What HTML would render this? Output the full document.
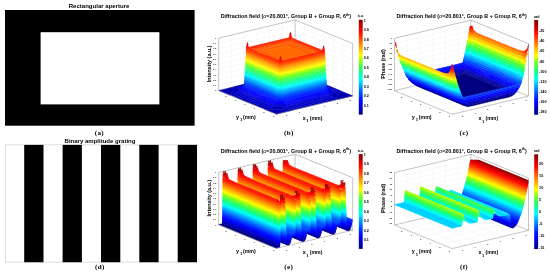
<!DOCTYPE html>
<html><head><meta charset="utf-8"><style>
html,body{margin:0;padding:0;background:#fff;}
body{width:550px;height:276px;position:relative;overflow:hidden;}
</style></head><body>
<svg width="550" height="276" viewBox="0 0 550 276" style="position:absolute;left:0;top:0">
<rect x="5" y="10" width="189.6" height="115.7" fill="#000"/>
<rect x="40.6" y="32.2" width="118.8" height="72.2" fill="#fff"/>
<text x="99.1" y="8.4" font-family="Liberation Sans, Arial, sans-serif" font-weight="bold" font-size="6.04" text-anchor="middle">Rectangular aperture</text>
<text x="99.4" y="134.6" font-family="Liberation Serif, serif" font-weight="bold" font-size="7.1" letter-spacing=".35" text-anchor="middle">(a)</text>
<rect x="5.2" y="144.9" width="191.6" height="117.2" fill="#fff" stroke="#bbb" stroke-width="0.5"/>
<rect x="24.2" y="144.9" width="19.3" height="117.3" fill="#000"/>
<rect x="62.6" y="144.9" width="19.3" height="117.3" fill="#000"/>
<rect x="101" y="144.9" width="19.3" height="117.3" fill="#000"/>
<rect x="139.3" y="144.9" width="19.3" height="117.3" fill="#000"/>
<rect x="177.7" y="144.9" width="19.3" height="117.3" fill="#000"/>
<text x="100" y="142.9" font-family="Liberation Sans, Arial, sans-serif" font-weight="bold" font-size="6.03" text-anchor="middle">Binary amplitude grating</text>
<text x="99.8" y="268.6" font-family="Liberation Serif, serif" font-weight="bold" font-size="7.1" letter-spacing=".35" text-anchor="middle">(d)</text>
<defs><linearGradient id="jetv" x1="0" y1="1" x2="0" y2="0"><stop offset="0" stop-color="#000080"/><stop offset="0.025" stop-color="#000099"/><stop offset="0.05" stop-color="#0000b2"/><stop offset="0.075" stop-color="#0000cc"/><stop offset="0.1" stop-color="#0000e6"/><stop offset="0.125" stop-color="#0000ff"/><stop offset="0.15" stop-color="#000eff"/><stop offset="0.175" stop-color="#0022ff"/><stop offset="0.2" stop-color="#0039ff"/><stop offset="0.225" stop-color="#0051ff"/><stop offset="0.25" stop-color="#006bff"/><stop offset="0.275" stop-color="#0087ff"/><stop offset="0.3" stop-color="#00a3ff"/><stop offset="0.325" stop-color="#00c1ff"/><stop offset="0.35" stop-color="#00e0ff"/><stop offset="0.375" stop-color="#00ffff"/><stop offset="0.4" stop-color="#02ffd7"/><stop offset="0.425" stop-color="#07ffb2"/><stop offset="0.45" stop-color="#12ff90"/><stop offset="0.475" stop-color="#22ff71"/><stop offset="0.5" stop-color="#37ff54"/><stop offset="0.525" stop-color="#53ff3b"/><stop offset="0.55" stop-color="#74ff25"/><stop offset="0.575" stop-color="#9cff13"/><stop offset="0.6" stop-color="#caff06"/><stop offset="0.625" stop-color="#ffff00"/><stop offset="0.65" stop-color="#ffe500"/><stop offset="0.675" stop-color="#ffcc00"/><stop offset="0.7" stop-color="#ffb200"/><stop offset="0.725" stop-color="#ff9900"/><stop offset="0.75" stop-color="#ff8000"/><stop offset="0.775" stop-color="#ff6600"/><stop offset="0.8" stop-color="#ff4c00"/><stop offset="0.825" stop-color="#ff3300"/><stop offset="0.85" stop-color="#ff1900"/><stop offset="0.875" stop-color="#ff0000"/><stop offset="0.9" stop-color="#e50000"/><stop offset="0.925" stop-color="#cc0000"/><stop offset="0.95" stop-color="#b20000"/><stop offset="0.975" stop-color="#990000"/><stop offset="1" stop-color="#800000"/></linearGradient></defs>
<line x1="266.7" y1="110.2" x2="343.1" y2="92" stroke="#ececec" stroke-width="0.3"/>
<line x1="289" y1="111.1" x2="231.4" y2="87.5" stroke="#ececec" stroke-width="0.3"/>
<line x1="231.4" y1="87.5" x2="231.4" y2="35.1" stroke="#ececec" stroke-width="0.3"/>
<line x1="343.1" y1="92" x2="343.1" y2="39.6" stroke="#ececec" stroke-width="0.3"/>
<line x1="257.1" y1="106.2" x2="333.5" y2="88" stroke="#ececec" stroke-width="0.3"/>
<line x1="301.8" y1="108" x2="244.2" y2="84.4" stroke="#ececec" stroke-width="0.3"/>
<line x1="244.2" y1="84.4" x2="244.2" y2="32" stroke="#ececec" stroke-width="0.3"/>
<line x1="333.5" y1="88" x2="333.5" y2="35.6" stroke="#ececec" stroke-width="0.3"/>
<line x1="247.5" y1="102.3" x2="323.9" y2="84.1" stroke="#ececec" stroke-width="0.3"/>
<line x1="314.5" y1="105" x2="256.9" y2="81.4" stroke="#ececec" stroke-width="0.3"/>
<line x1="256.9" y1="81.4" x2="256.9" y2="29" stroke="#ececec" stroke-width="0.3"/>
<line x1="323.9" y1="84.1" x2="323.9" y2="31.7" stroke="#ececec" stroke-width="0.3"/>
<line x1="237.9" y1="98.4" x2="314.3" y2="80.2" stroke="#ececec" stroke-width="0.3"/>
<line x1="327.2" y1="102" x2="269.6" y2="78.4" stroke="#ececec" stroke-width="0.3"/>
<line x1="269.6" y1="78.4" x2="269.6" y2="26" stroke="#ececec" stroke-width="0.3"/>
<line x1="314.3" y1="80.2" x2="314.3" y2="27.8" stroke="#ececec" stroke-width="0.3"/>
<line x1="228.3" y1="94.4" x2="304.7" y2="76.2" stroke="#ececec" stroke-width="0.3"/>
<line x1="340" y1="98.9" x2="282.4" y2="75.3" stroke="#ececec" stroke-width="0.3"/>
<line x1="282.4" y1="75.3" x2="282.4" y2="22.9" stroke="#ececec" stroke-width="0.3"/>
<line x1="304.7" y1="76.2" x2="304.7" y2="23.8" stroke="#ececec" stroke-width="0.3"/>
<line x1="218.7" y1="85.3" x2="295.1" y2="67.1" stroke="#ececec" stroke-width="0.3"/>
<line x1="295.1" y1="67.1" x2="352.7" y2="90.7" stroke="#ececec" stroke-width="0.3"/>
<line x1="218.7" y1="80" x2="295.1" y2="61.8" stroke="#ececec" stroke-width="0.3"/>
<line x1="295.1" y1="61.8" x2="352.7" y2="85.4" stroke="#ececec" stroke-width="0.3"/>
<line x1="218.7" y1="74.8" x2="295.1" y2="56.6" stroke="#ececec" stroke-width="0.3"/>
<line x1="295.1" y1="56.6" x2="352.7" y2="80.2" stroke="#ececec" stroke-width="0.3"/>
<line x1="218.7" y1="69.5" x2="295.1" y2="51.3" stroke="#ececec" stroke-width="0.3"/>
<line x1="295.1" y1="51.3" x2="352.7" y2="74.9" stroke="#ececec" stroke-width="0.3"/>
<line x1="218.7" y1="64.3" x2="295.1" y2="46.1" stroke="#ececec" stroke-width="0.3"/>
<line x1="295.1" y1="46.1" x2="352.7" y2="69.7" stroke="#ececec" stroke-width="0.3"/>
<line x1="218.7" y1="59.1" x2="295.1" y2="40.9" stroke="#ececec" stroke-width="0.3"/>
<line x1="295.1" y1="40.9" x2="352.7" y2="64.5" stroke="#ececec" stroke-width="0.3"/>
<line x1="218.7" y1="53.8" x2="295.1" y2="35.6" stroke="#ececec" stroke-width="0.3"/>
<line x1="295.1" y1="35.6" x2="352.7" y2="59.2" stroke="#ececec" stroke-width="0.3"/>
<line x1="218.7" y1="48.6" x2="295.1" y2="30.4" stroke="#ececec" stroke-width="0.3"/>
<line x1="295.1" y1="30.4" x2="352.7" y2="54" stroke="#ececec" stroke-width="0.3"/>
<line x1="218.7" y1="43.3" x2="295.1" y2="25.1" stroke="#ececec" stroke-width="0.3"/>
<line x1="295.1" y1="25.1" x2="352.7" y2="48.7" stroke="#ececec" stroke-width="0.3"/>
<line x1="295.1" y1="72.3" x2="295.1" y2="19.9" stroke="#888" stroke-width="0.5"/>
<line x1="218.7" y1="90.5" x2="295.1" y2="72.3" stroke="#888" stroke-width="0.5"/>
<line x1="295.1" y1="72.3" x2="352.7" y2="95.9" stroke="#888" stroke-width="0.5"/>
<g stroke-width=".5" fill-rule="evenodd" stroke-linejoin="round">
<path fill="#0000b0" stroke="#0000b0" d="M265.4 109.7l9.2 3.6 1.6 .9 14.6-3.5 -1.9-.9 -2 .5 -1.6-.9 -2.6 .7 -1.6-.9 -1.2 .4 -.8 0 -.8-.3 -1.2 .1 -1-.3 -2.3 .6 -1.6-.8 -2.5 .7 -1.8-.7zM336.4 98.4l2.4 .9 14-3.4 -11.1-4.5 -2.3 .7 1 .3 -.2 .3 -2 .5 1.4 .6 -.3 .3 -1.7 .3 .6 .5 -.6 .9 -.8 .1 1.5 .8 -2 .6 1.6 .8zM234.7 87.8l-2.1-.6 -.9 .4 -.8 0 -2.3 .7 -.8 0 -.9 .4 -8.1 1.9 10.1 4.1 2.5-.8 -.8-.3 .2-.3 2.1-.5 -1.5-.6 .3-.3 1.7-.3 -.6-.5 .9-1 -.8-.2 -.1-.2 1.6-.5 -1.6-.8z"/>
<path fill="#0000b8" stroke="#0000b8" d="M229.1 94.8l4.5 1.5 8.8 3.9 14.3 5.6 3.5 1.6 .5 0 2.1 .9 2.4 1.3 2.7-.8 1.4 .6 2.9-.6 1.6 .8 2.3-.7 1 .4 1.2-.1 .8 .2 .8 0 1.2-.3 1.6 .8 2.4-.6 1.8 .9 2-.5 2 1 3.2-1 2.2-.4 .9-.4 2.2-.3 30.3-7.4 .7 0 2.4-.8 .8 0 3.1-.8 1.6-.3 -2-.9 1.5-.3 -1.5-.7 0-.3 1.9-.4 -1.5-.8 .9-.2 .5-.8 -.7-.5 .3-.2 1.7-.4 -1.3-.6 .2-.3 2-.5 -1-.3 .3-.3 2.1-.5 -15.1-6.2 .2 1.5 6 2.5 .5 0 5 2.2 -2.5 .4 .4 .4 -1.9 .3 -2.5 1.2 -.5 .5 .3 .1 -.4 .4 .2 .1 -.6 .5 .1 .4 2.7 1.7 -.4 .1 1.7 .9 0 .3 -44.5 10.6 -.5 0 -1.7-1.1 -.8 .5 -1.8-1 -.7 .1 -1.3-.5 -1.9-.3 -3.4 .2 -.5-.4 -.9 .2 -1.5-.1 -2.5 .5 -.3-.2 -2.2 .8 -.8-.6 -2.5 1 -5.8-2.5 -18.2-7.2 -1.7-.9 -2.8-1 -4.2-1.9 -1.7-.6 .2-.3 2.2-.6 0-.2 2.6-1 1.9-1.3 .6-.9 -1.5-1.5 -.8-.1 -.2-.2 .4-.3 -1.9-.4 0-.2 7.2-1.8 .4-.2 .3-.9 -5.7 1.3 -.8 .3 -.8 0 -3.7 1.2 1.7 .7 -.2 .3 -1.7 .3 1.7 .8 -1.7 .5 .9 .4 -.9 1 .7 .5 -.3 .2 -1.7 .4 1.5 .6 -2.4 .8 .9 .3 -.3 .3z"/>
<path fill="#0000c0" stroke="#0000c0" d="M269.9 107.4l.5 .4 2.2-.9 .3 .3 2.5-.5 1.5 .1 .9-.2 .5 .3 3.4-.1 1.9 .3 1.3 .5 .7-.2 1.8 1 .5-.3 -1.6-1.3 -.4 .4 -.5 0 -.2-.3 -.9 0 -1.7-.7 -.9 0 -.4-.3 -.6 .2 -.3-.3 -1.1 .1 -.4-.2 -1.3 .4 -.8-.2 -.5 .3 -1.1 0 -.4 .2 -.5-.1 -1.2 .4 -.7 0 -.3-.4zM334.9 98.4l-1.7-.8 0-.3 .5 .1 -2-1.2 1.2 1 0 .2 -4.5 .9 -2.3 .8 -1.3 .1 -23.7 5.6 -12.8 3.3 1.6 1 .5 0zM232.8 94.2l1.6 .5 4.2 1.9 2.8 1 1.7 .8 2.2 .8 21.8 9 2.5-1 -34-13.9 0-.2 .8-.4 -1.3 .5 0 .2zM326.8 86.7l.1 .6 .7 .9 3.1 1.1 5 2.3 -2.3 .1 .3 .4 -1.8 .7 -.2-.1 -.1 .2 -.3-.1 0 .3 -.6 0 -1.4 .7 1.5 1.8 -.1-.4 .6-.5 -.2-.1 .3-.4 -.2-.1 .6-.7 2.5-1.1 1.8-.2 -.4-.4 2.5-.4zM243.6 85.4l-7.4 1.9 2 .5 -.4 .3 .9 .2 .6 .8 .4 .1 .6 .7 -.6 .8 1.4-1.4 -1.9-1.2 .2-.3 -1-.2 .7-.4 3.2-.6z"/>
<path fill="#0000c8" stroke="#0000c8" d="M235.6 93.2l22.3 9 3.8 1.7 7.1 2.8 1 .6 2.3-1.1 .3 .4 .7 0 1.2-.4 .5 .1 .4-.2 1.1 0 .5-.3 .8 .1 1.3-.3 .4 .2 1.1-.1 .3 .2 .6-.1 .4 .3 .9 0 .2 .2 .1-.1 1.4 .6 .9 0 .2 .3 .5 0 .4-.4 1.8 1.4 .7-.4 6.3-1.4 3.3-1 26.4-6.2 1.3-.2 2.3-.7 4.5-.9 -1.3-1.1 -.2 .1 -.5-.6 0 .4 -4.2 .8 -.9 .4 -39.9 9.4 -.2-.4 -.6 .1 -.3-.2 -.2 .1 -4.5-1.2 -1 0 -.3 .2 -.7-.1 -.8 .4 -.1-.3 -1.3 .4 -.5-.1 -.8 .3 -.2-.2 -.6 .2 -.9-.1 -.3 .3 -.7 0 -.5-.4 -19.3-7.8 -14.2-6zM327.7 88.3l1.4 1.4 1.6 .5 2.5 1.2 -.9 .7 -.2-.2 0 .3 -.3-.1 -.1 .2 -.3-.1 0 .2 -.2-.1 -.3 .3 -.5 0 0 .2 -.2-.1 -.1 .2 -.3-.1 -.1 .3 -.3-.2 -.6 .3 .4 .6 1.5-.9 .6 0 0-.2 .3 .1 .1-.2 .2 .1 1.7-.6 -.3-.3 .1-.2 2.2 0zM242.4 86.6l-3.8 1 1 .2 -.3 .3 1.9 1.2 .2-.5 -.6-.2 0-.3 -1-.6 .5-.5 1-.1z"/>
<path fill="#0000d0" stroke="#0000d0" d="M238.1 91.9l14 5.9 14.2 5.6 5.6 2.5 .7 0 .3-.2 .9 .1 .6-.2 .2 .2 .8-.4 .5 .2 1.3-.4 .1 .2 .8-.3 .7 .1 .3-.3 1 0 4.5 1.3 .2-.1 .3 .2 .6-.1 .2 .4 45-10.7 -.6-.7 -.4 0 .3 .2 -1.8 .4 -.8 .4 -5 1 -4.9 1.4 -31.3 7.3 -.5-.2 -.3 .2 -.4-.2 -.3 .1 -.2-.2 -.1 .2 -.3-.4 -.1 .3 -.8-.4 -.1 .3 -.2-.4 -.2 .2 -.6-.3 -.1 .2 -.3-.4 -.1 .3 -.2-.4 -1-.2 -2.2 0 -.8 .3 -.5-.1 -1.3 .4 -1.1-.1 -.9 .3 -.1-.2 -.4 .2 -.4-.2 -.3 .2 -15.8-6.3 -3.6-1.8 -9.4-3.6 -4.1-1.9 -.9-.2 .4-.3zM328.4 92.8l.3 .4 .7-.4 .3 .1 .1-.2 .3 .1 .1-.2 .2 .1 0-.3 .5 0 .3-.2 .2 .1 .4-.4 .3 .2 1-.7 -3.9-1.6 2.6 1.1 .3 .4 -.3 .4 -.2-.1 -.4 .3 -.3-.1 -.3 .4 -.3-.1 -.1 .2 -.3-.1 0 .2 -.2-.1 -.1 .3 -.9 0zM240.1 87.4l-.2 .3 .9 .5 0 .2 .8 .4 .2-.2 -1-.8 .1-.1 -.2 0 .2-.5z"/>
<path fill="#0000d8" stroke="#0000d8" d="M331.9 91.3l-1-.6 .3 .4 -.3 0 0 .2 -.2-.1 -.3 .5 -.6 0 0 .2 -.2-.1 -.5 .4 -.5-.1 -.4 .3 .2 .3 .3-.3 .5 .2 .1-.3 .6 0 0-.2 .7 0 .1-.3 .5 0zM238.9 91.6l.8 .1 4.1 1.9 9.4 3.6 3.6 1.7 15.8 6.4 .3-.2 .4 .2 .4-.2 .1 .2 .9-.4 1.1 .2 .4-.3 1.4 0 .8-.4 2.2 0 1 .3 .2 .4 .1-.3 .3 .4 .1-.3 .6 .4 .2-.2 .2 .3 .1-.2 .8 .4 .1-.3 .3 .4 .1-.3 .9 .4 .2-.2 .6 .2 2.8-.6 .9-.4 27.6-6.4 4.9-1.3 5-1 .3-.3 2.2-.4 -.3-.2 .4-.1 -.5-.5 -.4 0 0 .3 -2.6 .5 -.9 .4 -4 .8 -15.7 3.7 -4.4 1.3 -8.3 2 -2.3 .3 -.9 .4 -.8 0 -3.6 1 -.4-.4 -.5 .4 -.2-.4 -.3 .3 -.2-.4 -.1 .3 -.5 0 -.7-.5 -.2 .2 -1.3-.6 -1.6-.3 -1.6 .2 -.6 .3 -.7-.1 -.3 .4 -.2-.4 -.3 .4 -.2-.3 -.6 .4 -.4-.4 -.8 .4 -.4-.4 -.4 .4 -33.6-13.9 .2-.2zM241.1 87.2l-.3 .5 1.1 .7 .2-.2 -.5-.4 .1-.2z"/>
<path fill="#0000e0" stroke="#0000e0" d="M331.1 90.8l-.2 .1 -.5-.3 .2 .2 -.4 .4 -.3-.1 0 .2 -.2-.1 -.4 .4 -.2-.2 -.4 .4 -.3-.1 -.1 .2 -.4 0 .2 .3 .3 0 .2-.3 .5 .2 .1-.3 .6 0 0-.2 .6 0 .3-.5 .2 .1zM239.8 90.7l.3 .4 19.8 8 1.7 .8 11.7 4.8 .4-.4 .4 .4 .8-.4 .4 .4 .6-.4 .2 .3 .3-.4 .2 .4 .3-.4 .7 .1 .6-.4 1.6-.1 1.6 .3 1.3 .6 .2-.3 .7 .5 .5 0 .1-.2 .2 .4 .3-.3 .2 .4 .5-.4 .4 .4 3.6-1 .8 0 .9-.4 7.6-1.6 7.4-2 15.7-3.8 4-.7 .9-.4 2.6-.5 -.1-.2 .4-.2 -.7-.6 0 .4 -10.2 2.2 -7.5 2 -18.4 4.4 -2.4 .4 -5.5 1.5 -.2-.4 -.8 0 -.1 .3 -.2-.4 -.3 .2 -1.7-.7 -.5 .1 -.9-.4 -1.6 .2 -.3 .2 -.1-.2 -.4 .3 -.1-.2 -.5 0 -.8 .5 -.1-.4 -.4 .4 -.1-.4 -.4 .4 -.1-.3 -.2 .3 -.5-.3 -.4 .3 -11.5-4.9 -14.3-5.6 -1.6-.9 -1.7-.5 -4.2-1.9 -.6-.1 .3-.2 -.7 .7zM241.8 86.9l-.5 .4 .9 .8 .1-.4z"/>
<path fill="#0000e8" stroke="#0000e8" d="M330.6 90.7l-.2 .1 -.5-.4 -.2 .4 -.5-.1 .1 .2 -.4 0 0 .4 -.6-.1 -.4 .4 -.2-.2 .2 .4 .4 0 .1-.2 .3 .1 .4-.4 .2 .1 .4-.3 .2 .1 0-.3 .3 .2zM240.4 90.3l.5 0 4.2 1.9 1.7 .5 1.6 .9 14.3 5.6 11.5 4.9 .4-.3 .5 .3 .2-.3 .1 .3 .4-.4 .1 .4 .4-.4 .1 .4 .8-.5 .5 0 .1 .2 .4-.4 .1 .3 .3-.3 1.6-.1 .9 .4 .5-.1 1.7 .7 .3-.2 .2 .3 .1-.2 .8 0 .2 .4 5.5-1.5 2.4-.4 18.4-4.4 7.5-2 10.2-2.2 -.1-.7 -.4-.1 -.3 .4 -3.2 .6 -.8 .4 -.8 0 -.9 .4 -37.3 8.8 -.5-.2 -.4 .4 -.4-.4 -.2 .4 -.8-.7 -.1 .4 -.3-.4 -.1 .3 -.6-.5 -.8 .1 -.1-.2 -.5 .1 -.7-.3 -.9 .3 -.6-.1 -.8 .3 -.2-.2 -.3 .2 -.2-.2 -.8 .5 -.2-.4 -.4 .4 -.4-.4 -.2 .3 -3.9-1.8 -.9-.1 -2.6-1.3 -10.3-4 -1.6-.8 -6.2-2.4 -5.3-2.4 -1.7-.5 -1-.6 .1-.1zM242.2 86.8l-.3 .1 0 .4 .2-.1 .2 .4 -.1 .1 .2 0 .4-.5 -.1 .1z"/>
<path fill="#0000f0" stroke="#0000f0" d="M329.8 90.3l-.5-.4 .1 .2 -.6 .3 0 .4 -.2-.1 -.2 .2 -.2-.2 0 .2 -.6 .3 .3 .2 .4-.3 .6 .1 0-.4 .9 0zM241.1 89.6l1 .6 1.7 .5 5.3 2.4 6.2 2.3 1.6 .9 10.3 4 2.6 1.3 .9 .1 3.9 1.7 .2-.2 .4 .4 .4-.4 .2 .4 .8-.5 .2 .2 .3-.2 .2 .2 .8-.4 .6 .2 .9-.3 .7 .3 .5-.2 .1 .3 .8-.1 .6 .5 .1-.3 .3 .4 .1-.4 .8 .6 .2-.3 .4 .3 .4-.3 .5 .2 4.8-1.1 .9-.4 31.6-7.4 .9-.3 3.9-.8 1.4-.6 -.4-.6 0 .3 -.4-.1 -4.2 1.1 -.8 0 -4.5 1.3 -28 6.5 -2.4 .7 -.7 0 -2.9 .8 -.4 .4 -.2-.5 -.4 .2 -.2-.4 -.3 .4 -.2-.4 -.2 .4 -.6-.6 -1 .1 -1.1-.4 -1.4 .2 -.2 .2 -.2-.2 -.7 .3 -.3-.2 -.3 .2 -.2-.2 -.3 .4 -.2-.3 -.5 .3 -.7-.5 -7.1-2.8 -3.8-1.7 -6.2-2.4 -1.7-.9 -9.3-3.6 -4.2-1.9 -1-.2 .3-.3zM242.6 86.6l-.2 .3 .3 .3 .2-.4 -.1 .1z"/>
<path fill="#0000f8" stroke="#0000f8" d="M328.2 92.7l-.4-.8 0 .4 -34.1 8 -4.5 1.3 -3.5 .6 -2 .7 -.3-.5 -.2 .5 .1 .3 .4-.3 .2 .5 .4-.3 2.9-.8 .7 0 2.4-.7zM329.3 90.1l-.2-.3 -.4 .5 -.3-.1 -.3 .4 -.5 0 -.2 .3 1-.1 .2-.2 .2 .1 -.1-.3 .4 0 0-.2 .2 .1zM241.6 89.1l.8 .1 4.2 1.9 9.3 3.6 1.7 .9 6.2 2.3 3.8 1.8 7.1 2.7 .7 .5 .4-.2 .3 .2 .3-.3 .2 .2 .3-.2 .3 .2 .7-.4 .2 .3 .2-.3 1.4-.1 1.1 .4 1-.1 .6 .6 .2-.4 .3 .4 -.1-.8 -.2 .4 -.3-.5 -.1 .3 -.3-.4 -.2 .4 -.5-.4 -1.3 0 -.3-.3 -1.5 .4 -.3-.2 -.7 .3 -.3-.2 -.4 .4 -.2-.4 -.4 .4 -.7-.5 -15.2-6 -1.6-.9 -10.2-4 -5-2.3 -1.3-.2zM242.8 86.3l.1 .8 .3-.5z"/>
<path fill="#0000ff" stroke="#0000ff" d="M328.9 89.7l-.3-.1 0 .3 -.3-.2 -.1 .2 -1 .4 .1 .4 1.1-.6 .5 0zM241.9 88.6l1.2 .2 5 2.3 10.2 4 1.6 .8 15.2 6 .7 .5 .4-.3 .2 .3 .4-.3 .3 .2 .7-.4 .3 .3 1.5-.4 .3 .3 1.3 0 .5 .3 .2-.3 .3 .3 .1-.2 .3 .5 .2-.4 .3 .5 .3-.5 .3 .5 2-.7 3.5-.7 .9-.3 31.6-7.4 5.1-1.4 1.1 0 -.3-.9 0 .4 -1.4 .1 -4 1.2 -.8 0 -14.8 3.5 -7.4 2 -14.9 3.3 -.7 .4 -.4-.5 -.5 .5 -.6-.5 -.3 .4 -.1-.3 -.5 0 -.3-.2 -.3 .1 -.3-.2 -2.2 .1 -.2 .2 -.2-.2 .1-.1 -.4 .5 -.2-.4 -.4 .2 -.2-.3 -.4 .5 -1.1-.8 -.9-.1 -5.6-2.5 -6.3-2.4 -1.6-.9 -10.3-4 -2.8-1.3 -1.2-.3 -3.2-1.5 -.9-.2zM243.2 86.1l-.3 .3 .2 .2 .2-.2z"/>
<path fill="#0004ff" stroke="#0004ff" d="M276.7 101.6l.1 .2 .4-.2 .2 .3 .3-.3 .2 .2 .2-.2 2.2-.2 .3 .3 .3-.1 .3 .2 .5 0 .1 .3 .3-.4 .6 .5 .4-.4 -.3-.5 -.4 .5 -.2-.5 -.3 .4 -.3-.4 -1.2 0 -.1-.2 -1.5 0 -1 .3 -.1-.3 -.4 .5 -.2-.5zM327.7 91.8l-.3-.4 .2-.1 -1-.1 -8.2 2.1 -27.3 6.5 -1.3 .1 -2.4 .8 -3.3 .6 -.7 .3 -.1 .3 .3 .3 .7-.4 14.9-3.4 7.4-2 14.8-3.5 .8 0 4-1.1zM328.7 89.6l-.5-.4 -.4 .5 -.2-.1 -.5 .5 .2 .1 .8-.5 .2 .2 -.1-.2 .1-.1 .3 .2zM242.4 87.9l18.3 7.4 1.6 .9 6.3 2.4 5.6 2.5 .9 .1 1.1 .7 .2-.3 -.3-.5 -27.3-11 -5.7-2.5zM243.6 85.6l.1 .1 -.1-.1 -.3 .3 .1 .3z"/>
<path fill="#0009ff" stroke="#0009ff" d="M277.2 100.9l.1 .5 .4-.5 .1 .4 1-.4 1.5 0 .1 .3 1.2 0 .3 .4 .3-.4 .2 .5 .3-.4 -.3-.5 -1.2 .1 -.1-.2 -.2 .2 -.3-.2 .1-.1 -.6 .2 0-.2 -.4 .2 -.4-.2 -1.6 .3 -.3-.3zM327.4 91.2l-.2-.6 -1.6 .1 -2.4 .7 -.8 0 -.8 .4 -2.4 .4 -15.8 3.7 -6.3 1.8 -14 3.2 -.2 .5 .3 .3 .9-.5 3.3-.6 2.4-.8 1.3-.1 27.3-6.5 8.2-2.1zM328.3 89.2l-.5-.4 -.7 .6 -.2 .4 .7-.4 .2 .2 .1-.4 .3 .2 -.1-.2zM242.7 87.6l.4-.2 5.7 2.5 14.3 5.7 1.6 .8 11.4 4.5 .5 .5 .3-.3 -.3-.5 -23.4-9.5 -9-3.9 -1-.3z"/>
<path fill="#000eff" stroke="#000eff" d="M276.7 100.6l.4 .3 .3-.5 .3 .4 1.6-.4 .4 .3 .4-.3 0 .3 .5-.1 .3 .2 .2-.2 .1 .2 1.2-.1 .3 .5 .6-.5 -.2-.5 -.8 .5 -.1-.3 -1 0 -.3-.2 -.2 .2 -.1-.2 -.4 .1 -.8-.2 -.5 .2 -1.2-.1 -.1 .2 -.5-.5zM326.4 89.8l.2 .5 .5 .3 -.2-.7zM327.9 88.8l-.5-.2 -.6 1 1-.9zM243.7 86.3l-.6 .6 .3-.1z"/>
<path fill="#0014ff" stroke="#0014ff" d="M327.3 88.1l-.7 1.7 .2 0 -.1-.4 .2-.5 .7-.5zM243.4 86.3l.4 0 -.4 .6 1.4 .4 8.4 3.6 14.2 5.7 1.7 .8 3.5 1.3 4.1 1.7 .4-.6 .5 .5 .1-.2 1.2 .1 .5-.3 .8 .3 .4-.1 .1 .2 .2-.2 .3 .2 1 0 .1 .3 .8-.5 .3 .6 3.4-.9 10.3-2.2 6.3-1.8 23.2-5.4 -.3-.6 -1.7 .3 -2.5 .7 -.8 0 -.9 .4 -31.6 7.4 -.9 .3 -2.2 .4 -2.9 .9 -.2-.4 -.3 .3 -3.1-.4 -1.8 0 -.2 .2 -4.8-2.1 -22.7-9.1 -5-2.3 -.8-.1 -.3-.2 .1-.2z"/>
<path fill="#001aff" stroke="#001aff" d="M243.7 85.8l.2 .4 .8 .1 5 2.3 6.2 2.3 21.3 8.9 .2-.2 1.8 0 1 .2 1.1-.1 .3 .2 .7 0 .3-.2 .2 .4 2.9-.9 34.7-8.1 .9-.4 .8 0 3.6-1 .9 0 -.2-.3 .8-1.6 -.3 .1 -.2 .9 -.5 .4 -23.4 5.4 -4.4 1.2 -8.2 2 -2.4 .4 -4 1.1 -1.9 .3 -1.8-.5 -1.4 .1 -.1 .2 -1.3-.1 -2.2-1.1 -.5 0 -12.4-5.3 -10.3-4 -3.1-1.5 -1.7-.5 -3.2-1.3z"/>
<path fill="#0021ff" stroke="#0021ff" d="M243.9 85.3l.2 .3 3 1.2 1.7 .5 3.1 1.5 10.3 4 12.4 5.3 .5 0 2.2 1.1 1.3 .1 .1-.2 1.4-.2 1.2 .3 0 .2 2.5-.2 4-1.1 7.6-1.7 7.4-2 23.4-5.3 .4-.3 .5-1.1 -.2-.3 -.6 1.2 -3.9 1 -9.2 2 -7.4 2 -15.7 3.7 -2.4 .4 -.9 .4 -.7 0 -2.4 .7 -2.3 .3 -.8-.3 -.3 .1 -.1-.2 -1 .2 -.3-.1 .2-.1 -.5 .2 -1-.1 -7.3-3.1 -10.2-4 -1.7-.9 -9.3-3.6 -5-2.3z"/>
<path fill="#0027ff" stroke="#0027ff" d="M244.1 84.8l5 2.3 9.3 3.6 1.7 .9 10.2 4 6.3 2.7 1.8 .5 1.8-.2 .1 .2 .3-.1 .8 .2 2.3-.2 2.4-.8 .7 0 .9-.3 2.4-.4 15.7-3.8 7.4-2 9.2-2 3.9-1 .5-.7 0-.6 -.4 .8 -1.3 .5 -2.3 .4 -.9 .4 -2.2 .4 -29.8 7.2 -1.2 .1 -4 1.2 -2.6 .5 -1 0 -.3-.3 -1.4 .1 -.1-.2 -.4 .4 -.1-.3 -1.2 0 -3.9-1.7 -7.5-2.9 -1.6-.9 -14.3-5.6 -4.4-2 -1.3-.4 -.2-.2z"/>
<path fill="#002eff" stroke="#002eff" d="M244.2 84.1l0 .3 .4 .3 1.3 .4 4.4 2 14.3 5.6 1.6 .9 7.5 2.8 3.9 1.8 1.2 0 .1 .2 .4-.3 0 .3 .4-.2 2.4 .2 2.6-.5 4-1.1 1.2-.1 29.8-7.3 2.2-.3 .9-.4 2.3-.4 1.3-.5 .3-.7 -.3 .5 -2.2 .6 -.8 0 -2.3 .7 -.8 0 -1.4 .5 -27 6.3 -9.3 2.4 -2.2 0 -.6-.3 -.4 .3 0-.4 -1 .4z"/>
<path fill="#0036ff" stroke="#0036ff" d="M244.3 83.6l0 .5 .1-.2 3.2 1.5 .8 .2 4 1.8 26 10.5 .3-.2 .2 .2 0-.2 .3 .1 .2-.2 0 .3 .4-.2 .6 .2 2.2 0 9.3-2.3 34.5-8.2 .3-.5 -.1-.5 -.4 .5 .1 .2 -.5 .2 -.5-.1 -2 .6 -.7 0 -6.5 1.8 -33.9 8 -1.4 0 -.2-.3 -.2 .3 -.8 0 -.2-.3 -.1 .3 -.1-.3 -.1 .3 -.8 0 -.1-.3 -.1 .3 -.9-.7 -6.8-2.6 -5.6-2.5z"/>
<path fill="#003dff" stroke="#003dff" d="M244.3 83.3l.4 .3 -.1 .1 1.6 .4 4.4 2 27.3 11.1 .2 .2 .1-.2 .1 .2 .8 0 .1-.2 .1 .2 .1-.2 .2 .2 .8 0 .2-.2 .2 .2 1.4 0 2.7-.6 .9-.4 1.8-.2 28.5-6.8 3.3-1 .8 0 2.4-.7 .7 0 2-.6 .5 .1 .4-.1 -.1-.2 .3-.2 -.2-.1 .4-.4 -.8 .6 -.5-.1 -9.4 2.4 -30.6 7.1 -3.2 1 -.5 0 -.2-.3 -.8 0 -.2 .3 -.2-.3 -.6 .3 -.2-.3 -.3 .3 -.2-.4 -.1 .4 -5.4-2.4 -.8-.1 -7.8-3.4 -2.2-.7 -1.7-.9 -10.2-4 -4.1-1.9 -2-.6z"/>
<path fill="#0045ff" stroke="#0045ff" d="M244.3 82.8l.1 .4 .2-.1 2 .6 4.1 1.9 10.2 4 1.7 .8 2.2 .8 7.8 3.4 .8 .1 5.4 2.4 .1-.4 .3 .2 -.1 .2 .3-.3 .2 .3 .2-.3 .6 .3 .2-.3 1.5 .3 3.2-1 30.6-7.2 9.4-2.3 .5 .1 .4-.4 .4 0 0-.6 -.8 .6 -.2-.1 -.5 .4 -.7 0 -2.3 .7 -4 .8 -10 2.6 -22.4 5.1 -3.4 .9 -.1-.3 -1.3 .3 -.1-.3 -.2 .4 -.4-.4 -.6 .3 -1.7-.1 -13-5.5 -14.2-5.7 -4.4-2 -1.4-.3 -.1-.4z"/>
<path fill="#004dff" stroke="#004dff" d="M244.4 82.2l0 .4 .4 0 .1 .3 1.4 .4 4.4 2 14.2 5.6 13 5.5 1.7 .2 .6-.3 .4 .4 .2-.4 .1 .3 1.3-.3 .1 .3 3.4-.9 22.4-5.1 10-2.7 4-.7 .8-.4 2.2-.4 .5-.3 .6 .1 -.1-.1 .5-.5 0-.3 -.3 0 .1 .1 -.3 .2 .3 .1 -.5 .2 -.1-.2 -.1 .2 -2.5 .4 -2.4 .8 -.7 0 -1.4 .5 -27 6.2 -9.4 2.4 -1 0 -.5-.3 .1 .2 -.2 .1 -.1-.3 -.2 .3 -.3-.4 -.5 .5 -.3-.4 -.1 .4 -.4-.2 -.2 .1 -.2-.3 -.1 .3 -4.7-2.1 -10.9-4.3 -3.6-1.7z"/>
<path fill="#0055ff" stroke="#0055ff" d="M326.6 85.2l-.3-.3 -.2 .4 -.4-.1 -.1 .2 -33.9 7.9 -9.6 2.5 -.3-.2 -.4 .2 -.1-.2 -.5 0 -.2 .2 -.4-.5 0 .5 .2 .3 .2-.3 .1 .3 2.9-.3 8.1-2.1 27-6.3 1.4-.5 .7 0 2.4-.7 2.5-.4 .1-.2 .1 .2 .4-.1 -.4-.1zM244.4 81.6l0 .5 .4 .2 .8 .1 4.1 1.9 9.4 3.6 3.6 1.8 10.9 4.2 4.7 2.2 .1-.3 .2 .3 .2-.2 .4 .3 .1-.4 .3 .4 .2-.4 0-.4 -.2 .3 -.5-.3 -.2 .4 -.1-.4 -.2 .4 -.2-.4 -.1 .3 -4.1-1.9 -3.5-1.2 -1.6-.9 -18.3-7.3 -5.7-2.5 -.3 .2z"/>
<path fill="#005dff" stroke="#005dff" d="M279.8 94.9l-.2 .4 -.3-.2 .1 .5 .3-.2zM326.4 84.8l-.6 .1 -.1-.2 -.1 .4 -3.7 .6 -2.3 .7 -.8 0 -3 .9 -27.9 6.5 -.8 .4 -3.9 .7 -1.3 .5 -.1-.3 -.2 .3 -.4-.3 -.6 .2 -.3-.4 0 .5 .3 .3 .2-.3 .5 0 .1 .3 .4-.3 .3 .3 3.8-1.1 2.3-.4 29.7-7.3 1.3-.1 .9-.4 1.8-.2 3-.9 .8 .1 0-.3 .4 .1 0-.3zM244.6 81.1l.1 .2 -.3 .1 .4 .5 .3-.1 5.7 2.5 18.3 7.3 1.6 .8 3.5 1.3 4.1 1.9 .1-.3 .2 .4 .1-.3 -.3-.5 -.1 .4 -1.1-.7 -1.1-.3 -26.7-11.1 -4.5-1.6z"/>
<path fill="#0065ff" stroke="#0065ff" d="M280.1 94.7l-.3 .6 .4-.1zM280.4 94.6l.2 .6 .6-.3 .4 .4 .1-.6 -.4 .2 -.1-.2 -.5 .1 0-.2zM278.6 94.6l0 .5 .2 .2 .4 0 .1-.4 .3 .3 -.2-.5 -.1 .2 -.4-.3 -.2 .3zM326.4 84.2l-.6 .4 -.1-.3 -.1 .4 -.8-.1 -33.2 7.8 -6.5 1.8 -.8 0 -.9 .4 -1.1 .1 -.4 .2 0 .4 1.3-.5 3.9-.7 .8-.4 27.9-6.5 3-.9 .8 0 2.3-.7 3.7-.7 .1-.3 .1 .2 .6-.1zM244.6 80.6l.1 .8 0-.3 .2 .3 4.5 1.7 26.7 11.1 1.1 .2 1.1 .8 0-.4 -.5-.4 -26.9-10.8 -5-2.3 -1-.1z"/>
<path fill="#006dff" stroke="#006dff" d="M326.4 83.6l-.3 .1 0 .4 -.4-.3 -.1 .4 -.8-.1 -1 .3 -.7 0 -4.5 1.3 -34.3 8 -2.4 .7 -.3-.2 -.2 .4 -.1-.4 -.1 .1 -.4-.2 -.2 .2 -.2-.2 -.1 .2 -.4-.1 -.2 .6 -.3-.7 -.3 .5 .2 .2 .1-.2 .3 .3 .4-.3 .2 .2 .1-.4 .3 .3 .5-.1 .1 .2 .4-.2 .1 .3 .5-.3 2.8-.5 2.3-.8 .8 0 .9-.4 35.7-8.5 .8 .2 .1-.4 .1 .2 .6-.3zM244.6 80.3l0 .6 .1-.2 .2 .4 1 .1 5 2.2 26.9 10.9 .6 .5 .2-.4 .1 .4 .1-.1 -.1-.4 -23.8-9.6 -8.3-3.6 -1.7-.4z"/>
<path fill="#0076ff" stroke="#0076ff" d="M325.9 83.4l-.1 .5 .3 0zM244.6 80.2l.3 .4 1.7 .3 8.3 3.7 20.9 8.3 3.1 1.5 .4-.2 .1-.5 .3 .7 .2-.3 .4 .1 .1-.3 .2 .3 .2-.3 .4 .3 .1-.1 .1 .3 .2-.3 .3 .2 2.4-.7 34.3-8 4.5-1.3 .7 0 1-.4 .8 .2 -.2-.5 -.8 0 -.4 .2 -5 1 -27.1 6.6 -7 1.5 -.9 .4 -1.6 .3 -.9 .5 -.1-.4 -.4 .4 -.1-.4 -.2 .2 -.1-.2 -.4 .2 -.2-.3 -.5 .3 -.3-.2 -.8 .2 -.5-.5 -1.7-.7 -1.1-.3 -4.1-1.8 -10.3-4 -12.2-5.3 -.5 0 -2.8-1.2z"/>
<path fill="#007fff" stroke="#007fff" d="M282.1 93.2l-.4 .2 0 .5 .4-.2zM278.4 93.2l-.1 .4 .5 .2 0-.6 -.1 .4zM280.3 93.1l.1 .7 .4-.2 .1 .2 .2-.2 .1 .3 .2-.2 0-.4 -.1 .3 -.1-.3 -.5 .1 -.1-.2 -.2 .2zM279.8 93.1l-.1 .3 -.1-.2 -.2 .7 .4-.3zM325.3 82.9l0 .5 .4 .3 .2-.4 .2 .3 .2-.2 -.1-.5 .1 .3 -.1 .1 -.4-.2 -.1 .5 -.1-.5zM244.7 79.3l.1 .5 -.2 .1 .6 0 0-.5 -.3 .3z"/>
<path fill="#0087ff" stroke="#0087ff" d="M280.1 92.8l-.2 .6 .3 0zM280.4 92.7l0 .6 .2-.2 .1 .2 .5-.1 .1 .2 .1-.2 .2 .4 .1-.8 -.3 .4 -.1-.4 -.2 .3 -.3-.4 -.1 .4zM279.3 92.7l-.1 .4 -.3-.3 .2 .8 .3 0zM325.2 82.9l-3.4 .7 -2.4 .7 -.7 0 -30.3 7.4 -2.2 .4 -.9 .3 -3.1 .7 0 .5 33.5-7.9 3.5-1 5-1 .4-.3 .6 0zM325.6 82.4l.1 .8 .1-.3 .5 0 0-.5 -.1 .4 -.3-.2 -.2 .1zM245.3 79.4l0 .5 2.9 1.3 .5 0 4.4 2 18.1 7.2 4.1 1.9 .5 0 2.4 1.1 .1-.3 -.7-.5 -.8-.2 -5.6-2.5 -2.3-.7 -5.6-2.5zM244.7 79.1l0 .5 .2 0 0-.4z"/>
<path fill="#0090ff" stroke="#0090ff" d="M279.2 92.4l-.1 .3 -.3-.3 0 .7 .1-.4 .3 .2zM325.4 82.4l-.5-.2 -2 .6 -.7 0 -6.5 1.8 -32.3 7.5 -1.7 .6 -.1-.4 -1 .1 -.2-.2 -.1 .4 -.2-.4 -.3 .2 -.1-.2 0 .5 -.3 0 .2 .4 .5-.4 .2 .2 .1-.3 .3 .3 .1-.3 .3 .3 .2-.2 .1 .4 .3-.4 .1 .5 1.3-.5 2.2-.4 .9-.4 2.2-.3 30.3-7.4 .7 0 2.4-.8 3.6-.6zM326.3 81.6l-.6 .5 0 .5 .5 0zM326.1 81.9l.1 .4 -.3 .1 -.1-.2zM244.7 78.8l.4 .6 .7 0 3.3 1.5 1.1 .3 2.9 1.4 10.2 4 1.6 .8 6.3 2.4 5.6 2.5 .8 .1 1 .8 0-.6 -2.7-1.4 -1.1-.3 -7.5-3.2 -14.2-5.6 -4.9-2.3 -2.8-1 -.3 .1 -.2-.3z"/>
<path fill="#0099ff" stroke="#0099ff" d="M279.6 91.9l-.3 .7 .3 0zM282.1 92.3l-.2-.5 -.3 .4 -.2-.3 -.2 .4 -.1-.2 -.5-.2 0 .4 1-.1 .1 .4zM278.4 91.7l0 .6 .3 .4 .1-.4 .3 .3 -.2-.5 -.1 .1zM325.2 81.6l0 .6 .4 .1 .2-.4 -.1-.2 -.1 .1zM244.7 77.9l.4 .4 0 .5 .2-.1 0-.6 -.2 .2z"/>
<path fill="#00a2ff" stroke="#00a2ff" d="M279.9 91.6l0 .6 .3 0 0-.6zM280.4 91.4l0 .7 .4-.3 .4 .4 .5-.4 -.1-.4 -.3 .5 -.1-.5 -.3 .3 -.3 0zM278.7 91.4l0 .5 .5 .4 .2-.2 0-.7 -.5 .5zM325.1 81.6l-40.5 9.5 -.9 .3 -1.6 .3 0 .5 .2 .1 3.4-.7 2.5-.8 27.5-6.4 3.4-1 .7 0 2.4-.7 .7 0 2.2-.6zM325.4 81.1l.2 .6 .6 .1 0-.2 -.1 .1 -.2-.4 -.2 .3zM245.4 78.1l.2 .7 2.6 .9 4.9 2.2 2.2 .8 23 9.5 0-.6 -2-.8 -5-2.2 -2.2-.8zM245.1 77.8l-.2 .5 -.2-.2 .1 .3z"/>
<path fill="#00acff" stroke="#00acff" d="M279.6 91.8l.3-.4 .4 .3 .1-.4 .2 .3 .5-.2 -.2-.5 -.1 .3 -.4-.3 -.1 .3 -.2-.4 -.3 .4 -.1-.3zM325.4 80.9l-1 0 -.3 .3 -3.9 .7 -.9 .4 -31.6 7.4 -.9 .4 -3.9 .7 -1.3 .5 .1 .4 2-.4 .9-.4 34.7-8.1 .9-.4 .7 0 3.7-1 .8 .2zM326.2 80.6l-.3 .2 -.1-.2 -.2 .6 .1 .2 .1-.2 .4 .1zM244.7 77.8l.2 .1 .2-.2 .1 .4 .6 0 4.3 1.8 1.3 .4 9.7 4.1 16.8 6.8 .7 .5 .1-.4 .2 .5 .2-.1 -.2-.6 -.1 .3 -.5-.5 -11.2-4.5 -21.2-8.8 -.7-.2 -.1 .3 -.2-.3z"/>
<path fill="#00b5ff" stroke="#00b5ff" d="M279.1 90.6l0 .7 .5 .1 -.3-.6 -.1 .3zM326.1 80.2l-.2 .5 0-.3 .3 0zM325.7 80.1l-.1 .3 -.2-.2 -.1 .6 -3.1 .5 -.9 .4 -33.2 7.7 -6.2 1.7 -.2-.2 0-.5 -.4 .5 -.1-.5 -.1 .3 -.2-.3 -.1 .3 -.4 0 -.1-.3 0 .7 .1-.3 .2 .3 .3-.3 .3 .5 0-.2 .2 0 0 .3 .3-.3 .1 .1 1.1-.5 3.9-.8 .9-.3 31.6-7.4 .9-.4 3.9-.7 .3-.3 1 0 .2 .3zM245.3 77.3l33 13.5 .5 .5 0-.7 -.2 .5 -.8-.7 -1.7-.5 -4.8-2.1 -6.2-2.4 -1.7-.8 -10.2-4 -3.1-1.5 -1.2-.3zM245.2 76.7l-.1 .2 -.2-.2 -.1 .7 .1-.1 .2 .3z"/>
<path fill="#00beff" stroke="#00beff" d="M280.4 90.1l0 .5 .4 0 .1-.3 .2 .3 -.2-.5 -.1 .2zM280.1 90.1l-.2 .7 .3 0zM279.3 90.1l-.1 .8 .1-.2 .3 .2 .1-.3zM325.3 80.1l-.7-.2 -2.5 .8 -.8 0 -.9 .4 -38.3 9 -.4 .2 .1 .6 33.8-8 3.5-1 2.2-.3 .9-.4 3.1-.5zM245.3 76.6l-.1 .7 .7 0 3 1.4 1.2 .2 3.1 1.5 10.2 4 1.7 .9 6.2 2.4 4.8 2.1 1.7 .5 .8 .6 .1-.2 -.1-.6 -4.3-1.9 -3.2-1.1 -1.7-.9 -14.2-5.6 -8.4-3.7zM245.1 76.3l-.2-.1 -.1 .2z"/>
<path fill="#00c8ff" stroke="#00c8ff" d="M281.7 89.6l-.3 .2 .2 .6zM279.9 89.6l-.1 .2 -.1-.2 .1 .8zM280.2 89.4l.1 .9 .1-.4 .2 .3 .3-.3 .3 .4 0-.7 -.4 0 -.2 .3zM325.7 79.3l0 .6 .2 .3 .2-.5zM245.2 75.9l0 .5 -.4 .2 .3 .2z"/>
<path fill="#00d1ff" stroke="#00d1ff" d="M279.2 89.2l0 .6 .4 .3zM280.3 88.9l.3 .9 .5-.5 -.2-.1 -.3 .2zM325.2 79.2l-.8-.1 -4 1.1 -.7 0 -1.4 .5 -27 6.2 -3.4 1 -5 1 -1.1 .4 0 .8 38.6-9.2 .9-.3 3.9-.8zM325.8 78.8l.3 .6 0-.6zM245.3 75.7l0 .7 1.5 .4 8.4 3.6 14.2 5.7 1.7 .8 3.2 1.2 4.1 1.8 .3-.1 0-.5 -1.4-.7 -18.1-7.3 -1.6-.9 -6.3-2.3 -4.1-1.9zM245.1 75.6l-.3 .6 .3 0z"/>
<path fill="#00dbff" stroke="#00dbff" d="M280.4 88.7l0 .5 .4 .1 .1-.2 .3 .3 0-.7 -.1 .2 -.3-.2 -.2 .4zM280.1 88.6l-.3 .6 -.2-.1 .1-.2 -.4 0 .1 .8 .4-.5 .1 .2 .3-.1zM278.8 88.6l0 1 .3-.3zM325.7 78.7l0 .5 .2 .1zM245.1 74.8l-.3 .6 .3-.3 .1 .7z"/>
<path fill="#00e5ff" stroke="#00e5ff" d="M280.3 88.2l0 .6 .1-.2 .2 .3 .2-.3 .1 .2 .3-.2 .1 .5 0-.8 -.5 0 -.2 .3zM279.9 88.2l-.2 .2 0 .7zM325.2 78.2l-.5-.1 -8.1 2.1 -34.4 8 -.6 .4 .1 .7 2.7-.9 3.5-.6 3.4-1 27-6.2 1.4-.5 .7 0 4-1.2 .8 .2zM325.8 77.8l-.2 .3 0 .7 .1-.6 .1 .5 .3 0 -.3-.1zM245.3 74.8l0 .8 1.9 .5 4.1 1.8 6.3 2.4 1.6 .9 14.2 5.6 5.3 2.4 0-.9 -.8-.5 -24.6-9.9 -4.6-2.1 -3-1.1z"/>
<path fill="#00efff" stroke="#00efff" d="M280.4 87.8l.2 .6 .5-.2 -.2-.3 -.3 .4zM280.1 87.8l-.2 .9 .2-.3 .1 .2zM279.2 87.8l0 .9 .4 .1 0-.4 -.2 .2 -.2-.3zM245.3 73.9l-.4 .3 .3 .1 0 .6z"/>
<path fill="#00f9ff" stroke="#00f9ff" d="M280.2 87.7l.1 .4 .1-.4 .2 .4 .5-.3 .1 .5 0-1 -.1 .5 -.2-.5 -.3 .4zM279.4 87.2l0 1.2 .5-.3 0-.8 -.1 .6zM325.2 77.3l-.4-.2 -9.4 2.3 -27.5 6.4 -4 1.1 -.7 0 -1.4 .4 -.2 .3 0 .6 .2 .1 3.4-1 4-.7 27.4-6.5 8.1-2.2 .6 .3zM325.7 76.9l-.1 1 .2-.2 .1 .2 .2-.8 -.3 .1zM245.4 73.8l-.1 .9 .4-.1 3 1.1 4.6 2.1 10.3 4 9.6 4.1 4.7 1.8 .9 .7 -.1-1.1 -1-.6 -1.8-.5 -4.3-2 -14.3-5.6 -8-3.5 -.5 0 -3.1-1.4z"/>
<path fill="#00fffa" stroke="#00fffa" d="M279.1 87.1l-.2 .6 .3 0zM281.1 86.8l-.2 .4 -.1-.3 -.5 .4 -.2-.1 0 .5 .2-.3 .3 .2 .2-.4 .3 .1 0 .4zM245.2 73.7l-.3 .4 .3 0z"/>
<path fill="#00ffee" stroke="#00ffee" d="M279.9 86.6l0 .6 .9-.4 .1 .3 .2-.4 .1 .5 0-.8 -.8 .4 -.2-.4zM281.8 86.3l-.4 .4 .2 .7 .2-.2zM278.7 86.3l.1 1.1 .1-.7zM325.9 76.2l-.3 .1 0 .9 .1-.4 .2 .3 -.2-.3zM324.9 76.1l0 1 .4 .2 0-.9zM245.2 72.6l.1 1.2 .3-.2 0-.9 -.3 .4z"/>
<path fill="#01ffe1" stroke="#01ffe1" d="M280.3 85.9l0 .7 .3 .2 0-.2 .6-.3 .1 .5 0-.9 -.4 .3 -.3-.1 -.2 .2zM279.3 85.9l.1 1.2 .4-.4 0-.5zM324.8 76.1l-33.6 7.8 -6.5 1.8 -.8 0 -1.8 .5 -.2 1 42.8-10.1zM245.7 72.7l.1 1 4.1 1.5 7.4 3.2 2.3 .8 19 7.9 0-.9 -1.2-.6 -26-10.5 -5-2.3z"/>
<path fill="#02ffd5" stroke="#02ffd5" d="M280.2 85.7l-.4 0 .1 .7 .3-.1zM281.1 85.6l-.3 .2 -.2-.2 -.2 .6 .2-.3 .3 .2zM281.6 85.4l-.3 .4 .1 .8zM325.9 75.2l-.2 .7 -.1-.5 0 .8 .3-.1zM245.2 71.7l.1 1.2 .1-1.1 -.1 .3z"/>
<path fill="#03ffc9" stroke="#03ffc9" d="M280.3 85.1l0 .7 .3-.4 .2 .3 .1-.4 -.2-.2 -.3 .2zM325.1 75.1l-1.2 0 -1.2 .5 -5.1 1 -7.4 2 -28.1 6.5 -.4 .2 0 1 2.2-.7 .8 0 6.5-1.8 29.1-6.7 .9-.4 .7 0 2.5-.8 .7 .2zM325.9 74.6l-.2 .5 .1-.3 .1 .3zM245.6 71.7l0 .9 .8 .1 16.9 7.1 10.9 4.3 4.5 2.1 .1-1 -.7-.5 -24.7-9.9 -4.6-2.1 -.5 0 -2.5-1.1z"/>
<path fill="#05ffbe" stroke="#05ffbe" d="M280.6 84.6l-.2 .6 .3-.3 .4 .5 0-.7 -.3 .2zM279.7 84.6l-.3 .8 -.1-.7 0 1.1 .3-.4 .6 .2 0-.7 -.3 .4zM325.6 74.7l.1 .7 .1-.5zM325.6 74.9l.1-.1 .1 .3 -.1 .1z"/>
<path fill="#07ffb2" stroke="#07ffb2" d="M280.7 84.2l.1 .6 .3-.5 -.3 .1zM281.8 84.1l-.4 .3 .2 .9 .2-.2zM280.4 84.1l-.5 .2 0 .6 .4 0zM278.7 83.9l0 1 .2 .4 0-1zM325.6 73.8l-.2 .4 .3 .1 0 .4 .1-.8zM324.8 73.8l0 1 .4 .4 0-1zM245.7 70.4l-.3 .4 0 .9 .3-.3z"/>
<path fill="#0affa7" stroke="#0affa7" d="M280.8 83.8l-.2 .6 .1-.3 .4 .1 .1 .6 0-1 -.1 .4zM324.7 73.8l-17.8 4.1 -17.8 4.5 -7 1.5 -.2 1.2 28.3-6.7 7.4-2 5.1-1 2-.6zM245.8 70.4l.1 1.2 2.4 1 .5 0 4.6 2.1 10.3 4 9.6 4.1 3.3 1.1 2 1 0-1.1 -5.3-2 -1.6-.9 -2.3-.7zM245.3 70.3l0 .3 -.2 0 0 .5 .2-.2z"/>
<path fill="#0eff9c" stroke="#0eff9c" d="M279.9 83.4l0 .8 .8-.3 .1-.2 .3 .4 0-.7 -.5 .2 -.2 .2z"/>
<path fill="#11ff92" stroke="#11ff92" d="M281.2 82.8l-.3 .6 -.1-.3 -.4 0 -.1 .3 .8-.1 .1 .4zM279.9 82.8l-.1 .6 -.2 .3 -.2-.1 .2 .5 .2-.2zM325.7 72.7l-.3 1.1 .3-.1zM325.1 72.8l-.9-.1 -2.4 .7 -.7 0 -.9 .4 -1.8 .3 -27.3 6.5 -4.5 1.2 -3.9 .8 -1.1 .5 0 1 35.8-8.8 4-.7 3-.9 .7 .2zM245.6 69.4l0 1 .3-.1 1.5 .8 1.2 .2 8.8 3.9 14.3 5.6 3.5 1.6 .5 0 2.1 .9 1 .6 .1-.2 -.1-.9 -1.2-.6 -26-10.5 -5-2.3z"/>
<path fill="#16ff87" stroke="#16ff87" d="M280.9 82.4l-.1 .5 -.2-.3 -.2 .2 -.3-.1 -.2 .6 .5-.4 .4 0 .1 .4zM279.8 82.4l-.4 .3 .2 .9z"/>
<path fill="#1bff7d" stroke="#1bff7d" d="M279.9 82.1l-.1 .8 .3-.3 .3 .1 .2-.3 .2 .4 .1-.5 .2 .5 .2-.5 .1 .8 .2-.2 0-1 -.4 .5 -.1-.5 -.5 0 -.2 .3 -.2-.3zM325.6 71.9l-.2 1 .3-.3zM245.2 68.1l0 1.3 .1-.6 .3 0 0 .5 .1-1.1 -.3 .5z"/>
<path fill="#20ff74" stroke="#20ff74" d="M279.8 81.6l-.2 .6 -.3-.1 0-.4 .1 .9 .4-.3zM280.6 81.4l-.2 .7 .4-.3zM324.8 71.6l-3.4 .6 -2.3 .7 -.8 0 -30.2 7.4 -2.3 .4 -.9 .4 -2.2 .3 -1 .4 0 1 36.7-8.9 1.8-.2 .9-.4 .7 0 2.4-.7 .7 0zM245.8 68.2l-.1 1 .9 .1 5 2.3 6.2 2.3 21 8.8 0-1 -.6-.4 -26.6-10.7 -4.4-2z"/>
<path fill="#26ff6a" stroke="#26ff6a" d="M280.1 81.2l-.2 .7 .4 0 .1-.6zM280.9 81.1l-.2 .3 .2 .2 0 .3z"/>
<path fill="#2dff61" stroke="#2dff61" d="M281.6 80.6l-.3 .3 .1 .9 .3-.2zM281.1 80.6l0 .2 -.5 .4 -.2-.5 .2 .6 .3-.4 .2 .5zM324.8 70.3l0 1.1 .3 .2 0-1z"/>
<path fill="#34ff58" stroke="#34ff58" d="M279.8 80.4l.1 .8 .4-.1 0-.5zM280.6 80.4l0 .4 .3 0 .2-.4 .1 .7 0-.9zM324.7 70.3l-.9 0 -11.1 2.9 -31 7.2 .1 1.2 19.8-4.9 23.1-5.4zM325.4 70.1l.2 1.1 .1-.4 -.3-.1 0-.4 .3 0zM245.8 66.9l0 1 3.8 1.4 .1 .3 .7 .1 3.2 1.5 2.2 .7 23 9.5 0-1.1 -.9-.5 -1.1-.2 -5-2.3 -14.2-5.6 -7.4-3.3 -.9-.1 -3-1.4z"/>
<path fill="#3bff50" stroke="#3bff50" d="M279.9 79.8l-.1 .8 -.4-.2 0-.6 .2 1.1 .2-.1zM280.3 79.7l.1 .9 .3-.7 -.3 .2z"/>
<path fill="#44ff48" stroke="#44ff48" d="M280.8 79.3l-.4 .6 .3-.1 .1 .4 .1-.5 .2 .5 0-.9zM281.8 79.2l-.5 .4 .1 1 .5-.4zM279.6 79.2l0 1.2 .2-.1 0-.7zM278.8 79.1l-.1 1.1 .4 .4 0-1.3zM325.6 69.2l-.3 .1 0 .8 .3-.2zM323.6 69.2l-40.5 9.6 -.2 1.3 29.8-7 6.4-1.8 3.3-.6 1.2-.4zM324.4 68.9l.2 1.2 .3 .2 0-1.1zM246.8 65.9l0 1.2 2.5 1.1 .9 .1 7.4 3.3 14.2 5.6 4.4 2 1.7 .5 0-1.1 -1.1-.3 -5-2.2zM245.9 65.6l-.2 .2 0 1 .2-.1 .2-.5z"/>
<path fill="#4dff40" stroke="#4dff40" d="M282.8 78.9l-.9 .2 .2 1.1 .7-.1zM279.8 78.9l.1 .8 .2-.3 .3 .3 .4-.5 0-.3 -.4 .3 -.1-.3 -.4 .3zM278.1 78.7l0 1.1 .5 .3 .1-1.2zM324.4 69.1l-.7 .1 0 1.1 .7-.2zM246.2 65.7l-.1 1.1 .6 .3 0-1.3z"/>
<path fill="#56ff38" stroke="#56ff38" d="M280.9 78.4l-.1 .4 -.1-.2 -.3 .1 0 .4 .4-.3 .1 .5zM279.9 78.3l-.1 1.1 .3-.6zM325.3 68.3l.1 .9 .2-.4 -.3 0zM245.3 65.3l.3 .8 0-.5z"/>
<path fill="#60ff31" stroke="#60ff31" d="M279.4 78.1l.3 1.2 .1-1.2 -.2 .6zM281.1 77.9l-.3 .3 -.2-.1 -.2 .3 -.3-.2 0 .5 .2 .1 .3-.4 .2 .3 .1-.4 .2 .5zM324.9 67.9l-.3-.2 -.9 .1 -2.4 .8 -.7 0 -.9 .3 -2.4 .4 -15.7 3.8 -6.4 1.7 -13.4 3 -.4 .3 0 1.2 .5-.4 .7 0 2.3-.7 .8 0 .9-.4 2.3-.4 21-5 7.4-2 2.4-.3 4.7-1.3 .5 .3zM245.8 64.4l-.1 1.3 .2-.3 3.2 1.4 1.7 .5 2.9 1.4 6.2 2.4 1.7 .8 10.2 4 5 2.3 1.1 .2 1.2 .8 0-1.1 -.8-.7 -2-.6 -12.4-5.2 -10.2-4 -3.1-1.5 -.8-.2 -.1-.2 -.9-.1 -2.7-1.3z"/>
<path fill="#6bff2b" stroke="#6bff2b" d="M280.8 77.6l-.5 .3 .1 .4 .2-.4 .2 .2z"/>
<path fill="#76ff24" stroke="#76ff24" d="M280.9 77.3l-.1 .1 -.2-.3 -.2 .5 -.3-.2 0 .7 .6-.7 .2 .2 0 .3z"/>
<path fill="#82ff1e" stroke="#82ff1e" d="M279.4 77.9l.2-.2 .3 0 .2-.4 .3 .1 .2-.5 .2 .4 .1-.5 -.2 .3 -.1-.3 -.5 0 -.4 .6 -.3-.2 0-.5zM325.4 66.6l-.2 .1 0 .7 .2-.2zM324.8 66.6l-.6-.2 -3.3 .8 -.8 .4 -29.2 6.7 -3.3 1 -.8 0 -2.4 .8 -.7 0 -2.1 .6 -.3 .2 .1 1 3.5-1 10.3-2.2 6.4-1.8 15.7-3.7 2.4-.4 .9-.4 .7 0 2.4-.7 .9-.1 .3 .2zM245.8 63.3l0 1 .3-.1 2.7 1.2 .9 .2 .1 .2 .8 .1 3.1 1.5 10.2 4 12.4 5.3 1.1 .2 1.7 1 0-1.2 -1-.6 -3.9-1.4 -2.3-1.1 -14.2-5.7 -9.5-4.1 -.5 0 -1.5-.7z"/>
<path fill="#8fff19" stroke="#8fff19" d="M280.4 76.3l0 .5 .2-.1 .1 .2 .2-.2 .2 .6 0-1 -.2 .4 -.1-.4 -.2 .4zM279.7 76.2l0 1.1 .2-.5zM325.3 65.9l-.2 .3 0 .7 0-.6z"/>
<path fill="#9cff14" stroke="#9cff14" d="M280.1 75.9l-.2 .8 .4 0 .1-.5 .2 .4 .1-.4 .2 .4 -.1-.7 -.1 .3zM325.4 65.7l-.2 .9 .2-.2zM245.8 62.2l0 .7 -.4 0 .3 .5z"/>
<path fill="#aaff0f" stroke="#aaff0f" d="M280.1 75.3l-.3 1.3 .3-1 .3 .5 .4-.3 .3 .4 0-.8 -.5 .4 -.3-.5zM324.7 65.3l-3.4 .6 -.9 .4 -2.2 .4 -30.3 7.4 -.7 0 -2.4 .7 -2.9 .5 -.5 .3 0 1.1 2.3-.8 .7 0 2.4-.7 .8 0 3.3-1 29.2-6.8 .8-.3 3.3-.8 .6 .1zM245.9 61.9l0 1 3.5 1.3 8.3 3.6 14.2 5.6 1.7 .9 3.6 1.3 1.9 1 0-1.2 -27.3-11.1 -5-2.2z"/>
<path fill="#b8ff0b" stroke="#b8ff0b" d="M280.4 75.1l.2 .6 .5-.4 .1 .5 0-.9 -.1 .3 -.2-.3 -.1 .3 -.1-.3 -.1 .3zM279.6 74.9l0 1 .2 .2zM325.4 64.9l-.1 .8 -.1-.8 0 .9 .2-.2z"/>
<path fill="#c7ff07" stroke="#c7ff07" d="M280.9 74.6l-.5 .3 -.1-.3 -.2 0 -.2 .6 -.1-.4 0 .8 .6-.7 .2 .2 .1-.3 .1 .3zM281.6 74.4l-.4 .4 .1 .9 .3-.3zM324.6 64.2l0 1 .2 .1 0-.9zM246.1 60.8l-.3 .9 -.1-.8 .1 1.2 .3-.3z"/>
<path fill="#d7ff04" stroke="#d7ff04" d="M281.1 74.1l-.2 .3 -.5-.1 0 .5 .5-.4 .2 .7zM324.4 64.2l-28.2 6.6 -7.4 2 -7.1 1.5 0 1 33.5-7.9 3-.8 2.2-.4 .9-.4 3.1-.6zM246.2 60.8l0 1 32.7 13.4 0-.9 -.5-.4 -2-.6 -4.5-2 -2.2-.7 -1.6-.9 -2.3-.8z"/>
<path fill="#e7ff02" stroke="#e7ff02" d="M280.9 73.8l-.1 .1 -.1-.2 -.1 .2 -.2-.3 0 .2 -.3 .1 -.2-.3 -.1 .7 -.2-.6 0 1.1 .8-.6 .5 .1zM325.1 63.4l.1 .8 .1-.6 -.1 .1z"/>
<path fill="#f8ff00" stroke="#f8ff00" d="M280.1 73.2l0 .6 .2 0 .1-.4 .2 .4 .1-.2 .1 .2 .1-.5 -.3 .3zM324.7 63.3l-.8-.1 -5.1 1.4 -.7 0 -3 .8 -27.9 6.5 -.9 .4 -4.5 .9 -.5 .4 .1 .7 35.8-8.6 4-.8 2.9-.8 .6 .1zM246.1 59.8l-.2 1 .3-.1 2.7 1.2 .9 .2 4 1.8 14.3 5.7 1.6 .8 2.2 .8 4.5 2 1.2 .2 1.1 .5 .5 .5 0-1 -.4-.3 -19-7.7 -12.6-5.3z"/>
<path fill="#fffa00" stroke="#fffa00" d="M279.4 72.9l.2 .7 .1-.4zM280.4 72.8l.3 .6 .1-.6 -.1 .3zM324.8 62.4l.1 1.2 .2-.3 .1 .1 -.1-.6 0 .4 -.3 0z"/>
<path fill="#fff200" stroke="#fff200" d="M279.6 72.3l0 .8 .2 .2 .1-.2 .4 0 .1-.4 .2 .2 .2-.2 .1 .5 0-.9 -.1 .4 -.1-.3 -.1 .3 -.3-.1 -.4 .5 -.2-.2zM324.9 62.1l0 .3 .2-.2 .1 .9 0-.8zM324.7 62.3l-.6-.2 -.3 .2 -2.2 .4 -2.4 .7 -.8 0 -3.3 1 -27.5 6.4 -2.5 .8 -3.5 .6 -.4 .4 .1 .8 .5-.3 4.5-.9 .9-.4 27.9-6.5 3-.9 .7 0 5.1-1.3 .8 .1zM245.9 59.1l0 .7 .5-.1 13.4 5.6 19 7.6 .5 .7 0-1 -.4-.5 -27-10.9 -5.7-2.5z"/>
<path fill="#ffea00" stroke="#ffea00" d="M281.1 71.9l-.2 .3 -.2-.4 -.1 .3 -.4-.2 -.3 .4 -.2-.2 .1 .8 .5-.5 .3 .2 .1-.3 .1 .3 .1-.4 .2 .6z"/>
<path fill="#ffe200" stroke="#ffe200" d="M280.4 71.6l-.1 .3 .4-.2 .2 .4 -.1-.5 -.2 .2zM281.3 71.4l-.2 .4 .1 .6zM246.1 57.8l0 .6 -.3 0 0-.3 -.1 .7 .1-.2 .1 .3z"/>
<path fill="#ffda00" stroke="#ffda00" d="M324.4 61.1l-35.7 8.6 -1.3 .1 -2.3 .8 -.8 0 -.9 .3 -1.8 .3 -.4 .2 -.1-.3 -.5 0 -.2 .2 -.3 0 -.2-.2 -.2 .6 -.1-.4 0 .8 .2 0 .1-.4 .2 .2 .2-.1 .1-.4 .2 .3 .2-.3 .1 .5 .4-.6 .1 .9 33.7-7.9 6.5-1.7 .7 0 .9-.4 .6 0 .3-.3 .5 .2zM246.2 57.7l0 .9 33 13.6 .1-.9 -.2-.2 -7.3-2.8 -5.6-2.5 -2.3-.7z"/>
<path fill="#ffd200" stroke="#ffd200" d="M280.8 70.7l-.2-.1 -.2 .2 -.3 0 0 .4 .3 0 .2-.3 .2 .2zM279.9 70.6l-.2 .3 0 .7zM325.1 60.3l-.3 .9 -.1-.8 -.1 .7 .2 .3 .4-.3z"/>
<path fill="#ffca00" stroke="#ffca00" d="M280.6 70.2l-.4 .5 .4-.3 .3 .3 0 .4 0-.8 -.1 .3zM324.6 60.2l-.5-.1 -.7 .3 -4.2 .9 -.9 .4 -1.2 .1 -29.8 7.3 -2.2 .3 -.9 .4 -2.9 .5 0 .9 43.3-10.3zM246.2 56.8l-.1 .9 .3-.1 3.3 1.5 1.1 .2 3.1 1.5 14.3 5.6 1.6 .9 2.3 .8 4.5 2 1.1 .2 1.6 .9 0-.9 -.2-.2 -1.2-.3 -1.7-.9 -.5 0 -3.5-1.6 -14.3-5.6 -8.2-3.6 -1.8-.5 -1.5-.9z"/>
<path fill="#ffc200" stroke="#ffc200" d="M281.1 69.7l-.2 .4 -.1-.3 -.4 .4 -.1-.3 -.5 .4 -.2-.2 -.2 .3 .3 .4 .9-.7 .2 .3 .1-.2 .2 .5zM324.7 59.6l.1 1.1 .3-.5 -.2-.4 0 .5 -.2 0z"/>
<path fill="#ffba00" stroke="#ffba00" d="M279.7 69.6l0 .6 .6-.4 .1 .3 .3-.4 .2 .2 0-.5 -.3 0 -.2 .3 -.3 0 -.2-.3zM324.6 59.3l-.4-.2 -2.4 .8 -31.1 7.3 -4.5 1.2 -.8 0 -3.2 .9 -.5-.1 -.5 .2 0 .8 3-.5 6.6-1.8 26.3-6.2 1.2-.1 .9-.4 4.2-.9 .7-.4 .5 .2zM325.1 58.9l0 .3 -.3 0 0 .6 .1-.4 .2 .5zM245.9 56.2l.2 .6 .3-.2 1.5 .8 1.8 .5 8.2 3.7 14.3 5.6 3.5 1.6 .5 0 3.1 1.4 .1-.1 -.2-.9 -.8-.1 -14.5-5.9 -1.6-.9 -10.2-4 -5.5-2.5 -.4 0 -.1 .6z"/>
<path fill="#ffb200" stroke="#ffb200" d="M280.1 68.9l0 .7 .3 0 .2-.3 .3 0 .2 .3 0-.7 -.7 .3z"/>
<path fill="#ffaa00" stroke="#ffaa00" d="M280.8 68.6l-.1-.2 -.5 .5 -.1-.3 .3 .5zM279.8 68.4l-.1 1 .2-.1zM324.6 58.3l-.7-.1 -.7 .5 -1.4 .4 -.7 0 -.9 .3 -34.8 8.2 -.8 .3 -.8 0 -.9 .4 -1.5 0 -.3 .5 .1 .5 .5-.2 .5 .1 1.2-.3 .9-.3 1.9-.3 .9-.4 27.8-6.5 3-.8 3.9-.8 2.4-.9 .4 .3zM246.2 55.1l0 .6 .4 0 1.6 .9 29.6 12.1 1.4 .4 .2 .3 0-.8 -.2-.4 -.8 0 -3-1.4 -3.5-1.2 -5.6-2.5 -14.2-5.7 -5.7-2.6z"/>
<path fill="#ffa200" stroke="#ffa200" d="M279.9 67.9l0 1 .2-.5 .1 .4 .5-.5 .2 .6 0-.8 -.1 .3 -.2-.3 -.3 .3zM324.9 57.8l-.2 .1 0 .7 .1-.5 .1 .6z"/>
<path fill="#ff9a00" stroke="#ff9a00" d="M281.4 67.4l-.3 .3 0 .7 .3-.2zM279.3 67.4l.1 1 .7-.5 .2 .4 .1-.4 .4 .4 0-.6 -.4-.1 -.2 .2 -.1-.2 0 .3 -.4 .2zM324.3 57.3l0 .8 .3 .1 0-.6zM324.1 57.3l-.8 .5 -11.6 2.6 -25.1 6 -.8 .4 -2.4 .4 -.8 .4 -.9-.2 0 .8 1.2 0 .9-.4 .8 0 .8-.4 34.8-8.1 .9-.4 .7 0 2.3-.8zM246.1 54.2l.1 .7 .2-.6 .2 .5 5.5 2.5 14.2 5.6 12.1 5.2 .7 0 0-.8 -.3 .1 -.9-.2 -5.6-2.5 -14.2-5.6 -1.7-.9 -8.3-3.3 -1.5-1z"/>
<path fill="#ff9200" stroke="#ff9200" d="M279.8 67.1l-.1 .8 .4-.5 .1 .3 .2-.3 .4 .2 .1 .3 0-.7 -.8 .2z"/>
<path fill="#ff8a00" stroke="#ff8a00" d="M324.3 56.4l0 .8 .3 .2 .1-.2 .1 .1 0-.7 -.2 .2zM324.1 56.4l-.9 .7 -34.1 8 -6.3 1.6 -1.2-.1 -.2 .5 -.1-.5 -.4 .5 -.2-.4 -.3 .2 -.5 0 0 .3 .5 .1 .5-.2 .2 .5 .2-.3 1.3 .1 .8-.3 2.4-.4 .8-.4 25.1-6 9.2-2 2.7-.7 .5-.4zM246.3 53.2l-.1 .9 .4-.3 1.5 1 24.2 9.8 5.6 2.5 .9 .2 .4-.1 .4 .5 .1-.6 -.3-.5 -.1 .5 -.1-.5 -2.1-.5 -16.7-7 -6.2-2.4 -2.9-1.4 -4-1.5 -.7-.7z"/>
<path fill="#ff8200" stroke="#ff8200" d="M279.7 66.9l.4 0 .1-.2 .2 .1 .3-.5 -.5 0 -.4 .4 -.1-.4zM323.1 56.3l-14 3.3 -10 2.6 -16.5 3.7 -.2 .7 40.7-9.7zM324.7 55.9l-.1 .8 0-.4 .2-.1zM247.3 53.1l0 .6 4 1.5 2.9 1.4 6.2 2.3 16.7 7 .5 0 .6 .4 .4-.2 0-.3 -6.5-2.5 -5.7-2.5z"/>
<path fill="#ff7900" stroke="#ff7900" d="M281.1 65.9l0 .8 .2-.3 1 .2 0-.5 -.6-.3zM279.8 66.2l0 .4 .4-.4 .5 0 .1 .4 0-.8 -.2 .3 -.4-.3 -.1 .4zM278.7 65.8l-.1 .6 .8 0 .2 .4 0-.9 -.3-.2zM324.8 55.6l-.4 .2 -.3-.2 -.9 .6 0 .7 .7-.6 .5 .1 0-.5 .3-.2 .1 .4zM246.2 52.3l.1 .8 .3-.2 .6 .7 0-.7 -.5-.6z"/>
<path fill="#ff7100" stroke="#ff7100" d="M280.9 65.3l-.1 .4 -.2-.4 -.5 .1 -.3 .5 -.1-.5 0 .8 .2 0 .3-.5 .4 .2 .2-.2 .1 .5zM323.7 55.2l-.9 .6 -2.2 .4 -.9 .4 -29.1 6.7 -7.8 2 -1-.1 0 .6 .6 .1 1.3-.2 .9-.4 17.1-3.9 7.4-2 13.7-3.1 .9-.5zM246.9 51.8l0 .6 .4 .5 4.9 2.2 14.2 5.6 11.9 5 .8 0 0-.5 -1.7-.4 -5-2.2 -14.2-5.7 -7.4-3.2 -1.1-.3 -2.3-1z"/>
<path fill="#ff6900" stroke="#ff6900" d="M280.1 65.1l-.3 .1 0 .6zM281.1 65.1l0 .6 .6 0 0-.5 -.4-.3zM280.3 64.9l.5 .7 0-.5zM279.3 64.9l-.1 .7 .4 .2 0-.7zM323.4 54.9l-.6 .4 -1.1 .1 -.9 .4 -17.1 3.9 -7.4 2 -13.9 3.2 -.3-.1 0 .4 2-.3 6.5-1.7 32.2-7.5 .6-.4zM323.9 54.8l-.2 .3 .1 .5 .5-.2 .1 .3 .4-.4 -.2-.1 .1-.4 -.3 .8 -.1-.7zM247.1 51.8l.3 .5 2.9 1.3 .5 0 7.4 3.2 14.2 5.6 5 2.3 1.3 .4 .2-.3 -31-12.6 -.7-.6zM246.6 51.4l-.4 .8 .5 0 .1 .2 0-.7zM306.3 53.9l-19.5-8 -23.6 5.7 16.5 6.7 .4-1.7 .5-.4 .3 .6 .4 2.3 1.4 .6z"/>
<path fill="#ff6100" stroke="#ff6100" d="M281.1 64.6l-.3 .3 -.1-.3 -.3 .2 -.1-.4 -.4 .5 -.2-.2 0 .6 .2-.4 .4 .4 0-.5 .5 .1 .1 .3zM323.8 54.4l-1 .8 -1.1 .1 -.9 .4 -19.7 4.5 -4.4 1.2 -8.3 2 -2.3 .4 -.9 .4 -.8 0 -.8 .4 -1.7 .2 -.3-.2 0 .3 .3 .3 .2-.5 .3 .1 13.9-3.2 7.4-2 17.1-3.9 .9-.4 1.1-.1 .6-.4 .2 .4zM324.7 54.3l-.3 .3 0 .5 .2-.3 .1 .1zM324.4 54.6l.2-.2 .1 .3 -.1 .1zM247.4 51.8l24.8 10.3 2.9 1 3 1.3 .8 .2 0 .5 .3-.2 0-.3 -1.1-.2zM246.8 51.2l.1 .5 .3-.3 .1 .2zM246.4 50.9l-.2 .4 .1 .4zM315.1 53.2l-16.4-6.6 -8.9-3.9 -34.7 8.2 24.1 10 .5-1.8 -.1-.8 -16.5-6.7 .2-.3 23.5-5.5 19.6 8.1 -.2 .3 -18.4 4.2 -4.9 1.4 -1.6-.6 .3 1.1 .5 .8z"/>
<path fill="#ff5900" stroke="#ff5900" d="M324.7 54.2l-.3-.4 -.1 .4 -.6 0 -.1-.4 -.9 .8 -32.3 7.5 -8.2 2.1 -.5-.3 0 .5 -.8 0 -.1-.3 -.5 .1 .1 .5 .3-.3 .1 .4 .3-.4 .1 .5 .2 0 .2-.5 .3 .3 1.7-.3 .8-.3 .8 0 .9-.4 7.6-1.6 7.4-2 21.7-5 1-.8 .1 .4 .4 .1 .1-.4 .2 .3 -.2-.3zM324.3 54.3l.1-.2 .3 .1 -.3 .2zM246.3 50.7l.1 .7 .3 0 .1-.3 1.1 .8 30.2 12.4 1.1 .1 .4 .5 .1-.3 .1 .2 .4-.2 -.1-.4 -.3 0 -.1 .4 -.3-.3 -.2 .1 0-.5 -.8 0 -9.8-4.2 -14.3-5.6 -1.6-.9 -1.8-.5 -3.5-1.5 -.3-.6 -.2 .3zM316.9 52.7l-26.8-11 -36.8 8.6 1.6 .6 4.5-1.2 30.4-7.1 2.9 1.3 16.2 6.5 6.3 2.8z"/>
<path fill="#ff5100" stroke="#ff5100" d="M324.7 53.8l-.3 .4 -.1-.8 0 .5 -.2 .2 -.2-.7 -1.3 .8 -1.4 .4 -.8 0 -.8 .3 -29.2 6.8 -7.7 2 -.8-.1 -.1 .3 -.4-.3 -.1 .6 -.2-.1 0-.5 -.7 .3 -.1-.3 -.2 .5 .2 .2 0-.4 .5 0 .1 .4 .8 0 0-.5 .5 .3 8.2-2.2 30.8-7.1 .9-.4 .6 0 .9-.7 .1 .4 .6 0 .1 .2zM246.3 50.1l0 .5 .6 .2 .2-.4 .6 .8 20.9 8.4 10.2 4.3 .4-.1 0 .5 .2-.1 .3 .2 0-.7 -.1 .6 -.3-.2 0-.5 -.2 .2 -.4-.4 -1.1-.2 -26.7-11.1 -1.1-.3 -2-.9 -.6-.6 -.3 .1 -.1-.2 -.1 .6zM318.1 52.4l-21.7-8.7 -3.1-1.5 -1.7-.5 -1.4-.6 -.3-.4 -26.6 6.2 -7.4 2 -4 .8 1.3 .6 1.2-.2 .9-.4 34.8-8.1 8.1 3.2 1.6 .9 14.3 5.6 3.1 1.4z"/>
<path fill="#ff4900" stroke="#ff4900" d="M324.6 53.2l-1.3 0 -1.4 .7 -.7 0 -2.4 .8 -.7 0 -3.4 1 -27.5 6.4 -4.9 1.2 -.4-.1 -.2 .5 .1 .1 .1-.4 .8 .2 7.7-2 29.2-6.8 .8-.4 .8 0 1.4-.3 1.3-.8 .3 .6 .1-.6 .3 .5zM246.3 49.9l.3 0 .1 .8 0-.5 .5 0 .6 .6 2 .9 1.1 .2 11.4 4.9 10.3 4 5 2.3 1.1 .2 .4 .4 .2-.3 .3 .8 .1-.6 .2 .5 .3-.8 .2 .1 0 .4 .7-.4 .2 .7 .1-.7 -.5 .2 -.5-.4 -.6 .1 -.1 .3 -.6-.2 0-.5 -.9 0 -9.9-4 -5.6-2.5 -15.1-6.1 -.3-.4 -.1 .3 -.1-.3zM319.6 52.1l-24.5-9.9 -4.8-2.1 -26.2 6.1 -12.9 3.2 .6 .3 11.5-2.9 26.6-6.2 .3 .3 1.4 .7 1.7 .5 3.1 1.5 10.3 4 11.5 4.8z"/>
<path fill="#ff4100" stroke="#ff4100" d="M324.6 52.4l-.2 .5 -.2-.2 -.5 .2 -.4-.2 -.6 .6 -1.1 .1 -.9 .4 -5.5 1.1 -5.9 1.7 -21 5 -2.4 .3 -.8 .4 -.8 0 -.9 .4 -1.2 .1 -.4-.2 -.2 .6 -.4-.4 -.3 .3 -.2-.3 -.5 0 -.3 .4 .5-.1 .5 .3 .5-.1 .2 .3 .3-.5 .4 .1 4.9-1.3 27.5-6.3 3.4-1 .7 0 2.4-.8 .7 0 1.4-.7 1.1 .1zM246.4 49.3l0 .8 .2-.3 .5 0 .1 .3 .1-.3 .3 .4 4.8 2.1 10.3 4 15.5 6.5 .9 0 0 .5 .6 .1 -.1-.6 -.3 .3 -.2-.4 -.5 0 -6.3-2.5 -1.6-.9 -23.1-9.4 -.3-.5 -.1 .3 -.1-.3 -.2 .4 -.1-.4zM320.8 51.8l-19.4-7.7 -10.7-4.7 -.5 .5 -.4-.5 -8.1 2.2 -27.5 6.3 -2.5 .8 -1.8 .2 1 .4 13.2-3.2 26.2-6.2 4.8 2.2 2.2 .7 22.4 9.3z"/>
<path fill="#ff3900" stroke="#ff3900" d="M279.8 63.2l.4-.5 .5 0 .2 .2 0-.6 -.1 .3 -.1-.3 -.1 .3 -.2-.3 -.3 .3 -.2-.3zM323.8 52.2l-.5 .4 -.1-.3 -.6 .4 -8.5 1.9 -7.4 2 -20.1 4.7 -.8 0 -2.4 .8 -1.2 .1 -.1 .4 -.3-.3 -.2 .4 -.2-.3 .2 .7 .2-.7 .4 .3 1.2-.1 .9-.4 .8 0 .8-.4 2.4-.4 21-5 5.9-1.6 7.5-1.6 .6-.6 .4 .2zM246.8 49.2l.1 .5 .2-.4 .1 .3 .1-.3 .3 .5 23.1 9.4 1.6 .9 6.3 2.5 .5 0 .2 .3 .1-.1 -.1-.6 -.2 .1 -.2-.2 -26.3-10.7 -4.8-2.1 -.2 .1 -.4-.5zM279.1 62.3l.2-.1 .1 .2 -.1 .2zM290.1 39.3l.1 .5 .4-.5 4.8 2.1 2.3 .8 3.7 1.7 6.3 2.4 9.6 4.1 1.5 .4 2.1 1 .5-.1 -2.3-1.1 -7.5-2.9 -1.7-.9 -14.2-5.6 -4.9-2.3 -.2 .4 -.3-.2zM289.8 39.2l-.1-.3 -1.8 .7 -.7 0 -2.4 .7 -1.2 .1 -34.3 8.3 1.1 .1 3.8-1 27.5-6.4 3.4-1 2.2-.3 2.4-.7z"/>
<path fill="#ff3100" stroke="#ff3100" d="M279.6 62.2l.1 .6 .1-.5zM280.2 61.9l-.1 .5 .1-.2 .4 .2 .1-.2 .1 .2 0-.5zM324.4 51.8l-.6 .3 -.4-.4 -.5 .6 -.2-.2 -2.9 .8 -.7 0 -.9 .4 -31.6 7.4 -.9 .4 -3.5 .6 -.1 .5 -.3-.3 -.1 .3 -.3-.1 .2-.2 -.3 .4 -.2-.1 0 .5 .2 .1 .1-.5 .2 .3 .2-.4 .3 .2 .1-.3 1.2-.2 2.4-.7 .8 0 20.1-4.8 7.4-2 8.5-1.8 .6-.4 .1 .2 .3-.3 .2 0 .1 .5 .3 0zM246.7 48.7l-.1 .6 .6-.5 .4 .5 .2-.1 20.6 8.6 10.5 4.1 0 .4 .2-.1 .2 .2 -.2-.2 .3-.4 -.3 .3 -.2-.5 -2-.7 -4.1-1.8 -10.2-4 -12.3-5.3 -.5 0 -2-1 -.2 .1 -.4-.5 -.1 .4zM322.1 51.4l-.4-.3 -2.4-1 -1.5-.4 -1.7-.9 -2.3-.7 -3.6-1.8 -14.3-5.6 -4.3-2 -.3 .1 -.2-.2 -.3 .2 -.2-.5 -.3 .6 -.2-.6 -.4 .5 -.1-.2 -1 .1 -2.4 .7 -.8 0 -1.3 .5 -35.2 8.3 .2 .4 1.6-.3 6.5-1.7 26.4-6.3 1.2-.1 2.4-.8 .7 0 1.8-.6 .2 .5 .4-.4 .3 .3 .2-.4 4.9 2.3 14.2 5.6 5.7 2.5 5.6 2.2z"/>
<path fill="#ff2900" stroke="#ff2900" d="M324.4 51.3l-.2 .3 -.3-.3 -.2 .4 -.1-.4 -.3 .3 -.1-.3 -.4 .6 -.6-.2 -2.5 .7 -.8 0 -.8 .4 -35.7 8.4 -.1 .2 -.2-.1 -.2 .3 -.2-.3 0 .5 -.1-.2 -.3 .2 -.4-.2 -.1 .2 -.2-.4 -.5 0 -.3 .3 -.2-.1 -.2 .6 .5 0 .3-.4 .6 0 .1 .4 .4 0 .1-.3 .3 .2 .1-.3 .3 .3 .1-.5 3.5-.7 .9-.3 31.6-7.4 .9-.4 .7 0 2.9-.9 .2 .3 .5-.6 .2 .2 .6 .1zM246.6 47.9l0 .8 .5 0 .1-.4 .4 .5 .2-.1 1.4 .7 1.1 .3 12.3 5.2 10.2 4 4.1 1.9 2 .6 .2 .5 .1-.2 .1 .1 0-.4 -.5-.3 -16-6.5 -1.4-.7 0-.2 -.2 .1 -.1-.2 -.3 .1 0-.3 -.2 .2 -3.2-1.3 0-.2 -.2 .1 -.1-.3 -.3 .2 0-.3 -.2 .1 -8.2-3.3 -.7 0 -.5-.7 -.3 .4zM322.3 51.1l0-.4 -18.1-7.3 -12.4-5.2 -.2 .1 -.3-.2 -.2 .3 -.4-.7 0 .4 -.3 0 -.1-.7 -.7 1 -.3-.5 -1.9 .7 -3.3 .6 -30.3 7.4 -2.2 .3 -.9 .4 -.8 0 -1 .5 -.1-.1 -.2 .4 .3 .3 0-.3 4.8-1 3.4-1 27-6.3 1.3-.5 .8 0 2.4-.7 1-.2 .1 .3 .4-.5 .2 .6 .3-.6 .2 .5 .3-.3 .2 .3 .3-.1 4.3 2 14.3 5.6 3.6 1.7 2.3 .8 1.7 .9 1.5 .3 2.4 1 .4 .4z"/>
<path fill="#ff2100" stroke="#ff2100" d="M280.2 61.2l0 .2 .4-.1 .2 .4 .1-.6 -.1 .1 -.1-.3 -.1 .4zM265.2 55.3l13.6 5.6 .6 .5 0 .3 .2-.3 -.3-.5 -.1 .2zM320.4 52.1l-38.2 9.1 -.5-.4 -.1 .4 -.4-.1 .1 .6 .1-.3 .3 .3 .1-.4 .1 .1 .2-.2 .2 .1 .1-.2 3.2-.7 .8-.3zM323.1 51.1l-.4 .5 -.4-.4 .1 .1 -.5 .4 -1.2 .2 1.5-.3 .6 .2zM324.2 50.9l.1 .8 -.1-.4 .2-.2zM323.9 50.8l-.2 .3 -.3-.3 -.2 .8 .2-.4 .3 .4zM289.2 37.7l-.6 .4 -35.3 8.2 -4 1.1 -.9 .2 .3 .2 -.8 .5 -.3-.7 -.2 .3 -.1-.3 -.1 .2 -.6-.2 0 .2 .1-.1 .2 .5 .3-.4 .5 .6 .7 0 8.5 3.5 -8.1-3.3 -.5-.4 .5-.6 .1 .1 1-.5 .8 0 .9-.4 2.2-.4 30.3-7.3 3.3-.7 1.8-.5zM290.8 37.3l.3 1 .2-.4 .3 .3 .2-.1 30.6 12.6 -.1 .1 .1-.2 -25.8-10.5 -4.9-2.3 -.5 .1 -.3-.8zM289.8 37.1l-.4 .8 .2 .4z"/>
<path fill="#ff1900" stroke="#ff1900" d="M281.1 61.4l-.3-.8 -.2 .2 -.7 0 .2 .5 .1-.2 .4 .1 .1-.4 .4 .3zM279.4 60.6l-.1 .2 .4 .6zM281.4 60.4l-.1 .7 .3 0 -.3-.3zM322.3 51.3l.1-.1 .3 .2 .2-.5 .3 .3 .2-.5 .3 .2 .2-.2 .2 .5 0-.3 .2 0 -.1-.5 -.1 .3 -.3-.4 -.4 .3 -.1-.4 -.2 .7 -.3-.7 -.2 .1 .1 .1zM246.9 47.1l-.2 .8 .6-.5 .1 .4 .2-.4 .3 .8 .5 0 -.1-.3 .3-.1 -.3-.2 .3-.3 -.3 .3 -.1-.2 .1-.5 -.1 .3 -.4-.3 -.2 .5 -.3-.5 -.1 .5zM291.1 36.7l-.2 .2 .3 .9 .5-.1 -.4-1zM290.6 36.6l-.3 .5 -.1-.4 -.1 1.1 .2-.6 .3 .1 0 .4 .1-.1zM289.6 36.6l-.5 1 .2 .2 .4-.7z"/>
<path fill="#ff1100" stroke="#ff1100" d="M281.6 60.8l0-.2 -.2 .2 -.1-.1 .1-.6 -.2 .5 -.4-.4 -.4 .2 -1 0 .4 .5 .3-.3 .5 .1 .2-.3 .1 .4zM323.3 49.8l-.1 .5 .1-.4 .1 .5 .4-.2 .1 .4 .3-.3 .1 .4 -.1-.6 -.4 .1zM247.4 46.6l-.3 .2 0 .5 .2-.5 .3 .5zM290.6 36.1l-.3 .8 .3-.5 .2 .8z"/>
<path fill="#ff0900" stroke="#ff0900" d="M281.4 59.9l-.6 0 -.4-.2 -.1 .4 -.1-.3 -.6 .1 0 .4 .8 0 .4-.2 .4 .3zM323.2 49.2l-.1 1.2 0-.3 .5-.3 .2 .3 .5 0 -.4-.5 -.6 .1zM323.2 49.8l.1-.1 .1 .2 -.1 .2zM247.6 45.9l-.4 .7 -.1-.4 -.2 .2 -.2-.2 0 .7 .7-.5 .3 .7zM290.1 35.7l-.3 1 .1 .4 0-.7 .5 0 0-.3 -.2 0z"/>
<path fill="#ff0100" stroke="#ff0100" d="M279.7 59.4l0 .4 .5-.1 .1 .2 .1-.3 .8 .3 -.1-.1 .2-.1 0-.4 -1.1 0 -.1 .3 -.2-.3zM323.3 49.2l0 .4 .6-.2 .3 .3 0-.5zM323.1 48.7l-.4 1.5 .2-.1zM246.7 46.4l.4-.3 .1 .3 .4-.6 .1 .8 .5 .5 0-1 -.3 0 -.1-.7 -.6 .7 -.3-.3zM290.2 35.6l0 .3 .4 0 0-.3zM291.1 35.2l-.3 .1 .1 1.4 .4-.1 0-.9zM289.9 35.2l-.3 .9 .1 .5z"/>
<path fill="#f80000" stroke="#f80000" d="M279.7 59.3l.2-.1 .2 .2 .1-.2 1 0 -.3-.4 -.2 .3 -.6 0 -.2-.3zM323.2 48.7l0 .4 .4-.2 .1 .3 .2-.3 .3 .4 0-.5 -.3-.2 -.5 .3zM246.9 45.3l-.1 .5 .1-.1 .3 .2 .4-.5 -.5 .2zM290.1 35.6l.6-.2 .1-.3 -.2 .2 -.4-.2z"/>
<path fill="#f00000" stroke="#f00000" d="M280.3 58.3l-.2 .6 .6 0 .1-.5 -.1 .2zM322.9 48.3l0 .4 .3-.1 .2 .2 .5-.5 .2 .4 -.2-.5 -.3 .2 -.2-.2 -.1 .2zM247.1 44.9l0 .5 .7-.1 .1 .3 .2-.4zM289.8 34.9l.4 .3 .6-.3 .4 .2 -.4-.4 -.5 .1 -.1-.2z"/>
<path fill="#e80000" stroke="#e80000" d="M279.8 58.4l.1 .3 .4-.5 .3 0 .3 .5 .2-.5 -.8-.1 -.1 .2 -.1-.2zM323.1 47.8l.1 .5 .2-.2 .2 .2 .2-.2 .3 .1 -.2-.4 -.1 .3 -.1-.3zM246.9 44.7l0 .5 .2-.4 .8 .3 -.1-.5 -.1 .2 -.1-.2zM289.9 34.2l-.1 .6 .4-.4 .1 .3 .5-.1 .3 .2 0-.4z"/>
<path fill="#e00000" stroke="#e00000" d="M279.9 57.8l.3 .4 .1-.3 .8 .2 -.3-.5 -.7 0zM323.1 47.4l.2 .4 .8 0 -.3-.5zM246.9 44.6l1 0 -.5-.5 -.3 0zM289.9 33.9l.3 .3 .9 .1 -.3-.5 -.5 0 -.1 .3 -.1-.3z"/>
<path fill="#d80000" stroke="#d80000" d="M280.1 57.3l.1 .3 .6-.2 .1 .3 0-.4zM323.2 46.9l0 .4 .6-.1 .1 .2 0-.5zM247.1 43.7l.1 .4 .2-.2 .4 .4 0-.6 -.1 .2 -.1-.2zM289.9 33.8l1 0 0-.4 -.7-.1z"/>
<path fill="#d00000" stroke="#d00000" d="M280.2 56.7l-.1 .5 .7 0 -.1-.5zM323.2 46.8l.6 .1 0-.3 -.2-.2zM247.2 43.2l-.1 .4 .5 0 .1 .2 0-.4zM290.8 33.1l-.6 0 -.1 .3 .1-.2 .5 0 .1 .2z"/>
<path fill="#c80000" stroke="#c80000" d="M280.7 56.4l-.3-.1 -.2 .3zM323.4 46.1l-.1 .5 .3-.3 .2 .1 -.1-.3zM247.3 42.8l-.1 .3 .5 .2 -.1-.5zM290.2 32.8l.6 .1 -.1-.3 -.4 0z"/>
</g>
<line x1="218.7" y1="90.5" x2="218.7" y2="38.1" stroke="#888" stroke-width="0.5"/>
<line x1="218.7" y1="38.1" x2="295.1" y2="19.9" stroke="#888" stroke-width="0.5"/>
<line x1="295.1" y1="19.9" x2="352.7" y2="43.5" stroke="#888" stroke-width="0.5"/>
<line x1="352.7" y1="95.9" x2="352.7" y2="43.5" stroke="#888" stroke-width="0.5"/>
<line x1="218.7" y1="90.5" x2="276.3" y2="114.1" stroke="#888" stroke-width="0.5"/>
<line x1="276.3" y1="114.1" x2="352.7" y2="95.9" stroke="#888" stroke-width="0.5"/>
<text x="220.7" y="18.2" font-family="Liberation Sans, Arial, sans-serif" font-weight="bold" font-size="5.37">Diffraction field (<tspan font-style="italic" font-weight="normal">α</tspan>=20.801°, Group B + Group R, 6<tspan dy="-2.3" font-size="3.4">th</tspan><tspan dy="2.3">)</tspan></text>
<rect x="358.8" y="19.8" width="3.9" height="94.8" fill="url(#jetv)"/>
<text x="360.9" y="17.3" font-family="Liberation Sans, Arial, sans-serif" font-weight="bold" font-size="3.6" text-anchor="middle">a.u.</text>
<text x="363.7" y="106.8" font-family="Liberation Sans, Arial, sans-serif" font-weight="bold" font-size="3.7">0.1</text>
<text x="363.7" y="97.3" font-family="Liberation Sans, Arial, sans-serif" font-weight="bold" font-size="3.7">0.2</text>
<text x="363.7" y="87.9" font-family="Liberation Sans, Arial, sans-serif" font-weight="bold" font-size="3.7">0.3</text>
<text x="363.7" y="78.4" font-family="Liberation Sans, Arial, sans-serif" font-weight="bold" font-size="3.7">0.4</text>
<text x="363.7" y="68.9" font-family="Liberation Sans, Arial, sans-serif" font-weight="bold" font-size="3.7">0.5</text>
<text x="363.7" y="59.4" font-family="Liberation Sans, Arial, sans-serif" font-weight="bold" font-size="3.7">0.6</text>
<text x="363.7" y="49.9" font-family="Liberation Sans, Arial, sans-serif" font-weight="bold" font-size="3.7">0.7</text>
<text x="363.7" y="40.5" font-family="Liberation Sans, Arial, sans-serif" font-weight="bold" font-size="3.7">0.8</text>
<text x="363.7" y="31" font-family="Liberation Sans, Arial, sans-serif" font-weight="bold" font-size="3.7">0.9</text>
<text x="363.7" y="21.5" font-family="Liberation Sans, Arial, sans-serif" font-weight="bold" font-size="3.7">1</text>
<text transform="translate(210.9 63.8) rotate(-90)" font-family="Liberation Sans, Arial, sans-serif" font-weight="bold" font-size="5.42" text-anchor="middle">Intensity (a.u.)</text>
<text x="216.4" y="91.3" font-family="Liberation Sans, Arial, sans-serif" font-size="2.4" font-weight="bold" fill="#333" text-anchor="end">0</text>
<text x="216.4" y="86.1" font-family="Liberation Sans, Arial, sans-serif" font-size="2.4" font-weight="bold" fill="#333" text-anchor="end">0.1</text>
<text x="216.4" y="80.8" font-family="Liberation Sans, Arial, sans-serif" font-size="2.4" font-weight="bold" fill="#333" text-anchor="end">0.2</text>
<text x="216.4" y="75.6" font-family="Liberation Sans, Arial, sans-serif" font-size="2.4" font-weight="bold" fill="#333" text-anchor="end">0.3</text>
<text x="216.4" y="70.3" font-family="Liberation Sans, Arial, sans-serif" font-size="2.4" font-weight="bold" fill="#333" text-anchor="end">0.4</text>
<text x="216.4" y="65.1" font-family="Liberation Sans, Arial, sans-serif" font-size="2.4" font-weight="bold" fill="#333" text-anchor="end">0.5</text>
<text x="216.4" y="59.9" font-family="Liberation Sans, Arial, sans-serif" font-size="2.4" font-weight="bold" fill="#333" text-anchor="end">0.6</text>
<text x="216.4" y="54.6" font-family="Liberation Sans, Arial, sans-serif" font-size="2.4" font-weight="bold" fill="#333" text-anchor="end">0.7</text>
<text x="216.4" y="49.4" font-family="Liberation Sans, Arial, sans-serif" font-size="2.4" font-weight="bold" fill="#333" text-anchor="end">0.8</text>
<text x="216.4" y="44.1" font-family="Liberation Sans, Arial, sans-serif" font-size="2.4" font-weight="bold" fill="#333" text-anchor="end">0.9</text>
<text x="216.4" y="38.9" font-family="Liberation Sans, Arial, sans-serif" font-size="2.4" font-weight="bold" fill="#333" text-anchor="end">1</text>
<text x="225.6" y="97.3" font-family="Liberation Sans, Arial, sans-serif" font-size="2.4" font-weight="bold" fill="#333" text-anchor="middle">-2</text>
<text x="235.2" y="101.3" font-family="Liberation Sans, Arial, sans-serif" font-size="2.4" font-weight="bold" fill="#333" text-anchor="middle">-1</text>
<text x="244.8" y="105.2" font-family="Liberation Sans, Arial, sans-serif" font-size="2.4" font-weight="bold" fill="#333" text-anchor="middle">0</text>
<text x="254.4" y="109.1" font-family="Liberation Sans, Arial, sans-serif" font-size="2.4" font-weight="bold" fill="#333" text-anchor="middle">1</text>
<text x="264" y="113.1" font-family="Liberation Sans, Arial, sans-serif" font-size="2.4" font-weight="bold" fill="#333" text-anchor="middle">2</text>
<text x="273.6" y="117" font-family="Liberation Sans, Arial, sans-serif" font-size="2.4" font-weight="bold" fill="#333" text-anchor="middle">3</text>
<text x="286.4" y="116.3" font-family="Liberation Sans, Arial, sans-serif" font-size="2.4" font-weight="bold" fill="#333" text-anchor="middle">-2</text>
<text x="299.1" y="113.3" font-family="Liberation Sans, Arial, sans-serif" font-size="2.4" font-weight="bold" fill="#333" text-anchor="middle">-1</text>
<text x="311.9" y="110.2" font-family="Liberation Sans, Arial, sans-serif" font-size="2.4" font-weight="bold" fill="#333" text-anchor="middle">0</text>
<text x="324.6" y="107.2" font-family="Liberation Sans, Arial, sans-serif" font-size="2.4" font-weight="bold" fill="#333" text-anchor="middle">1</text>
<text x="337.3" y="104.2" font-family="Liberation Sans, Arial, sans-serif" font-size="2.4" font-weight="bold" fill="#333" text-anchor="middle">2</text>
<text x="350.1" y="101.1" font-family="Liberation Sans, Arial, sans-serif" font-size="2.4" font-weight="bold" fill="#333" text-anchor="middle">3</text>
<text x="236" y="118.7" font-family="Liberation Sans, Arial, sans-serif" font-weight="bold" font-size="5.4">y</text>
<text x="239.9" y="121" font-family="Liberation Sans, Arial, sans-serif" font-weight="bold" font-size="4.2">1</text>
<text x="242.9" y="118.7" font-family="Liberation Sans, Arial, sans-serif" font-weight="bold" font-size="5.3">(mm)</text>
<text x="302.8" y="119.6" font-family="Liberation Sans, Arial, sans-serif" font-weight="bold" font-size="5.4">x</text>
<text x="306.2" y="122.4" font-family="Liberation Sans, Arial, sans-serif" font-weight="bold" font-size="4.2">1</text>
<text x="309.7" y="119.8" font-family="Liberation Sans, Arial, sans-serif" font-weight="bold" font-size="5.2">(mm)</text>
<text x="288.8" y="134.6" font-family="Liberation Serif, serif" font-weight="bold" font-size="7.1" letter-spacing=".35" text-anchor="middle">(b)</text>
<line x1="442.5" y1="110.4" x2="518.9" y2="92.2" stroke="#ececec" stroke-width="0.3"/>
<line x1="464.8" y1="111.3" x2="407.2" y2="87.7" stroke="#ececec" stroke-width="0.3"/>
<line x1="407.2" y1="87.7" x2="407.2" y2="35.3" stroke="#ececec" stroke-width="0.3"/>
<line x1="518.9" y1="92.2" x2="518.9" y2="39.8" stroke="#ececec" stroke-width="0.3"/>
<line x1="432.9" y1="106.4" x2="509.3" y2="88.2" stroke="#ececec" stroke-width="0.3"/>
<line x1="477.6" y1="108.2" x2="420" y2="84.6" stroke="#ececec" stroke-width="0.3"/>
<line x1="420" y1="84.6" x2="420" y2="32.2" stroke="#ececec" stroke-width="0.3"/>
<line x1="509.3" y1="88.2" x2="509.3" y2="35.8" stroke="#ececec" stroke-width="0.3"/>
<line x1="423.3" y1="102.5" x2="499.7" y2="84.3" stroke="#ececec" stroke-width="0.3"/>
<line x1="490.3" y1="105.2" x2="432.7" y2="81.6" stroke="#ececec" stroke-width="0.3"/>
<line x1="432.7" y1="81.6" x2="432.7" y2="29.2" stroke="#ececec" stroke-width="0.3"/>
<line x1="499.7" y1="84.3" x2="499.7" y2="31.9" stroke="#ececec" stroke-width="0.3"/>
<line x1="413.7" y1="98.6" x2="490.1" y2="80.4" stroke="#ececec" stroke-width="0.3"/>
<line x1="503" y1="102.2" x2="445.4" y2="78.6" stroke="#ececec" stroke-width="0.3"/>
<line x1="445.4" y1="78.6" x2="445.4" y2="26.2" stroke="#ececec" stroke-width="0.3"/>
<line x1="490.1" y1="80.4" x2="490.1" y2="28" stroke="#ececec" stroke-width="0.3"/>
<line x1="404.1" y1="94.6" x2="480.5" y2="76.4" stroke="#ececec" stroke-width="0.3"/>
<line x1="515.8" y1="99.1" x2="458.2" y2="75.5" stroke="#ececec" stroke-width="0.3"/>
<line x1="458.2" y1="75.5" x2="458.2" y2="23.1" stroke="#ececec" stroke-width="0.3"/>
<line x1="480.5" y1="76.4" x2="480.5" y2="24" stroke="#ececec" stroke-width="0.3"/>
<line x1="394.5" y1="85.5" x2="470.9" y2="67.3" stroke="#ececec" stroke-width="0.3"/>
<line x1="470.9" y1="67.3" x2="528.5" y2="90.9" stroke="#ececec" stroke-width="0.3"/>
<line x1="394.5" y1="80.2" x2="470.9" y2="62" stroke="#ececec" stroke-width="0.3"/>
<line x1="470.9" y1="62" x2="528.5" y2="85.6" stroke="#ececec" stroke-width="0.3"/>
<line x1="394.5" y1="75" x2="470.9" y2="56.8" stroke="#ececec" stroke-width="0.3"/>
<line x1="470.9" y1="56.8" x2="528.5" y2="80.4" stroke="#ececec" stroke-width="0.3"/>
<line x1="394.5" y1="69.7" x2="470.9" y2="51.5" stroke="#ececec" stroke-width="0.3"/>
<line x1="470.9" y1="51.5" x2="528.5" y2="75.1" stroke="#ececec" stroke-width="0.3"/>
<line x1="394.5" y1="64.5" x2="470.9" y2="46.3" stroke="#ececec" stroke-width="0.3"/>
<line x1="470.9" y1="46.3" x2="528.5" y2="69.9" stroke="#ececec" stroke-width="0.3"/>
<line x1="394.5" y1="59.3" x2="470.9" y2="41.1" stroke="#ececec" stroke-width="0.3"/>
<line x1="470.9" y1="41.1" x2="528.5" y2="64.7" stroke="#ececec" stroke-width="0.3"/>
<line x1="394.5" y1="54" x2="470.9" y2="35.8" stroke="#ececec" stroke-width="0.3"/>
<line x1="470.9" y1="35.8" x2="528.5" y2="59.4" stroke="#ececec" stroke-width="0.3"/>
<line x1="394.5" y1="48.8" x2="470.9" y2="30.6" stroke="#ececec" stroke-width="0.3"/>
<line x1="470.9" y1="30.6" x2="528.5" y2="54.2" stroke="#ececec" stroke-width="0.3"/>
<line x1="394.5" y1="43.5" x2="470.9" y2="25.3" stroke="#ececec" stroke-width="0.3"/>
<line x1="470.9" y1="25.3" x2="528.5" y2="48.9" stroke="#ececec" stroke-width="0.3"/>
<line x1="470.9" y1="72.5" x2="470.9" y2="20.1" stroke="#888" stroke-width="0.5"/>
<line x1="394.5" y1="90.7" x2="470.9" y2="72.5" stroke="#888" stroke-width="0.5"/>
<line x1="470.9" y1="72.5" x2="528.5" y2="96.1" stroke="#888" stroke-width="0.5"/>
<g stroke-width=".5" fill-rule="evenodd" stroke-linejoin="round">
<path fill="#000080" stroke="#000080" d="M416.2 85.6l8.4 3.7 12 4.8 6.2 2.7 2 .6 16.4 6.9 6.4 2.4 5.2-1 26.5-6.5 9.3-2 3.7-1.4 1.5-1.4 -40.5 9.8 -7.6 1.6 -3.4-1.1 -.6-.5 -5.9-2.3 -2-1 -9.6-3.7zM455.3 76.2l3.3 10.9 2.6 7 1.7 3.5 38.4-9.2 -35.9-14.7z"/>
<path fill="#000088" stroke="#000088" d="M514.6 93.9l-48.3 11.5 -1.2 0 -3.3-1.2 .5 .4 3.4 1.1 1.1-.1 35.1-8.5 7.7-1.7 2.2-.7 1.8-.3zM455.2 75.6l.1 .5 .6-.3 9.5-2.2 10.5 4.2 .5 .4 2.3 .7 4.4 2 1.5 .4 6.7 3 2.6 .9 5.7 2.5 1.7 .6 1-.1 -8-3.5 -1.5-.4 -4.4-2 -3.8-1.4 -4.4-2 -2.3-.7 -12.5-5.3 -2 .8z"/>
<path fill="#000090" stroke="#000090" d="M450.1 99.3l8 3.4 7 2.6 -.3-.4 -.6 0 -3.5-1.2zM515.1 93.3l-28.9 7 -3.6 .6 -9.4 2.3 -2.3 .7 -4.8 1 -.5 .4 3.1-.5 32.4-7.9 7-1.5 3.3-1 3.3-.6zM455.1 74.9l.1 .5 8.2-1.8 2-.8 12.5 5.3 2.3 .7 4.4 2 3.8 1.4 4.4 2 1.5 .4 8.1 3.5 .7-.2 -7.4-3.1 -1.5-.4 -6.8-3 -1.5-.3 -4.3-2 -2.7-.9 -1.6-.9 -.7-.1 -10.9-4.6 -.6-.2 -.8 .4z"/>
<path fill="#000098" stroke="#000098" d="M464.9 105.1l.3 .2 .4-.2zM414.4 84.4l10.4 4.5 1.1 .3 7.2 3.1 2.6 .9 4.4 2 3.8 1.4 4.4 2 2.6 .8 2 1 .8 .2 3.5 1.6 .7 .1 5.2 2.1 -.9-.6 -.5 0 -3.1-1.4 -.8-.1 -13.2-5.6 -1.5-.4 -6.8-3 -1.5-.4 -6.7-3 -2.7-.8zM464.9 72.3l-.2-.4 -2.4 .5 -2.2 .8 -5 1 -.2 .5 .4 .1 2.4-.5 2.2-.7 4.4-.9z"/>
<path fill="#0000a0" stroke="#0000a0" d="M462.8 104.1l.6 .5 1.7 .3 -.7-.5zM464.3 71.3l-1.4 .5 -8.2 1.9 .1 .5 6.8-1.5 .7-.4 2.3-.4zM464.8 71.8l.5 .6 .8 .2 10.5 4.5 .7 .1 1.6 .9 2.7 .8 4.3 2 1.5 .4 6.8 3 1.5 .4 7.6 3.2 1.9-.5 -4.1-1.5 -.5-.3 -1.2-.3 -6.7-3 -1.5-.4 -6.8-3 -2.6-.8 -16.5-6.9z"/>
<path fill="#0000a8" stroke="#0000a8" d="M516.1 92.1l-32.7 7.8 -3.6 .7 -6.2 1.5 -2.3 .7 -6 1.3 -.6 .5 .5 .3 .7 0 16.7-4.1 3.6-.6 19.4-4.6 1.7-.7 8.3-1.8zM413.2 83.6l.4 .3 3.3 1.5 11.2 4.4 6.7 3 1.5 .4 6.8 3 1.5 .4 13.2 5.6 .8 .1 3.1 1.4 2 .5 -.6-.5 -1.2-.1 -4-1.5 -12.7-5.4 -3.9-1.4 -4.4-2 -2.6-.9 -6.7-3 -1.2-.2zM465.2 71.1l-.9-.5 -1.7 .6 -8 1.7 0 .4 .2 .3 8.1-1.9 1.4-.5 .4 .6z"/>
<path fill="#0000b0" stroke="#0000b0" d="M463.4 103.8l.7 .5 .5 .1 .2-.2zM414.2 83.7l1 .7 5 1.9 2 1 .7 .1 3.5 1.7 1.2 .2 6.7 3 2.6 .9 4.4 2 3.9 1.4 2 1 10.9 4.3 -.5-.5 -1.7-.5 -.7-.5 -1.1-.2 -14.2-6 -1.5-.4 -6.7-3 -1.5-.4zM470.3 72.9l.3 .4 2.2 .8 2 1 1.1 .2 5.9 2.6 2.6 .9 6.8 3 1.5 .4 10.7 4.5 .5-1 -14.2-6 -2.6-.9 -4.4-2 -1.5-.4 -10.1-4.3 -.4 .1zM464.3 70.3l-3.4 .8 -1.7 .6 -4.8 1 0 .2 9.8-2.3z"/>
<path fill="#0000b8" stroke="#0000b8" d="M457.8 101.6l1.1 .7 4.3 1.4 -.8-.6 -.6 0 -2.4-.8zM503.6 86.6l.1 .2 1.6 .6 2-.5 -3.1-1.2zM411.9 82.7l2.3 1.2 -.4-.5zM470.7 72.1l-6-2.7 -1.3 .8 -2.2 .4 -3.4 1 -.7 0 -.4 .2 -2.1 .4 -.3 .2 .4 .2 4.5-1 5-1.4 1.1 .9 4.9 2z"/>
<path fill="#0000c0" stroke="#0000c0" d="M462.8 103.2l.8 .6 .7 0 -.4-.5zM517.1 90.6l-41.5 10 -7 1.5 -1.3 .5 -2.1 .3 -.4 .3 -.2 .7 .6 .2 6.1-1.4 8.5-2.3 3.6-.6 19.3-4.7 4.4-.9 2.2-.8 6-1.2 1.4-.5zM412.1 82.3l.3 .5 3 1.4 44 18 -.3-.5 -11.8-4.6 -15-6.4 -1.5-.4 -5.9-2.6 -.7-.1 -.5-.4 -10.6-4.3zM448.7 72.8l-2.5 .6 1.1 0zM464.6 69.3l-.5-.1 -8.3 1.9 -1.7 .6 .3 .5 2.7-.8 1.8-.2 1.8-.6 2.7-.5z"/>
<path fill="#0000c8" stroke="#0000c8" d="M464.8 103.1l-.7 .2 .3 .6zM459.2 101.7l.4 .5 3 .9 -.7-.7 -1.1-.1zM410.7 81.6l1.6 1.2 -.4-.5zM449.7 71.8l-5.5 1.3 1.9 .3 2.5-.6zM453.9 70.8l.2 .8 1.7-.7 8.5-1.8 3 1.5 3.8 1.3 3.5 1.7 .7 .1 5.9 2.6 1.5 .4 4.4 2 2.6 .9 6.7 3 1.5 .3 7.2 3.2 1.1 .2 1.2 .6 .9-.2 -38.1-15.5 -1.6-.9 -1.4-.4 -3-1.6 -3.1 .9 -1.3 .1 -1.6 .6z"/>
<path fill="#0000d0" stroke="#0000d0" d="M462.3 102.6l.6 .6 .9 0 -.7-.6zM410.9 81.6l2.2 1.2 4.8 1.9 2 1 5 1.9 5.9 2.6 1.5 .4 6.8 3 1.5 .3 6.7 3 1.4 .4 5.7 2.5 5.7 2.1 -.5-.5 -6.2-2.2 -5.1-2.3 -.7-.1 -.8-.5 -1.1-.2 -6.8-3 -1.5-.4 -6.7-3 -1.5-.4zM449.9 71.4l-6.2 1.5 2-.2 4.1-1zM464.9 68.7l2.3 1.1 1.4 .4 1.6 .9 5 1.8 8.6 3.8 2.6 .9 4.4 2 1.5 .3 6.8 3 1.5 .4 7.8 3.4 1.3-.3 -8-3.1 -4.4-2 -1.5-.4 -6.7-3 -2.7-.8 -16-6.8 -.7-.1 -4.4-2.1zM464.1 68.2l-10.3 2.2 0 .3 4.4-.9 1.6-.6 2.9-.5z"/>
<path fill="#0000d8" stroke="#0000d8" d="M463.6 102.6l-.2 .1 .7 .5 .1-.1zM459.9 101.6l.3 .3 1.9 .5 -.4-.5zM517.8 89.8l-41.6 10 -.9 0 -1.2 .5 -9.5 2.1 -.2 .7 37.7-9.2 10.8-2.3 2.3-.8 2.1-.4zM450.2 70.9l-7.4 1.7 1.1 .2 5.8-1.4zM465.1 68.1l-1-.7 -2.7 .9 -7.7 1.8 .1 .2 10.1-2.4 1 .7z"/>
<path fill="#0000e0" stroke="#0000e0" d="M463.8 102.6l.5 .5 .1-.7zM461.8 101.9l.4 .5 1 .2 -.3-.5zM411.7 81.3l.5 .6 4.5 2 2.2 .8 2 1 1.2 .2 15.2 6.5 1.5 .4 4.4 2 2.6 .9 1.4 .7 10.1 4 -.7-.7 -7.7-2.9 -7.1-3.1 -1.5-.4 -6.7-3 -1.5-.4 -6.8-3 -2.6-.8 -9.6-4zM450.6 69.9l-5.7 1.5 -3.6 .7 1.4 .5 2.1-.7 2-.2 3.1-.8 .4-.2zM468.7 69.6l1 .5 .7 .1 6.3 2.7 5.4 2 13.7 5.9 1.5 .4 4.4 2 3.9 1.4 .7 .5 .8 .1 2.1 .9 .5-1 -.6-.5 -3-1.3 -.8-.1 -6.2-2.8 -3.9-1.3 -4.4-2 -2.6-.9 -6.8-3 -1.1-.3 -11.1-4.6zM463.9 67.2l-.2-.4 -2.5 .8 -7.6 1.6 .1 .7 10-2.3z"/>
<path fill="#0000e8" stroke="#0000e8" d="M463.1 102.1l.2 .5 .5-.2 -.4-.5zM457.1 99.9l.8 .8 3 .9 -.5-.7 -1.5-.2zM518.2 88.9l-47.1 11.2 -2.3 .7 -4.6 1 -.1 .6 44.1-10.3 1.7-.7 8-1.7zM509.2 86.2l1.2 .1 1.8-.5 -2.4-.9zM408.7 79.8l1.2 1 2 1 -.3-.5zM464.6 65.9l-.5 1.4 2.5 1.4 2 .9 .5-1.2 -.2-.2z"/>
<path fill="#0000f0" stroke="#0000f0" d="M464.1 101.8l-.5 .1 .3 .5zM460.6 100.9l.6 .8 1.1 .1 -.5-.7zM450.9 68.9l-10.8 2.7 .8 .3 .9 0 6.3-1.3 2.6-.8zM464.4 65.8l-.2-.1 -.5 1 -.5-.6 -9.9 2.5 .3 .5 .6 0 9.4-2.4 .5 .5z"/>
<path fill="#0000f8" stroke="#0000f8" d="M461.9 101.1l.5 .7 .7-.1 -.5-.8zM409.3 79.7l.9 .9 8.2 3.6 6.9 2.6 6.8 3 1.5 .4 6.7 3 1.5 .4 13.4 5.6 3.7 1.4 .9 .1 -.7-.8 -.7 0 -3.8-1.3 -12.2-5.2 -3.8-1.3 -4.4-2 -1.5-.4 -6.8-3 -1.3-.4 -7.2-3.1 -1.1-.3 -3.9-1.6zM451.1 68.6l-11.7 2.7 .9 .1 10.5-2.5zM463.2 65.8l-2.5 .4 -1.3 .5 -5.3 1.1 -.9 .4 .5 .1 4.4-1 1.2-.5 3.8-.7zM463.8 65.3l-.4 .5 .3 .8 .4-.8z"/>
<path fill="#0000ff" stroke="#0000ff" d="M462.7 100.9l.4 .7 .3 .1 -.3-.9zM459.4 100.1l.8 .7 1.1 .1 -.4-.6zM411.9 80.7l.5 .5 3.9 1.6 1.1 .3 1.7 .8 6.8 2.7 6.8 3 1.5 .3 4.4 2 3.8 1.4 12.2 5.1 -.3-.3 -2.5-1.2 -.7-.1 -.8-.5 -.7-.1 -7.5-3.3 -1.5-.3 -6.8-3 -2.6-.9 -4.4-2 -3.2-1.1zM408.1 78.7l.5 .7 .8 .7 -.2-.5zM451.2 68.1l-12.4 3 .9 .1 11.4-2.8zM466.2 65.4l-.4 1.2 2.1 1.1 12.4 5.1 1.1 .3 13.8 5.8 3.9 1.4 6.2 2.8 .8 .1 6.2 2.6 2.5-.6 -12-4.8 -3.2-1.5 -2.7-.8 -4.3-2 -3.9-1.4 -14.1-6 -2.9-1 -3.5-1.5 -1.8-1zM463.7 65.1l-.3-.2 -1.3 .7 -6 1.2 -3 .9 .1 .2 9.1-2.2 .8-.1 .2 .3z"/>
<path fill="#0004ff" stroke="#0004ff" d="M461.1 100.3l.3 .6 .7 0 -.4-.7zM454.4 98.1l.5 .5 4.3 1.3 -.4-.5 -.7 0zM518.9 87.2l-42.6 10.2 -10.4 2.3 -.7 .4 -1.1 .1 -.5 1.5 .2 .1 5-1.1 2.3-.8 47.5-11.2zM408.4 78.8l1.3 1 2.2 1.1 -.1-.3 -2.5-1.2zM451.4 67.1l-2.8 .6 -.7 .4 -3.1 .5 -7.6 1.8 1.4 .5 12.5-2.8zM463.3 64.7l-.5-.4 -2.7 .6 -.8 .4 -6.2 1.4 -.2 .5 .2 .4 3-.9 6-1.3 1.2-.5zM464.7 64.1l-.5 1.5 1.6 .8 .4-1.3z"/>
<path fill="#0009ff" stroke="#0009ff" d="M463.9 100.3l-.7 .4 .4 .9zM461.8 100.2l.4 .7 .5-.1 -.4-.7zM459.1 99.6l.5 .5 1.2 .1 -.2-.5zM519.3 87.1l-.4 .3 -.1 .8zM408.9 78.9l.4 .4 5.1 2.4 2.7 .9 1.3 .7 8.4 3.3 5.6 2.5 1.4 .3 6.8 3 1.5 .4 4.7 2.1 3.5 1.3 .8 .5 .7 .1 4.8 2 1.8 .5 -.1-.2 -5.5-1.8 -14.5-6.1 -2.6-.9 -4.4-2 -1.5-.4 -6.7-3 -1.4-.3 -7.1-3.2 -1.4-.3zM467.4 65.7l14.3 6 2.6 .9 4.4 2 3.9 1.3 4.3 2 10.9 4.3 .5 .4 5.3 2 .2-.2 0-.2 -6.6-2.5 -6.3-2.8 -1.5-.3 -6.7-3 -1.4-.4 -5.6-2.5 -3.9-1.4 -14.1-6zM464.2 63.4l-.5 1.5 .4 .5 .5-1.2z"/>
<path fill="#000eff" stroke="#000eff" d="M462.4 99.9l.3 .8 .2 .1zM461.3 99.6l-.6 .1 .2 .5 .7-.1zM458.4 99.2l.9 .4 .8 0 -.4-.3zM513.8 84.6l1.1 .5 .9-.2 -1.7-.6zM410.4 79.2l.9 .9 1.9 .8 1.4 .4 1.6 .9 6.9 2.6 6.7 3 1.5 .4 4.4 2 2.6 .9 6.8 3 1.1 .2 9 3.8 -.6-.9 -4.3-1.5 -.7-.5 -.8-.1 -7.5-3.3 -1.5-.4 -6.7-3 -2.7-.8 -4.3-2 -3.3-1.2zM451.6 66.1l-1.3 .5 -14.4 3.3 1.5 .4 7.4-1.9 3.1-.5 .7-.3 2.7-.5zM465.3 64.4l2.1 1.2 .2-.4 -2-1.1zM464.1 63.3l-.5-.6 -.5 1.5 -.5-.8 -1.9 .7 -8 1.7 .1 .8 5-1 5-1.4 .9 .6z"/>
<path fill="#0014ff" stroke="#0014ff" d="M462.8 99.7l-.2 .4 .5 .6 .2-.4zM461.6 99.4l-.2 .3 .4 .4 .1-.2zM460.8 99.6l-.1-.3 -.6 .1zM454.9 97.3l.4 .8 3.4 1.1 -.4-.8 -2.1-.5zM408.2 77.9l.6 .9 2 1 -.6-.7zM451.7 65.7l-16.5 3.9 .9 .2 14.2-3.4 1.4-.5zM467.2 64.9l6.5 2.9 2.2 .8 1.7 .8 8.1 3.2 5.6 2.5 1.4 .3 6.7 3 1.5 .4 6.3 2.8 .7 .1 6.3 2.6 .4-1 -1.5-.7 -4.7-1.7 -7.1-3.1 -1.5-.4 -13.7-5.8 -1.5-.4 -12.9-5.5 -.8-.1 -3.2-1.7zM464.6 63.2l-.3 .4 1 .7 .1-.4zM462.6 63.2l-.3-.1 -3.4 .7 -2.2 .8 -4.1 .8 .1 .3 9.5-2.1z"/>
<path fill="#001aff" stroke="#001aff" d="M461.8 99.4l.1 .4 .4 .1 -.2-.6zM461.6 99.3l-.8 .1 .3 .2zM458.4 98.4l.4 .8 1 .1 -.5-.9zM514.3 84.3l2.1 .5 .9-.2 .1-.5 -2.7-.8zM406.9 76.9l0 .4 .3 0 1.1 1.1 -.2-.6zM465.9 62.9l-.3 1 1.5 1 .5-1zM464.2 62.7l-.3 .4 .4 .3 .1-.3zM463.2 62.1l-.5 1.2 .4 .8 .3-1.3z"/>
<path fill="#0021ff" stroke="#0021ff" d="M462.4 99.1l-.2 .1 .2 .6 .3-.1zM461.7 99.1l-.1 .1 .2 .1zM459.4 98.4l.5 .9 .7 0 -.4-.9zM519.8 85.2l-43.1 10.4 -8.1 1.7 -2.3 .8 -1.9 .2 -1.1 .4 -.4 1 .5 .6 2.5-.7 10.4-2.3 26.5-6.5 7.6-1.6 1.2-.5 7.8-1.8zM517.4 84.6l1.3-.4 -1.1-.1zM408.4 77.6l.5 .7 3.7 1.8 3.7 1.3 7.1 3.2 2.7 .8 4.3 2 2.7 .9 6.7 3 1.5 .4 4.8 2.1 3.5 1.3 .7 .5 6.1 2.2 -.2-.6 -.6-.4 -.9-.1 -3.6-1.4 -11.5-4.9 -2.7-.8 -4.3-2 -1.5-.4 -6.8-3 -1.5-.4 -7-3.1 -1.1-.3zM406.6 76.6l.2 .2 -.1 .1 .1-.1zM463.8 62.2l-.2 .4 .3 .3 .2-.3zM464.9 61.9l-.3 1.2 1 .7 .2-1zM463.1 61.7l-.7 1.2 .3 .3z"/>
<path fill="#0027ff" stroke="#0027ff" d="M462.3 98.8l-.5 .4 .1 .1 .4-.2zM463.2 98.7l-.6 .2 .2 .7zM460.3 98.4l.4 .8 .7-.1 -.5-.9zM456.2 97.1l.5 .8 1.9 .4 -.5-.7zM520.3 85.1l-.5 .3 -.1 1zM407.2 76.8l1.4 1.3 -.4-.8zM471.2 63.9l-.5 1.4 1 .3 12.9 5.5 1.5 .3 13.7 5.9 1.5 .4 7.1 3.1 1.3 .3 .4-1.5 -6.2-2.4 -5.6-2.5 -2.6-.9 -4.4-2 -3.9-1.4 -16-6.7zM464.6 61.4l-.4 1.2 .2 .3 .4-.8zM463.3 61.4l-.1 .5 .4 .5 .1-.5z"/>
<path fill="#002eff" stroke="#002eff" d="M459.7 98.3l-.5-.9 -1 .2 .5 .7zM510.2 79.7l-.4 1.6 6.4 2.4 .5-.1 .4-1.5 -3.4-1zM408.1 77.1l2 1.2 9.6 3.9 3.1 1.5 1.5 .4 6.8 3 1.5 .3 4.3 2 2.7 .9 11.5 4.9 5 1.7 -.3-.3 -2-.5 -6.6-2.7 -11.4-4.8 -1.5-.4 -4.4-2 -2.6-.9 -7.1-3.1 -6.5-2.5zM406.4 75.9l.2 .4 -.3 0 .3 0 .8 .9zM467.1 61.6l-.7 1.6 4.3 2 .5-1.5zM464.2 60.8l-.4 1.3 .3 .3 .3-.8z"/>
<path fill="#0036ff" stroke="#0036ff" d="M461.2 98.1l.5 .8 .4-.2 .3 .2 .4-.2 -.1-.4 -.4 .4 -.6-1.1zM459.3 97.4l.4 .8 .4 .1 -.4-.7zM456.1 96.7l.3 .4 1.5 .3 -.2-.3zM517.2 82.1l-.5 1.6 1.4 .2 .6-1.6zM408.9 77.2l.3 .4 4.5 2 40.5 16.5 -.4-.5 -4.1-1.5 -4.8-2.2 -1.5-.3 -6.7-3 -1.5-.4 -6.8-3 -2.6-.9zM406.8 76.2l.4 .5 .9 .5zM465.8 60.6l-.5 1.6 .9 .9 .2 0 .5-1.7zM463.7 60.1l-.4 1.2 .5 .6 .3-1.3z"/>
<path fill="#003dff" stroke="#003dff" d="M460.4 97.2l-.7 .2 .5 .9 .6-.2zM457.8 97.1l.3 .3 .6 0 -.3-.3zM454.1 95.7l.2 .4 2.6 .7 -.5-.5 -.6 0zM520.8 83.7l-.5 .4 -6.5 1.3 -1.7 .7 -7.7 1.6 -28.6 7 -7.1 1.5 -2.8 .9 -2.8 .5 -.3 .8 .6 .2 1-.4 1.9-.3 2.3-.7 8.1-1.8 26.5-6.5 17.4-4zM519.4 82.3l-.6 0 -.6 1.6 .9 0zM406.9 75.9l.8 .9 1.2 .6zM406.1 75.4l-.2 .2 .2-.2 .7 .9zM465.4 60.1l-.5 1.7 .3 .3 .5-1.4z"/>
<path fill="#0045ff" stroke="#0045ff" d="M462.1 97.3l-.3 .4 .5 .9 .3-.5zM460.6 96.9l-.2 .2 .7 1zM459.6 97.3l-.3-.4 -.7 .2 .2 .3zM456.8 96.4l.5 .5 .8 0 -.3-.3zM520.2 82.2l-.6 .1 -.5 1.8 .7-.3zM410.1 76.9l.3 .8 1.8 .9 .7 .1 .5 .4 8 3.1 4.4 2 2.6 .9 6.8 3 1.5 .3 6.7 3 1.5 .4 2 1 4.9 1.9 -.4-.9 -5.5-2 -8.6-3.7 -1.5-.4 -6.7-3 -2.7-.9 -4.3-2 -1.2-.2zM463.6 59.7l-.4 1.2 .1 .3zM465.1 59.6l-.5 1.7 .2 .4 .5-1.5z"/>
<path fill="#004dff" stroke="#004dff" d="M462.3 96.9l-.1 .3 .5 1 .2-.5zM459.4 96.9l.3 .4 .2-.1 -.2-.4zM457.9 96.6l.3 .3 .9 0 -.3-.5zM451.6 93.9l.7 1 4 1.3 -.4-.9 -2.6-.6zM520.6 82.1l-.4 .3 -.4 1.5 .4-.3zM406.7 75.2l.5 .9 3.1 1.6 -.5-.9zM467.8 60.2l-.4 1.5 2.3 1.2 41.4 17 5.2 1.9 .6-1.6 -.1-.3 -1.6-.3 -5.6-2.2 -13-5.5 -3.9-1.3 -4.4-2 -2.6-.9 -7.1-3.1 -6.5-2.5 -3.3-1.5 -.7-.7zM464.7 58.9l-.5 1.8 .4 .5 .3-1.5z"/>
<path fill="#0055ff" stroke="#0055ff" d="M461.1 96.6l-.3 .2 .5 1 .3-.5zM458.9 96.4l.3 .4 .5-.1 .4 .5 .3-.3 -.1-.3 -.5 .2 -.4-.6zM456.1 95.3l.5 1 1 .1 -.5-1zM520.9 81.8l-.3 .4 -.4 1.6 .4-.4zM517.1 80.1l-.7 1.7 1.8 .3 .4-1.8zM405.7 74.3l.1 .3 -.2 0 .2 .5 1.1 .7 -.6-1zM405.8 74.9l.1-.1 .2 .3 -.2 .1zM405.7 74.7l.1-.1 .1 .2 -.1 .1zM466.9 59.2l-.5 1.7 1 .7 .4-1.8zM464.3 58.1l-.6 1.8 .5 .7 .4-1.5z"/>
<path fill="#005dff" stroke="#005dff" d="M460.3 96.4l.4 .4 -.1-.4zM461.4 96.1l-.2 .3 .5 1 .4-.3zM459.8 95.9l-.2 .2 .2 .6 .3-.1zM457.2 95.4l.5 1 .9-.1 -.5-.9zM521.4 81.7l-.5 .4 -.3 1.6 .3-.4zM519.6 80.4l-.9 0 -.5 1.8 1-.1zM408.6 75.6l.5 .8 3.1 1.4 2.5 .9 2 1 .7 .1 3.5 1.6 1.2 .3 4.3 2 2.7 .9 6.7 3 1.5 .3 8.6 3.8 6.3 2.4 -.6-1 -1.2-.3 -.7-.5 -.8-.1 -5.5-2.4 -1.1-.2 -6.7-3 -2.7-.9 -4.3-2 -1.5-.4 -6.8-3 -2.6-.9zM405.3 73.9l-.1 .2 .4 .2 -.2 .1 .3 0 -.1 .3 .1-.1 .2 .3zM469.6 60.6l.1 .2 2.4 1.1 6.5 2.5 7.1 3.2 2.6 .8 4.4 2 3.9 1.4 14.8 6.3 3.2 1.1 .1-.1 -4.4-1.7 -.7-.5 -1.2-.2 -7.1-3.1 -1.5-.4 -13.7-5.9 -1.5-.4zM466.4 58.6l-.6 1.8 .4 .4 .2 0 .4-1.5z"/>
<path fill="#0065ff" stroke="#0065ff" d="M460.9 96.1l-.3 .2 .2 .4 .3-.3zM461.8 95.7l-.2 .2 .6 1.2 .1-.4zM458.3 95.3l-.1 .1 .4 .8 .3 .1zM451.8 93.2l.5 1 3.5 1 -.5-.9 -1.4-.2zM521.7 81.3l-.8 2.1 .4-.3zM520.4 80.2l-.7 .2 -.5 1.8 .5 0 .2-.3zM514.7 79.2l3 .9 -.1-.3 -.7 0 -1.5-.6zM406.3 74.3l.9 1.1 1.6 .8 -.5-.9zM467.6 59.6l1.8 1.1 -.1-.4 -1.6-.9zM465.8 57.8l-.5 1.8 .4 .7 .6-1.6zM464.1 57.6l-.5 1.8 .1 .4 .5-1.6z"/>
<path fill="#006dff" stroke="#006dff" d="M460.1 95.8l.3 .5 -.1-.5zM458.6 95.3l.6 .9 .1-.3 -.4-.7zM455.4 94.3l.5 .9 1.2 .1 -.5-.9zM520.8 80.1l-.4 .3 -.5 1.7 .4-.2zM517.8 79.9l.3 .3 .8 0zM408.4 75.2l.4 .4 3 1.1 1.6 .9 6.9 2.6 6.8 3 1.5 .4 4.3 2 2.7 .8 6.7 3 1.1 .3 8.3 3.4 -12.8-5.4 -2.6-.9 -4.4-2 -3.8-1.4 -4.4-2 -3.3-1.1 -8.3-3.6 -.8-.1zM405.4 73.6l.4 .7 .9 .8 -.5-.9zM474.6 61.2l-.4 1.2 10.4 4.4 1.5 .4 4.3 2 2.7 .9 6.7 3 1.5 .3 6 2.7 .4-1.7 -3.9-1.5 -2-1 -1.5-.3 -6.7-3 -1.5-.4 -6.8-3 -6.9-2.6 -1.6-.9 -1.1-.3 -.9-.5zM466.8 58.7l0 .2 .8 .5zM465.6 57.6l-.5 1.7 .1 .3 .5-1.7z"/>
<path fill="#0076ff" stroke="#0076ff" d="M460.6 95.4l-.3 .3 .3 .5 .3-.3 .3 .4 .2-.4 -.1-.3 -.4 .3zM458.9 95.1l.5 1 .3-.4 -.4-.8zM456.7 94.4l.5 .9 .5 0 -.5-1zM451.8 92.9l.6 .5 2.8 .8 -.1-.3zM521.2 80.1l-.4 .2 -.5 1.8 .4-.4zM518.9 80.3l.9 0 0-.2 -.7 0zM507.8 74.6l-.4 1.5 6.4 2.6 3.1 1 .5-1.6 -2.3-.7zM406.1 73.8l.6 .6 1.7 .9zM468.4 57.9l-.3 1.7 2.5 1.3 3.1 1.4 .5 0 .4-1.2 -.2-.3 -2.6-1zM465.2 56.8l-.5 1.9 .2 .5 .5-1.5z"/>
<path fill="#007fff" stroke="#007fff" d="M461.1 94.8l-.4 .5 .2 .5 .3-.4 .4 .4 .2-.4 -.2-.3 -.3 .3zM459.7 94.6l-.4 .2 .6 1 .3-.2zM457.3 94.3l.5 1 .6-.1 -.5-1zM455.2 93.9l.1 .3 1 .1 -.1-.2zM520.4 79.9l-.5 .3 .4 0zM521.6 79.8l-.4 .4 -.5 1.6 .4-.2zM517.6 78.1l-.5 1.6 1.6 .2 .5-1.6zM406.7 73.8l.4 .6 4.2 2 .8 .2 16 6.7 3.8 1.4 14.2 6 1.1 .2 .7 .5 5.9 2.2 -.5-.8 -2.2-.6 -10.2-4.3 -3.8-1.3 -13.8-5.9 -1.5-.4 -5.9-2.6 -5-1.9zM467.6 57.2l-.5 1.6 .8 .6 .4-1.6zM464.8 55.9l-.5 1.9 .4 .8 .4-1.5z"/>
<path fill="#0087ff" stroke="#0087ff" d="M459.9 94.2l-.2 .2 .6 1.2 .3-.4zM457.9 94.1l.5 1 .4 0 -.4-1zM457.1 94.2l-.2-.3 -.6 .2 .1 .2zM453.6 92.9l.3 .7 1.4 .2 -.4-.6zM521.9 79.4l-.3 .5 -.5 1.8 .3-.1zM520.2 78.3l-.9 .1 -.5 1.5 1-.1zM405.3 72.8l.4 .6 1.1 .8 -.5-.8zM465.7 57.2l-.1 .2 .2 .2zM466.9 56.6l-.5 1.6 .7 .5 .3-1.6z"/>
<path fill="#0090ff" stroke="#0090ff" d="M461.2 94.4l-.1 .3 .2 .6 .3-.4zM457.6 93.8l-.5 .1 .1 .3 .5-.1zM458.7 93.7l-.3 .2 .5 1 .3-.3zM455.1 93.2l.3 .7 1.2 0 -.4-.6zM520.6 78.3l-.4 .3 -.4 1.3 .4-.1zM404.7 72.2l.1 .2 -.2 0 .2 0 .6 .8zM465.3 56.4l-.1 .3 .4 .6zM466.6 56.1l-.5 1.6 .2 .4 .5-1.4zM464.7 55.3l-.6 2.1 .1 .3 .6-2z"/>
<path fill="#0099ff" stroke="#0099ff" d="M460.4 93.6l-.3 .5 .6 1.1 .2-.6zM458.2 93.6l-.5 .3 .5 0zM456.9 93.1l-.6 .2 .4 .6 .6-.1zM521.3 78.1l-.6 .2 -.5 1.6 .7-.3zM405.6 72.2l.5 1 .6 .5 4.2 2 5 1.9 5.9 2.6 1.5 .4 13.8 5.8 3.8 1.4 4.8 2.1 1.1 .3 .8 .5 .7 .1 2.8 1.3 2.7 .7 -.5-1 -5.1-1.6 -.8-.5 -1.1-.3 -7.1-3.1 -1.5-.4 -13.8-5.8 -1.5-.4 -5.8-2.6 -.8-.2 -.5-.3 -7.2-2.9zM470.1 56.9l-.4 1.7 2.1 1.1 3.9 1.6 1.1 .3 7.1 3.1 1.4 .4 6.8 3 1.5 .3 6.7 3 1.5 .4 9 3.9 2.8 .9 2.3 1 .5-2 -3.1-1 -12.1-5.2 -1.5-.3 -6.8-3 -1.5-.4 -6.7-3 -9.6-3.8 -4.8-2.2zM464.9 55.6l-.1 .2 .4 .8zM466.2 55.4l-.5 1.7 .4 .5 .3-1.4z"/>
<path fill="#00a2ff" stroke="#00a2ff" d="M459.1 93.3l-.2 .1 .7 1.2zM458.6 93.2l-.3 .2 .1 .4 .3-.2zM457.2 92.9l-.1 .2 .3 .7 .3-.2zM453.4 91.9l.5 1 1.5 .3 -.6-1.1zM521.7 77.8l-.4 .4 -.4 1.5 .4-.4zM516.6 75.7l-.5 1.9 2.2 .5 .5-1.9zM404.7 71.6l.5 1 .7 .5 -.5-1zM468.7 55.7l-.6 1.9 1.5 .8 .5-1.8zM465.8 54.6l-.5 1.7 .4 .6 .4-1.3z"/>
<path fill="#00acff" stroke="#00acff" d="M460.7 93.1l-.3 .3 .7 1.2 .1-.4zM459.4 92.8l-.2 .4 .5 1.1 .2-.5zM457.4 92.9l.5 .7 .2-.3 -.3-.5zM454.9 92.1l.7 1.1 .6 0 -.6-1.1zM522.1 77.6l-.4 .3 -.4 1.5 .4-.3zM518.9 76.2l-.6 2 1 .1 .6-2zM467.9 54.9l-.6 2 .5 .5 .3 0 .5-1.6z"/>
<path fill="#00b5ff" stroke="#00b5ff" d="M458.1 92.4l-.3 .3 .4 .7 .2-.5zM456.4 91.8l-.7 .3 .6 1.1 .6-.3zM520.7 76.2l-.6 .1 -.7 2 .8-.1zM405.7 71.6l.4 .7 .7 .6 4.8 2.2 5 1.8 5.8 2.7 1.5 .3 13.8 5.9 1.5 .4 7.1 3.1 6.3 2.3 -.5-1 -3.7-1.3 -9.7-4.1 -3.9-1.4 -4.4-2 -3.8-1.4 -4.4-2 -2.6-.8 -5.9-2.7 -2.3-.7zM467.4 54.4l-.5 1.9 .3 .5 .6-1.7zM465.4 53.6l-.5 1.7 .4 .9 .4-1.5z"/>
<path fill="#00beff" stroke="#00beff" d="M458.2 92.3l.5 .8 -.3-.8zM459.9 92.2l-.3 .5 -.3-.3 -.2 .5 .1 .2 .4-.4 .5 1.2 .2-.7zM456.6 91.8l.5 1.1 .2-.1 -.4-1zM452.2 90.6l.5 1 1.7 .3 -.5-1.1zM522.4 77.2l-.3 .5 -.4 1.5 .4-.1zM521.1 76.1l-.3 .1 -.5 2 .4-.3zM404.4 70.6l.5 1.1 1 .6 -.3-.9zM467.1 53.8l-.5 2 .2 .5 .5-1.6z"/>
<path fill="#00c8ff" stroke="#00c8ff" d="M458.6 92.1l-.2 .1 .4 .7zM460.2 91.7l-.3 .4 .5 1.2 .3-.5zM457.2 91.4l-.3 .3 .5 1.1 .3-.4zM454.1 90.9l.5 1 .8 0 -.6-1.1zM522.8 76.8l-.4 .6 -.2 1.4zM521.8 75.8l-.6 .3 -.5 2.1 .6-.3zM403.8 70.1l1 1.5 -.5-1.2zM470.2 56.6l11.9 5.1 2.6 .9 6.7 3 1.5 .3 6.8 3 1.5 .4 7.1 3.1 7.8 3 .2-.2 .4-1.5 -.3-.4 -6.1-2.2 -6.2-2.8 -1.5-.4 -6.8-3 -2.6-.8 -5.6-2.5 -1.4-.4 -12.1-5 -3.3-1.6zM466.7 53.2l-.5 2 .2 .5 .5-1.6zM465.2 52.9l-.5 1.9 .1 .4 .5-1.5z"/>
<path fill="#00d1ff" stroke="#00d1ff" d="M458.9 91.4l-.3 .5 .3 .8 .4-.4 .3 .3 .2-.8 -.4 .5zM457.6 91.1l-.3 .2 .5 1.3 .3-.5zM454.9 90.8l.5 1 .4 .1 .1-.2 -.3-.9zM516.8 73.4l-.5 2 2.3 .7 .5-2.2zM411.1 72.9l.3 .9 32.3 13.3 -.4-.8 -.5-.4 -3.5-1.5 -1.5-.3 -6.7-3 -1.5-.4 -4.4-2 -3.9-1.4zM469.2 53.4l-.5 2.2 1.5 .8 .5-2z"/>
<path fill="#00dbff" stroke="#00dbff" d="M455.6 90.7l.5 1.1 .3-.1 -.5-1zM443.3 86.2l.8 1.1 7.2 2.8 1.4 .2 -.5-.9 -3.1-.8zM522.3 75.6l-.2 .2 -.5 1.9 .2-.3zM520.2 74.1l-1 0 -.5 2 1 .1zM404.8 70.1l.4 .7 1 .8 5.1 2.2 -.5-1 -4.1-1.6zM468.7 52.9l-.6 2 .5 .5 .5-2.1zM466.3 52.2l-.5 2.1 .4 .8 .4-1.7z"/>
<path fill="#00e5ff" stroke="#00e5ff" d="M459.4 90.7l-.3 .6 .3 .9 .3-.5 .2 .2 .3-.3 -.1-.3 -.3 .3zM457.9 90.7l-.1 .1 .6 1.3zM455.9 90.6l.5 1 .4 .1 -.5-1.3zM452.3 89.4l.5 1 1 .2 -.5-1zM522.7 75.2l-.4 .5 -.5 1.9 .4-.4zM520.8 74.1l-.5 0 -.5 2.1 .4 0 .2-.4zM403.7 69.2l.4 .9 1 .7 -.4-.9zM402.8 68.7l.5 1.1 0-.5zM468.1 52.2l-.7 2.1 .5 .5 .7-1.7z"/>
<path fill="#00efff" stroke="#00efff" d="M456.3 90.3l.6 1.3 .3-.4 -.5-1zM453.4 89.7l.5 .9 .9 0 -.5-1zM523.1 74.7l-.4 .6 -.5 2 .2-.2zM521.7 73.8l-.8 .3 -.5 2 .8-.3zM467.7 51.6l-.6 2.1 .3 .5 .5-1.9zM465.9 51.2l-.5 2.1 .4 .9 .4-1.8z"/>
<path fill="#00f9ff" stroke="#00f9ff" d="M459.6 90.3l-.2 .3 .4 .8 .1-.5zM458.4 90.1l-.3 .5 .5 1.2 .3-.7zM457.1 89.7l-.4 .4 .6 1.1 .3-.5zM454.4 89.6l.5 1 .3 0 .1-.3 -.2-.7zM523.3 74.3l-.7 2.6 .3-.5zM522.1 73.7l-.4 .4 -.5 1.8 .4-.2zM404.7 69.1l.5 1.1 1.5 .9 8.7 3.5 5.9 2.6 3.9 1.4 4.4 2 1.5 .3 6.7 3 1.5 .4 3.1 1.5 9 3.4 -.5-1 -.5-.4 -3.8-1.2 -.8-.5 -1.1-.3 -4.8-2.1 -3.8-1.4 -12.7-5.4 -1.5-.3 -4.3-2 -10-4zM472.8 53.1l-.5 2.1 4.5 2 1.1 .2 7 3.2 1.5 .3 6.8 3 1.5 .4 4.4 2 2.6 .9 7.1 3.1 1.1 .3 3.9 1.7 .6 0 .5-1.9 -.2-.2 -12.8-5 -4.3-2 -2.7-.9 -6.7-3 -1.5-.4zM467.4 51.2l-.5 2.1 .2 .3 .5-1.9zM465.7 50.4l-.5 2.3 .2 .5 .4-1.8z"/>
<path fill="#00fffa" stroke="#00fffa" d="M457.3 89.4l-.1 .2 .5 1.2zM455.1 89.4l.5 1 .2-.3 -.4-.8zM450.9 88.1l.7 1.1 1.5 .2 -.5-1.1zM522.4 73.4l-.3 .4 -.5 2 .3-.4zM515.1 70.3l-.7 2.1 2.4 .9 1.4 .3 .5-2.2zM403.4 68.2l.5 1 1.2 .9 -.5-1.2zM470.3 51.7l-.5 2.1 2.4 1.3 .5-2z"/>
<path fill="#00ffee" stroke="#00ffee" d="M458.8 89.2l-.4 .7 .7 1.3 .2-.9zM457.4 89.2l-.1 .1 .5 1.4 .1-.4zM455.4 89.2l.5 1 .3 0 -.4-1.1zM452.7 88.3l.5 1.1 .9 0 -.5-1.1zM522.8 73.2l-.4 .4 -.5 2 .4-.2zM518.8 71.6l-.5 2.1 1.4 .2 .5-2.2zM402.7 67.4l.5 1.2 .6 .6 -.5-1.1zM469.3 50.8l-.5 2.1 .9 .8 .5-2.3zM466.8 49.8l-.5 2.1 .4 1 .5-2z"/>
<path fill="#01ffe1" stroke="#01ffe1" d="M456.1 88.7l-.3 .2 .5 1.2 .3-.5zM453.8 88.2l-.1 .1 .5 1.1 .4 0 -.5-1.1zM523.2 72.7l-.4 .7 -.4 1.9 .4-.6zM521.1 71.7l-.8 0 -.5 2.2 .8-.1zM407.2 69.3l.5 1.1 3.4 1.5 5 1.9 5.8 2.6 1.5 .4 4.4 2 3.9 1.4 4.4 2 8.1 3.1 .5 .4 1.1 .2 .8 .5 -.5-1.2 -10.5-4.1 -5.7-2.5 -2.6-.9 -6.7-3 -1.5-.4 -3.2-1.5 -.7-.1zM468.9 50.3l-.5 2.1 .3 .4 .5-1.7 0-.5z"/>
<path fill="#02ffd5" stroke="#02ffd5" d="M459.1 88.7l-.3 .4 .6 1.3 .2-.5zM457.9 88.6l-.3 .5 .5 1.3 .2-.7zM454.3 88.1l-.2 .1 .7 1.2 .1-.2zM446.2 85.3l.5 1.1 4.1 1.5 .6 0 -.6-1.1zM521.8 71.4l-.6 .3 -.6 2.2 .6-.1zM403.7 67.4l.7 1.4 3.2 1.6 -.7-1.2zM468.6 49.8l-.5 2.1 .2 .5 .5-1.8z"/>
<path fill="#03ffc9" stroke="#03ffc9" d="M456.4 88.3l-.2 .3 .5 1.1 .2-.5zM454.4 88.1l.7 1.2 .3-.5 -.3-1zM450.9 86.8l.7 1.3 1.2 .1 -.5-1.3zM523.6 72.2l-.4 .7 -.4 2 .4-.7zM522.2 71.4l-.4 .3 -.5 2.1 .4-.1zM402.9 66.9l.4 1 .9 .7 -.6-1.3zM468.2 49.1l-.5 2.2 .2 .5 .5-1.7zM466.4 48.6l-.5 2.3 .4 .9 .4-2 .2 0 .3 .6z"/>
<path fill="#05ffbe" stroke="#05ffbe" d="M456.7 88.1l-.1 .1 .5 1.1zM458.3 87.7l-.2 .6 -.3 0 -.4 .5 .2 .1 .3-.5 .5 1.4 .3-1zM452.4 86.9l.5 1.3 .7 0 -.4-1.1zM523.9 71.8l-.3 .6 -.4 1.9zM522.6 71.2l-.4 .5 -.4 1.9 .4-.4zM402.3 66.3l.4 1 .5 .5 -.5-1.2zM472.1 50.1l-.5 2.2 1.1 .6 11.1 4.5 2.9 1.4 1.5 .4 6.7 3 2.7 .9 4.3 2 3.9 1.3 4.8 2.2 1.1 .2 .7 .5 1.2 .3 2.6 1.1 1 .2 .5-1.8 -.1-.4 -3.4-1.1 -5.5-2.4 -2.6-.9 -6.8-3 -1.5-.4 -4.4-2 -3.8-1.3 -5.9-2.7 -.8-.1 -6.2-2.7 -1-.3zM468.1 48.7l-.7 2.2 .2 .3z"/>
<path fill="#07ffb2" stroke="#07ffb2" d="M456.9 87.7l-.1 .2 .4 1.2 .1-.5zM455.6 87.3l-.4 .3 .6 1.2 .3-.5zM453.2 86.9l.5 1.3 .2-.1 -.3-1.2zM522.9 70.9l-.3 .5 -.4 2 .4-.5zM517.8 68.8l-.5 2.1 1.8 .5 .6-2.2zM405.1 67.2l.7 1.4 2.8 1.2 2.2 .8 6.5 2.8 3.3 1.2 4.3 2 2.7 .8 5.6 2.5 2.6 .9 12.1 5 -.6-1.4 -4.9-1.7 -13-5.5 -1.5-.4 -6.7-3 -1.5-.4 -5.9-2.6 -5-1.9zM470.7 49.1l-.5 2.2 1.2 .9 .5-2.3zM467.8 48.2l-.5 2.2 .1 .4 .5-2zM466.3 47.9l-.6 2.3 .2 .6z"/>
<path fill="#0affa7" stroke="#0affa7" d="M458.4 87.2l-.1 .4 .5 1.3 .3-.5zM457.3 86.9l-.4 .7 .5 1.1 .3-.8zM455.9 86.8l-.2 .4 .5 1.2 .2-.5zM453.8 86.7l-.2 .1 .6 1.3 .1-.3zM447.6 84.6l.5 1.2 3 .9 -.5-1.3 -1.7-.2zM523.2 70.8l-.3 .4 -.2 1.6zM520.8 69.3l-1-.1 -.6 2.2 1.1 0zM402.8 65.8l.6 1.4 2.2 1.2 -.8-1.3zM469.9 48.3l-.6 2.4 .8 .5 .5-2.3zM467.4 47.2l-.3 2.2 -.3 0 .5 .9 .4-1.9z"/>
<path fill="#0eff9c" stroke="#0eff9c" d="M458.2 87.4l-.4 .8 .1 .1zM454.3 86.4l-.4 .3 .5 1.2 .5-.2 0-.3zM450.7 85.4l.5 1.3 1 .1 -.5-1.2zM521.6 69.3l-.7 0 -.6 2.3 .8 0zM401.9 65.1l.7 1.2 .6 .6 -.5-1.2zM469.6 47.8l-.7 2.3 .3 .3 .6-2z"/>
<path fill="#11ff92" stroke="#11ff92" d="M456.2 86.6l-.1 .1 .5 1.4 .1-.4zM454.6 86.2l-.2 .1 .7 1.3zM451.8 85.6l.5 1.2 .8 0 -.5-1.2zM523.7 70.1l-.4 .7 -.4 2 .4-.6zM522.3 68.9l-.6 .3 -.5 2.4 .5-.2 .2-.3zM469.2 47.3l-.6 2.3 .2 .5 .6-2.2z"/>
<path fill="#16ff87" stroke="#16ff87" d="M456.4 86.2l-.2 .2 .6 1.4zM457.7 86.1l-.4 .7 .5 1.3 .3-.7 .2 0 .1-.6 -.2 .5zM454.9 85.8l-.2 .3 .5 1.3 .4-.5zM452.6 85.4l.6 1.4 .2-.1 -.5-1.3zM524.2 69.4l-.5 .9 -.4 2.1zM522.7 68.9l-.3 0 -.5 2.4 .3 0zM404.2 65.7l.5 1.2 4.1 1.9 .8 .1 10.1 4.4 1.5 .4 6.7 3 1.5 .4 4.4 2 2.6 .8 11.5 4.8 -.3-1.1 -.4-.4 -1.5-.4 -9.8-4.1 -1.5-.4 -6.7-3 -1.5-.4 -6.8-3 -1.5-.3 -3.1-1.5 -2.2-.8 -1.7-.9 -1.1-.2zM473.7 48.7l-.4 1.9 1.5 .7 40.8 16.6 .2-.2 .4-1.6 -10.9-4.3 -12.6-5.4 -1.5-.3zM468.8 46.6l-.6 2.2 .2 .6 .7-2zM467.1 45.9l-.7 2.4 .5 1.1 .4-2z"/>
<path fill="#1bff7d" stroke="#1bff7d" d="M456.8 85.4l-.4 .7 .5 1.3 .3-.8zM453.2 85.2l-.3 .1 .8 1.4 .1-.3zM447.6 83.4l.5 1.3 .8 .4 1.7 .2 -.7-1.2zM523.1 68.7l-.4 .5 -.4 2 .4-.5zM516.3 66.1l-.5 1.8 3.1 1 .5-1.8zM402.2 64.4l.6 1.3 1.8 1.1 -.5-1.2zM471.6 47.3l-.5 2 2.1 1.1 .4-1.8 -1.5-.8zM468.6 46.2l-.5 2.2 .1 .3 .5-2z"/>
<path fill="#20ff74" stroke="#20ff74" d="M457.9 85.4l-.2 .5 .5 1.3 .2-.6zM455.3 85.3l-.2 .4 .6 1.4 .2-.7zM453.8 84.9l-.5 .3 .6 1.4 .4-.5zM450.1 84.1l.6 1.2 1 .1 -.5-1.2zM524.4 68.9l-.7 3 .4-.6zM523.6 68.3l-.4 .3 -.5 2.3 .2-.1zM519.6 67.1l-.5 1.8 1.3 .3 .4-2zM401.7 63.9l.5 1.3 .5 .4zM470.8 46.7l-.5 1.9 .6 .6 .5-2zM468.3 45.7l-.5 2.2 .1 .4 .5-1.9zM466.8 45.1l-.5 2.5 .1 .6 .5-2z"/>
<path fill="#26ff6a" stroke="#26ff6a" d="M455.7 84.9l-.3 .3 .7 1.4zM454.1 84.7l-.2 .1 .5 1.4 .2-.4zM451.3 84.2l.5 1.2 .5 0 .1-.2 -.3-1.1zM523.6 68.6l-.5 2.1 .2-.4zM521.7 67.2l-.8 0 -.3 2 .6 0zM401.2 63.4l.4 1.2 .5 .5 -.5-1.3zM473.7 48.4l2.7 1.4 6.2 2.4 2 1 .7 .1 5.9 2.6 1.5 .4 4.4 2 3.8 1.4 12.2 5.1 2.7 1 .3-.1 -.8-.5 -4.5-1.6 -6.2-2.8 -1.5-.4 -6.8-3 -1.5-.3 -6.7-3 -6.9-2.7 -1.6-.8 -1.2-.3 -4.6-2.1zM470.2 46.1l-.5 1.8 .5 .5 .5-1.6z"/>
<path fill="#2dff61" stroke="#2dff61" d="M455.8 84.6l-.1 .2 .5 1.5 .1-.5zM457.2 84.4l-.4 .9 .5 1.4 .3-1zM454.4 84.2l-.2 .4 .5 1.3 .2-.5zM452.1 83.9l.5 1.4 .2 0 -.4-1.4zM522.4 66.9l-.6 .3 -.5 2 .6-.3zM516.1 65.8l1.7 .8 1.5 .3 .3-.1 0-.2 -1.4-.3 -1.9-.7zM402.9 64.1l.7 1.1 3.2 1.6 4.1 1.5 7 3.1 1.5 .4 6.8 3 1.5 .4 14.5 6.1 6.4 2.3 -.4-.9 -.4-.3 -3.7-1.2 -12.2-5.1 -1.5-.4 -6.7-3 -1.5-.4 -6.8-3 -7.1-2.7zM471.7 46.9l-.1 .3 .5 .5 1.3 .7 .3-.1 0-.2zM469.9 45.7l-.3 1.9 .1 .2 .4-1.5zM467.9 44.6l-.5 2.3 .4 .9 .4-1.9z"/>
<path fill="#34ff58" stroke="#34ff58" d="M452.7 83.7l-.3 .1 .7 1.4 .1-.3zM448.2 82.6l.5 1.1 1.6 .2 -.5-1.1zM522.8 66.8l-.2 .1 -.5 2 .3-.3zM519.6 66.9l1.2 .2 .1-.3 -1.2-.1zM401.8 63.2l.4 1.1 1.1 .6 -.5-1zM400.3 62.3l.3 .1 -.2 .3 .3 0 -.1 .4 .1-.2 .1 .3 -.2-.8zM470.8 46.2l0 .4 .8 .5 0-.3zM469.6 45.1l-.4 1.8 .2 .7 .4-1.7z"/>
<path fill="#3bff50" stroke="#3bff50" d="M457.4 83.8l-.2 .5 .5 1.5 .2-.6zM456.3 83.7l-.5 .7 .6 1.5 .3-.8zM454.8 83.7l-.2 .4 .5 1.5 .2-.7zM453.1 83.4l-.3 .3 .6 1.4 .3-.4zM450.1 82.9l.3 1 .8 .2 -.4-1zM523.2 66.7l-.3 .1 -.5 2 .3 0zM521.7 66.7l-.6 .1 -.2 .3 .8 0zM402.8 63.7l2 1.2 1 .3 5.5 2.5 4.1 1.5 6.8 3 1.5 .4 6.7 3 1.5 .3 4.4 2 3.9 1.4 .7 .5 7 2.6 -.1-.2 -3.9-1.3 -13.2-5.6 -1.5-.4 -5.6-2.5 -1.4-.3 -5.6-2.5 -5-1.9 -3.5-1.6 -.8-.2 -3.4-1.5zM400.9 62.4l.5 1.2 .7 .6 -.4-1.1zM470.3 45.6l-.1 .3 .5 .5zM469.2 44.3l-.4 1.9 .3 .7 .3-1.6z"/>
<path fill="#44ff48" stroke="#44ff48" d="M455.1 83.3l-.2 .3 .5 1.5 .2-.5zM453.6 83.1l-.4 .2 .6 1.5 .3-.5zM451.4 82.7l-.6 .2 .5 1.2 .6-.3zM448.1 82.3l1.8 .5 -.2-.2zM524.7 66.7l-.9 3.1 .5-.9zM521.8 66.7l0 .4 .3 0 0-.4zM523.6 66.4l-.3 .2 -.5 2.1 .3-.1zM470.1 45.3l-.2 .3 .3 .1zM473.3 45.2l-.5 2.4 2.1 1.1 3.5 1.5 1.2 .2 5.8 2.7 2.7 .8 6.7 3 1.5 .4 6.8 3 1.5 .4 6.2 2.7 .8 .2 4.3 1.8 1.9 .7 .6-2.3 -.1-.2 -10-3.8 -22-9.2 -6.9-2.7zM469.1 43.9l-.5 2 .1 .3zM467.6 43.1l-.5 2.6 .3 1.1 .4-2z"/>
<path fill="#4dff40" stroke="#4dff40" d="M451.6 82.7l.5 1.1 .2 0 -.4-1.1zM522.9 66.4l-.7 .3 0 .2 .5-.1zM523.9 66.1l-.3 .6 -.4 1.7 .4-.2zM518.6 63.7l-.7 2.4 1.9 .5 .5-2.5zM404.1 63.2l.7 1.5 2.5 1.1 .8 .1 12.8 5.5 2.7 .9 5.6 2.5 1.5 .4 6.7 3 8.3 3.2 -.5-1.2 -1-.6 -3-1 -9.9-4.3 -1.5-.4 -4.4-2 -3.8-1.3zM469.7 44.7l-.1 .2 .3 .5zM472.1 44.2l-.7 2.5 1.3 .7 .5-2.3zM468.8 43.4l-.5 2 .1 .4 .5-1.6z"/>
<path fill="#56ff38" stroke="#56ff38" d="M455.3 82.9l-.2 .3 .6 1.5zM456.7 82.7l-.4 .9 .5 1.6 .3-1.1zM453.8 82.7l-.2 .2 .6 1.5 .2-.6zM451.9 82.6l.7 1.1 0-.6 -.3-.7zM451.4 82.6l-.7 .1 .2 .1zM445.2 80.1l.6 1.3 3.3 1 -.8-1.5zM520.4 64.1l-.5 2.5 1 .1 .7-2.5zM401.7 61.9l.2 .9 .5 .6 1.5 .9 .7 .1 -.7-1.3zM400.3 61.7l-.1 .2 .4 .4zM469.3 43.8l-.1 .4 .4 .6zM471.4 43.6l-.6 2.3 .5 .7 .6-2.5zM467.4 42.2l-.6 2.6 .3 .8 .5-2.9z"/>
<path fill="#60ff31" stroke="#60ff31" d="M452.3 82.3l.5 1.3 .3-.5 -.3-.9zM454.3 82.1l-.4 .5 .7 1.3 .2-.6zM448.6 81.1l.6 1.3 1 .2 -.6-1.5zM522.3 64.1l-.6 .1 -.6 2.5 .5 0 .2-.4zM400.7 61.1l.6 1.3 .6 .5 -.5-1.3zM470.8 42.9l-.5 2.4 .4 .6 .6-2.5zM468.4 42.2l-.5 2.1 .4 1 .4-1.6z"/>
<path fill="#6bff2b" stroke="#6bff2b" d="M456.9 82.1l-.2 .5 .5 1.6 .2-.8zM455.7 81.9l-.4 .9 .5 1.5 .4-1zM449.9 81.1l-.1 .1 .5 1.4 .5 0 .1-.3 -.3-1.1zM523.1 63.8l-.7 .3 -.6 2.5 .6 0 .3-.4zM400.3 60.6l.6 1.6 .3 .1zM470.7 42.6l-.6 2.5 .1 .2z"/>
<path fill="#76ff24" stroke="#76ff24" d="M453.1 81.8l-.2 .1 .5 1.2zM454.6 81.7l-.2 .2 .5 1.5zM450.6 81.1l.5 1.3 .5-.1 -.5-1.4zM524.7 64.9l-.4 .9 -.2 1.8 .3-.9zM523.4 63.7l-.3 .5 -.4 2.2 .4-.5zM470.2 41.9l-.5 2.5 .2 .5 .7-2.1z"/>
<path fill="#82ff1e" stroke="#82ff1e" d="M453.4 81.3l-.2 .4 .4 1.1 .2-.5zM454.8 81.2l-.2 .4 .5 1.5 .1-.5zM451.1 80.8l.7 1.5 -.4-1.2zM523.8 63.4l-.4 .5 -.3 2.3 .3-.5zM401.3 60.4l1 1.8 2.1 1.1 12.8 5.1 4.4 2 3.8 1.4 4.4 2 1.5 .4 9.9 4.2 3 1 .7 .5 2.8 .8 -.4-1.3 -.4-.2 -1.3-.3 -16-6.6 -1.5-.4 -6.8-3 -1.5-.3 -5.9-2.7 -8.8-3.5zM399.7 59.7l0 .7 .2 0 -.1 .3 .6 .7zM475.8 43.4l-.5 2.5 9.6 4.2 1.4 .3 6.8 3 2.6 .9 4.4 2 3.8 1.4 4.4 2 1.4 .4 .5 .3 .7 .2 4.4 1.8 .3-.2 .3-2.3 -.8-.5 -1.2-.2 -5.1-2.3 -1.1-.2 -6.8-3 -1.5-.4 -4.3-2 -2.7-.9zM469.8 41.1l-.5 2.5 .4 .7 .4-2.1zM468.1 40.7l-.5 2.1 .3 1.4 .4-2 .3 0 .2 .9 -.2-1.4 -.2 .2z"/>
<path fill="#8fff19" stroke="#8fff19" d="M453.1 81.4l-.3 .2 .1 .2zM456.1 80.8l-.4 1 .6 1.6 .3-1.1zM451.3 80.7l.6 1.5 .3-.4 -.5-1.2zM447.3 79.3l.5 1.5 1.5 .1 -.6-1.3zM525.2 64.2l-.4 .6 -.4 2.3zM524.2 63.1l-.4 .6 -.4 2.2 .4-.5zM516.1 59.9l-.5 2.5 2 .9 2 .5 .5-2.6zM400.6 59.8l.5 1.5 .7 .5 -.6-1.5zM473.1 41.9l-.5 2.7 2.6 1.3 .5-2.5z"/>
<path fill="#9cff14" stroke="#9cff14" d="M453.9 80.6l-.3 .6 -.3-.3 -.2 .4 .1 .3 .2-.4 .3 .1 .2 1.1 .4-.5zM451.7 80.4l.6 1.5 .3-.3 -.5-1.3zM455.2 80.2l-.4 .9 .5 1.6 .3-1.1zM448.8 79.6l.6 1.3 .7 0 -.5-1.2zM520.2 61.2l-.5 2.6 1.4 .3 .6-2.7zM399.9 59.2l.3 1 .7 1 -.3-1.3zM472.3 41.3l-.5 2.5 .6 .6 .5-2.6zM469.7 40.6l-.6 2.6 .1 .2z"/>
<path fill="#aaff0f" stroke="#aaff0f" d="M456.3 80.2l-.2 .5 .6 1.7 .1-.7zM454.1 80.2l-.2 .2 .5 1.4zM452.2 80.1l-.1 .1 .6 1.5zM449.6 79.6l.6 1.3 .5 0 .1-.2 -.4-1.3zM524.6 62.7l-.4 .6 -.4 2.4 .4-.6zM522.4 61.4l-.6 0 -.6 2.7 .7 0zM402.6 60.3l.5 1 2 1 40.1 16.4 -.3-.9 -.5-.4 -4.6-1.6 -4.7-2.1 -1.5-.4 -6.8-3 -1.4-.4 -5.6-2.5 -3.9-1.3 -5.8-2.7 -1.2-.2zM471.6 40.4l-.5 2.7 .6 .6 .5-2.5zM469.4 40.1l-.5 2.6 .2 .4 .5-2.3zM467.8 39.7l-.4 2.1 .2 .8 .3-1.7z"/>
<path fill="#b8ff0b" stroke="#b8ff0b" d="M453.8 80.3l-.4 .5 .2 .3zM452.4 79.8l.4 1.6 .1-.3zM450.6 79.2l.3 1.6 .3-.4 -.4-1.2zM444.9 77.7l.4 1 2.6 .6 -.5-1zM522.9 61.3l-.3 .1 -.5 2.7 .5-.4zM400.8 59.3l.6 1.1 1.4 .8 -.4-1zM471.4 40.2l-.6 2.5 .1 .2zM468.2 40.1l-.1 .5 .3 1.2z"/>
<path fill="#c7ff07" stroke="#c7ff07" d="M454.3 79.8l-.2 .3 .5 1.3 .1-.6zM452.8 79.3l-.2 .4 .5 1.5 .2-.6zM450.9 78.9l.4 1.7 .3-.4 -.4-1.3zM447.7 78.4l.5 1 .9 0 -.4-1zM523.6 61.1l-.5 .2 -.5 2.6 .6-.5zM403.9 60.6l.2 .3 4.8 2.2 1.2 .2 5.8 2.6 3.9 1.4 13.8 5.9 1.5 .4 2 1 5.5 2.1 -.4-.5 -3.4-1.3 -6.2-2.7 -1.5-.4 -6.8-3 -1.5-.4 -6.7-3 -1.5-.3 -3.2-1.5zM399.8 58.4l.4 .9 .9 .8 -.4-.9zM471.2 39.8l-.5 2.5 .1 .3 .5-2.2zM469.1 38.7l-.5 2.6 .3 1.3 .4-2.3z"/>
<path fill="#d7ff04" stroke="#d7ff04" d="M455.6 78.9l-.4 1.2 .5 1.6 .2-1.3zM451.4 78.6l-.2 .2 .5 1.5 .2-.4zM448.8 78.4l.4 1 .2 0 -.2-1zM442.4 76.3l.4 .5 4.4 1.4 -.3-.5 -.7 0zM525.4 61.4l-.5 1 -.3 2.4zM523.9 60.9l-.3 .5 -.4 2.3 .4-.5zM400.8 58.8l.3 .6 2.8 1.5 -.1-.5 -1.7-.7zM474.3 40.7l-.4 1.6 2.5 1.4 .8 .1 3.1 1.5 5 1.9 7.1 3.1 2.7 .9 4.3 2 1.5 .4 6.8 3 1.1 .2 .5 .4 4.1 1.5 .5 .4 4.5 1.6 .3-.3 .2-1.5 -5.1-1.7 -.7-.5 -1.2-.3 -4.7-2.1 -3.9-1.4 -13.7-5.8 -1.5-.4 -5.9-2.6 -4.6-1.8zM470.8 39.1l-.6 2.6 .4 .6 .5-2.2z"/>
<path fill="#e7ff02" stroke="#e7ff02" d="M454.7 78.7l-.4 1 -.1-.3 -.1 .5 .2-.2 .5 1.2 .3-1.1zM453.3 78.6l-.4 .6 .5 1.5 .3-.8zM451.6 78.4l.5 1.7 .1-.4zM449.9 78.2l-.6 .2 .3 1 .7-.2zM447.2 77.8l.4 .5 .7 0 -.1-.4zM524.4 60.6l-.5 .6 -.3 2.2 .3-.5zM519.1 59.1l-.4 1.6 2 .5 .4-1.8zM400.1 58.2l.1 .5 .6 .5 -.1-.5zM473.1 39.8l-.4 1.8 1.1 .6 .4-1.6zM467.9 39.2l-.1 .4 .3 .7zM470.4 38.2l-.6 2.6 .4 .8 .5-2.3z"/>
<path fill="#f8ff00" stroke="#f8ff00" d="M455.8 78.2l-.2 .6 .5 1.8 .2-.8zM451.9 78.1l-.2 .2 .6 1.5 .1-.4zM450.2 78.1l.2 1.1 .3-.4 -.3-.7zM448.3 77.9l.1 .4 .8 0 -.1-.4zM521.2 59.4l-.4 1.8 1 .1 .4-1.7zM404.2 59.2l.5 1.5 .6 .4 2.3 .7 7 3.1 1.5 .4 6.7 3 1.5 .4 6.8 3 1.5 .4 2 1 7 2.7 -.5-1.5 -1.3-.4 -.7-.5 -1.2-.2 -4.7-2.1 -3.9-1.4 -4.4-2 -2.6-.9 -6.9-3 -1.3-.4zM399.3 57.6l.8 1 -.2-.5zM398.8 56.9l0 .8 .1-.3 .3 .5 0-.6 -.1 .1zM398.4 56.6l.2 .3 .1-.2 -.1 .1zM472.3 39.1l-.4 1.7 .8 .5 .2-1.6zM468.7 37.1l-.5 2.6 .4 1.5 .3-2.3z"/>
<path fill="#fffa00" stroke="#fffa00" d="M454.6 78.4l-.4 .9 .1 .3zM453.4 78.2l-.1 .2 .5 1.7 .1-.5zM450.6 77.8l.2 1.1 .3-.3 -.3-.8zM449.1 77.8l.3 .5 0-.4zM441.2 74.4l.5 1.5 4.9 1.7 -.5-1.5 -2.8-.8zM524.8 60.2l-.4 .6 -.5 2.4 .4-.6zM522.8 59.4l-.5 .2 -.4 1.7 .5 0zM400.2 57.2l.7 1.6 3.7 1.9 -.7-1.6 -.3 0zM398.6 56.6l.2 .7 .1-.2 .2 .1 -.4-.1 .1-.3zM475.9 41.4l4 1.8 2.3 .7 5.9 2.7 1.5 .3 6.7 3 2.6 .9 4.4 2 8.1 3.1 .5 .4 1.2 .3 2.7 1.2 .9 .1 .1-.6 -.9-.5 -1.1-.2 -12.1-5.2 -3.9-1.3 -4.4-2 -2.6-.9 -11.7-5 -.8-.1 -3.2-1.5zM471.9 38.6l-.3 1.6 .2 .5 .4-1.4zM470.2 37.7l-.5 2.6 .1 .4 .5-2.3z"/>
<path fill="#fff200" stroke="#fff200" d="M453.7 77.6l-.3 .5 .7 1.6zM449.9 77.6l-.5 .2 .3 .4 .4-.1zM455.1 77.4l-.4 1.2 .5 1.3 .2-1.3zM452.3 77.4l-.4 .5 .7 1.7 .2-.7zM451.1 77.4l-.3 .3 .4 1 .2-.5zM446.2 76.1l.5 1.5 1.5 .2 -.6-1.5zM525.2 59.7l-.4 .7 -.5 2.4 .4-.6zM523.6 59.3l-.7 .1 -.3 1.9 .6-.1zM516.9 57.3l-.2 .8 3.7 1.2 .3-.7 -.1-.3 -1.2-.1zM399.4 56.6l.7 1.5 .6 .5 -.6-1.5zM473.7 39.2l-.3 .7 2.3 1.4 .2-.9zM471.6 37.9l-.4 1.7 .2 .5 .4-1.3 0-.6zM470.1 37.1l-.7 2.7 .2 .4z"/>
<path fill="#ffea00" stroke="#ffea00" d="M447.7 76.3l.6 1.5 .6 0 -.3-1.5zM526.1 59.9l-.8 3.5 .4-.7zM523.9 59.2l-.2 .1 -.4 1.8 .4-.4zM520.8 58.4l-.2 .9 1.1 .1 .1-.8zM399.1 56.2l.2 1.1 .6 .6zM472.9 38.4l-.2 .9 .7 .5 .2-.7zM471.2 37.2l-.4 1.6 .3 .6 .3-1.2zM468.4 36.1l-.5 2.7 .3 .8 .4-2.3z"/>
<path fill="#ffe200" stroke="#ffe200" d="M450.6 77.2l-.4 .2 .2 .4 .3-.1zM451.4 76.9l.3 1.3 .1-.5zM452.7 76.7l-.4 .6 .6 1.8 .3-.9zM454.1 76.6l-.4 .8 .5 1.8 .2-1.1zM448.8 76.1l-.2 .1 .5 1.5 .2 0zM524.3 58.9l-.4 .5 -.2 1.5 .4-.5zM521.9 58.6l-.1 .8 .6 0 .2-.8zM398.4 55.3l.3 .8 -.3 .3 .3 0 .5 .8 -.3-1.1zM472.6 38.1l-.3 .7 .3 .4 .2-.6zM469.7 35.7l-.6 2.7 .3 1.3 .5-2.4z"/>
<path fill="#ffda00" stroke="#ffda00" d="M450.9 76.8l-.2 .3 .1 .5 .3-.3zM455.3 76.7l-.2 .6 -.2-.2 -.3 1.2 .1 .1 .4-1.1 .5 1.4 .1-.9zM448.9 76.1l.5 1.6 .5-.4 -.5-1.4zM523.4 58.4l-.7 .2 -.1 .8 .6-.1zM401.2 56.4l.6 1.7 1.8 .8 4.6 1.8 5.9 2.6 2.6 .9 5.6 2.5 2.6 .9 4.4 2 3.9 1.3 4.7 2.2 1.2 .2 .7 .5 4.8 1.8 -.8-1.8 -2.6-.7 -3.9-1.8 -2.6-.9 -5.6-2.5 -2.7-.8 -4.3-2 -2.7-.9 -5.6-2.5 -5.6-2.1 -2.9-1.4 -.7-.1zM471.9 37.3l-.1 .8 .4 .7 .2-.9zM470.8 36.2l-.4 1.7 .4 .8 .3-1.3z"/>
<path fill="#ffd200" stroke="#ffd200" d="M452.9 76.3l-.2 .3 .6 1.7zM451.9 76.3l-.3 .5 .3 1 .3-.4zM449.4 75.8l.7 1.6 -.4-1.6zM444.1 73.9l.6 1.7 2.1 .5 -.6-1.7zM525.9 58.3l-.8 3.6 .5-1.1zM523.8 58.3l-.2 .1 -.3 .9 .3-.1zM399.6 55.4l.5 1.5 1.6 1 -.5-1.3zM475.8 37.3l-.6 2.5 .2 .4 36.3 15 .7 .1 5.9 2.4 .6-2.5 -.1-.4 -1.9-.5 -5.5-2.4 -1.5-.3 -6.7-3 -2.6-.9 -4.4-2 -2.6-.9 -5.7-2.5 -6.8-2.6z"/>
<path fill="#ffca00" stroke="#ffca00" d="M453.1 75.8l-.2 .4 .5 1.7 .2-.7zM449.9 75.4l-.2 .3 .5 1.6 .4-.5zM446.4 74.6l.5 1.5 .7 .1 -.4-1.5zM525.2 58.2l-.4 .2 -.2 1.9 .3-.6zM524.2 58.2l-.3 .1 -.2 .9 .2-.1zM519.1 54.9l-.7 2.8 2.7 .7 .5-2.8 -1.2-.2zM398.9 54.8l.4 1.4 .6 .6 -.3-1.2zM474.2 36.3l-.5 2.8 1.4 .8 .6-2.7zM471.3 36.2l-.1 .9 .2 .5 .2-.9zM470.6 35.7l-.4 1.7 .1 .4 .4-1.4z"/>
<path fill="#ffc200" stroke="#ffc200" d="M452.3 75.4l-.4 .8 -.1-.4 -.4 .4 .2 .5 .3-.5 .4 1 .3-.5zM454.4 75.2l-.3 1.2 .5 1.8 .3-1.3 .2 .3 .2-.9 -.2 .5 -.3 0zM450.3 75.1l-.2 .2 .6 1.6 .2-.5zM447.2 74.6l.5 1.6 .7-.1 -.5-1.5zM524.6 57.9l-.3 .2 -.2 .8 .2-.1zM525.6 57.7l-.4 .7 -.3 1.5 .4-.7zM522.8 55.7l-1.1-.1 -.5 2.8 1 0zM398.3 54.2l.3 1.1 .7 1 -.4-1.4zM473.4 35.6l-.5 2.7 .7 .6 .5-2.7zM470.4 35.1l-.3 1.7 .1 .5zM469.2 33.8l-.5 2.9 .4 1.6 .5-2.4 0-.8z"/>
<path fill="#ffba00" stroke="#ffba00" d="M450.6 74.8l-.2 .1 .7 1.7zM448.2 74.3l-.3 .1 .8 1.7 .1-.3zM523.6 55.6l-.7 .1 -.6 2.7 .6 0zM399.8 54.8l.4 1 4.4 2.1 .7 .2 2.9 1.3 5.6 2.2 4.4 2 3.9 1.3 4.3 2 2.7 .9 12.1 5.1 4 1.3 -.5-1 -1-.1 -2.8-1 -9.7-4.2 -3.9-1.3 -4.4-2 -2.6-.9 -5.6-2.5 -11-4.4zM470.9 35.2l-.1 .9 .3 .6 .1-.9zM473.1 35.1l-.5 2.6 .2 .5 .5-2.4z"/>
<path fill="#ffb200" stroke="#ffb200" d="M452.6 75.1l-.3 .2 .4 1.1 .1-.5zM453.6 74.6l-.5 1 .6 1.7 .2-1.2zM450.8 74.4l-.1 .3 .5 1.6 .1-.4zM448.3 74.3l.8 1.6 .2-.3 -.4-1.4zM444.9 73.3l.4 .9 1.4 .2 -.3-.8zM525.3 57.2l-.5 1.1 .4-.2zM523.9 55.4l-.3 .5 -.5 2.5 .2 0 .3-.5zM399.1 54.2l.2 .9 .6 .5 -.2-.9zM397.4 50.9l-.1 .9 .1-.2 .2 .1 -.2 .5 .5 .7zM472.4 34.3l-.5 2.6 .5 .9 .5-2.9zM469.9 33.6l-.2 2 .4 1.1 .2-2.1z"/>
<path fill="#ffaa00" stroke="#ffaa00" d="M452.2 74.9l-.4 .7 .1 .5zM452.8 74.6l-.2 .3 .3 1.2 .2-.4zM454.7 74.2l-.3 .9 .5 1.7 .3-1zM448.9 74.1l.7 1.6 -.4-1.6zM446.6 73.6l.2 .8 .6 0 -.2-.8zM524.3 55.3l-.4 .5 -.3 2.5 .3-.5zM398.3 53.4l.3 .9 .6 .6 -.3-.8zM470.8 34.7l-.2 .7 .1 .4zM472.3 33.9l-.6 2.8 .1 .2zM469.1 32.7l-.7 3.1 .3 .8 .5-3.2z"/>
<path fill="#ffa200" stroke="#ffa200" d="M451.2 73.8l-.4 .5 .6 1.8 .3-.8zM449.4 73.7l-.2 .2 .5 1.7 .2-.5zM447.9 73.3l-.6 .3 .3 .8 .6-.2zM524.7 55.2l-.4 .5 -.4 2.5 .3-.1zM397.8 52.9l.6 1.3 -.2-.9zM471.9 33.1l-.6 2.8 .3 .7 .6-2.4z"/>
<path fill="#ff9a00" stroke="#ff9a00" d="M449.8 73.2l-.2 .4 .5 1.6 .2-.5zM448.2 73.2l0 .7 .4 .3 .1-.3zM525.1 54.8l-.4 .6 -.4 2.5 .3-.1zM477.1 34.7l-.5 2.9 8.7 3.7 .8 .1 .5 .4 1.3 .4 4.4 2 3.9 1.4 4.4 2 2.6 .8 6.7 3 1.5 .4 5.5 2.4 .5-.1 .5-2.4 -.1-.4 -.7-.1 -9.8-4.1 -3.9-1.4 -4.3-2 -2.7-.9z"/>
<path fill="#ff9200" stroke="#ff9200" d="M453.2 73.2l-.4 1.1 -.2-.5 -.3 .5 .3 .5 .2-.4 .3 1 .3-.8 .3 0 .4 1.6 .2-1.5 -.4-1.5 -.3 1.2zM451.7 72.9l-.5 .8 .6 1.7 .3-1zM450.1 72.9l.3 1.9 .2-.4zM525.4 54.4l-.3 .8 -.4 2.5 .4-.8zM518.1 51.4l-.7 2.9 3.4 1 .5-2.9zM396.9 50.3l.2 1.4 .5 1.1 -.3-.4zM475.2 33.6l-.6 2.8 1.8 1 .5-2.8zM471.6 32.1l-.7 2.8 .4 .9 .5-2.5zM469.6 31.7l-.4 2 .5 1.4 .1-1.5 .3 0 .3 .8 0-1.1 -.2-.9 -.1 .8 -.3 0z"/>
<path fill="#ff8a00" stroke="#ff8a00" d="M450.3 72.6l-.2 .2 .6 1.8zM521.4 52.4l-.5 2.9 1.5 .3 .5-2.9zM396.9 49.1l.5 3 -.1-1.2 .3 0 .1 .8 -.5-2.6 -.1 .5zM397.2 50.6l.1-.2 .1 .3 -.1 .1zM474.2 32.7l-.5 3 .7 .6 .7-2.9z"/>
<path fill="#ff8200" stroke="#ff8200" d="M451.8 72.6l-.1 .2 .5 1.8zM449.2 72.6l-.4 .2 .4 1 .2-.2zM525.8 53.9l-.4 .9 -.3 2.5 .3-.7zM523.4 52.6l-.3 .1 -.5 2.9 .3 0zM473.6 32.1l-.5 2.6 .5 .9 .5-3zM471.3 31.4l-.5 2.9 .1 .5 .5-2.5z"/>
<path fill="#ff7900" stroke="#ff7900" d="M452.9 72.6l-.3 1.1 .2 .5 .3-.8zM454.2 72.2l-.3 .9 .5 1.7 .3-1zM449.6 72.2l-.3 .2 .3 1 .2-.3zM450.6 71.9l-.3 .5 .5 1.8 .3-.8zM527.1 54.6l-.3 .3 -.4 2.2 .4-.8zM526.3 53.3l-.5 1 -.4 2.6 .4-.8zM524.1 52.4l-.5 .2 -.5 3 .5-.2zM396.7 50.6l.2 1.1 0-1zM473.2 31.4l-.5 2.8 .2 .6 .5-2.5zM471.1 30.8l-.5 2.8 .2 .6 .4-2.4z"/>
<path fill="#ff7100" stroke="#ff7100" d="M452.1 71.9l-.3 .5 .5 1.8 .1-.8zM453.6 71.7l-.4 1.4 .4 1.2 .2-.9zM524.7 52.3l-.5 .1 -.5 3 .4-.1zM473.1 31.2l-.7 2.9 .2 .2zM469.4 30.4l-.3 2.2 .1 .6 .4-1.6 .3 1.6 0-2.4 -.1-.4 -.2 .8z"/>
<path fill="#ff6900" stroke="#ff6900" d="M449.9 71.6l-.1 .3 .3 .8 .1-.5zM525.3 51.9l-.5 .3 -.6 3 .5-.1zM476.2 32.6l-.3 1.1 .2 .4 4 1.8 10.7 4.3 5.6 2.5 2.7 .9 4.3 2 3.9 1.3 6.3 2.8 6.2 2.2 .3-.2 .1-1.1 -2.8-.9 -.5-.4 -6.1-2.2 -5.6-2.5 -2.6-.9 -4.4-2 -2.6-.9 -5.7-2.5 -5.6-2.1 -2.9-1.4 -.7-.1zM472.8 30.7l-.5 2.9 .1 .3 .5-2.5z"/>
<path fill="#ff6100" stroke="#ff6100" d="M451.1 70.9l-.4 .9 .5 1.8 .4-1zM520.3 50.6l-.2 1.5 1.7 .3 .3-1.3zM475.1 31.7l-.3 1.4 1 .7 .3-1.4zM472.4 29.9l-.5 2.8 .3 .7 .5-2.3zM470.7 29.1l-.5 3 .4 1.3 .3-2.2z"/>
<path fill="#ff5900" stroke="#ff5900" d="M450.3 70.8l-.2 .5 .2 1 .3-.5zM452.4 70.6l-.3 1.2 .5 1.8 .3-1.2 .3 .5 .2-1.6 -.1-.2 -.4 1.3zM525.7 51.7l-.4 .5 -.5 2.7 .4-.6zM522.2 51.1l-.3 1.3 1 .2 .3-1.5zM474.3 30.9l-.4 1.4 .8 .6 .2-1.3z"/>
<path fill="#ff5100" stroke="#ff5100" d="M453.8 70.8l-.2 .8 .3 1.2 .2-1zM451.2 70.6l-.1 .2 .6 1.9zM527.2 53.3l-.4 1.5 .3-.4zM526.1 51.2l-.3 .2 -.6 3.2 .4-.7zM523.9 51.1l-.6 0 -.2 1.5 .6-.2zM473.9 30.4l-.3 1.4 .2 .4 .4-1.1zM472.1 28.8l-.5 2.9 .2 .9 .5-2.3z"/>
<path fill="#ff4900" stroke="#ff4900" d="M451.4 69.9l-.1 .5 .5 1.8 .1-.8zM524.3 50.9l-.2 0 -.3 1.5 .3-.1zM473.4 29.8l-.2 1.5 .4 .4 .2-1.4z"/>
<path fill="#ff4100" stroke="#ff4100" d="M450.7 69.9l-.3 .7 .3 1 .2-.5zM526.4 50.7l-.3 .7 -.5 2.8 .3-.8zM524.9 50.7l-.5 .2 -.2 1.4 .5-.1zM473.1 29.2l-.3 1.1 .3 .8 .2-1.5zM471.8 28.2l-.5 2.9 .1 .5 .5-2.4zM470.3 27.1l-.5 3 .4 1.8 .4-2.5z"/>
<path fill="#ff3900" stroke="#ff3900" d="M452.8 68.9l-.4 1.5 .5 1.9 .4-1.4 .3 .5 .1-1.2 -.1-.3 -.2 .8 -.2 0zM525.6 50.3l-.5 .4 -.3 1.4 .5-.3zM471.7 27.4l-.6 3.2 .1 .3 .5-2.3z"/>
<path fill="#ff3100" stroke="#ff3100" d="M450.8 69.4l.3 1.3 .1-.6zM451.8 68.3l-.4 1.4 .7 1.9 .2-1.5zM526.8 50.1l-.4 .8 -.5 2.8 .5-1zM472.7 28.2l-.3 1.4 .3 .7 .4-1.2z"/>
<path fill="#ff2900" stroke="#ff2900" d="M525.9 50.1l-.2 .1 -.3 1.5 .3-.1zM395.8 44.6l.1 1.6 .5 1.9 -.1-1.7z"/>
<path fill="#ff2100" stroke="#ff2100" d="M451.1 68.7l-.2 .6 .4 .9 .1-.4zM526.3 49.6l-.2 .2 -.3 1.5 .3-.2zM472.3 27.2l-.2 1.5 .3 .7 .3-1.3zM471.3 26.1l-.6 2.7 .4 1.6 .5-2.7zM470.2 26.1l-.6 3 .2 .8 .5-3.2z"/>
<path fill="#ff1900" stroke="#ff1900" d="M453.1 67.8l-.3 1 .5 1.9 .3-1.1z"/>
<path fill="#ff1100" stroke="#ff1100" d="M526.7 48.9l-.5 2 .2-.3zM527.6 48.3l-.8 3.9 .4-1.1zM472.2 26.4l-.4 1.5 .1 .4 .4-1.2z"/>
<path fill="#ff0900" stroke="#ff0900" d="M452.2 66.7l-.4 1.5 -.4-1 -.2 1.5 .2 .9 .3-1.3 .2 0 .5 1.9 .3-1.8z"/>
<path fill="#ff0100" stroke="#ff0100" d="M472.1 26.1l-.4 1.1 .1 .6 .4-1.5z"/>
<path fill="#f80000" stroke="#f80000" d="M395.6 42.3l0 .5 -.3 0 0-.4 .5 3.4 -.1-1.2 .2 0 .2 .6zM395.6 44.1l.1-.2 .1 .3 -.1 .1zM471.2 26.1l-.6 0 -.3 .7 .4 1.9z"/>
<path fill="#e80000" stroke="#e80000" d="M451.8 65.6l-.2 1.1 .2 1.4 .4-1.5 .6 2 .1-1.3 -.3-1.7 -.4 .8zM471.4 26.1l.3 1 .1-1z"/>
<path fill="#e00000" stroke="#e00000" d="M528.3 46.2l-.4 1.1 -.2 2.4z"/>
<path fill="#c80000" stroke="#c80000" d="M452.2 64.1l-.3 .8 .3 1.4 .2-.9z"/>
<path fill="#a80000" stroke="#a80000" d="M528.6 44.3l-.5 2.3 .3-.9z"/>
</g>
<line x1="394.5" y1="90.7" x2="394.5" y2="38.3" stroke="#888" stroke-width="0.5"/>
<line x1="394.5" y1="38.3" x2="470.9" y2="20.1" stroke="#888" stroke-width="0.5"/>
<line x1="470.9" y1="20.1" x2="528.5" y2="43.7" stroke="#888" stroke-width="0.5"/>
<line x1="528.5" y1="96.1" x2="528.5" y2="43.7" stroke="#888" stroke-width="0.5"/>
<line x1="394.5" y1="90.7" x2="452.1" y2="114.3" stroke="#888" stroke-width="0.5"/>
<line x1="452.1" y1="114.3" x2="528.5" y2="96.1" stroke="#888" stroke-width="0.5"/>
<text x="396.5" y="18.4" font-family="Liberation Sans, Arial, sans-serif" font-weight="bold" font-size="5.37">Diffraction field (<tspan font-style="italic" font-weight="normal">α</tspan>=20.801°, Group B + Group R, 6<tspan dy="-2.3" font-size="3.4">th</tspan><tspan dy="2.3">)</tspan></text>
<rect x="534.2" y="20" width="3.9" height="94.8" fill="url(#jetv)"/>
<text x="536.7" y="17.5" font-family="Liberation Sans, Arial, sans-serif" font-weight="bold" font-size="3.6" text-anchor="middle">rad</text>
<text x="539.1" y="32.1" font-family="Liberation Sans, Arial, sans-serif" font-weight="bold" font-size="3.7">-20</text>
<text x="539.1" y="42.2" font-family="Liberation Sans, Arial, sans-serif" font-weight="bold" font-size="3.7">-40</text>
<text x="539.1" y="52.4" font-family="Liberation Sans, Arial, sans-serif" font-weight="bold" font-size="3.7">-60</text>
<text x="539.1" y="62.6" font-family="Liberation Sans, Arial, sans-serif" font-weight="bold" font-size="3.7">-80</text>
<text x="539.1" y="72.8" font-family="Liberation Sans, Arial, sans-serif" font-weight="bold" font-size="3.7">-100</text>
<text x="539.1" y="82.9" font-family="Liberation Sans, Arial, sans-serif" font-weight="bold" font-size="3.7">-120</text>
<text x="539.1" y="93.1" font-family="Liberation Sans, Arial, sans-serif" font-weight="bold" font-size="3.7">-140</text>
<text x="539.1" y="103.3" font-family="Liberation Sans, Arial, sans-serif" font-weight="bold" font-size="3.7">-160</text>
<text x="539.1" y="113.4" font-family="Liberation Sans, Arial, sans-serif" font-weight="bold" font-size="3.7">-180</text>
<text transform="translate(385 64) rotate(-90)" font-family="Liberation Sans, Arial, sans-serif" font-weight="bold" font-size="5.42" text-anchor="middle">Phase (rad)</text>
<text x="392.2" y="89.9" font-family="Liberation Sans, Arial, sans-serif" font-size="2.4" font-weight="bold" fill="#333" text-anchor="end">-200</text>
<text x="392.2" y="84.8" font-family="Liberation Sans, Arial, sans-serif" font-size="2.4" font-weight="bold" fill="#333" text-anchor="end">-180</text>
<text x="392.2" y="79.8" font-family="Liberation Sans, Arial, sans-serif" font-size="2.4" font-weight="bold" fill="#333" text-anchor="end">-160</text>
<text x="392.2" y="74.7" font-family="Liberation Sans, Arial, sans-serif" font-size="2.4" font-weight="bold" fill="#333" text-anchor="end">-140</text>
<text x="392.2" y="69.6" font-family="Liberation Sans, Arial, sans-serif" font-size="2.4" font-weight="bold" fill="#333" text-anchor="end">-120</text>
<text x="392.2" y="64.5" font-family="Liberation Sans, Arial, sans-serif" font-size="2.4" font-weight="bold" fill="#333" text-anchor="end">-100</text>
<text x="392.2" y="59.4" font-family="Liberation Sans, Arial, sans-serif" font-size="2.4" font-weight="bold" fill="#333" text-anchor="end">-80</text>
<text x="392.2" y="54.3" font-family="Liberation Sans, Arial, sans-serif" font-size="2.4" font-weight="bold" fill="#333" text-anchor="end">-60</text>
<text x="392.2" y="49.3" font-family="Liberation Sans, Arial, sans-serif" font-size="2.4" font-weight="bold" fill="#333" text-anchor="end">-40</text>
<text x="392.2" y="44.2" font-family="Liberation Sans, Arial, sans-serif" font-size="2.4" font-weight="bold" fill="#333" text-anchor="end">-20</text>
<text x="392.2" y="39.1" font-family="Liberation Sans, Arial, sans-serif" font-size="2.4" font-weight="bold" fill="#333" text-anchor="end">0</text>
<text x="401.4" y="97.5" font-family="Liberation Sans, Arial, sans-serif" font-size="2.4" font-weight="bold" fill="#333" text-anchor="middle">-2</text>
<text x="411" y="101.5" font-family="Liberation Sans, Arial, sans-serif" font-size="2.4" font-weight="bold" fill="#333" text-anchor="middle">-1</text>
<text x="420.6" y="105.4" font-family="Liberation Sans, Arial, sans-serif" font-size="2.4" font-weight="bold" fill="#333" text-anchor="middle">0</text>
<text x="430.2" y="109.3" font-family="Liberation Sans, Arial, sans-serif" font-size="2.4" font-weight="bold" fill="#333" text-anchor="middle">1</text>
<text x="439.8" y="113.3" font-family="Liberation Sans, Arial, sans-serif" font-size="2.4" font-weight="bold" fill="#333" text-anchor="middle">2</text>
<text x="449.4" y="117.2" font-family="Liberation Sans, Arial, sans-serif" font-size="2.4" font-weight="bold" fill="#333" text-anchor="middle">3</text>
<text x="462.2" y="116.5" font-family="Liberation Sans, Arial, sans-serif" font-size="2.4" font-weight="bold" fill="#333" text-anchor="middle">-2</text>
<text x="474.9" y="113.5" font-family="Liberation Sans, Arial, sans-serif" font-size="2.4" font-weight="bold" fill="#333" text-anchor="middle">-1</text>
<text x="487.7" y="110.4" font-family="Liberation Sans, Arial, sans-serif" font-size="2.4" font-weight="bold" fill="#333" text-anchor="middle">0</text>
<text x="500.4" y="107.4" font-family="Liberation Sans, Arial, sans-serif" font-size="2.4" font-weight="bold" fill="#333" text-anchor="middle">1</text>
<text x="513.1" y="104.4" font-family="Liberation Sans, Arial, sans-serif" font-size="2.4" font-weight="bold" fill="#333" text-anchor="middle">2</text>
<text x="525.9" y="101.3" font-family="Liberation Sans, Arial, sans-serif" font-size="2.4" font-weight="bold" fill="#333" text-anchor="middle">3</text>
<text x="411.8" y="118.9" font-family="Liberation Sans, Arial, sans-serif" font-weight="bold" font-size="5.4">y</text>
<text x="415.7" y="121.2" font-family="Liberation Sans, Arial, sans-serif" font-weight="bold" font-size="4.2">1</text>
<text x="418.7" y="118.9" font-family="Liberation Sans, Arial, sans-serif" font-weight="bold" font-size="5.3">(mm)</text>
<text x="478.6" y="119.8" font-family="Liberation Sans, Arial, sans-serif" font-weight="bold" font-size="5.4">x</text>
<text x="482" y="122.6" font-family="Liberation Sans, Arial, sans-serif" font-weight="bold" font-size="4.2">1</text>
<text x="485.5" y="120" font-family="Liberation Sans, Arial, sans-serif" font-weight="bold" font-size="5.2">(mm)</text>
<text x="464" y="134.6" font-family="Liberation Serif, serif" font-weight="bold" font-size="7.1" letter-spacing=".35" text-anchor="middle">(c)</text>
<line x1="266.7" y1="244.5" x2="343.1" y2="226.3" stroke="#ececec" stroke-width="0.3"/>
<line x1="289" y1="245.4" x2="231.4" y2="221.8" stroke="#ececec" stroke-width="0.3"/>
<line x1="231.4" y1="221.8" x2="231.4" y2="169.4" stroke="#ececec" stroke-width="0.3"/>
<line x1="343.1" y1="226.3" x2="343.1" y2="173.9" stroke="#ececec" stroke-width="0.3"/>
<line x1="257.1" y1="240.5" x2="333.5" y2="222.3" stroke="#ececec" stroke-width="0.3"/>
<line x1="301.8" y1="242.3" x2="244.2" y2="218.7" stroke="#ececec" stroke-width="0.3"/>
<line x1="244.2" y1="218.7" x2="244.2" y2="166.3" stroke="#ececec" stroke-width="0.3"/>
<line x1="333.5" y1="222.3" x2="333.5" y2="169.9" stroke="#ececec" stroke-width="0.3"/>
<line x1="247.5" y1="236.6" x2="323.9" y2="218.4" stroke="#ececec" stroke-width="0.3"/>
<line x1="314.5" y1="239.3" x2="256.9" y2="215.7" stroke="#ececec" stroke-width="0.3"/>
<line x1="256.9" y1="215.7" x2="256.9" y2="163.3" stroke="#ececec" stroke-width="0.3"/>
<line x1="323.9" y1="218.4" x2="323.9" y2="166" stroke="#ececec" stroke-width="0.3"/>
<line x1="237.9" y1="232.7" x2="314.3" y2="214.5" stroke="#ececec" stroke-width="0.3"/>
<line x1="327.2" y1="236.3" x2="269.6" y2="212.7" stroke="#ececec" stroke-width="0.3"/>
<line x1="269.6" y1="212.7" x2="269.6" y2="160.3" stroke="#ececec" stroke-width="0.3"/>
<line x1="314.3" y1="214.5" x2="314.3" y2="162.1" stroke="#ececec" stroke-width="0.3"/>
<line x1="228.3" y1="228.7" x2="304.7" y2="210.5" stroke="#ececec" stroke-width="0.3"/>
<line x1="340" y1="233.2" x2="282.4" y2="209.6" stroke="#ececec" stroke-width="0.3"/>
<line x1="282.4" y1="209.6" x2="282.4" y2="157.2" stroke="#ececec" stroke-width="0.3"/>
<line x1="304.7" y1="210.5" x2="304.7" y2="158.1" stroke="#ececec" stroke-width="0.3"/>
<line x1="218.7" y1="219.6" x2="295.1" y2="201.4" stroke="#ececec" stroke-width="0.3"/>
<line x1="295.1" y1="201.4" x2="352.7" y2="225" stroke="#ececec" stroke-width="0.3"/>
<line x1="218.7" y1="214.3" x2="295.1" y2="196.1" stroke="#ececec" stroke-width="0.3"/>
<line x1="295.1" y1="196.1" x2="352.7" y2="219.7" stroke="#ececec" stroke-width="0.3"/>
<line x1="218.7" y1="209.1" x2="295.1" y2="190.9" stroke="#ececec" stroke-width="0.3"/>
<line x1="295.1" y1="190.9" x2="352.7" y2="214.5" stroke="#ececec" stroke-width="0.3"/>
<line x1="218.7" y1="203.8" x2="295.1" y2="185.6" stroke="#ececec" stroke-width="0.3"/>
<line x1="295.1" y1="185.6" x2="352.7" y2="209.2" stroke="#ececec" stroke-width="0.3"/>
<line x1="218.7" y1="198.6" x2="295.1" y2="180.4" stroke="#ececec" stroke-width="0.3"/>
<line x1="295.1" y1="180.4" x2="352.7" y2="204" stroke="#ececec" stroke-width="0.3"/>
<line x1="218.7" y1="193.4" x2="295.1" y2="175.2" stroke="#ececec" stroke-width="0.3"/>
<line x1="295.1" y1="175.2" x2="352.7" y2="198.8" stroke="#ececec" stroke-width="0.3"/>
<line x1="218.7" y1="188.1" x2="295.1" y2="169.9" stroke="#ececec" stroke-width="0.3"/>
<line x1="295.1" y1="169.9" x2="352.7" y2="193.5" stroke="#ececec" stroke-width="0.3"/>
<line x1="218.7" y1="182.9" x2="295.1" y2="164.7" stroke="#ececec" stroke-width="0.3"/>
<line x1="295.1" y1="164.7" x2="352.7" y2="188.3" stroke="#ececec" stroke-width="0.3"/>
<line x1="218.7" y1="177.6" x2="295.1" y2="159.4" stroke="#ececec" stroke-width="0.3"/>
<line x1="295.1" y1="159.4" x2="352.7" y2="183" stroke="#ececec" stroke-width="0.3"/>
<line x1="295.1" y1="206.6" x2="295.1" y2="154.2" stroke="#888" stroke-width="0.5"/>
<line x1="218.7" y1="224.8" x2="295.1" y2="206.6" stroke="#888" stroke-width="0.5"/>
<line x1="295.1" y1="206.6" x2="352.7" y2="230.2" stroke="#888" stroke-width="0.5"/>
<g stroke-width=".5" fill-rule="evenodd" stroke-linejoin="round">
<path fill="#000088" stroke="#000088" d="M287.3 244.1l.6 1.2 .5 0 .8-.6zM302.3 240.3l.6 1.4 .5 0 .8-.5zM317.2 237.8l1.2 .3 .9-.5 -1.9-.8 .4 1zM332.4 233.3l.5 1 -.1 .1 .3 .2 .6-.2 .6-.5zM347.6 229.7l.5 1.2 .5 0 .8-.5zM218.8 224.6l57.5 23.6 3.4-.9 .1-.5 -5.2-2 -52.4-21.5 -.4 .6z"/>
<path fill="#000090" stroke="#000090" d="M287.2 243.4l.1 .5 1.9 .7 .2-.2zM280.2 241.9l2.1 1.2 1.8 .5 3.6 1.6 -.1-.3zM302.2 239.8l.5 .6 1.5 .7 .4-.3zM291.9 237.1l10.8 4.5 -.1-.3 -2.5-1.1 -1.5-.4 -3.5-1.6zM317.3 236.3l.1 .4 2 .7 .2-.2zM306.9 233.4l10.9 4.5 -.4-.3 -1.1-.3 -9.2-4zM332.4 232.7l0 .5 1.9 .6 .4-.1zM322.1 229.8l.3 .4 10.4 4.1zM347.4 229.1l.2 .5 2 .7 0-.4zM337.1 226.3l10.7 4.5 -.2-.4zM222.2 223.1l57.4 23.6 .3-.1 -.1-.3 -5.2-1.9 -2-1 -5-1.8 -35.8-14.9 -4.5-1.6 -4.9-2.3z"/>
<path fill="#000098" stroke="#000098" d="M287.1 242.9l.1 .4 2.2 1 .4-.4zM280.2 241.6l0 .2 7.2 3 -.2-.4zM302.2 239.3l0 .4 2.4 1 .2-.4zM292.1 236.7l0 .2 10.3 4.3 -1-.8 -3-1zM317.2 235.7l.1 .5 .4 .2 1.1 .3 .5 .4 .6-.3zM307.1 233.1l.1 .2 2.7 1.3 7.7 3 -.3-.4 -1.7-.5zM332.3 232.2l0 .4 2.4 1 .2-.4zM322.1 229.6l.1 .2 10.4 4.3 -.2-.4zM347.3 228.6l.3 .5 2.1 .8 .2-.3zM337.2 225.9l0 .3 10.5 4.2 -1.1-.7zM222.3 222.4l0 .3 5 2.2 4.5 1.7 35.8 14.8 5 1.9 2 1 5.3 2 -.1-.4 -1.5-.6 -1.1-.2z"/>
<path fill="#0000a0" stroke="#0000a0" d="M287.1 242.3l0 .5 2.7 1 .3-.4zM280.2 241.2l0 .2 7.1 3 -.1-.3zM302.1 238.7l.1 .5 2.4 1 .3 0 .2-.3zM292.1 236.3l0 .3 10.2 4.2 -1-.7zM317.2 235.1l0 .5 2.7 1.1 .3-.4zM307.2 232.8l.1 .3 10.1 4.1 -.2-.4 -2.6-.9zM332.2 231.6l.1 .5 2.6 1 .3-.4zM322.1 229.4l10.3 4.2 -.8-.7 -.8-.1 -3.5-1.6 -5.1-2zM347.2 227.8l.1 .6 2.8 1 0-.3zM337.2 225.6l0 .2 10.2 4.3 -.1-.4zM222.3 222.1l0 .2 5.1 2.3 52.5 21.3 -.3-.5 -2.4-.7 -2.3-1.1 -7.2-2.8z"/>
<path fill="#0000a8" stroke="#0000a8" d="M286.9 241.6l.2 .6 3 1.1 .1-.1 -.1-.3zM280.2 240.9l.4 .4 6.6 2.6 -.9-.6zM302.1 238.1l0 .5 3 1.2 .2-.4zM292.1 236.2l10.1 4.2 -.1-.3 -3.5-1.5 -1.8-.5 -4.1-1.9zM317.1 234.6l0 .3 3.1 1.3 .1-.3 -.4-.3zM307.2 232.4l0 .3 10.1 4.1 -.2-.4 -2.3-1 -1.5-.3zM332.1 230.8l.1 .6 3 1.2 .2-.4zM322.2 228.9l.1 .3 10 4 -.1-.4 -1.1-.2 -3.3-1.5zM347.2 227.3l.1 .5 2.9 1.3 .2-.4zM337.2 225.4l10.2 4.3 -.2-.4 -9.4-3.9zM222.3 221.7l0 .2 5.1 2.3 52.5 21.4 0-.4 -2.6-.9 -2.4-1.1 -7.2-2.8z"/>
<path fill="#0000b0" stroke="#0000b0" d="M286.9 241.2l.2 .4 3.1 1.3 .2-.3zM280.2 240.6l0 .2 6.9 2.8 -.2-.4zM301.9 237.6l.3 .5 3.1 1.2 .1-.2 -.3-.4zM292.2 235.7l.2 .4 9.8 4 -.1-.4 -.8-.4 -.7-.1zM316.9 233.8l.2 .6 3.2 1.3 .3-.3zM307.2 232.2l10 4.2 -.1-.3 -3.5-1.5 -1.8-.5 -4.1-1.9zM332.1 230.4l0 .3 3 1.4 .5-.2 -.2-.2zM322.3 228.6l0 .2 10 4 -.2-.4 -2.7-.8 -3.1-1.5zM347.2 226.8l.1 .5 3.1 1.3 .2-.3 -.4-.4zM337.3 224.9l.3 .4 9.7 4 0-.4zM222.3 221.6l45.4 18.7 12.2 4.8 0-.3 -2.6-.9 -2.4-1.1 -7.2-2.7 -33-13.8 -7.3-2.7 -4.8-2.3z"/>
<path fill="#0000b8" stroke="#0000b8" d="M286.8 240.6l.1 .5 3.5 1.3 .2-.2 -.4-.4 -1.5-.4zM280.2 240.2l.2 .4 6.7 2.6 -1-.8zM301.9 236.9l0 .5 3.5 1.4 .3-.2zM292.3 235.3l0 .4 9.8 3.9 -.2-.4 -1.7-.5zM316.9 233.4l.2 .4 3.5 1.5 .1-.2 -.1-.3zM307.3 231.8l.1 .3 9.8 4 -.1-.4zM332.1 229.8l0 .5 3.5 1.4 .1-.3 -.4-.3 -1.1-.3zM322.4 228.2l0 .2 9.8 4 -.1-.3zM347.1 226.2l0 .4 .8 .5 .8 .1 1.9 .9 .2-.3zM337.4 224.6l0 .3 9.9 3.9 -.2-.4 -2.7-.8zM222.4 220.9l0 .3 5 2.2 4.5 1.7 44.2 18.2 3.6 1.4 .4-.1 -12.4-4.9 -35.8-14.9 -4.5-1.6z"/>
<path fill="#0000c0" stroke="#0000c0" d="M286.8 240.1l0 .3 3.8 1.5 .1-.1 -.9-.6zM280.2 239.8l0 .3 6.7 2.7 -.1-.4zM301.8 236.4l.1 .4 3.8 1.6 .1-.2 -.1-.3zM292.4 235.2l2 1 7.7 3 -.3-.4 -2.2-1 -1.5-.4 -2-1 -1.7-.3zM316.9 232.9l0 .4 3.8 1.5 .1-.2zM307.3 231.7l9.8 3.9 -.2-.4 -1.1-.3 -5.1-2.2zM331.9 229.3l.5 .6 1.8 .8 1.6 .4 -.9-.7zM322.4 228.1l9.8 4 -1-.8 -5.6-2.2zM347.1 225.8l0 .3 3.7 1.6 .1-.3 -.1-.2 -2.4-1zM337.6 224.4l2 1 7.6 3 -.1-.3 -2.4-1 -1.4-.4 -3.2-1.5 -.2 .2zM222.4 220.6l0 .2 5 2.3 7.3 2.7 33 13.8 11.2 4.5 1.2 .2 0-.2 -1.3-.3 -2.4-1.1 -1.7-.5 -2-1 -38.9-15.8 -3.7-1.7 -2.7-.9z"/>
<path fill="#0000c8" stroke="#0000c8" d="M286.8 239.6l0 .3 3.9 1.7 .1-.3 -.4-.4zM280.3 239.4l0 .3 6.6 2.7 0-.3zM301.8 235.9l.1 .5 3.9 1.5 .1-.2zM294.9 235.9l7 2.9 -.1-.4 -6.7-2.7zM316.9 232.3l0 .5 3.7 1.5 .3-.1 -.1-.3zM309.9 232.3l7.2 2.9 -.3-.4 -1.7-.7 -.8-.2 -3.6-1.6zM331.9 228.8l0 .4 3.9 1.6 .1-.2 -.3-.4zM325.1 228.7l7 3 0-.4 -6.4-2.6zM346.9 225.2l.2 .5 3.8 1.5 .2-.3zM340.2 224.9l0 .3 7 2.9 -1-.8zM222.4 220.1l0 .3 5 2.3 2.7 .9 3.7 1.7 38.9 15.8 2 1 1.7 .5 2.4 1.1 1.3 .2 0-.2 -2.7-.9 -.2-.5 -.8-.4 -1.7-.5 -4.1-1.8 -36.8-14.9 -8.6-3.8 -.3 .4z"/>
<path fill="#0000d0" stroke="#0000d0" d="M280.3 239.1l0 .2 6.6 2.6 -.5-.5 -1.1-.2zM286.7 238.9l.2 .7 3.9 1.5 .1-.3zM301.8 235.4l0 .4 3.8 1.6 .5-.1 -.2-.2zM295.2 235.4l0 .3 6.7 2.7 -.1-.3zM316.8 231.8l0 .4 4.1 1.7 .2-.2 -.2-.3zM310.1 232.1l6.8 2.7 -.1-.4 -3.7-1.3 -2.7-1.3zM331.9 228.3l0 .4 1.4 .6 .8 .1 1.8 .9 .2-.2zM325.2 228.2l.2 .4 6.7 2.6 -.5-.5zM346.9 224.7l0 .4 3.9 1.6 .4-.1 -.1-.3zM340.3 224.6l0 .3 6.8 2.8 0-.4zM222.4 219.7l.4 .5 2.1 1 .3-.4 8.6 3.8 36.8 14.8 4.1 1.9 1.7 .5 .8 .4 .5 .6 2.4 .8 0-.3 -1.8-.5 -.2-.6 -3.4-1.1 -22.6-9.5 -18.3-7.3 -9.5-4.1 -.2 .4z"/>
<path fill="#0000d8" stroke="#0000d8" d="M280.3 238.7l.3 .4 6.2 2.5 -.1-.4zM286.7 238.6l.1 .3 3.9 1.7 .4-.2 -.4-.3zM295.2 235.1l.2 .3 6.5 2.7 -.1-.4zM301.7 234.8l.1 .5 4.3 1.8 .1-.3zM310.2 231.4l0 .3 6.7 2.7 -.1-.3zM316.8 231.3l0 .4 3.5 1.5 .9 .1 -.1-.2zM331.8 227.8l.4 .5 3.6 1.5 .4-.1 -.1-.3 -2.3-1zM325.3 227.8l.1 .4 6.5 2.6 -.3-.5zM346.9 224.2l0 .4 4.3 1.7 .1-.2 -.1-.3 -1.1-.2zM340.3 224.2l.1 .4 6.7 2.6 0-.3zM222.4 219.3l0 .3 1.7 .8 .2-.3 9.5 4.1 18.3 7.2 22.6 9.5 3.4 1.2 .2 .6 1.8 .5 0-.3 -.7-.1 -.2-.5 -49.4-20 -6.6-3 -.3 .3z"/>
<path fill="#0000e0" stroke="#0000e0" d="M280.3 238.3l0 .3 6.5 2.6 -.1-.4zM286.7 237.9l0 .5 4.4 1.8 .1-.3zM295.2 234.7l0 .2 6.6 2.7 -.1-.4zM301.7 234.4l0 .3 4.5 1.9 -.1-.4zM310.2 230.9l0 .4 6.7 2.8 -.1-.4zM316.8 230.8l.1 .5 4.3 1.8 .1-.3 -.1-.2 -2.6-.9zM325.3 227.4l0 .3 6.6 2.7 -.1-.3zM331.8 227.2l0 .5 2 .6 2.4 1.1 .1-.2 -.7-.5 -1.2-.3zM340.3 223.9l.1 .3 6.7 2.6 -.5-.5zM346.8 223.7l.1 .4 3.2 1.3 1.3 .3 -.1-.3zM222.4 218.9l.4 .5 .4-.2 6.6 3 49.4 20 .2 .5 .7 .1 -.5-.7 -3.4-1.2 -5.6-2.5 -40.8-16.5 -7.1-3.2z"/>
<path fill="#0000e8" stroke="#0000e8" d="M280.3 237.9l0 .3 6.5 2.6 -1-.7zM286.7 237.6l.1 .3 4.1 1.8 .4-.1 -.1-.3zM295.2 234.2l0 .4 6.6 2.6 -.1-.4zM301.7 233.9l0 .4 4.5 1.9 .1-.3 -.4-.3 -1.5-.4zM310.3 230.7l0 .2 6.5 2.7 -.4-.5 -1.5-.4zM316.7 230.3l0 .3 .7 .5 2.8 1.1 1.2 .2 -.1-.2zM325.3 227.1l.1 .3 6.5 2.7 -.1-.4zM331.8 226.8l.1 .4 1.7 .7 2 .7 .5 .3 .3-.1 -.1-.2zM340.3 223.4l0 .4 6.6 2.6 -.1-.3zM346.8 223.2l0 .4 4.6 1.8 0-.3 -.3-.3 -.8-.1zM222.4 218.6l0 .2 .3-.2 7.1 3.2 40.8 16.5 5.6 2.5 3.4 1.1 .2 .5 .3 0 0-.2 -.4-.1 0-.4 -3.5-1.1 -5.6-2.5 -40.8-16.5 -7.1-3.3z"/>
<path fill="#0000f0" stroke="#0000f0" d="M280.3 237.4l0 .4 6.4 2.6 0-.3zM286.6 236.9l0 .4 .8 .5 3.9 1.5 .1-.2zM295.2 233.8l.1 .4 6.5 2.6 -1-.7zM301.7 233.4l0 .4 2.7 1.3 1.9 .6 .1-.1 -.1-.3zM310.3 230.3l.3 .4 6.2 2.5 -.1-.4zM316.7 229.8l.1 .5 4.6 1.9 -.1-.5zM325.3 226.7l.1 .4 6.5 2.6 -.5-.6 -1.1-.3zM331.7 226.2l.1 .5 4.6 1.9 .2-.3zM340.3 223.1l.1 .3 6.5 2.7 -.1-.4zM346.8 222.7l0 .4 3.5 1.5 1.3 .2 -.9-.6zM222.4 217.8l0 .6 .3-.2 7.1 3.2 40.8 16.5 5.6 2.5 3.5 1.2 .1 .5 .3 0 0-.7 -2.8-.7 -2.2-1.1 -7.3-2.8 -33-13.7 -7.2-2.8z"/>
<path fill="#0000f8" stroke="#0000f8" d="M280.3 237.1l.1 .3 6.3 2.5 -.1-.3 -2.7-.9zM286.6 236.6l.1 .3 4.7 1.9 -.1-.4zM295.2 233.4l.1 .4 2.9 1 3.5 1.6 0-.3 -.8-.4 -1.1-.3zM301.6 232.9l.1 .4 4.4 1.9 .3 .1 .2-.2 -.2-.3 -1.7-.5zM310.3 229.9l0 .3 6.5 2.6 -.1-.4zM316.7 229.4l.1 .4 4.6 1.9 .2-.1 -.9-.7zM325.3 226.2l0 .4 6.5 2.6 -.1-.4 -2.6-.9zM331.7 225.8l.1 .4 4.5 1.9 .4-.2 -1-.6zM340.4 222.7l0 .4 6.5 2.6 -.1-.4zM346.8 222.2l0 .4 4.8 2 .1-.3 -.1-.2zM222.4 217.6l1.3 .8 3.9 1.8 7.2 2.7 33 13.8 7.3 2.7 2.2 1.2 2.8 .7 0-.2 -2.5-.8 -.3-.5 -1.1-.2 -5.6-2.5 -40.8-16.5 -4.6-2.2 -.3 .4z"/>
<path fill="#0000ff" stroke="#0000ff" d="M280.3 236.7l.4 .5 6 2.4 -.1-.4zM286.6 235.9l0 .5 1 .5 1.5 .4 2.3 1.1 .2-.2zM295.2 233.1l.2 .3 6.3 2.5 -.1-.3 -1.8-.5zM301.6 232.4l0 .4 3.1 1.4 1.9 .6 .1-.1 -.1-.3zM310.3 229.6l0 .2 2.9 1 3.6 1.6 -.1-.3zM316.7 228.8l0 .5 4.9 2 .1-.2 -.1-.3 -2.7-.9zM325.3 225.9l.1 .3 3.7 1.6 2.7 1 -.1-.4zM331.7 225.2l0 .5 5 2 0-.4zM340.4 222.3l0 .3 6.4 2.6 -.4-.5 -2.3-.8zM346.8 221.8l0 .3 2.1 1 2.8 1 .1-.2 -.1-.2zM222.4 217.4l2.5 1.3 .3-.4 4.6 2.1 40.8 16.5 5.6 2.5 1.1 .3 .5 .6 2.3 .6 0-.2 -1.7-.4 -.1-.4 -.6-.3 -1.5-.4 -7.5-3.3 -18.1-7.2 -26.3-11 -.4 .2 -1.3-.7z"/>
<path fill="#0004ff" stroke="#0004ff" d="M280.3 236.3l0 .3 6.4 2.6 -1-.8zM286.6 235.6l.1 .3 2.1 1 2 .7 .5 .3 .4-.1 -.1-.2zM295.2 232.9l6.5 2.7 -.1-.4 -2.7-.9 -3.6-1.6zM301.6 231.9l.1 .5 1.4 .4 3.6 1.6 0-.3 -.4-.3 -.7-.1zM310.3 229.1l0 .3 6.4 2.5 0-.2 -.8-.4 -1.1-.2zM316.7 228.4l.1 .4 2.1 1 2.8 1 .1-.1 -.1-.3zM325.3 225.6l0 .2 6.5 2.6 -.1-.3zM331.7 224.8l.1 .4 4.8 2 .2-.1 -.9-.7zM340.4 221.9l.2 .4 6.2 2.5 -.1-.4 -2.6-.8zM346.7 221.2l.1 .5 1.4 .4 3.6 1.6 .1-.3 -.1-.2 -1.1-.3zM222.6 216.8l.1 .4 1.2 .6 .4-.2 26.3 11 18.1 7.2 7.5 3.3 2 .6 .2 .5 1.7 .4 0-.3 -1-.2 -.4-.5 -2.4-.8 -47.9-19.6 -4.8-2.3 -.3 .3z"/>
<path fill="#0009ff" stroke="#0009ff" d="M280.3 235.9l.1 .4 6.2 2.5 0-.4zM286.6 235.1l0 .3 4.7 2 .4 .2 .1-.3zM295.3 232.3l.4 .5 6 2.4 -1-.8zM301.6 231.6l0 .2 4 1.8 1.2 .2 -.9-.6zM310.3 228.7l.1 .4 6.3 2.5 -.1-.4 -2.7-.9zM316.6 227.9l.2 .5 1.4 .4 3.6 1.6 .1-.2 -.1-.3zM325.3 225.1l0 .3 6.5 2.7 -.1-.4zM331.7 224.3l0 .4 1.2 .6 3 1 .9 .5 .1-.2zM340.4 221.6l0 .2 6.4 2.6 -.1-.3zM346.7 220.8l0 .3 5.2 2.1 -.1-.4zM222.6 216.3l0 .4 .8 .4 .2-.3 6.3 2.9 42.7 17.5 6.1 2.2 .4 .5 1 .3 0-.3 -1-.2 -.5-.6 -2.3-.7 -3.5-1.6 -42.9-17.4 -6.2-2.8 -.4 .2z"/>
<path fill="#000eff" stroke="#000eff" d="M280.3 235.6l0 .2 6.3 2.5 0-.2zM286.4 234.6l0 .3 5.2 2.2 .3-.2 -.1-.2zM295.3 231.9l0 .3 3.9 1.5 2.4 1.1 -.2-.4zM301.6 231.1l0 .3 5.2 2.2 .1-.3 -.1-.2 -1.7-.5zM310.3 228.3l.4 .5 6 2.4 -.1-.4zM316.6 227.4l0 .4 5.3 2.1 -.1-.3zM325.4 224.8l0 .3 6.3 2.5 0-.3zM331.6 223.8l.1 .4 5 2.1 .4-.1 -.2-.3zM340.4 221.2l0 .2 1 .5 1.8 .5 3.6 1.7 -1-.8zM346.7 220.2l0 .5 2.9 1 2.3 1.1 .2-.2 -.4-.4 -2.4-.8zM222.6 215.9l0 .3 .7 .5 .4-.3 4.7 2.3 22.2 9.1 22.2 8.9 3.5 1.6 2.3 .6 .5 .4 0 .3 .7 .2 .4-.1 -.6-.3 -.3-.3 -4.5-1.5 -2-1 -38.9-15.8 -3.7-1.7 -2.6-.9z"/>
<path fill="#0014ff" stroke="#0014ff" d="M280.3 235.2l.3 .4 6 2.3 -.2-.3zM292.4 234.8l0 .3 2.4 1 .3-.5 -.4-.2 0 .4zM286.4 234.1l.2 .5 5.3 2.1 0-.4 -.7-.4 -.8-.1zM295.3 231.6l.1 .3 6.2 2.5 0-.3zM307.4 231.6l2.4 .8 .3-.5 -.4 .3 -2.1-1zM301.4 230.6l.2 .3 3.5 1.5 1.8 .7 .2-.2 -.2-.2 -3.5-1.5zM310.3 227.9l0 .3 6.4 2.6 -1-.7zM322.6 227.7l0 .2 2.1 .9 .4-.2 -.2-.3 -.1 .3zM316.6 226.9l.1 .5 2.9 1 2.3 1.2 .2-.3 -.2-.2 -2.6-.9zM325.4 224.4l0 .3 6.3 2.5 -.1-.4zM337.6 224.1l0 .2 2.3 1 .3-.5 -.4-.1 0 .4zM331.6 223.3l.1 .5 5.4 2.1 0-.3zM340.4 220.8l0 .3 1 .5 1.8 .5 3.5 1.6 0-.4 -.8-.4 -.7-.1zM346.7 219.8l.1 .4 5.3 2.1 .1-.1 -.1-.3zM222.6 215.3l0 .5 .3 .3 .3-.2 4.4 2.2 2.6 .8 3.7 1.8 38.9 15.7 2 1 4.5 1.5 .3 .4 .6 .1 0-.5 -1.9-.3 -1.7-1.2 -1.8-.5 -4.1-1.8 -36.8-14.9 -3.7-1.8 -2.6-.8 -2.3-1.2 -.2 .3z"/>
<path fill="#001aff" stroke="#001aff" d="M280.3 234.7l0 .4 6.3 2.5 -.5-.5zM292.6 234.6l0 .2 2.1 .9 0-.4 .4 .1 -.2-.3 -.3-.2 .1 .3 -.5 .1zM286.4 233.6l0 .3 4.8 1.9 .5 .4 .4-.1 -.2-.3zM295.3 231.2l0 .2 6.3 2.5 0-.2zM307.6 230.9l.1 .3 2 .9 .4-.3 -.4-.5 -.1 .5zM301.4 229.9l0 .5 2 .7 3.7 1.6 0-.4 -.4-.2 -1.4-.4zM310.3 227.6l0 .2 1 .5 1.8 .5 3.5 1.6 -.2-.3zM322.7 227.3l0 .4 2.1 .7 .4-.3 -.5-.3 0 .4zM316.6 226.6l0 .2 2.7 1.3 2.8 1 .1-.3 -3.6-1.6zM325.4 223.9l0 .4 6.3 2.5 -.1-.4zM337.7 223.8l0 .3 2.1 .8 0-.3 .4 .1 -.1-.4 -.4-.1 .1 .2 -.4 .2zM331.6 222.8l0 .4 5.3 2.2 .3-.1 -.9-.6 -3-1zM340.4 220.4l0 .3 6.3 2.5 -.1-.4 -1.8-.5zM346.6 219.2l.2 .6 1.8 .5 3.6 1.6 .1-.2 -.1-.3 -2.6-.8zM222.6 214.9l0 .3 2.5 1.4 .2-.3 2.3 1.1 2.6 .9 3.7 1.8 36.8 14.8 4.1 1.9 1.8 .5 1.7 1.1 1.9 .4 0-.2 -1.8-.4 -.2-.5 -1.9-.5 -7.5-3.3 -18.2-7.2 -22.2-9.1 -4-1.9 -.2 .2z"/>
<path fill="#0021ff" stroke="#0021ff" d="M280.3 234.4l.9 .7 2.9 1 2.3 1.1 -.1-.4zM292.6 234.4l1.6 .8 .4 0 .1-.3 .4 .2 0-.4 -.7-.1 .2 .2 -.4 .1 -.5-.3 -.9-.3zM286.4 233.1l.2 .5 5.5 2.2 .1-.2zM309.6 230.9l.5 .5 0-.2zM295.3 230.8l.3 .4 6 2.4 -.2-.4zM307.6 230.8l2 .9 -.2-.4 -1.5-.6zM301.4 229.6l.4 .5 4.1 1.7 1.3 .3 -.9-.7zM310.3 227.2l.1 .4 6.2 2.5 0-.4zM322.7 227.2l2 .9 .1-.3 .4 0 0-.2 -.5-.3 -.1 .5 -1.7-.7zM316.4 225.9l.2 .5 2 .7 3.2 1.5 .5-.2 -.1-.2zM337.7 223.7l1.7 .7 .4-.2 .4 .1 0-.4 -.6-.2 0 .5 -1.5-.6zM325.4 223.6l.2 .3 6.1 2.5 -1-.7zM331.6 222.3l.1 .5 1.6 .8 1.5 .3 2.4 1.2 .1-.3 -.7-.5 -1.2-.2zM340.4 220.1l0 .2 6.3 2.5 -.1-.4zM346.6 218.8l.1 .4 5.6 2.2 .1-.1 -.1-.2 -3.5-1.5zM222.6 214.7l1.2 1 .4 .1 .2-.2 4 1.8 22.2 9.2 18.2 7.2 7.5 3.3 1.9 .5 .2 .5 .5 .2 1.3 .1 -.1-.2 -1-.1 -.4-.5 -2.4-.8 -44.2-18.2 -4.5-1.7 -3.9-2 -.4 .3z"/>
<path fill="#0027ff" stroke="#0027ff" d="M292.7 233.9l0 .3 1 .2 .5 .4 .2 0 0-.4 .7 .2 0-.3 -.7-.2 0 .3 -.3 .2zM280.3 233.9l0 .4 6.1 2.5 0-.4zM286.3 232.6l.5 .6 5.1 2.1 .4-.1 -.1-.3zM309.4 230.6l.7 .5 .1-.4zM307.7 230.3l0 .3 1.9 .7 -.3-.4zM295.3 230.3l0 .4 6.3 2.5 -1-.8 -2.9-1zM301.4 229.1l0 .3 3.4 1.3 2.4 1.1 .1-.2 -.4-.4 -2.3-.8zM324.4 226.9l.8 .5 -.1-.3zM322.8 226.8l1.8 .9 -.3-.4zM310.3 226.8l0 .3 6.3 2.5 -.2-.4zM316.4 225.4l0 .4 5.9 2.4 .1-.3zM339.6 223.3l.1 .4 .5 .1 0-.2zM337.8 223.2l0 .2 1.8 .7 -.3-.4zM325.4 223.2l.2 .4 .7 .3 1.8 .5 3.5 1.7 0-.4zM331.6 221.8l.1 .5 3.7 1.6 1.2 .3 .5 .4 .3-.2 -.1-.2zM340.4 219.6l0 .3 6.3 2.5 -.1-.3zM346.6 218.3l0 .4 2.2 .7 3.6 1.7 0-.4zM222.6 214.3l0 .3 .7 .5 .4-.3 3.9 2 4.5 1.6 39.2 16.3 7.4 2.7 .4 .5 1.1 .3 0-.3 -.6-.1 -.3-.5 -1.5-.2 -3-1.2 -4.1-1.8 -36.8-14.9 -3.7-1.8 -2.6-.8 -4.4-2.3 -.1 .3z"/>
<path fill="#002eff" stroke="#002eff" d="M292.8 233.7l0 .2 1.5 .5 -.2-.3zM294.2 233.6l.1 .3 .8 .3 -.2-.4zM280.3 233.6l0 .2 6.1 2.5 0-.2zM286.3 232.1l0 .3 .6 .4 1.8 .5 3.6 1.6 .1-.2 -.1-.3 -1.1-.2zM307.8 230.1l.1 .2 1.5 .6 0-.5 .8 .2 0-.3 -.9-.2 0 .5zM295.3 230.1l.9 .6 2.9 1 2.3 1.1 -.1-.4zM301.4 228.6l0 .3 3.2 1.4 2.7 1 .1-.1 -.8-.6zM324.3 226.4l.1 .4 .8 .3 -.1-.4zM322.9 226.4l0 .3 1.5 .6 -.2-.4zM310.3 226.4l.3 .4 6 2.4 -.2-.4zM316.4 224.9l0 .4 5.7 2.4 .5-.1 -.2-.3zM339.3 222.8l.4 .5 .5 .1 -.1-.3zM337.9 222.8l0 .3 1.5 .6 -.1-.4zM325.4 222.8l0 .3 6.2 2.5 0-.3zM331.4 221.3l.2 .4 .6 .4 1.6 .5 3.6 1.6 .2-.3 -.2-.2 -1.7-.5zM340.4 219.2l.2 .4 .7 .3 1.8 .5 3.6 1.7 -.1-.4zM346.6 217.8l0 .4 5.8 2.4 .2-.2 -.9-.6zM222.6 213.9l.3 .5 .3-.2 4.4 2.2 2.6 .9 3.7 1.8 36.8 14.8 4.1 1.9 3 1.1 1.5 .3 .3 .5 .6 .1 -.5-.7 -1.9-.4 -.5-.6 -26.7-10.8 -20.7-8.5 -4.6-2.1 -.2 .4 -2.2-1.3z"/>
<path fill="#0036ff" stroke="#0036ff" d="M292.8 233.4l1.4 .7 -.5-.5zM294.1 233.2l0 .2 1 .4 -.2-.4zM280.3 233.2l.1 .4 6 2.3 -.1-.3 -1.1-.3zM286.3 231.6l.1 .5 4.8 2 1.4 .2 -.2-.2zM307.9 229.8l.2 .3 1.2 .3 -.1-.2zM309.1 229.6l.3 .5 .8 .1 -.1-.4zM295.3 229.6l0 .3 6.1 2.5 0-.3zM301.3 227.9l.1 .5 6 2.5 .2-.2 -.4-.4 -2.4-.7zM322.9 226.3l1.4 .6 -.2-.3 -.9-.4zM324.1 226.1l.1 .2 1 .4 0-.4zM310.4 226.1l0 .2 6.2 2.5 -.2-.4zM316.4 224.4l0 .4 5.8 2.4 .4 .1 .1-.2zM338.1 222.6l0 .2 1.3 .5 -.2-.4zM339.2 222.4l.4 .4 .7 .1 -.1-.2zM325.4 222.4l0 .3 6.2 2.5 -.2-.4 -2.6-.9zM331.4 220.8l.2 .5 4.1 1.8 1.9 .6 .1-.1 -.1-.3zM340.4 218.8l.2 .4 .7 .4 1.8 .5 3.6 1.6 -.1-.4zM346.6 217.3l0 .4 3.6 1.4 2.4 1.1 .1-.3 -.1-.2 -2.3-1 -1.5-.4zM222.6 213.6l0 .2 .3-.1 2.2 1.2 .2-.3 4.6 2.1 20.7 8.5 26.7 10.7 .3 .5 2.1 .5 .2 .5 .3 0 -.4-.6 -2-.5 -.5-.6 -9.4-3.6 -38-15.7 -4.6-2.1 -.2 .4 -2.2-1.3 -.2 .3z"/>
<path fill="#003dff" stroke="#003dff" d="M292.9 233.2l1.2 .5 -.5-.5zM280.3 232.8l.1 .4 6 2.4 -.1-.4zM286.3 231.1l0 .3 .9 .5 1.7 .5 3.7 1.7 .1-.3 -.1-.2 -2.7-.9zM308.1 229.6l1.1 .5 -.1-.3 -.9-.4zM286.2 229.3l0 .3 7 2.7 .7 .8 1.2 .3 0-.3 -1-.3 -.5-.6 -3.8-1.3zM295.3 229.2l0 .2 6.1 2.5 -.1-.3 -1.7-.5zM301.3 227.4l.1 .5 3.4 1.5 2.8 1 .1-.2zM323.1 226.1l1.1 .5 -.3-.4 -.6-.3zM301.3 225.8l1.9 1 5 1.9 .9 .7 1.1 .4 -.1-.4 -.9-.2 -.4-.5 -.5 0zM310.4 225.7l0 .2 6.2 2.5 -1-.7zM316.4 223.9l0 .4 6 2.5 .4-.1 -.1-.3zM338.2 222.3l0 .3 1.1 .3 -.1-.2zM316.3 222.2l0 .2 5.4 2.3 1.1 .2 .8 .4 .5 .6 1.1 .3 0-.3 -1-.2 -.5-.6 -2.4-.8zM325.4 222.1l.2 .3 6 2.4 -.2-.4zM331.4 220.3l0 .4 .9 .5 1.8 .5 3.6 1.6 .1-.2 -.1-.3 -2.6-.9zM331.3 218.6l.5 .5 6.5 2.5 .8 .7 1.2 .4 0-.4 -1.1-.2 -.5-.7 -1.1-.2zM340.4 218.4l0 .3 6.2 2.5 -.4-.5 -1.5-.4zM222.6 212.8l.1 .8 .2-.3 2.2 1.3 .2-.4 4.6 2.1 38 15.6 9.4 3.7 .3 .5 2.2 .6 .1 .4 .3 0 0-.7 -1.5-.2 -.5-.6 -1.9-.5 -1.1-.7 -7.3-2.7 -38-15.6 -2-1 -1.3-.4 -2.2-1.1 -.3 .2z"/>
<path fill="#0045ff" stroke="#0045ff" d="M293.1 232.9l.8 .4 -.2-.4zM280.3 232.4l0 .3 6.1 2.5 -1-.8 -3-1zM286.3 230.6l0 .3 3.6 1.7 2.8 1 .1-.3 -.7-.5zM308.2 229.3l.9 .4 -.2-.3zM286.2 228.9l.1 .4 3.5 1.5 3.8 1.3 .5 .3 0 .3 .7 .2 .4-.1 -.6-.2 -.3-.5 -4.5-1.5zM295.3 228.8l.1 .4 6 2.4 -.1-.4 -2.6-.9zM301.3 226.9l.1 .5 6 2.5 .4 0 .1-.2zM323.2 225.8l.9 .4 -.7-.5zM301.2 225.3l.1 .4 7 2.9 .5 0 .4 .5 1 .3 -.1-.3 -.7-.2 -.1-.5 -1-.1zM310.4 225.2l0 .4 3.7 1.3 2.3 1.2 0-.4zM316.3 223.3l.1 .5 1 .5 1.8 .5 3.6 1.6 .1-.2 -.3-.4 -2.4-.7zM338.3 222.1l.8 .5 -.3-.4zM316.3 221.8l.1 .4 3.8 1.4 1.1 .6 1.5 .4 1.1 .5 .3 .5 1 .2 0-.2 -.5-.2 -.3-.5zM325.4 221.7l0 .2 6.2 2.5 -.2-.3zM331.4 219.8l0 .4 3.7 1.6 2.7 1 .3-.4zM331.3 218.2l.1 .4 6.2 2.5 1.1 .2 .5 .4 0 .2 1.1 .3 0-.3 -.6-.1 -.3-.5 -1.8-.5zM340.4 218.1l0 .2 6.2 2.5 -.2-.4 -2.6-.8zM222.6 212.4l.3 .7 1.2 .6 .3-.3 2.2 1.2 1.3 .3 2 1 38 15.7 7.3 2.7 1.1 .6 1.9 .5 .5 .7 1.5 .2 0-.2 -1.8-.4 -.2-.5 -1.9-.5 -1.1-.6 -7.3-2.8 -22.7-9.5 -17.5-7 -3.3-1.6 -.3 .2z"/>
<path fill="#004dff" stroke="#004dff" d="M280.3 232.1l0 .2 3.6 1.4 2.4 1.1 -.1-.4zM286.2 229.7l0 .5 .4 .4 5.5 2.1 .5 .4 .3 0 .3-.4 .6 .2 -1.2-.7zM286.2 228.6l.1 .3 6.1 2.5 1.9 .5 .3 .5 .6 .2 -.5-.8 -4.9-1.6zM295.3 228.4l.1 .4 6 2.4 -.1-.4 -2.6-.9zM301.3 226.1l0 .7 1.3 .6 1.7 .5 3.6 1.7 .3-.4 .6 .1 -.4-.4zM301.2 225.1l.1 .2 7 2.9 1 .1 .3 .6 .6 .2 -.4-.8 -3.5-1.1zM310.4 224.8l.4 .5 5.6 2.3 0-.3zM316.3 222.6l0 .6 3.9 1.7 2.7 1 .4-.3 .5 .2 -.2-.4zM316.3 221.4l0 .3 8.1 3.1 .3 .5 .5 .1 -.4-.7 -2.2-.6zM325.4 221.3l0 .3 6.2 2.5 -1-.8zM331.4 218.9l0 .8 6.4 2.6 .5-.4 .6 .3 -1.2-.8zM331.3 217.8l.1 .4 6.2 2.5 1.8 .5 .3 .5 .6 .1 -.5-.7 -4.9-1.7zM340.6 217.7l0 .4 6 2.3 -.2-.3zM222.6 212.1l.2 .5 1.3 .7 .3-.2 3.3 1.6 17.5 7 22.7 9.5 7.3 2.7 1.1 .7 1.9 .5 .5 .6 1.5 .2 0-.2 -1-.1 -.3-.5 -2.6-.8 -1.1-.6 -7.3-2.8 -38-15.6 -2-1 -1.3-.4z"/>
<path fill="#0055ff" stroke="#0055ff" d="M280.3 231.7l0 .2 6 2.5 -.1-.3zM286.2 228.3l.1 .3 3.5 1.5 4.9 1.6 .2 .5 .3 0 0-.6 -1.9-.4zM295.3 228.1l0 .2 6.1 2.5 -1-.7 -3-1zM301.2 224.7l0 .2 7.1 2.9 1.5 .4 .4 .5 -.1-.8 -1.8-.3zM310.4 224.6l.4 .3 5.6 2.3 -.1-.4 -1.7-.5zM316.3 221.1l.1 .3 6.2 2.5 2.2 .7 .4 .5 .1-.7 -2.7-.7zM325.4 220.9l0 .3 3.7 1.4 2.3 1.1 0-.4zM331.3 217.4l.1 .4 6.2 2.5 2.2 .6 .3 .5 .2 0 0-.6 -1.9-.4zM340.6 217.3l0 .3 6 2.5 -.2-.4zM222.6 211.7l0 .2 1 .7 .1-.3 2.9 1.5 1.3 .4 2 1 41.4 17 3.9 1.4 1.1 .6 2.6 .7 .3 .5 1 .2 -.1-.4 -.9 0 -.1-.5 -2.8-.8 -1.1-.6 -3.9-1.4 -46.2-19.1 -1.4-.9 -.1 .4z"/>
<path fill="#005dff" stroke="#005dff" d="M280.3 231.3l0 .3 6 2.5 0-.4zM286.2 227.9l.2 .4 6.9 2.8 1.9 .3 0-.2 -1.9-.4zM295.3 227.7l0 .2 3.6 1.4 2.4 1.1 -.1-.3zM301.2 224.3l.1 .4 7 2.7 1.9 .5 -.1-.3 -1.4-.3zM310.4 224.1l0 .3 6 2.4 -.1-.4zM316.2 220.7l.2 .4 3.5 1.5 5.4 1.7 0-.2 -2.7-.8zM325.4 220.4l0 .4 6 2.4 0-.3zM331.3 217.2l.1 .2 7 2.9 1.9 .4 0-.3 -1.9-.3zM340.6 216.9l0 .3 6 2.5 -1-.8zM222.6 211.2l0 .4 1 .6 .1-.4 1.4 .9 46.2 19.1 3.9 1.4 1.1 .6 2.5 .6 .4 .3 0 .4 1 .1 0-.4 -1-.1 -.4-.5 -2.5-.6 -1.1-.7 -2.6-.8 -3.8-1.8 -42.6-17.4 -2.5-1.3 -.3 .2z"/>
<path fill="#0065ff" stroke="#0065ff" d="M280.4 230.9l0 .3 5.9 2.4 -.1-.4zM295.3 227.4l.8 .5 2.8 1 2.4 1.2 0-.4 -1.9-.6 -3.8-1.8zM286.1 227.2l.1 .6 7.1 2.9 1.9 .4 0-.3 -3.5-1 -.5-.6zM310.4 223.7l0 .2 6 2.5 -1-.7zM301.2 223.6l.1 .7 7.4 2.9 1.5 .4 0-.4 -3.5-1 -.5-.6zM325.4 220.1l.4 .5 5.6 2.2 -.1-.4zM316.2 219.9l0 .7 6.4 2.6 2.7 .7 -.1-.3 -2.6-.7 -1.8-1.1zM340.6 216.6l0 .2 .6 .4 1.7 .5 3.5 1.6 0-.4 -.7-.3 -.8-.2zM331.3 216.4l0 .7 7.1 2.8 1.9 .4 0-.2 -2.7-.8 -2.3-1.4zM222.6 210.8l0 .3 .8 .6 .3-.3 2.5 1.4 42.6 17.4 3.8 1.7 2.6 .9 1.1 .6 2.5 .7 .4 .5 1 .1 0-.3 -.5 0 -.3-.3 -1.6-.3 -1.2-.9 -46.7-18.8 -4.6-2.2 -.4 .2 -1.6-1 -.4 .1z"/>
<path fill="#006dff" stroke="#006dff" d="M280.4 230.6l0 .2 5.9 2.4 -.1-.4zM295.4 226.9l.3 .4 5.6 2.3 0-.3zM286.1 226.8l.2 .4 4.9 1.9 .5 .6 3.5 1 0-.3 -1.8-.3 -.2-.5 -.8-.2zM310.4 223.3l0 .3 .7 .3 1.7 .5 3.5 1.7 -.1-.4zM301.2 223.2l.2 .4 4.8 1.8 .5 .7 3.5 1 0-.3 -1.6-.4 -.3-.5 -3.4-1.1zM325.4 219.7l0 .2 6 2.5 -.1-.3zM316.2 219.7l4.6 2 1.8 1.1 2.7 .8 -.1-.4 -1.4-.3 -1-.7zM340.6 216.2l.2 .4 5.6 2.2 0-.2 -.7-.4 -1.1-.3zM331.3 216.1l.1 .3 3.9 1.4 2.3 1.4 2.7 .7 0-.2 -1.7-.4 -.3-.5zM222.6 210.6l.3 .5 .4-.2 1.6 1 .4-.1 4.6 2.1 46.7 18.9 1.2 .9 1.6 .2 .3 .4 .5 0 -.4-.5 -.6 0 -.3-.4 -3.6-1.1 -.5-.6 -6.9-2.6 -40-16.5 -.2 .2 -4.9-2.4z"/>
<path fill="#0076ff" stroke="#0076ff" d="M280.4 230.2l0 .2 5.9 2.4 -.5-.5zM295.4 226.6l0 .2 5.9 2.4 -.1-.4 -1.1-.2zM286.1 226.4l.2 .4 6.1 2.5 .8 .1 .2 .5 1.8 .4 0-.2 -1-.2 -.3-.5 -1.5-.3zM310.4 222.9l0 .3 .7 .4 2.8 1 2.4 1.1 -.1-.4zM301.2 222.8l0 .3 3.7 1.6 3.4 1.1 .3 .5 .5 .3 1.1 .1 -.1-.3 -.9-.1 -.5-.6 -2.3-.6zM325.4 219.3l0 .3 6 2.5 -.1-.4zM316.2 219.3l.2 .4 6.4 2.4 1 .7 1.5 .4 0-.3 -1-.2 -.4-.5 -.5 0zM340.6 215.8l.2 .4 5.6 2.2 -.1-.3 -1.7-.5zM331.2 215.7l.2 .4 6.9 2.6 .3 .5 1.7 .4 0-.3 -1-.1 -.5-.6 -1.1-.3zM222.6 209.9l0 .5 .2-.1 .8 .5 .1-.1 2.5 1.4 1.5 .6 .2-.3 40 16.5 6.9 2.7 .5 .6 3.6 1.1 .3 .4 .6 0 .1 .4 .3 0 0-.5 -.5 0 -.3-.4 -1.5-.3 -.5-.5 -1.1-.2 -1.1-.6 -7.3-2.8 -33-13.7 -5-1.9 -4.6-2.1 -.2 .2 -1.5-1 -.7 0z"/>
<path fill="#007fff" stroke="#007fff" d="M280.4 229.8l0 .3 3.4 1.2 2.4 1.1 -.1-.3zM295.4 226.2l0 .2 5.9 2.4 -.1-.4zM286.1 226.1l.2 .3 3.6 1.5 4 1.4 .3 .5 1 .1 0-.2 -1-.1 -.3-.5 -1.5-.4zM310.4 222.6l0 .2 5.9 2.5 0-.4zM301.1 222.4l0 .3 5.3 2.2 2.3 .7 .5 .3 0 .3 1.1 .1 -.1-.2 -1-.2 -.5-.6 -2.3-.6zM325.4 218.9l0 .3 6 2.5 -1-.8zM316.2 218.9l.2 .4 7 2.8 .5 0 .4 .5 1 .2 0-.2 -1-.3 -.4-.5 -2.8-.9zM340.6 215.4l.2 .4 5.6 2.3 -.1-.4zM331.2 215.2l0 .4 6.5 2.6 1.1 .2 .5 .4 0 .3 1 .1 0-.3 -1-.1 -.5-.6 -3.7-1.3zM222.6 209.7l.3 .5 .4-.1 1.8 1.1 .2-.3 4.6 2.2 5 1.8 33 13.8 7.3 2.7 1.1 .7 1.1 .2 .5 .5 1.5 .3 .3 .3 .5 0 -.4-.3 -1.2-.3 -.3-.4 -5.4-1.8 -.5-.7 -21.7-8.7 -20.5-8.5 -.3 .2 -5.6-2.6 -.2 .1 -1.3-.8 -.1 .2z"/>
<path fill="#0087ff" stroke="#0087ff" d="M280.4 229.4l0 .3 5.8 2.4 -.1-.4zM295.4 225.8l0 .3 5.9 2.3 -.5-.5zM286.1 225.7l.2 .4 3.6 1.5 4 1.3 .3 .5 1 .2 0-.3 -.6-.1 0-.4 -2-.5zM310.4 222.2l.3 .4 5.6 2.2 0-.2zM301.1 222.1l.3 .5 5 2 2.3 .6 .5 .4 0 .2 1.1 .3 0-.4 -.6 0 -.3-.5 -3-.9zM325.4 218.8l5.9 2.5 -.1-.4 -5.5-2.2zM316.2 218.6l.2 .3 7 2.8 .5 0 .4 .5 1 .2 0-.2 -.6-.1 -.3-.5 -1-.2zM340.6 215.1l0 .2 5.8 2.4 -.1-.4zM331.2 214.8l.4 .5 6.1 2.5 1.1 .3 .5 .3 0 .3 1 .1 0-.2 -.5-.2 -.1-.3 -.5 0 -4.1-1.5zM222.6 209.6l.1 .1 .1-.3 1.3 .9 .2-.1 5.6 2.6 .3-.2 20.5 8.5 21.7 8.7 .5 .6 5.4 1.9 .3 .4 1.6 .5 0-.3 -.4 0 .1-.2 -.7 0 -.1-.4 -1.2-.2 -.5-.5 -2.5-.8 -2-1 -38.8-15.7 -3.8-1.8 -2.6-.9 -2.4-1.2 -.4 .2 -1.2-.8 -.1 .2 -.8-.5z"/>
<path fill="#0090ff" stroke="#0090ff" d="M280.4 228.9l0 .4 5.8 2.4 0-.4zM295.4 225.4l0 .3 3.4 1.2 2.4 1.2 -.1-.4zM286.1 225.3l.2 .4 6.3 2.5 2 .5 .1 .5 .5 0 0-.3 -.5-.1 -.3-.5 -1.8-.4zM310.4 221.8l0 .3 5.9 2.3 -.1-.3zM301.1 221.7l.3 .5 5 2 3 .9 .3 .5 .6 0 0-.3 -.6 0 -.1-.5 -3.2-.9zM325.6 218.2l0 .4 3.3 1.2 2.4 1.1 0-.3 -.7-.4 -1.2-.3zM316.2 218.2l.2 .4 7 2.7 1 .1 .3 .5 .6 .2 -.1-.4 -.6-.1 0-.4 -1.2-.1zM340.6 214.7l0 .2 5.8 2.4 -.1-.4zM331.2 214.4l.4 .5 6.1 2.5 2 .5 .1 .4 .5 .1 0-.2 -.5-.1 -.2-.5 -1.9-.4zM222.7 208.8l0 .5 .1-.1 .8 .5 .1-.3 1.2 .9 .4-.2 2.4 1.2 2.6 .9 3.8 1.7 38.8 15.8 2 1 2.5 .7 .3 .4 1.1 .3 .4 .5 .7 0 0 .3 .3-.1 0-.4 -.5 0 -.1-.3 -1-.2 -.3-.3 -2-.5 -1.1-.7 -7.3-2.7 -39.3-16.3 -4.3-2 -.1 .3 -1-.8 -.3 .3z"/>
<path fill="#0099ff" stroke="#0099ff" d="M280.4 228.6l.4 .5 5.4 2.1 -.1-.4 -1.2-.2zM295.4 225.1l0 .2 3.4 1.3 2.4 1.1 -.1-.4zM286.1 224.7l0 .5 6.5 2.6 1.8 .4 .3 .5 .5 .1 0-.2 -.5-.2 -.3-.3 -1-.2 -1.2-.8zM310.4 221.4l0 .3 5.9 2.4 -.1-.4zM301.1 221.1l0 .5 5.3 2.2 3.2 .9 .1 .5 .6 0 0-.3 -.6-.1 -.3-.4 -1.5-.2 -.5-.6zM325.6 217.8l.1 .4 5.6 2.2 -.1-.3 -2.6-.9zM316.1 217.4l0 .5 7.3 3 1.2 .2 .2 .2 -.1 .3 .6 .1 0-.4 -.5 0 -.1-.4 -2-.5 -.1-.5 -2.5-.7zM340.6 214.2l0 .4 2.2 .7 3.6 1.6 -.1-.3zM331.2 213.8l0 .5 6.5 2.8 1.9 .3 .5 .7 .3-.2 -.1-.2 -.5 0 -.2-.4 -1.8-.5 -1-.7 -1.7-.5zM222.7 208.4l.2 .7 .3-.3 1 .8 .1-.3 4.3 2 39.3 16.3 7.3 2.7 1.1 .6 2 .5 .3 .4 1 .1 .1 .4 .5 0 -.3-.5 -.7 0 -.4-.5 -1.1-.1 -.3-.5 -2.5-.8 -2-1 -5-1.8 -15.7-6.7 -22.1-8.8 -4.8-2.3 -.4 .3 -1.2-.9 -.1 .2z"/>
<path fill="#00a2ff" stroke="#00a2ff" d="M280.4 228.2l.4 .5 5.4 2.1 -.1-.4zM295.4 224.6l0 .3 5.8 2.4 -.1-.5 -1.8-.5zM285.9 224.3l.9 .6 5.4 2 .5 .5 .7 .4 1 .1 .3 .4 .5 .1 -.3-.6 -1.3-.2 -.8-.7 -2.9-.8zM310.4 221.1l0 .2 5.9 2.4 -1-.8zM301.1 220.7l.3 .5 6 2.2 .5 .7 1.5 .2 .3 .4 .6 .1 0-.2 -.5-.4 -1-.1 -.5-.5 -3.4-1.2zM325.6 217.4l.1 .4 5.6 2.3 -.1-.4zM316.1 217.2l.3 .4 3.7 1.5 2.5 .7 .2 .3 -.1 .2 2 .5 .1 .4 .5 0 -.4-.5 -1.3-.3 -.3-.5 -1.9-.5zM340.6 213.8l.1 .4 5.6 2.2 -.4-.5 -1.5-.3zM331.2 213.6l.4 .3 3.5 1.5 1.7 .5 1.3 .9 1.5 .4 .2 .4 .6 .1 -.3-.6 -1.4-.3 -.3-.5 -1.8-.5zM222.7 207.9l0 .4 .9 .5 .1-.2 1.2 .8 .4-.2 4.8 2.2 22.1 8.9 15.7 6.6 5 1.9 2 1 2.5 .8 .3 .5 1.1 .1 .4 .5 .7 0 .3 .2 0-.5 -.5 .2 -.1-.4 -1-.1 -.3-.4 -1.9-.5 -47.8-19.6 -4.2-2 -.2 .2 -.8-.6z"/>
<path fill="#00acff" stroke="#00acff" d="M280.4 227.8l.4 .5 5.4 2.1 -1-.7zM295.4 224.2l.2 .4 5.6 2.2 -.1-.4zM285.9 224.1l4 1.8 2.9 .9 .8 .6 1.3 .3 .3 .4 0-.5 -1-.2 -.4-.5 -1.2-.2zM310.4 220.6l0 .3 3.4 1.3 2.4 1.1 0-.4 -.8-.3 -.7-.2zM301.1 220.4l.3 .4 3.5 1.5 3.4 1.1 .3 .4 1.2 .3 .5 .3 0-.5 -.7 0 -.5-.5 -2.7-.7zM325.6 217.1l.3 .5 5.4 2.1 -.1-.4zM316.1 216.8l0 .3 4.2 1.6 1.1 .6 1.9 .5 .3 .5 1.3 .3 .2 .3 .2 0 0-.6 -1 0 -.4-.5 -3.8-1.2zM340.6 213.4l.1 .4 5.6 2.3 -.1-.4zM331.1 213.2l.5 .5 5 2 1.8 .5 .3 .5 1.4 .2 .1 .4 .2 0 0-.5 -1.1-.1 -.4-.5 -1.2-.3zM222.7 207.6l0 .2 .7 .3 .8 .6 .2-.3 4.2 2 47.8 19.7 1.9 .5 .3 .3 1 .2 .1 .3 .6-.2 -.6 0 -.9-.8 -2-.5 -.5-.5 -1.4-.3 -2-1 -38.8-15.8 -3.8-1.7 -2.6-.9 -1.1-.6 -.3 .2 -2.6-1.5 -.1 .3z"/>
<path fill="#00b5ff" stroke="#00b5ff" d="M280.4 227.1l.2 .7 5.5 2.3 -.2-.8zM295.4 223.4l.2 .8 5.6 2.2 -.1-.7zM285.9 223.3l0 .6 5.8 2.2 .9 .5 1.2 .2 .4 .5 1.1 0 -.6-.1 -.1-.4 -1.9-.5 -.3-.5 -2.5-.7zM310.4 219.8l.2 .8 5.6 2.2 -.1-.7 -1.8-.5zM301.1 219.8l0 .5 5.3 2.3 2.7 .7 .5 .5 .7 0 0-.2 -.6 0 -.1-.4 -1.2-.1 -1-.8zM325.6 216.3l.1 .8 2 .6 3.6 1.6 0-.5 -.2-.2zM316.1 216.2l0 .5 5 2.1 2.8 .9 .4 .5 1 0 -.7-.6 -1.8-.4 -.2-.5 -1.2-.3zM340.6 212.7l0 .6 5.7 2.4 -.1-.8zM331.1 212.6l0 .5 6.6 2.7 1.2 .3 .4 .5 1.1 .1 0-.3 -.6 0 -.1-.3 -1.9-.5 -.2-.5 -2.5-.8zM222.7 207.3l.4 .5 .1-.1 .4 .2 .1-.2 2.6 1.5 .3-.3 1.1 .7 2.6 .8 3.8 1.8 38.8 15.7 2 1 1.4 .4 .5 .5 2 .5 .9 .8 .6 0 -.4-.5 -.7 0 -.4-.4 -.9-.1 -.5-.5 -9.5-3.7 -39.3-16.2 -3.2-1.5 -.3 .1 -1.3-.7 -.5 0 -.4-.4z"/>
<path fill="#00beff" stroke="#00beff" d="M280.4 226.7l.4 .5 5.3 2.1 -.2-.4zM295.4 223.1l.4 .5 5.4 2.1 -1-.8 -3-1zM285.9 223.1l4 1.8 2.5 .8 .3 .5 1.9 .5 .1 .4 .6 0 0-.3 -.6 0 -.1-.4 -1-.1 -.3-.5 -1.9-.5zM310.4 219.4l.2 .4 5.6 2.3 -.1-.4 -1.8-.5zM300.9 219.4l.2 .3 6.3 2.5 1 .7 1.2 .2 .1 .3 .6 0 -.6-.2 -.3-.4 -.8-.1 -.3-.5 -1.9-.5 -1.1-.6zM325.6 215.9l.3 .5 2.9 1 2.4 1.2 -.1-.4zM316.1 215.8l0 .3 4.2 1.6 1.1 .6 1.2 .3 .2 .5 1.8 .3 .2 .4 .5 .1 0-.2 -.5 0 -.2-.5 -.9-.1 -.3-.5 -3.3-1zM340.6 212.3l.3 .5 5.4 2.1 -.1-.3zM331.1 212.2l0 .2 4 1.8 2.5 .7 .5 .7 1.6 .3 .1 .4 .6 0 0-.2 -.6 0 -.1-.4 -1-.1 -.3-.5 -5-1.8zM222.7 206.7l0 .5 .2-.1 .4 .3 .5 0 1.3 .8 .3-.1 3.2 1.5 39.3 16.2 9.5 3.6 .5 .5 .9 .2 .4 .3 .7 0 .2 .4 .2-.1 0-.5 -.6 .1 -.1-.4 -1-.1 -.3-.4 -3.4-1 -5.6-2.3 -.7-.7 -34.3-14 -.2 .3 -6.4-2.6 -3.1-1.7 -.4 .2 -.8-.7z"/>
<path fill="#00c8ff" stroke="#00c8ff" d="M280.4 226.4l.4 .4 5.3 2.1 0-.3zM295.4 222.7l.4 .5 2.9 1 2.4 1.1 -.2-.4 -3.7-1.3zM285.9 222.7l0 .2 5.5 2.3 1.9 .5 .3 .5 1 .1 .1 .4 .6 0 -.4-.5 -1.3-.3 -.3-.5 -1.9-.5zM310.4 219.1l.4 .5 5.4 2.1 -.1-.4 -2.7-.9zM300.9 219.1l0 .2 4.4 1.6 1.1 .7 1.9 .5 .3 .5 .8 .1 .3 .4 .6 .1 -.4-.6 -1.3-.3 -.3-.5 -2.2-.6zM325.6 215.6l.3 .5 2.9 1 2.4 1.1 0-.4zM316.1 215.6l4 1.8 3.3 1 .3 .5 .9 .2 .2 .5 .5 0 -.2-.7 -.9 0 -.8-.6zM340.6 211.9l.3 .5 5.4 2.2 -.1-.4zM331.1 211.9l.1 .3 1.6 .7 5.6 2 .3 .5 1 .2 .1 .3 .6 0 0-.2 -.5-.4 -1.2-.1 -.3-.5 -1.8-.5zM222.7 206.3l0 .3 .7 .2 .8 .6 .4-.1 5.5 2.6 4 1.7 .2-.3 34 13.9 1 .7 5.6 2.4 3.4 1 .3 .4 1 .1 .1 .4 .6-.1 -1.1-.4 -.1-.4 -2.3-.5 -.5-.6 -3-1 -4.4-2 -18.2-7.3 -24.1-10.1 -.3 .3 -2.6-1.5 -.1 .2z"/>
<path fill="#00d1ff" stroke="#00d1ff" d="M280.4 225.9l0 .4 5.7 2.1 0-.2zM295.4 222.3l.4 .5 2.9 1 2.4 1.1 -.2-.3zM285.9 222.3l0 .3 5.5 2.2 1.9 .5 .3 .5 1.3 .3 .2 .3 .2-.1 -.4-.5 -.7-.1 -.4-.5 -3.9-1.1zM310.4 218.8l.4 .4 5.4 2.1 -.1-.4zM300.9 218.7l0 .2 5.2 2.2 2.2 .6 .3 .5 1.3 .2 .2 .4 .2 0 -.4-.6 -.6 0 -.4-.5 -1.3-.3zM325.6 215.2l0 .2 5.6 2.3 0-.3zM316.1 215.2l0 .2 7.3 2.8 .8 .6 .9 0 .2 .4 -.2-.6 -.8 0 -.4-.5 -2.3-.7zM340.6 211.6l.3 .5 1.8 .5 3.6 1.6 -1-.8zM331.1 211.6l0 .2 5.5 2.3 1.8 .5 .3 .5 1.2 .1 .5 .4 -1.3-1.2 -1-.1 -3-1zM222.7 205.9l.4 .7 .1-.2 .4 .3 .1-.3 2.6 1.5 .3-.2 24.1 10.1 18.2 7.3 3.8 1.7 3.6 1.3 .5 .6 2.3 .5 .1 .4 1.1 .2 -.4-.5 -.7 0 -.4-.4 -.9-.1 -.5-.5 -2.5-.7 -4.1-1.9 -36.7-14.9 -3.8-1.7 -2.6-.9 -2.4-1.3 -.2 .3z"/>
<path fill="#00dbff" stroke="#00dbff" d="M280.4 225.6l.3 .3 5.4 2.2 0-.3zM295.4 221.9l.4 .5 5.3 2.2 -.2-.4zM285.9 221.6l0 .6 4 1.7 3.9 1.2 .4 .5 .7 .1 .2 .4 .2 0 0-.7 -1.1-.1 0-.4 -3.9-1.1 -.5-.6zM310.6 218.4l.2 .4 5.4 2.1 -.5-.5zM300.9 218.1l0 .5 6.7 2.7 1.3 .3 .4 .5 .6 0 .2 .3 .2 0 0-.6 -1 0 -.4-.5 -2.5-.6 -1.2-.6 -.3-.5zM325.6 214.8l0 .3 5.6 2.2 -.1-.4 -1.8-.5zM315.9 214.4l.2 .7 5.5 2.2 2.3 .6 .4 .5 .8 0 .1 .4 .2-.1 0-.5 -1.1 0 -.4-.5 -2.3-.6 -2.4-1.4zM340.6 211.2l.3 .5 2.9 1 2.4 1.1 -.1-.4zM331.1 210.8l0 .6 4 1.8 3 1 1 .1 .3 .5 .7 .1 .1 .4 .2 0 0-.6 -.7 0 -.6-.6 -1-.2 -2.5-.8 -.5-.7zM222.7 205.3l.1 .6 .1-.1 2.2 1.3 .2-.3 2.4 1.3 2.6 .8 3.8 1.8 36.7 14.9 4.1 1.8 2.5 .8 .5 .5 .9 .1 .4 .4 .7 0 .2 .4 .2-.2 0-.5 -.6 .2 -.1-.4 -1 0 -.3-.5 -3-.9 -.5-.5 -46.9-19.2 -.2 .2 -3.3-1.6 -.2 .1z"/>
<path fill="#00e5ff" stroke="#00e5ff" d="M280.4 225.2l.3 .4 5.4 2.1 -.5-.5 -.8-.1zM295.4 221.7l.4 .4 5.3 2.1 0-.4zM285.8 221.2l0 .2 4 1.7 .5 .6 3.6 1 .4 .2 -.1 .3 1.1 .1 0-.2 -.7 0 -.5-.5 -1.5-.3 -1-.5 -.3-.5zM310.6 218.1l.2 .3 2.9 1 2.4 1.2 -.2-.4zM300.9 217.7l0 .2 4 1.5 .3 .5 1.2 .7 2.5 .6 .4 .5 1 0 0-.3 -1 0 -.4-.5 -2.3-.6 -.3-.5zM325.6 214.4l.2 .4 5.4 2.1 -.1-.3zM315.9 213.9l0 .4 3.3 1.3 1.5 1 3.2 1 .4 .5 1.1 0 0-.3 -1.1 0 -.4-.5 -2-.5 -.5-.6 -1.3-.4zM340.6 210.8l.3 .5 2.9 1 2.4 1.1 0-.3zM331.1 210.4l0 .3 4 1.6 .5 .6 2.5 .9 1 .1 .6 .7 .7 0 0-.3 -1-.1 -.3-.5 -2.2-.5 -.5-.6 -3.6-1.3zM222.7 205.1l.5 .6 .1-.3 .9 .8 .2-.1 3.3 1.6 .2-.3 46.2 18.9 1.2 .9 3 .9 .3 .5 1 0 .1 .3 .6-.1 0-.2 -.6 .1 -.1-.3 -.4 0 0-.3 -1.5-.3 -.3-.5 -6-2.1 -41.3-17 -4.7-2.1 -.3 .1 -1.4-.9 -.1 .3 -.3-.3 -.2 .1z"/>
<path fill="#00efff" stroke="#00efff" d="M280.4 224.8l.3 .4 5.2 2.1 -.3-.5zM295.4 221.2l0 .4 5.7 2.1 0-.3zM285.8 220.8l0 .3 1.9 .8 3.6 1.3 .3 .5 1 .5 1.5 .2 .5 .5 .7 0 0-.2 -.6 0 -.3-.5 -1.7-.3 -.3-.5 -.7-.3 -1.8-.5zM310.6 217.7l.2 .4 2.9 1 2.4 1.1 -.2-.4zM300.9 217.3l0 .3 5.4 2.1 .5 .6 2.1 .5 .4 .5 1 0 0-.2 -.5 0 -.1-.4 -1.6-.3 -.5-.6 -1.2-.2 -1.1-.7zM325.6 214.1l.2 .3 5.4 2.2 -.1-.4zM315.9 213.6l0 .2 .7 .4 4.8 1.9 .5 .6 2 .5 .4 .5 1.1 0 0-.3 -.6 0 -.1-.3 -1.6-.3 -.5-.6 -2.5-.8zM340.6 210.4l0 .3 5.6 2.2 0-.2zM331.1 210.1l.1 .3 1.6 .8 3.6 1.2 .5 .7 2.2 .5 .6 .6 .7 0 0-.4 -.6 .1 -.2-.5 -1.8-.2 -.2-.5 -4.8-1.8zM222.7 204.7l.4 .6 .2-.1 .3 .2 .1-.2 1.4 .9 .3-.2 4.7 2.2 44.8 18.3 2.5 .8 .3 .5 1.5 .2 0 .4 .4 0 .1 .3 .6-.2 -.4-.3 -.6 0 -.4-.4 -1-.1 -.5-.5 -2.5-.8 -4.1-1.9 -40.7-16.5 -4.8-2.2 -.2 .2 -1.2-.7 -.3 0 -.7-.6 -.1 .2z"/>
<path fill="#00f9ff" stroke="#00f9ff" d="M280.4 224.4l.3 .4 5.2 2.1 -.1-.3zM295.4 220.8l.3 .4 5.4 2.1 -.2-.4 -1.1-.2zM285.8 220.4l0 .3 .6 .4 6 2.2 .3 .5 1.7 .3 .3 .5 .6 0 0-.4 -.6 .1 -.3-.5 -1.7-.2 -.3-.5zM310.6 217.3l.2 .4 5.3 2.1 -.2-.4zM300.9 216.9l0 .3 4.4 1.6 1.1 .6 1.2 .3 .5 .6 1.6 .3 .1 .3 .5 0 0-.2 -.5 0 -.1-.4 -1.6-.2 -.5-.7 -1.2-.2 -1.1-.6zM325.6 213.7l.2 .4 5.4 2.1 -1-.8zM315.9 213.2l0 .2 4.2 1.9 2.5 .8 .5 .6 1.6 .2 .1 .4 .6 0 0-.2 -.6 0 -.1-.4 -1.6-.3 -.5-.6 -2.5-.7zM340.6 210.1l0 .2 5.6 2.3 -.1-.4 -1.8-.5zM330.9 209.7l0 .2 1.9 .9 4.8 1.8 .2 .5 1.8 .2 .2 .5 .6-.1 0-.3 -.6 .2 -.1-.5 -1.9-.3 -.2-.5zM222.7 204.3l.1 .4 .1-.3 .7 .7 .1-.2 1.4 .9 .2-.2 4.8 2.2 20.6 8.5 20.1 8 4.1 1.9 2.5 .7 .5 .5 1 .2 .4 .3 .6 0 .4 .3 -.4-.5 -.6 .1 -.1-.4 -.6 0 -.3-.5 -1.9-.3 -3.5-1.9 -24.8-10 -20-8.4 -.3 .3 -3.4-1.7 -.2 .2 -.5-.4 -.1 .2 -.4-.5z"/>
<path fill="#00fffa" stroke="#00fffa" d="M280.4 224.1l.3 .3 5.2 2.2 -.1-.4zM295.4 220.4l.3 .4 5.4 2.1 -.5-.5zM285.8 220.1l0 .2 .6 .4 6 2.2 .3 .5 1.7 .3 .3 .5 .6-.1 0-.3 -.6 .1 -.3-.5 -.8-.1 -.2-.4 -.8-.1zM310.6 216.8l0 .4 5.5 2.2 0-.3zM300.8 216.4l0 .3 .6 .4 3.9 1.3 1.1 .7 1.2 .2 .5 .6 1.6 .3 .1 .4 .5 0 0-.3 -.5 0 -.1-.4 -1-.1 -.3-.5 -2-.5zM325.6 213.3l.2 .4 2.9 1 2.4 1.1 -.2-.4zM315.9 212.8l0 .3 4.2 1.8 2.5 .8 .5 .6 1.6 .3 .1 .3 .6 0 0-.2 -.6 0 -.1-.4 -1-.1 -.3-.5 -3.3-1zM340.6 209.9l5.6 2.3 -.1-.4 -2.7-.9 -2.7-1.2zM330.9 209.3l0 .3 .7 .3 6 2.3 .2 .5 1.9 .2 .2 .3 -.1 .2 .6-.1 0-.2 -.5 .1 -.1-.5 -1.1-.1 -.4-.5 -.5 0zM222.7 203.7l0 .5 .5 .1 .4 .5 .1-.2 .5 .3 .2-.1 3.4 1.6 .3-.2 20 8.4 24.8 10 3.5 1.8 1.9 .4 .3 .5 .6 0 .1 .4 .6-.1 .2 .3 .2-.1 0-.5 -.6 .1 -.1-.3 -1 0 -.2-.4 -1.8-.5 -.3-.5 -8.2-3.1 -38-15.7 -3.5-1.6 -.4 .3 -1.8-1 -.1 .2 -1-.9 -.1 .3z"/>
<path fill="#00ffee" stroke="#00ffee" d="M280.4 223.7l.3 .4 5.2 2.1 -.1-.4zM295.4 220.1l.3 .3 5.2 2.2 -.1-.4zM285.8 219.7l0 .2 .6 .4 6.2 2.4 .8 .1 .2 .4 .8 .1 .3 .5 .6-.1 0-.3 -.6 .2 -.1-.5 -1-.2 -.2-.3 -.8-.2zM310.6 216.4l.1 .4 5.4 2.1 -.2-.3 -1.1-.3zM300.8 216.1l.1 .3 4.4 1.7 1.1 .6 2 .5 .3 .5 1 .1 .1 .4 .5 0 0-.4 -.5 .1 -.1-.3 -1-.2 -.3-.5 -1.8-.5zM325.6 212.9l.2 .4 2.9 1 2.4 1.1 0-.3zM315.9 212.4l0 .3 4.2 1.9 3.3 1 .3 .5 1 .1 .1 .4 .6 0 0-.3 -.6 0 -.1-.4 -1-.1 -.3-.5 -3.3-1zM340.7 209.3l.1 .4 5.4 2.1 -.1-.4zM330.9 208.9l0 .3 .7 .4 6.2 2.3 .5 0 .4 .5 1.1 .2 .1 .5 .5-.2 0-.2 -.5 0 -.1-.4 -1.1-.1 -.3-.5 -3.6-1.1zM222.7 203.3l.5 .8 .1-.3 1 .9 .1-.3 1.8 1 .2-.2 3.7 1.6 38 15.6 8.2 3.2 .3 .5 1.8 .5 .2 .3 1 0 .1 .4 .6-.1 0-.3 -.6 .2 -.5-.4 0-.3 -1.3-.1 -.5-.5 -2.3-.7 -45-18.4 -4.8-2.3 -.2 .3 -1.2-.9 -.7 0z"/>
<path fill="#01ffe1" stroke="#01ffe1" d="M280.4 223.2l.2 .5 1.7 .5 3.6 1.6 0-.4zM295.4 219.7l.3 .4 2.9 1 2.3 1.1 -.1-.4zM285.8 219.3l0 .3 .6 .3 6.2 2.4 .8 .1 .2 .4 1 .1 .1 .5 .6-.1 0-.2 -.6 0 -.1-.4 -1-.1 -.3-.5 -3.6-1.2zM310.6 216.1l.1 .3 5.4 2.2 -.2-.4 -2.6-.9zM300.8 215.7l.1 .4 5.7 2.2 1.8 .5 .3 .5 1 .1 .1 .4 .5-.1 0-.3 -.5 .2 -.1-.5 -1 0 -.1-.5 -2-.5zM325.6 212.4l0 .4 5.5 2.1 0-.2zM315.9 212.1l0 .2 4.2 1.9 3.3 1 .3 .5 1 .1 .1 .4 .6 0 0-.4 -.6 .1 -.1-.3 -1-.2 -.3-.5 -3.3-1zM340.7 208.9l.1 .4 5.4 2.1 -1-.7zM330.9 208.6l0 .2 1.9 .9 5.6 1.9 .3 .5 1.1 .1 .1 .4 .5 0 0-.3 -.5 0 -.1-.4 -1.1-.1 -.1-.5 -2.4-.6zM222.7 203.1l.5 .6 .1-.1 .3 .2 .1-.2 1.4 1 .2-.3 4.8 2.3 45 18.3 2.3 .8 .5 .5 1.3 .1 .5 .6 .6-.1 -.4-.5 -.6 .1 -1-.7 -2.9-.9 -.5-.5 -26.8-10.9 -20-8.3 -.3 .2 -3.4-1.7 -.1 .2 -.6-.4 -.1 .2 -.7-.7 -.1 .3z"/>
<path fill="#02ffd5" stroke="#02ffd5" d="M280.4 222.8l.2 .4 5.3 2.1 -.1-.4 -1.1-.2zM295.4 219.3l.3 .4 5.2 2.1 0-.4zM285.8 218.8l0 .4 1.9 .9 5.6 1.8 .3 .5 1 .2 .1 .3 .6 0 0-.3 -.6 .1 0-.4 -1.1-.1 -1.2-.9 -4.7-1.6zM310.6 215.7l.1 .4 5.4 2.1 -1-.8zM300.8 215.2l.1 .5 5.7 2.2 2 .5 .1 .5 1 0 .1 .5 .5-.1 0-.2 -.5 0 -.1-.4 -1-.1 -.1-.3 -.8-.1 -.2-.4zM325.6 212.1l.2 .3 5.3 2.2 -.2-.4 -2.6-.9zM315.8 211.6l0 .3 4.3 1.9 3.3 1 .3 .5 1 .1 .1 .4 .6-.1 0-.3 -.6 .2 -.1-.4 -1-.1 -1.1-.9 -2.4-.8zM340.7 208.4l.1 .5 2.9 1 2.4 1.2 0-.4zM330.9 207.9l0 .5 5.3 2.2 2.4 .6 .2 .2 -.1 .3 1.1 .1 .1 .4 .5 0 0-.4 -.5 .1 -.1-.3 -1-.2 -1.1-.8 -2.5-.8zM222.7 202.7l.1 .4 .1-.3 .7 .6 .1-.1 .5 .4 .2-.3 3.4 1.8 .3-.3 20 8.4 26.3 10.6 1 .8 2.9 .9 1 .7 .6-.1 .2 .4 .2-.2 -.7-.6 -1 0 -.2-.4 -1.6-.3 -.5-.7 -8.2-3.1 -38-15.6 -3.5-1.6 -.4 .2 -1.8-1 -.3 0 -.8-.6z"/>
<path fill="#03ffc9" stroke="#03ffc9" d="M280.4 222.4l.2 .4 5.3 2.1 -.1-.3 -2.6-.9zM295.4 218.8l0 .4 5.5 2.1 0-.2zM285.7 218.2l0 .5 6.7 2.5 1.2 .9 1.1 .1 0 .4 .6-.2 0-.2 -.2 .1 -.2-.2 -.6 0 -1-.8 -2.9-.9 -1-.7zM310.6 215.3l.1 .4 2.9 1 2.3 1.1 -.1-.4zM300.8 214.7l.1 .5 6.7 2.5 .2 .4 .8 .1 .1 .2 1 .2 .1 .3 .5 0 .1-.2 -.3-.3 -.8 0 -.9-.7 -3-.9 -.7-.6zM325.6 211.7l.1 .4 5.4 2.1 -.2-.4zM315.8 211.1l0 .3 6.8 2.7 1.1 .8 1 .2 .1 .3 .6-.1 -.3-.5 -1.4-.2 -.1-.4 -2-.5 -1.3-.6 -.2-.4zM340.7 208.1l.1 .3 5.3 2.2 -.4-.5 -1.5-.4zM330.9 207.4l0 .4 5.3 2.3 1.5 .3 1.1 .9 1 .1 .1 .4 .5-.1 0-.3 -.3 0 .1-.2 -.8 .1 -.8-.7 -3-.9 -1.3-.9zM222.7 202.3l.1 .4 .1-.3 .3 .3 .1-.1 .8 .6 .3 0 1.8 1 .2-.3 3.7 1.7 38 15.6 8.2 3.1 .3 .5 1.8 .5 .2 .4 1 0 .7 .5 0-.3 -.2 .2 -.2-.4 -.2 .1 -.5-.6 -1.3-.1 -.5-.5 -2.3-.8 -45-18.4 -4.8-2.2 -.2 .1 -1.3-.9 -.1 .2 -.4-.3 -.1 .3z"/>
<path fill="#05ffbe" stroke="#05ffbe" d="M280.4 222.1l.2 .3 5.3 2.2 -1-.8 -3-1zM295.4 218.6l.2 .2 5.3 2.1 -.1-.3zM285.7 217.9l.7 .5 3 1.2 1 .7 2.9 .9 1 .7 .6 0 .2 .3 .2-.1 -1.1-.9 -1.1-.1 -.5-.5 -2.5-.8zM310.6 214.8l.1 .5 2.9 1 2.3 1.1 0-.3 -.7-.4 -1.1-.3zM300.8 214.4l.1 .3 3.8 1.4 .7 .6 3 .9 .9 .7 .8 0 .1 .3 .2-.2 -1.5-.8 -1.1-.3 -.2-.4 -2.5-.7zM325.6 211.3l.1 .4 5.4 2.1 -.2-.4zM315.8 210.8l.8 .5 3.5 1.3 .2 .3 1.3 .7 2 .5 .1 .3 .6 0 .1 .3 .7 0 .3 .2 -1.3-1 -1.3-.1 -.4-.5 -.8-.1zM340.7 207.7l.1 .4 5.3 2.1 -.2-.4 -2.6-.9zM330.9 207.2l.2 .2 4 1.7 .5 .5 3 .8 .8 .8 .8-.1 0 .3 .2-.1 -1.1-.9 -1.1-.1 -.5-.5 -2.5-.7zM222.7 201.7l.1 .6 1 0 1.3 .9 .2-.1 4.8 2.2 45 18.4 2.3 .7 .5 .5 1.3 .2 .5 .3 0 .3 .2-.1 .2 .3 .2-.1 0-.6 -.6 .2 -.1-.3 -.3 .1 -.1-.4 -.6 0 -.2-.4 -.8-.1 -4.5-1.6 -.8-.8 -21.5-8.6 -20.5-8.5 -.2 .3 -5.7-2.8 -.1 .3 -.5-.5 -.1 .2 -.4-.4 -.1 .3z"/>
<path fill="#07ffb2" stroke="#07ffb2" d="M280.4 221.7l.2 .4 2.8 1 2.4 1.1 0-.4zM295.6 218.2l0 .2 5.3 2.2 -.1-.4zM285.7 217.4l0 .4 5.4 2.3 1.5 .3 .5 .5 1.1 .2 .1 .2 .4 0 .1 .4 .5 .1 0-.5 -.2 .1 -.2-.2 -.6 0 -1.1-.8 -1.4-.2 -1.5-1zM310.6 214.4l.1 .4 5.2 2.1 -.1-.3 -1.7-.5zM300.7 213.8l.1 .5 4.3 1.8 2.5 .7 .5 .5 .8 .1 .9 .7 .3-.2 .1 .4 .2-.1 0-.4 -.3-.2 -.8 .1 -.1-.4 -.5 0 -.3-.4 -1.5-.3 -.5-.5 -1.3-.4zM325.6 210.9l.1 .4 1.7 .5 3.7 1.6 -.2-.3zM315.8 210.3l0 .4 4.6 1.7 1.2 .7 .8 .1 .4 .5 1.3 .1 1.3 .9 0-.5 -.2 .1 -.1-.4 -.7 .2 -1-.8 -1.7-.5 -.3-.4zM340.7 207.4l.1 .3 5.3 2.1 -.2-.4zM330.8 206.7l0 .4 4.4 1.8 2.5 .8 .5 .5 1.1 .1 1.1 .8 0-.5 -.1 .1 -.1-.3 -.8 0 -.7-.6 -1.6-.4 -1-.7zM222.7 201.3l.5 .8 .1-.3 .4 .4 .1-.3 .5 .5 .1-.2 5.7 2.7 .2-.2 20.5 8.5 21.8 8.7 .5 .7 4.5 1.6 .8 .1 .2 .4 .6 0 .1 .4 .4 0 0 .2 .6-.2 -.4-.3 -.6 0 -.9-.6 -1.6-.4 -.5-.6 -8.2-3.1 -33-13.8 -5-1.9 -3.5-1.6 -.4 .3 -1.8-1.2 -.1 .3z"/>
<path fill="#0affa7" stroke="#0affa7" d="M280.4 221.2l.2 .5 5.2 2 0-.3 -.7-.3 -1.2-.3zM295.6 217.8l0 .3 5.3 2.1 -.1-.4 -3.5-1.5zM285.7 217.2l.7 .5 3.9 1.4 1.5 1 1.4 .2 1.1 .8 .6 0 .2 .2 .2-.1 -1.4-.9 -1.1-.1 -.4-.5 -1-.1zM310.6 214.2l.1 .2 5.2 2.2 -.1-.4zM300.7 213.6l4.4 2 1.3 .3 .5 .5 1.5 .4 .3 .4 .5 0 .1 .4 .8-.2 .3 .3 0-.3 -.2 .2 -1.3-.9 -1.1-.1 -.2-.4 -2.5-.8zM325.6 210.4l.1 .5 1.7 .5 3.5 1.5 -.3-.5 -.8-.1zM315.8 210.1l.8 .5 4.8 1.7 .5 .5 1.5 .4 1 .7 .7-.1 .1 .4 .2-.1 -.3-.4 -.3 .1 0-.4 -.4 0 -.1-.2 -1.2-.1 -.5-.5zM340.7 207.1l0 .2 5.4 2.1 -.2-.3 -3.5-1.5zM330.8 206.4l5.3 2.2 1 .7 1.6 .4 .7 .6 1 .1 -.2-.3 -.3 .1 -.8-.6 -1.2-.2 -.2-.5zM222.7 200.9l0 .3 1.6 .9 .1-.3 1.8 1.1 .2-.2 3.7 1.6 5 1.9 33 13.7 8.2 3.2 .5 .6 1.6 .4 .2 .2 .3 0 .4 .4 .6 0 .2 .2 .2-.1 0-.2 -.2 .1 -.4-.6 -1.1 .1 -.2-.4 -.7-.1 0-.4 -2.6-.7 -22.8-9.5 -22.2-8.9 -4.7-2.3 -.3 .2 -.7-.4 -.1 .1 -1-.9 -.1 .3z"/>
<path fill="#0eff9c" stroke="#0eff9c" d="M280.4 220.8l.2 .4 5.2 2.1 -.1-.4 -1.8-.5zM295.6 217.4l0 .3 1.7 .5 3.6 1.6 -.1-.4zM285.7 216.6l0 .5 4.6 1.7 1.1 .6 1 .2 .4 .5 1.1 .1 .4 .4 .4 0 .4 .5 .2-.2 0-.5 -.5 .3 -.1-.4 -.4 .1 -.1-.3 -.5 0 -.3-.4 -1.6-.4 -.5-.5zM310.6 213.8l0 .3 5.3 2.1 -.1-.4zM300.7 213.1l0 .3 4.4 1.9 2.5 .8 .2 .3 1.1 .2 1.3 .8 .2-.1 0-.4 -.6 .2 -1.2-.9 -1.7-.4 -1-.7zM325.6 210.1l.1 .3 5.2 2.2 -.3-.5 -2.4-.8zM315.8 209.4l0 .5 6.8 2.5 .5 .5 1.2 .2 .1 .2 .5 .1 -.1 .3 .3-.1 .3 .2 0-.5 -.5 .1 -.6-.5 -.6 0 -.1-.3 -1.7-.4 -.5-.5zM340.7 206.7l0 .2 1.7 .5 3.7 1.7 0-.4zM330.8 205.8l0 .5 6.9 2.5 .2 .5 1.2 .1 .8 .7 .3-.2 .1 .4 .3-.6 -.7 .2 -.1-.3 -.4 .1 -.1-.4 -.5 0 -.2-.4 -1.5-.3 -.5-.5 -3-1zM222.7 200.6l.1 .3 .1-.1 .3 .3 .1-.3 1 .9 .1-.1 .7 .3 .3-.1 4.7 2.3 22.2 8.8 22.8 9.5 2.3 .7 .4 .2 -.1 .3 .7 .1 .2 .4 1.1-.2 .4 .7 .2-.2 0-.2 -.2 .1 -.9-.7 -1.1-.2 -.5-.5 -6.2-2.1 -36.3-15.1 -5-1.9 -4.8-2.2 -.2 .2 -1.3-1z"/>
<path fill="#11ff92" stroke="#11ff92" d="M280.4 220.6l.2 .2 5.2 2.1 -.1-.3zM295.6 216.9l0 .4 5.2 2 -.4-.5 -1.1-.2zM285.7 216.3l.1 .3 5.5 2.1 .5 .5 1.6 .4 .3 .3 .5 0 .1 .4 .4-.1 .1 .4 .5-.3 -.4-.1 .2-.3 -.3 .2 -.6-.5 -1.1-.2 -.5-.5 -2.5-.7zM310.6 213.4l0 .3 5.3 2.1 0-.4zM300.7 212.8l5.2 2.1 1 .8 1.7 .4 1.2 .8 .6-.1 0-.2 -.2 .1 -.9-.8 -1.2-.1 -.5-.5zM325.6 209.7l.1 .4 5.2 2.1 -.1-.4zM315.8 209.2l.8 .5 4.8 1.9 .5 .5 1.7 .3 .1 .4 .6 0 .6 .5 .5-.1 -.5-.3 -.1-.3 -.4 .1 -.3-.4 -1.3-.1 -.1-.4 -1.1-.2zM340.7 206.2l0 .4 5.4 2 -.5-.5 -.8-.2zM330.8 205.6l.1 .2 2 .9 3.7 1.2 .5 .5 1.5 .4 .2 .4 .5 0 .1 .4 .4-.2 .1 .4 .7-.2 -1.5-.9 -1.2-.1 -.2-.4 -2.5-.8zM222.7 199.9l.1 .7 1 .1 1.3 1 .2-.3 4.8 2.3 5 1.9 36.3 15.1 6.2 2.1 .5 .5 1.1 .1 .9 .8 .2-.1 0-.5 -.5 .2 -.1-.4 -.4 .2 -.1-.4 -.6 0 -.4-.5 -1.6-.3 -.3-.5 -8.2-3.1 -33-13.7 -5-1.9 -3.5-1.6 -.4 .1 -1.8-1 -.1 .2 -.5-.5 -.1 .3 -.4-.4 -.1 .3z"/>
<path fill="#16ff87" stroke="#16ff87" d="M280.4 220.3l5.4 2.3 -.1-.4 -5-2zM295.6 216.6l0 .2 5.2 2.1 -.1-.3zM285.7 215.8l0 .4 4.4 1.9 2.5 .7 .5 .5 1.1 .1 .6 .5 .3-.1 0 .4 .2-.1 0-.5 -.5 .2 -1.2-.9 -1.7-.3 -1-.8zM310.6 212.9l0 .4 5.3 2 0-.2zM300.7 212.2l0 .5 6.9 2.5 .5 .5 1.2 .1 .9 .8 .2-.2 0-.3 -.6 .1 -.5-.5 -.6 0 -.1-.4 -1.7-.4 -.5-.5 -1.3-.3zM325.6 209.6l5.3 2.2 -.1-.4 -5-2zM315.7 208.7l0 .4 4.7 1.7 1.2 .6 1.1 .3 .2 .2 -.1 .2 1.3 .1 .3 .4 .4-.2 .1 .4 .5 .1 0-.5 -1 0 -.1-.3 -.6 0 -.3-.4 -1.7-.4 -.3-.5zM340.7 205.8l0 .3 5.2 2.1 -.3-.5zM330.8 205.1l0 .3 4.4 1.9 2.5 .8 .2 .3 1.2 .2 .8 .6 .3-.1 .1 .3 .3-.1 0-.5 -.7 .3 -.1-.4 -.4 .1 -.7-.6 -1.6-.4 -1-.7zM222.7 199.6l.5 .8 .1-.2 .4 .4 .1-.3 .5 .5 .1-.2 1.8 1 .4-.2 3.5 1.7 5 1.8 33 13.8 8.2 3.1 .3 .5 1.6 .3 .4 .5 .6 0 .1 .3 .4-.1 .1 .4 .5-.3 0-.2 -.5 .2 -.1-.3 -.4 .1 -.1-.4 -.6 0 0-.2 -.8-.2 -.4-.5 -1-.1 -1.1-.6 -3.9-1.4 -43-17.6 -3-1.6 -.3 .2 -.7-.5 -.1 .3 -.5-.5 -.1 .2 -.4-.4 -.1 .3z"/>
<path fill="#1bff7d" stroke="#1bff7d" d="M280.6 219.8l0 .3 5.2 2.1 0-.4zM295.6 216.2l0 .2 5.2 2.2 -.1-.4zM285.7 215.6l5.2 2.1 1 .7 1.7 .4 1.2 .9 .5-.3 -.2-.3 -.3 .1 -.6-.5 -1.1-.1 -.7-.5 -.8-.2zM310.6 212.6l0 .2 5.3 2.1 -.5-.5 -.7-.1zM300.7 211.9l4.4 2 1.3 .4 .5 .5 1.7 .4 .1 .4 .6 0 .5 .5 .6-.2 0-.2 -.2 .1 -.1-.2 -.3 .1 -.1-.4 -.3 .1 -.1-.3 -1.5-.2 -.2-.3 -2.5-.8zM325.7 209.1l0 .2 5.2 2.1 0-.3zM315.7 208.3l0 .3 5.7 2.1 .3 .5 1.7 .4 .3 .3 .6 0 .1 .4 1 0 -1.3-.9 -1.2-.1 -.2-.4 -2.9-.8zM340.7 205.4l0 .3 5.2 2.1 -.1-.4zM330.8 204.8l5.3 2.1 1 .8 1.6 .4 .7 .6 .4-.1 .1 .3 .7-.2 -.3 0 -.1-.4 -.3 .1 -.1-.2 -.4 0 -.1-.3 -1.1-.1 -.5-.5zM222.7 199.2l.5 .9 .1-.3 .4 .4 .1-.3 .5 .5 .1-.2 .7 .5 .3-.3 3 1.7 23.9 9.6 19.1 8 3.9 1.4 1.1 .6 1 .1 .4 .5 .8 .1 0 .3 .6 0 .1 .4 .4-.2 .1 .4 .5-.2 0-.3 -.5 0 -.1-.4 -1 .2 -.1-.4 -.8-.1 -.2-.4 -2.9-.9 -46-18.9 -3.3-1.6 -.3 .1 -.7-.3 -.1 .1 -1-.9 -.1 .3z"/>
<path fill="#20ff74" stroke="#20ff74" d="M280.6 219.3l0 .4 5.2 2 -.5-.5 -.7-.1zM295.6 215.8l0 .3 5.2 2.1 0-.4zM285.6 215.1l0 .3 6 2.4 .8 .1 .7 .5 1.1 .2 .6 .5 .3-.2 .1 .4 .1-.1 -.2-.4 -.3 .1 -.6-.5 -.5 0 -.1-.3 -1.7-.4 -.5-.5zM310.6 212.2l0 .2 5.2 2.2 -.4-.5zM300.7 211.4l0 .4 4.4 1.9 2.5 .7 .2 .4 1.5 .1 .1 .4 .4 0 0 .3 .6 0 -1.1-.8 -.6 0 -.3-.4 -1.7-.3 -.3-.5zM325.7 208.6l0 .3 5.2 2 -.1-.3 -1.1-.3zM315.7 207.8l.1 .5 2 .9 4.9 1.6 .2 .4 1.2 .1 1.3 .8 0-.3 -.5 0 -.1-.4 -.4 .2 -.1-.4 -2.4-.6 -.5-.5zM340.7 205.1l0 .2 1.4 .6 3 1 .8 .5 0-.3zM330.7 204.2l.1 .5 6.9 2.5 .5 .5 1.1 .1 .6 .5 .3-.1 .1 .4 .3-.2 -.4-.3 -.3 .1 -.6-.5 -.5 0 -.1-.4 -1.6-.4 -.5-.5zM222.7 199.1l.5 .3 .1-.2 1 .9 .1-.2 .7 .4 .3-.1 3.3 1.6 46 18.9 2.9 .9 .2 .3 .8 .2 .1 .3 1-.1 .1 .4 .5 0 0-.3 -.5 0 -.1-.3 -.4 .1 -.1-.4 -.5 .1 -.1-.3 -2.2-.4 -1.2-.6 -.5-.5 -6.6-2.5 -40-16.7 -.4 .3 -3.3-1.8 -.1 .2 -.5-.5 -.1 .2 -.4-.4 -.1 .3 -.3-.4z"/>
<path fill="#26ff6a" stroke="#26ff6a" d="M280.6 218.9l0 .3 5.1 2.1 -.4-.5 -1.1-.2zM295.6 215.4l0 .3 5.2 2 0-.3zM285.6 214.3l0 .6 5.8 2.2 .5 .5 1.7 .3 .1 .4 .5 0 .1 .3 1 .3 .1-.5 -.2 .2 -.1-.4 -1.4-.1 -.1-.3 -.8-.1 -.2-.4 -4.7-1.6 -.2-.5zM310.6 211.8l0 .3 5.2 2.1 -.1-.4zM300.6 210.8l.1 .5 5.7 2.1 .3 .5 1.7 .4 .3 .4 .6 0 .5 .5 .3-.1 .1 .3 .2-.1 0-.5 -.6 0 -.1-.4 -1 .2 -.1-.4 -.8-.1 -.2-.4 -4.4-1.5 -.5-.5zM325.7 208.2l0 .2 5.2 2.2 -.1-.4zM315.7 207.3l0 .4 5.7 2.2 .5 .5 2.4 .7 .1 .3 .4-.1 .4 .5 .2-.1 0-.4 -.3-.1 .1-.1 -1.4-.2 -.1-.2 -.8-.1 -.3-.5 -1-.2 -3-1.2 -1-.8zM340.7 204.7l0 .2 5.2 2 -.1-.3zM330.7 203.6l0 .5 5.9 2.2 .5 .5 1.6 .4 .1 .4 .5 0 .1 .2 1.2 .4 0-.5 -.3 .1 -.1-.4 -1.4-.1 -.1-.2 -.8-.2 -.2-.3 -2.5-.8 -2.1-1 -.3-.4zM222.8 198.6l.4 .5 .1-.3 .4 .4 .1-.3 .5 .5 .1-.1 3.3 1.8 .4-.3 40 16.6 6.6 2.5 .5 .5 1.2 .7 2.2 .3 .1 .4 .5-.1 .1 .4 .4-.2 .1 .4 .5 0 -.4-.1 .2-.3 -.3 .2 -.6-.5 -.5 0 -.1-.4 -1.7-.3 -.5-.6 -8.3-3.1 -15.8-6.6 -18.1-7.3 -7.6-3.4 -.3 .3 -1.9-1.1 -.1 .2 -1-.7 -.1 .2z"/>
<path fill="#2dff61" stroke="#2dff61" d="M280.6 218.6l0 .2 5.1 2.1 -.4-.5 -2.4-.7zM295.6 214.9l0 .4 5.2 2 -.1-.4 -1.1-.2zM285.6 214.1l.1 .2 2 .8 .2 .5 4.7 1.6 .2 .4 .8 .1 .1 .2 1 0 .1 .3 .3-.1 .1 .3 .2-.1 -.3-.4 -.3 .2 -.6-.5 -.5 0 -.3-.4 -1.7-.4 -.8-.6zM310.6 211.4l0 .3 5.2 2.1 0-.4zM300.6 210.4l.1 .4 1.7 .6 .8 .7 4.4 1.5 .2 .3 .8 .2 .1 .3 1-.1 .1 .4 .6 0 -.2 0 -.1-.4 -.7 0 -.1-.4 -.6 0 -.1-.2 -1.7-.4 -.5-.5zM325.7 207.8l0 .3 5.2 2.1 -1-.8 -1.7-.5zM315.7 207.1l2.1 .8 .8 .7 3 1.2 1 .1 .3 .5 .8 .2 .1 .2 1 0 .1 .3 .5 .1 0-.3 -.5 0 -.1-.3 -.4 .1 -.1-.3 -.5 0 -.1-.3 -1.6-.4 -.5-.5zM340.7 204.2l0 .4 5.2 2 -.1-.4 -1.1-.3zM330.7 203.3l.1 .3 1.8 .6 .5 .5 2.1 1 2.5 .7 .2 .4 .8 .1 .1 .3 1 0 .1 .2 .3-.1 .1 .4 .3-.1 0-.3 -.7 0 -.5-.5 -.6 0 -.2-.4 -1.8-.3 -.7-.7zM222.8 197.8l0 .6 .4 .3 .1-.3 1 .8 .1-.3 1.9 1.2 .3-.3 7.6 3.4 18.1 7.2 15.8 6.7 8.3 3.1 .5 .6 1.7 .3 .1 .3 .5 0 .6 .5 .3-.1 0 .4 .2-.1 0-.7 -.5 .4 -.1-.4 -.4 .2 -.1-.4 -1.4-.4 -.4-.5 -2.3-.6 -7-2.8 -39.4-16.2 -3.3-1.6 -.2 .1 -.6-.5 -.2 .2 -.6-.5 -.1 .3 -.4-.4 -.1 .1z"/>
<path fill="#34ff58" stroke="#34ff58" d="M280.6 218.2l0 .2 5.1 2.2 0-.4zM295.6 214.6l0 .2 5.2 2.1 -.5-.5 -.7-.1zM285.6 213.6l.1 .5 5.2 2 .8 .6 1.7 .4 .3 .3 .5 0 .1 .3 1.1 .4 0-.5 -.6 .2 -.1-.4 -.4 .2 -.1-.3 -.5 0 -.1-.4 -.8-.1 -.2-.4 -4.2-1.3 -.7-.7zM310.6 211.1l0 .2 5.2 2 -.1-.4zM300.6 209.9l.1 .5 5.7 2.3 .5 .5 1.7 .4 .1 .2 .6 0 .1 .4 .7 0 .1 .4 .2-.2 0-.5 -.6 .3 -.5-.5 -.6 0 -.1-.3 -.8-.1 -.4-.5 -.8-.1 -2.9-1.1 -1-.8zM325.7 207.4l0 .3 1.2 .6 2.4 .8 1.5 .7 0-.4zM315.6 206.3l.1 .6 5.9 2.2 .5 .5 1.6 .3 .1 .4 .5 0 .1 .3 .4-.2 .1 .4 .5 0 0-.5 -.3 .3 -.3-.3 -.4 .1 -.1-.3 -.5 0 -.1-.3 -.8-.1 -.2-.4 -4.6-1.6 -.3-.5zM340.7 203.8l0 .3 5.2 2.1 -.1-.4zM330.7 202.8l.1 .5 5.3 2 .7 .6 1.8 .4 .2 .4 .6 0 .5 .5 .7 0 0-.4 -.7 .3 -.1-.4 -.2 .1 -.2-.2 -.6 0 -.1-.4 -.8-.1 -.2-.4 -4.1-1.4 -.8-.6zM222.8 197.4l.1 .7 .8 .5 .1-.3 .5 .5 .3-.2 .6 .5 .2-.2 3.3 1.7 39.4 16.2 7 2.8 2.3 .6 .4 .5 1.4 .4 .1 .3 .4-.1 .1 .4 .5-.4 -.2-.4 -.5 .3 -.9-.3 -.1-.3 -3.2-1.2 -.7-.6 -6.6-2.5 -40-16.6 -.4 .2 -2.3-1.2 -.2 .2 -.6-.5 -.3 .2 -.5-.4 -.1 .1 -.6-.9 -.2 .3z"/>
<path fill="#3bff50" stroke="#3bff50" d="M280.6 217.8l0 .3 1.2 .6 3.9 1.4 0-.3zM295.6 214.2l0 .2 5.1 2.2 -.4-.5zM285.6 213.3l.1 .3 2 .7 .7 .6 4.2 1.4 .2 .4 .8 .1 .1 .4 .5 0 .1 .2 .4-.1 .1 .4 .6-.3 0-.2 -.2 .1 -.1-.2 -.3 .1 -.1-.3 -1-.2 -.1-.3 -1.7-.3 -.5-.5zM310.6 210.7l.2 .4 5 1.8 -.1-.3 -1.1-.3zM300.6 209.7l.1 .2 2 .8 1 .7 2.5 1 1.2 .3 .4 .5 .8 .1 .1 .3 .6 0 .5 .5 .6-.3 -.2 0 -.1-.4 -.7 0 -.1-.3 -2.6-.7 -.3-.5zM325.7 207.1l0 .2 1.2 .6 3.9 1.4 0-.2zM315.6 206.1l.1 .2 2.1 .8 .3 .5 4.6 1.6 .2 .4 .8 .1 .1 .2 .5 0 .1 .4 .4-.1 .3 .2 .3-.2 -.2-.3 -.3 .2 -.1-.4 -.4 .1 -.1-.2 -.5 0 -.2-.4 -1.8-.4 -.2-.4 -1.4-.3zM340.7 203.4l0 .3 5.2 2.1 -.1-.4zM330.7 202.6l.1 .2 2 .8 .8 .6 4.1 1.4 .2 .3 .8 .2 .1 .3 .6 0 .2 .3 .2-.1 .1 .3 .7-.2 0-.3 -.7 0 -.5-.5 -.6 0 -.1-.2 -1.6-.4 -.5-.5zM222.8 197.2l.1 .4 .2-.3 .6 .9 .1-.1 .5 .3 .3-.1 .6 .5 .2-.2 2.3 1.2 .4-.2 40 16.6 6.6 2.5 .7 .6 3.2 1.1 .1 .4 .5 0 .1 .3 .8-.3 .1 .3 .1-.2 -.2-.3 -.8 0 -.1-.4 -.5 .1 -.1-.4 -1.9-.3 -.3-.4 -1.3-.4 -2-1 -22.3-8.9 -22.1-9.1 -2.1-1.1 -.3 .2 -1.5-1 -.4 0 -.6-.5 -.1 .3z"/>
<path fill="#44ff48" stroke="#44ff48" d="M280.6 217.4l.3 .5 4.8 1.8 -.1-.4 -1.2-.2zM295.6 213.8l0 .3 5.1 2.1 0-.4zM285.4 212.7l.3 .6 5.7 2.1 .5 .5 2.3 .7 .6 .5 .6 0 -.3-.3 -.3 .1 -.1-.3 -.4 .1 -.1-.3 -1.4-.3 -.4-.5 -2-.5 -1.2-.9zM310.6 210.2l0 .4 5.2 2 -.1-.4 -1.1-.3zM300.6 209.2l.1 .5 5.7 2.1 .3 .5 1.5 .3 .5 .3 .6 0 .1 .4 .7 0 .1 .4 .2-.1 0-.3 -.6 0 0-.2 -.4 0 -.1-.3 -.6 0 -.1-.2 -.8-.2 -.2-.3 -2.3-.8 -.2-.4zM325.7 206.7l0 .2 1.2 .7 3.9 1.3 -.1-.3zM315.6 205.6l.1 .5 5.9 2.2 .2 .4 1.8 .4 .2 .3 .5 0 .1 .3 .4-.1 .1 .3 .5 0 -.2-.3 -.8 0 -.1-.4 -.5 .1 -.1-.4 -.8-.1 -.2-.4 -2.1-.6 -.8-.6zM340.7 203.1l0 .2 5.2 2.1 -.1-.3zM330.7 201.9l0 .5 5.9 2.3 .5 .5 1.6 .4 .1 .2 .6 0 .5 .5 .7 0 -.4-.2 -.3 .1 -.1-.4 -.2 .1 -.2-.2 -.6 0 -.1-.3 -.8-.1 -.3-.5 -1.9-.5 -1-.7zM222.8 196.8l.1 .4 .2-.1 .6 .5 .1-.3 2.5 1.5 .3-.2 2.1 1.1 22.1 9.1 22.3 8.9 2 1 1.3 .4 .3 .3 1.9 .4 .1 .4 .5-.1 .1 .3 .4-.1 .1 .3 .5 0 -.2-.3 -.3 .1 -.1-.3 -.4 .1 -.1-.3 -1.4-.3 -.4-.5 -2.3-.7 -7-2.7 -39.4-16.3 -3.3-1.6 -.2 .1 -.6-.5 -.2 .3z"/>
<path fill="#4dff40" stroke="#4dff40" d="M280.6 216.7l.1 .7 5 1.9 -.1-.4 -2.7-.8 -1-.5 -.2-.5zM295.6 213.1l0 .6 5.1 2 0-.3 -3.8-1.3 -.2-.5zM285.4 212.4l3.8 1.7 1.2 .8 2 .5 .4 .5 1.4 .4 .1 .3 .4-.2 .1 .4 .6 0 0-.5 -.6 0 -.1-.2 -.4 0 0-.3 -2.6-.6 -.3-.5zM310.6 209.4l0 .7 5.2 2.1 -.1-.4 -3.8-1.4 -.2-.5zM300.6 208.8l.2 .4 4.3 1.6 .2 .4 2.3 .7 .2 .4 .8 .1 .1 .3 .6 0 .1 .2 .4 0 0 .3 .6 0 0-.5 -.2 .1 -.4-.4 -.4 .2 -.1-.4 -.6 .1 -.4-.5 -1.6-.2 -.3-.4zM325.7 205.9l.1 .8 5 1.9 -.1-.4 -2.6-.9 -1-.5 -.3-.5zM315.6 205.3l4.2 1.8 .8 .6 2.1 .6 .2 .4 .8 .1 .1 .4 .5-.1 .1 .3 .4-.1 .5 .4 .3-.3 0-.2 -.7 0 -.1-.4 -.4 .1 -.7-.5 -1.6-.3 -.5-.5zM340.7 202.3l0 .6 5.1 2 -.1-.3 -3.4-1.2 -.5-.6zM330.7 201.7l.1 .2 3.9 1.5 1 .8 1.9 .5 .3 .5 .8 .1 .1 .3 .6 0 .2 .2 .2-.1 .1 .4 .7 0 0-.5 -.7 0 -.5-.5 -2.6-.7 -.2-.5zM222.8 196.4l.1 .4 .2-.1 1.3 .9 .2-.3 .6 .5 .2-.1 3.3 1.6 39.4 16.3 7 2.7 2.3 .6 .4 .5 1.4 .4 .1 .3 .4-.2 .1 .4 .3-.1 .1 .2 .2-.2 -.3-.3 -.3 .2 -.1-.3 -.4 .1 -.1-.3 -.5 .1 -.1-.4 -.8-.1 -.4-.4 -2-.5 -.7-.7 -40.5-16.4 -6.1-2.8 -.4 .3 -2.3-1.3 -.2 .3 -.4-.4 -.4 0 -.6-.5 -.1 .3 -.4-.5 -.1 .1z"/>
<path fill="#56ff38" stroke="#56ff38" d="M280.6 216.3l.1 .4 1 .2 .2 .5 3.8 1.5 -.3-.3 -1.5-.5 -.2-.5zM295.6 212.7l.1 .4 1 .3 .2 .5 3.8 1.4 -.1-.4 -1.7-.5 -.2-.5zM285.4 211.9l0 .4 6 2.3 .3 .5 1.5 .2 .5 .4 .6 0 0 .2 .4 0 .1 .3 .6 0 -.3-.3 -.3 .2 -.1-.4 -.3 .1 -.1-.2 -.6 0 -.1-.3 -.8-.1 -.2-.4 -2.2-.6 -.7-.6zM310.6 209.2l1.1 .6 .2 .5 3.8 1.4 0-.3 -1.8-.6 -.2-.5 -.8-.1 -2.2-1.1zM300.6 208.3l.1 .5 5.7 2.3 .3 .3 1.6 .3 .4 .5 .6-.1 .1 .3 .4-.1 .4 .4 .2-.1 -1-.4 -.1-.3 -.6 0 -1.1-.7 -2-.5 -.5-.6zM325.7 205.6l.1 .3 1 .3 .3 .5 3.7 1.5 -.1-.4 -1.6-.5 -.3-.5zM315.6 204.7l0 .5 6 2.2 .5 .5 1.6 .4 .7 .5 .4-.1 .1 .4 .7 0 0-.3 -.3 .1 -.1-.2 -.3 .1 -.1-.2 -.4 .1 -.1-.3 -.5 0 -.1-.2 -.8-.1 -.3-.5 -2-.5 -1.3-.9zM340.7 201.9l0 .3 1.1 .5 .3 .5 3.7 1.4 -.1-.4 -1.6-.5 -.3-.5zM330.6 201.2l.2 .5 5.8 2.1 .2 .5 1.5 .3 .5 .3 .6 0 .5 .5 .7 0 -.4-.2 -.3 .1 -.1-.4 -.2 .2 -.2-.3 -.6 0 -.1-.2 -.8-.2 -.2-.3 -2-.7 -.5-.5zM222.8 195.8l0 .5 .4 .3 .1-.2 .4 .5 .1-.2 1.4 .9 .2-.3 2.3 1.3 .4-.3 6.1 2.8 40.5 16.3 .5 .4 0 .3 2.2 .6 .4 .4 .8 .1 .1 .4 .5-.2 .1 .4 .4-.1 .1 .2 .6 0 0-.6 -.6 .4 -.1-.6 -1 0 -.1-.4 -1.9-.4 -.3-.4 -3-1 -4.3-2 -18.3-7.2 -22.1-9.1 -2.1-1.2 -.3 .3 -3-1.8 -.1 .4z"/>
<path fill="#60ff31" stroke="#60ff31" d="M280.6 215.9l.1 .4 3 1.1 .2 .5 1.7 .7 0-.4 -1-.3 -.2-.5zM295.6 212.3l.1 .4 3 1.1 .2 .5 1.8 .6 -.1-.3 -1-.3 -.3-.5zM285.4 211.7l4.3 1.7 .7 .7 2.2 .6 .2 .4 .8 .1 .1 .2 .6 0 .1 .3 .3-.1 .1 .3 .6 0 0-.5 -.6 .3 -.1-.5 -.3 .1 -.1-.4 -.6 .2 -.1-.4 -1.7-.3 -.5-.5zM310.7 208.7l.1 .4 2.1 1 .8 .1 .2 .5 1.8 .6 -.1-.4 -.9-.2 -.3-.5 -2.6-.9zM300.6 208.1l1 .6 3.5 1.2 .5 .7 2 .5 1.1 .7 .6 0 .9 .6 .2-.1 0-.5 -.5 .4 -.1-.6 -.4 .1 -.1-.3 -.6 0 0-.2 -1.8-.4 -.5-.5zM325.7 205.1l.1 .5 3 1.1 .3 .5 1.7 .6 0-.4 -1.1-.2 -.3-.6 -1.3-.4zM315.6 204.4l3.7 1.7 1.3 .8 2 .5 .3 .5 1.4 .4 .1 .3 .4-.2 .1 .3 .7 0 0-.5 -.7 .4 -.1-.7 -.4 .2 -.7-.5 -1.9-.4 -.2-.4 -1.4-.4zM340.7 201.6l.1 .3 3 1.2 .3 .5 1.7 .6 -.1-.4 -.9-.2 -.2-.5zM330.6 200.9l1.1 .7 3.5 1.2 .5 .5 2 .6 .2 .4 .8 .1 .1 .3 .6 0 .2 .2 .2-.1 .1 .4 .7 0 0-.5 -.7 .2 -.1-.5 -.2 .2 -.2-.4 -.6 .1 -.1-.4 -1.6-.2 -.5-.5zM222.8 195.4l.4 .8 .1-.4 3 1.8 .3-.3 2.1 1.1 22.1 9.2 18.3 7.2 3.7 1.8 3.6 1.2 .3 .4 1.9 .4 .1 .3 1 0 .1 .7 .6-.4 -.3-.3 -.3 .2 -.1-.3 -.4 .1 -.1-.3 -.5 .1 -.1-.3 -.8-.1 -.2-.4 -4.2-1.3 -1-.8 -42-17.2 -.2 .2 -2-.7 -2.8-1.5 -.2 .1 -.6-.5 -.2 .2 -.6-.6 -.1 .3 -.4-.5 -.1 .1z"/>
<path fill="#6bff2b" stroke="#6bff2b" d="M284.6 217.6l0 .2 1 .3 0-.3zM280.6 215.6l.1 .3 3.7 1.4 -.1-.4 -1.5-.3zM295.6 211.9l.1 .4 3.4 1.3 .5 .3 0 .3 1.1 .4 -.1-.4 -1-.3 -.3-.5zM285.4 211.1l0 .5 6 2.2 .5 .5 1.7 .3 .1 .3 .6-.1 .1 .4 .4 0 0 .4 .6-.3 0-.2 -.2 .2 -.1-.2 -.3 .1 -.1-.4 -.3 .1 -.1-.2 -.6 0 -.1-.3 -.8-.1 -.4-.4 -1.8-.5 -1-.7zM310.7 208.4l1.1 .8 2.6 .9 .3 .5 1 .3 -.1-.3 -.9-.3 -.3-.5zM300.4 207.6l.3 .5 5.7 2.1 .5 .5 1.8 .4 0 .2 .6 0 .1 .3 .4-.2 .1 .7 .5-.4 -.3-.3 -.2 .2 -.1-.3 -.4 .1 -.1-.3 -.5 .1 -.1-.4 -.8 0 -.3-.5 -1.4-.2 -.9-.4 -.5-.5zM325.7 204.7l.1 .4 1 .5 2.6 .8 .3 .7 1.1 .2 -.1-.2 -1-.4 -.3-.5 -1.3-.4zM315.6 203.9l0 .4 4.6 2 1.4 .4 .2 .4 1.5 .2 .5 .4 .5 0 .1 .2 .4-.1 .1 .6 .7-.3 -.4-.3 -.3 .1 -.1-.2 -.4 .1 -.1-.2 -.5 0 -.1-.3 -.8-.1 -.2-.4 -2.1-.6 -.8-.6zM340.7 201.2l.1 .4 3.8 1.3 .2 .5 1 .4 0-.4 -1-.2 -.4-.5zM330.6 200.3l0 .5 6 2.3 .5 .5 1.6 .2 .1 .4 .6-.1 .2 .3 .3 0 0 .4 .7-.2 0-.3 -.3 .1 -.1-.2 -.3 .1 0-.2 -.3 .1 -.2-.3 -.6 0 -.1-.2 -.8-.1 -.3-.4 -1.9-.5 -1-.8zM222.8 195.1l0 .2 .4 .3 .1-.2 .4 .5 .1-.2 .6 .6 .2-.2 .6 .5 .2-.2 2.8 1.5 2 .8 .2-.3 42 17.3 1 .7 4.2 1.4 .2 .4 .8 .1 .1 .3 .5-.2 .1 .4 .4-.1 .1 .2 .6 0 0-.2 -.2 .1 -.5-.4 -1 0 -.1-.3 -.8 0 -.1-.4 -1-.3 -.3-.5 -1.3-.2 -4.2-1.9 -20.1-8 -22.1-9.1 -2.1-1.1 -.3 .2 -.9-.6 -.2 .2z"/>
<path fill="#76ff24" stroke="#76ff24" d="M280.6 215.3l.1 .3 2.1 .8 1.5 .4 .3 .6 1 .3 0-.3 -.7-.1 -.1-.5zM295.6 211.6l.1 .3 3.4 1.3 .5 .4 0 .2 1.1 .4 -.1-.4 -.5-.1 -.3-.5 -.7-.1zM285.4 210.8l4.2 1.8 1 .7 1.8 .5 .4 .4 .8 .1 .1 .3 .6 0 .1 .2 .3-.1 .1 .4 .3-.2 .1 .3 .2-.3 -.3-.2 -.3 .1 -.1-.2 -.3 .1 -.1-.6 -.6 .1 -.5-.4 -1.5-.2 -.3-.5zM310.7 208.1l0 .2 3.7 1.4 .3 .5 1 .4 0-.3 -.6-.2 -.3-.5zM300.4 207.2l.3 .4 4.1 1.5 .8 .6 2 .5 .3 .5 .8 0 .1 .4 .5-.2 .1 .4 .4-.1 .4 .4 .2-.2 0-.2 -.2 .1 -.4-.4 -.4 .2 -.1-.5 -2.6-.7 -.1-.3 -3-1zM325.7 204.3l.1 .4 3.6 1.4 .3 .5 1 .3 -.1-.3 -.5-.2 -.2-.5 -2-.5zM315.6 203.7l4.2 1.7 .8 .7 2.1 .6 .2 .4 .8 .1 .1 .2 .5 0 .1 .3 .4-.1 .5 .3 .3-.1 0-.2 -.3 .2 -.5-.4 -.4 .2 0-.7 -.6 .2 -.1-.4 -1.6-.3 -.5-.5zM340.7 200.8l.1 .4 1.4 .4 2.2 1 .7 .6 .7 .1 0-.2 -.6-.2 -.3-.5zM330.6 200.1l4.1 1.7 1 .8 1.9 .5 .3 .3 .8 .2 .1 .2 .6 0 .2 .3 .6 0 .1 .2 .3-.1 -.5-.1 -.2-.3 -.3 .1 -.2-.6 -.6 .1 -.4-.3 -1.6-.3 -.2-.5zM222.8 194.7l.1 .4 .2-.2 .6 .7 .1-.2 1.4 .9 .2-.2 .9 .6 .3-.3 2.1 1.2 22.1 9.1 20.1 8 4.2 1.9 1.3 .2 .3 .5 1 .3 .1 .3 .8 0 .1 .4 .5-.1 .1 .2 .4-.1 .1 .3 .6 0 0-.3 -.2 .3 -.5-.4 -.4 .1 -.1-.6 -.5 .1 -.1-.4 -1.7-.2 -.5-.5 -4.8-1.8 -37.4-15.2 -7.5-3.4 -.4 .1 -1.5-1 -.4 0 -.6-.5 -.1 .4 -.3-.4 -.1 .3z"/>
<path fill="#82ff1e" stroke="#82ff1e" d="M284.9 216.9l0 .3 .7 .1 -.2-.4zM280.6 214.9l0 .3 4.2 1.5 -.1-.4zM295.6 211.2l.1 .4 4.1 1.5 .3 .5 .5 .1 0-.3 -.5-.1 -.3-.5 -1.1-.2zM285.4 210.3l0 .4 6 2.2 .3 .5 1.5 .3 .5 .4 .6-.2 .1 .7 .3-.2 .1 .3 .6 0 0-.5 -.2 .1 -.1-.2 -.3 .1 -.5-.4 -.6 .1 -.1-.2 -.8-.1 -.2-.4 -.9-.3 -.3-.3zM310.7 207.7l0 .2 4.1 1.5 .3 .5 .6 .3 0-.4 -.6-.1 -.3-.5zM300.4 206.7l.2 .5 6 2.2 .2 .3 -.1 .1 2.6 .6 .1 .5 .4-.1 .4 .4 .2-.1 0-.5 -1 0 -.1-.4 -.5 .1 -.1-.2 -.8-.2 -.3-.3 -.8-.2 -.2-.3zM325.7 203.9l.1 .4 2.1 1 2 .5 .3 .6 .5 .2 0-.3 -.9-.7 -1.9-.5zM315.4 203.1l.2 .5 6 2.2 .5 .5 1.6 .3 .1 .3 .6-.1 0 .6 .4-.1 .5 .4 .3-.3 0-.3 -.3 .1 -.1-.3 -.3 .2 -.1-.3 -.2 .1 -.2-.2 -.6 0 -.1-.3 -.8-.1 -.3-.4 -.8-.1 -.2-.4 -3-1zM340.7 200.4l.1 .4 4.1 1.5 .3 .5 .6 .1 0-.2 -.6-.1 -.3-.5zM330.6 199.6l0 .3 6 2.3 .2 .5 1.6 .2 .4 .4 .6-.1 .2 .6 .3-.1 .4 .4 .3-.2 0-.5 -.3 .2 -.4-.4 -.3 .1 -.2-.2 -.6 .1 -.1-.4 -.6 0 -.3-.4 -.7-.1 -.5-.5zM222.8 194.4l.5 .7 .1-.3 .3 .4 .1-.4 2.5 1.5 .4-.1 7.5 3.4 37.4 15.2 4.8 1.8 .5 .5 1.7 .2 .1 .4 .5-.1 .1 .6 .4-.1 .5 .3 .2-.2 0-.3 -.2 .3 -.1-.3 -.3 .2 -.1-.5 -.4 .1 0-.4 -.6 .1 -.1-.2 -.8-.1 -.4-.4 -2-.5 -.7-.8 -44.5-18 -2-1 -.4 .2 -2.4-1.3 -.2 .1 -.6-.5 -.2 .3 -1-.9 -.1 .5z"/>
<path fill="#8fff19" stroke="#8fff19" d="M280.6 214.6l0 .2 4.1 1.4 .2 .6 .7 .1 -.5-.8zM295.6 210.8l.1 .4 4.1 1.5 .3 .5 .5 .1 -.4-.7 -3.5-1.2zM285.4 210.1l2.4 1.1 3.6 1.2 .3 .4 .9 .3 .2 .3 .8 .2 .1 .2 .6-.1 .1 .2 .3-.1 .1 .3 .6 0 0-.3 -.2 .3 -.1-.3 -.7 0 -.1-.5 -.6 0 -.1-.2 -.8-.2 -.4-.3 -1.2-.3zM310.7 207.3l.2 .4 3.9 1.4 .3 .5 .6 .1 -.5-.8zM300.4 206.4l4.8 2.2 1.4 .3 .2 .4 .8 .1 .3 .4 .8 .1 .1 .3 .5-.1 .1 .3 1 0 -.2-.2 -.3 .1 -.1-.2 -.4 .1 -.1-.5 -.5 .1 -.1-.4 -.8 0 -.2-.3zM325.7 203.8l2.2 1.1 1.9 .5 .9 .8 -.5-.9zM315.4 202.8l.2 .3 6 2.2 .2 .4 .8 .1 .3 .4 .8 .1 .1 .3 .6 0 .2 .2 .2-.1 .5 .4 .3-.2 0-.2 -.3 .2 -.1-.2 -.6 0 -.2-.6 -.6 .1 -.1-.3 -.8-.1 -.3-.4 -2.4-.6zM340.7 200.1l.1 .3 4.1 1.5 .3 .5 .6 .2 -.4-.7 -.6-.3 -.9-.2zM330.6 199.3l2.3 1.1 3.7 1.3 .2 .4 1 .2 .3 .4 .6 0 .1 .4 .6-.2 .2 .3 .3-.1 .4 .3 .3-.1 0-.2 -.3 .2 -.4-.4 -.3 .2 -.2-.5 -.6 0 0-.3 -.7-.1 -.4-.4 -1.4-.2zM222.8 193.7l0 .6 .5 .4 .1-.5 1 .9 .2-.3 .6 .5 .2-.1 2.4 1.2 .4-.1 2 1 44.5 18 .7 .8 2 .5 .4 .3 .8 .2 .1 .2 .6-.1 0 .4 .4-.2 .1 .5 .3-.1 .1 .3 .2-.3 0-.5 -.2 .3 -.1-.3 -.3 .1 -.5-.3 -.6 .1 -.1-.4 -.8 0 -.1-.4 -1-.2 -.3-.4 -4.8-1.7 -19.2-8 -18.2-7.3 -7.5-3.4 -.4 .2 -.9-.5 -.2 .1 -1.5-.9 -.3-.4 -.1 .3z"/>
<path fill="#9cff14" stroke="#9cff14" d="M280.6 214.2l0 .2 4.5 1.5 .5 .7 0-.4 -.3 0 -.2-.5zM295.6 210.6l1.1 .7 3.5 1.1 .4 .5 -.4-.7zM285.3 209.4l.1 .5 5.8 2.3 1.2 .2 .4 .4 .8 .1 .1 .3 .6 0 .1 .5 .3-.1 .5 .3 .2-.2 -.6 0 -.1-.5 -.3 .1 -.1-.4 -.6 .2 -.1-.3 -.8-.1 -.4-.4 -.7-.1 -.3-.4zM310.7 206.9l0 .3 1 .5 3.5 1.1 .2 .5 .3 0 -.5-.7zM300.4 205.9l0 .4 7.3 2.6 .2 .4 .8 0 .1 .4 .5-.1 .1 .5 .4-.2 .1 .3 .5 0 0-.3 -.5 .2 -.1-.5 -.4 .1 -.7-.5 -.8 0 -.2-.4 -.9-.2 -.2-.4zM325.7 203.4l0 .3 4.5 1.5 .5 .6 0-.4 -.3 0 -.2-.5zM315.4 202.2l0 .5 2.5 1.1 3.8 1.4 .9 .1 .3 .4 .8 .1 .1 .3 .6-.2 .2 .7 .2-.2 .5 .4 .3-.2 -.4-.3 -.3 .1 -.1-.5 -1 0 -.1-.2 -.8-.1 -.3-.4 -.8-.1 -.2-.5 -1.3-.3zM340.7 199.9l3.2 1.4 .9 .1 .9 .8 -.4-.9 -1.5-.2 -2.9-1.3zM330.6 198.8l0 .4 5.7 2.2 1.4 .3 .4 .4 .7 .1 0 .2 .6 0 .2 .5 .3-.1 .4 .4 .3-.3 -.5 0 -.2-.5 -.3 .2 -.2-.4 -.5 .1 -.1-.2 -.7-.2 -.4-.3 -.9-.2 -.2-.3zM222.8 193.3l.5 .8 .1-.3 .3 .4 1.5 .9 .2-.2 .9 .5 .4-.1 7.5 3.4 18.2 7.2 19.2 8 4.8 1.8 .3 .4 1 .2 .1 .4 .8 0 .1 .4 .6-.2 .1 .3 .3-.1 .5 .3 .2-.2 0-.3 -.2 .3 -.1-.3 -.7 .2 -.1-.7 -.6 .2 -.1-.4 -.8 0 -.4-.4 -1.8-.5 -1-.7 -26.4-10.7 -20-8.3 -.4 .1 -2.4-1.3 -.2 .2 -1.4-.9 -.1 .4z"/>
<path fill="#aaff0f" stroke="#aaff0f" d="M279.4 216.7l0 .2 .7-.1 .1 .3 .2-.3 -.6 0 -.1-.2zM280.6 213.8l0 .3 4.5 1.5 .2 .5 .3 0 -.5-.8zM295.6 210.2l0 .2 4.6 1.7 .4 .5 -.5-.9 -1.4-.3zM285.3 208.9l0 .4 6.1 2.4 .3 .4 .7 .1 .4 .4 .8 .1 .1 .2 .6-.1 .1 .4 .4 0 0 .4 .3-.2 .1 .3 .2-.3 0-.5 -.2 .3 -.4-.4 -1.1 0 -.1-.5 -.8-.1 -.2-.4 -1.4-.2 -.9-.4 -.2-.4zM315.3 208.7l.3 .2 0-.2zM310.7 206.6l0 .2 1 .5 3.5 1.1 0-.2 -2.4-.6zM300.4 205.3l0 .5 6.2 2.3 .2 .3 .9 .3 .2 .4 .8 0 .7 .5 .4-.2 .1 .5 .5-.1 0-.5 -1 .1 -.1-.3 -.5 .1 -.1-.5 -3.1-1 -.8-.6zM325.7 203.1l0 .2 4.5 1.5 .2 .5 .3 0 -.5-.7zM315.4 201.7l0 .4 4.9 2.1 1.3 .2 .2 .5 .8 .2 .3 .3 .8 .2 .1 .2 1 0 .1 .5 .7 0 0-.5 -.7 .1 -.5-.3 -.6 .1 -.1-.6 -.8 0 -.2-.4 -2-.5 -.5-.6zM340.8 199.4l0 .3 3 1.2 1.5 .3 -.1-.3 -1.4-.2zM330.4 198.2l.2 .5 6 2.2 .2 .4 .9 .1 .4 .4 .7 .1 .1 .3 .5-.1 .2 .3 .5 0 0 .4 .5-.1 0-.5 -.3 .2 -.4-.3 -1 0 -.1-.7 -.7 0 -.4-.3 -2-.5 -.8-.7zM222.8 193.1l.1 .3 .2-.1 .6 .6 .1-.3 .6 .5 .2-.2 .6 .5 .2-.1 2.4 1.3 .4-.2 20 8.4 26.4 10.6 1 .8 1.8 .5 .4 .4 .8 0 .1 .3 .6-.1 0-.2 -.6 .1 -.1-.3 -.8 0 -.1-.3 -1-.3 -.3-.4 -4.8-1.7 -19.2-8 -18.2-7.3 -7.5-3.3 -.4 .1 -.9-.5 -.1 .1 -.7-.6 -.2 .2 -.6-.6 -.1 .4 -.3-.4 -.1 .1z"/>
<path fill="#b8ff0b" stroke="#b8ff0b" d="M280.6 213.4l0 .3 4.5 1.5 .2 .5 .3 0 -.2-.6 -2.3-.7zM295.6 209.8l0 .3 3.1 1.2 1.4 .3 .5 .6 0-.8 -1.9-.3zM285.3 208.7l.1 .2 4.7 1.8 .5 .5 2 .5 .3 .2 -.1 .2 .8 .1 .1 .5 .6-.1 .1 .2 .7 0 .1 .3 .2-.3 -.5 0 -.1-.5 -1.1 0 -.1-.4 -.7 0 -.3-.3 -.9-.2 -.3-.3zM310.7 206.3l2.1 1.1 2.4 .7 .1 .5 .3 0 0-.8 -.8 0zM300.4 205.1l.4 .3 4 1.5 .8 .7 3.1 1 .1 .5 .5-.2 .1 .4 .9 0 .3-.2 -.3 .2 -.1-.2 -.3 .1 -.1-.5 -1 0 -.1-.3 -.8-.1 -.3-.4 -.8-.1 -.2-.4 -3-1zM325.7 202.7l0 .2 4.5 1.5 .2 .5 .3 0 -.1-.6zM315.4 201.4l.2 .3 4.6 1.7 .5 .7 2 .5 .2 .3 .8 0 .1 .7 .6-.2 .5 .4 .7-.1 0-.3 -.3 .3 -.1-.3 -.3 .2 -.1-.5 -.2 .1 -.2-.3 -.6 .2 -.1-.3 -.8 0 -.1-.4 -1-.2 -.2-.4zM340.8 199.1l0 .2 3 1.3 1.4 .2 .5 .6 0-.7 -1.9-.4zM330.4 197.9l4.5 1.9 .8 .6 2 .5 .4 .4 .7 0 .1 .6 1 0 .4 .4 .3-.2 -.5 0 -.2-.5 -.3 .1 -.8-.5 -.7 0 -.4-.4 -.8-.1 -.2-.4zM222.8 192.7l0 .2 .5 .4 .1-.1 .3 .4 .1-.4 .6 .6 .2-.2 .7 .6 .1-.1 .9 .5 .4-.2 7.5 3.4 18.2 7.3 19.2 8 4.8 1.7 .3 .4 1 .2 .1 .4 .8 0 .1 .3 .6-.2 .1 .7 1 0 0-.3 -.2 .3 -.1-.3 -.3 .1 -.1-.5 -1 0 -.1-.6 -.8 0 -.4-.4 -.8-.1 -3.4-1.2 -.5-.5 -40.4-16.7 -1.9-.7 -.2 .2 -3.1-1.3 -1.7-1 -.2 .1 -.6-.5 -.2 .4 -1-.9 -.1 .5z"/>
<path fill="#c7ff07" stroke="#c7ff07" d="M280.6 212.7l0 .6 1 .5 3.8 1.1 -.1-.3 -.6 0 -2.8-.9 -.5-.6zM295.6 209.2l0 .5 3.1 1.2 1.9 .4 -.2-.2 -3.3-1 -.7-.7zM285.3 208.2l0 .4 2.5 1.1 3.6 1.2 .3 .4 .9 .1 .3 .4 .7 0 .1 .4 1.1 0 .1 .5 .5-.1 0-.3 -.2 .3 -.1-.5 -.7 .1 -.1-.4 -.6 .1 -.1-.5 -.7 0 -.3-.3 -1.4-.3 -.9-.4 -.2-.3zM310.7 205.6l0 .6 4.1 1.5 .8 0 0-.3 -.8 0 -2-.6zM300.3 204.6l.3 .5 6 2.2 .2 .4 .8 .1 .3 .4 .8 .1 .1 .3 1 0 .1 .5 .3-.2 .1 .3 .3-.3 -.8-.5 -1 0 -.1-.6 -.8 0 -.3-.4 -2-.5 -.8-.6zM325.7 201.9l0 .7 4.9 1.6 -.2-.4 -3.3-.9 -.5-.6zM315.4 200.9l.2 .5 6 2.3 .2 .4 1 .2 .1 .4 .8 0 .1 .2 .6-.1 .2 .3 .2-.2 .1 .5 .3-.1 .1 .3 .3-.3 -.3 .1 -.1-.5 -.3 .2 -.5-.4 -.6 .1 -.1-.5 -3-1 -.5-.5zM340.8 198.4l.1 .7 2.9 1.1 1.9 .4 0-.3 -1.9-.4 -1.6-.6 -.5-.6zM330.4 197.3l0 .5 6.3 2.4 .2 .4 .8 .1 .4 .4 .7 0 .8 .5 .3-.2 .2 .5 .5-.1 -.3-.5 -.7 .1 -.2-.3 -.5 .1 -.1-.5 -.7 0 -.4-.4 -2-.5 -1.3-.9zM222.8 192.1l0 .5 .5 .5 .1-.5 1 .8 .2-.3 .6 .5 .2-.2 .9 .7 3.9 1.7 .2-.2 42 17.2 .8 .6 3.4 1.3 .8 .1 .4 .4 .8 0 .1 .6 1 0 .1 .5 .3-.1 .1 .2 .2-.2 0-.6 -.2 .2 -.8 0 -.1-.6 -.6 .1 -.1-.2 -.8 0 -.1-.4 -1-.1 -.3-.5 -3.6-1.2 -3.7-1.7 -38.9-15.8 -3.5-1.7 -.4 .1 -.9-.5 -.1 .1 -.7-.6 -.2 .3 -.5-.7 -.1 .5z"/>
<path fill="#d7ff04" stroke="#d7ff04" d="M279.4 215.7l.8 0 .2-.4 -.2 .3 -.1-.3 -.3 .3 -.2-.3zM280.6 212.4l.1 .3 .7 .2 .5 .7 3.5 1 0-.4 -1.8-.3 -.8-.3 -.2-.5zM295.6 208.8l0 .3 .8 .2 .7 .6 3.3 1 0-.2 -2.2-.5 -.6-.6zM285.3 207.7l0 .4 4.8 1.8 .5 .5 2 .5 .3 .4 .7 0 .1 .5 .6-.1 .1 .4 .7-.2 .1 .5 .2-.2 0-.5 -.2 .2 -.4-.2 -.4 .1 -.1-.5 -.6 .1 0-.2 -.8 0 -.3-.4 -.9-.1 -.3-.5 -3.2-1 -.4-.5zM310.7 205.2l.1 .4 2 1.1 2 .6 .8 0 0-.2 -.8 0 -1.6-.5 -.5-.7zM300.3 204.1l0 .3 4.5 1.8 .8 .6 2 .5 .3 .4 .8 0 .1 .6 .5-.1 .1 .2 .8 0 .1 .4 .3-.1 0-.5 -.3 .2 -.1-.2 -.8 .1 -.1-.6 -.5 .1 -.1-.2 -.8 0 -.3-.4 -.8-.1 -.2-.4 -3-1 -.8-.6zM325.7 201.7l.9 .5 .5 .6 3.5 1 0-.4 -1.9-.2 -.8-.4 -.2-.5zM315.4 200.4l0 .4 4.8 1.9 .2 .4 3.3 1.1 .1 .5 .6-.1 .2 .2 .6 0 .1 .5 .3-.2 0-.5 -.3 .2 -.4 0 -.1-.2 -.2 .1 -.2-.5 -.6 .1 -.1-.2 -.8-.2 -.3-.3 -.8-.2 -.2-.3 -3.3-1.2 -.5-.5zM340.8 198.1l0 .2 .9 .3 .5 .6 1.6 .6 1.9 .4 0-.3 -2.4-.5 -.5-.6zM330.4 196.8l.2 .5 3.8 1.5 1.3 .9 2 .5 .4 .4 .7 0 .1 .5 .5-.2 .2 .4 .7-.1 .1 .4 .2-.7 -.5 .3 -.2-.3 -.3 .2 -.2-.5 -.5 .1 -.1-.3 -.7 0 -.3-.3 -.9-.3 -.2-.4 -1.4-.2 -2.1-1 -.5-.5zM223.9 192.1l.5 .8 .2-.2 .7 .6 .1-.1 .9 .5 .4-.1 3.5 1.7 38.9 15.8 3.7 1.7 3.6 1.1 .3 .5 1 .2 .1 .3 .8 0 .1 .3 .6-.1 0-.3 -.6 .3 -.1-.3 -.8-.1 -.4-.4 -.7-.1 -.3-.4 -3.2-1.1 -.8-.6 -42-17.3 -.2 .4 -3.5-1.8 -.4 .2 -.9-.7 -.1 .3 -.7-.6 -.2 .1zM222.8 191.7l0 .2 1 .9 -.1-.5z"/>
<path fill="#e7ff02" stroke="#e7ff02" d="M280.6 212.1l.2 .3 1.8 .5 .2 .5 .8 .4 1.8 .3 0-.3 -1.7-.2 -.3-.5zM295.6 208.7l2 .7 .6 .7 2.2 .5 -.1-.4 -1.6-.3 -.3-.5 -1.8-.5 -.9-.5zM285.3 207.4l2.5 1.2 .4 .5 3.2 1 .3 .5 .9 .1 .3 .4 .8 0 0 .2 .6-.1 .1 .5 .4-.1 .4 .2 .2-.2 -.2 .1 -.1-.5 -.7 .1 -.1-.5 -.5 .1 -.1-.2 -.8-.1 -.3-.4 -.9-.1 -.1-.4 -1.4-.3zM310.7 204.9l.1 .3 1.9 .6 .5 .6 1.6 .5 .8 0 0-.2 -1.8-.4 -.2-.5zM300.3 203.8l2.5 1.1 .8 .7 3 1 .2 .3 .8 .2 .3 .3 .8 0 .1 .3 .5-.1 .1 .6 .8-.1 .1 .2 .3-.2 0-.3 -.3 .3 -.1-.4 -.8 0 -.1-.5 -.5 .1 -.1-.2 -.8 0 -.3-.4 -.8-.1 -.2-.4zM325.7 201.3l0 .3 2 .6 .2 .5 .8 .4 1.9 .2 0-.2 -1.8-.3 -.2-.5zM315.4 200.2l.4 .4 2 .7 .5 .5 3.3 1.1 .2 .4 .8 .1 .3 .4 .8 .1 .1 .3 .6-.1 .2 .5 .2-.2 .1 .3 .4 0 .3-.3 -.3 .2 -.1-.5 -.6 .1 -.2-.6 -.6 .1 -.1-.3 -.8 0 0-.2 -1.1-.3 -.2-.3zM340.8 197.7l0 .2 2 .8 .5 .6 2.4 .5 -.3-.4 -1.5-.2 -.3-.5 -1.9-.5zM330.4 196.6l.2 .2 2.1 .8 .5 .5 2.1 1 1.4 .2 .2 .4 .9 .2 .3 .4 .7 0 .1 .3 .5-.2 .2 .5 .3-.1 .2 .3 .5-.3 -.3-.4 -.7 .2 -.2-.7 -.5 .3 -.1-.3 -.7-.1 -.4-.4 -.8-.1 -.2-.4 -1.4-.2zM222.8 191.3l.1 .5 .2-.1 .2 .4 .1-.2 .4 .5 .1-.5 .5 .7 .2-.2 .7 .7 .1-.3 .9 .6 .4-.1 3.5 1.8 .2-.4 3.9 1.7 18.1 7.3 20 8.2 .8 .7 3.2 1.1 .3 .4 .7 .1 .4 .4 .8 .1 .1 .2 .6-.2 .1 .6 .3-.1 .1 .2 .3-.2 .1 .2 .2-.2 0-.3 -.6 .3 -.1-.5 -.3 .1 -.1-.2 -.6 .2 -.1-.6 -.8 0 -.4-.4 -.7-.1 -.3-.4 -4.8-1.7 -19.2-8 -18.1-7.3 -7.6-3.4 -.4 .2 -1.7-1.2 -.2 .5 -1-1 -.1 .4z"/>
<path fill="#f8ff00" stroke="#f8ff00" d="M280.6 211.7l.2 .4 2.6 .8 .3 .5 1.7 .3 0-.3 -1.7-.2 -.3-.5zM295.4 210.8l-1 .4 .7-.1 .1 .5 .2-.3zM295.7 208.2l.9 .6 1.8 .5 .3 .5 1.7 .4 0-.4 -1.7-.2 -.3-.5zM309.4 207.4l.4 0 .1 .3 .3-.1 .1 .3 .3-.2 0-.4 -.3 .3 -.1-.3zM285.3 206.9l0 .4 4.9 2 1.4 .3 .2 .2 -.1 .1 .9 .2 .3 .3 .8 .2 .1 .2 .5-.1 0-.3 -.5 .3 -.1-.5 -.8-.1 -.3-.4 -2.3-.5 -.5-.5zM310.7 204.6l.2 .3 2.7 .8 .2 .5 .5 .2 1.3 .2 -.2-.3 -1.1-.1 -.7-.6zM324.6 203.8l0 .3 .6-.2 .1 .5 .3-.2 0-.5 -.3 .2 -.1-.2 -.1 .2 -.2-.2zM300.3 203.3l0 .4 6.3 2.4 .2 .3 .8 .2 .3 .3 .8 0 .1 .3 .6-.3 -.6 .2 -.1-.5 -.8 0 -.3-.4 -2-.5 -.8-.6zM325.7 200.9l.2 .4 2.7 .9 .2 .5 1.8 .2 0-.2 -1.8-.3 -.2-.5zM340.6 200.1l-1 .3 .7-.1 .1 .4zM315.3 199.7l0 .4 6.3 2.3 .2 .4 1.1 .3 0 .2 .8 0 .1 .3 .6-.2 -.6 0 -.1-.5 -.6 0 -.4-.3 -1.4-.3 -.9-.4 -.2-.3zM340.8 197.3l.1 .4 .8 .4 1.9 .5 .3 .5 1.7 .3 0-.3 -1.8-.3 -.2-.5 -1.9-.5zM330.4 196.2l0 .2 4.9 2.2 1.4 .2 .2 .4 .8 .1 .4 .4 .7 .1 .1 .3 .5-.3 -.5 .1 -.1-.6 -.7 0 -.4-.4 -2.3-.5 -.5-.5zM222.8 191.1l.1 .3 .2-.1 .2 .4 .1-.4 1 1 .2-.5 1.7 1.1 .4-.1 7.6 3.4 18.1 7.2 19.2 8 4.8 1.8 .3 .4 .7 .1 .4 .4 .8 0 .1 .6 .6-.3 .1 .3 .4 0 0 .4 .6-.3 -.2 .1 -.1-.5 -.7 .2 -.1-.7 -.5 .3 -.2-.3 -.8 0 -.1-.2 -1-.3 -.3-.3 -1.1-.4 -.2-.4 -6.9-2.6 -33-13.8 -5-1.8 -2-1 -.4 .1 -1.1-.6 -.4 .2 -1.7-1.1 -.2 .1 -.5-.6 -.1 .5 -.7-.9 0 .3z"/>
<path fill="#fffa00" stroke="#fffa00" d="M280.6 211.4l1 .7 1.8 .5 .3 .5 1.7 .2 0-.2 -1.1-.2 -.4-.5zM295.7 207.8l.1 .4 2.6 .7 .3 .5 1.7 .3 0-.3 -1 0 -.2-.5 -1.5-.2zM285.2 206.4l.2 .5 4.4 1.7 .5 .5 2.3 .5 .3 .3 .8 .2 .1 .5 .5-.3 .1 .6 .8 0 .2-.2 -.5 .1 -.1-.5 -.5 0 0-.4 -.5 .3 -.1-.4 -1.9-.4 -.2-.3 -1-.3 -.8-.6zM310.7 204.2l0 .2 2.9 1 .7 .7 1.1 .1 0-.4 -1 0 -.3-.5 -1-.1zM300.3 202.8l0 .4 4.5 1.7 .8 .7 2 .5 .3 .3 .8 0 .1 .5 .8 0 -.2 .4 .8-.1 .1 .2 .3-.2 0-.3 -.3 .3 -.4 0 -.1-.4 -.2 .1 -.2-.6 -.5 .3 -.2-.3 -.8 0 -.3-.4 -.8-.1 -.2-.4 -1.3-.3 -.1-.4zM325.7 200.6l.1 .3 2.8 .9 .2 .5 1.8 .3 0-.3 -1.2-.1 -.3-.5 -.9-.1zM315.3 199.2l0 .4 4.9 1.8 .5 .5 2 .5 .4 .4 .6 0 .1 .5 .6-.1 .2 .5 .3-.1 .2 .2 .1-.2 .1 .2 .3-.2 -.5 0 -.2-.4 -.3 .1 -.2-.5 -.6 .1 -.1-.2 -.6 0 -.2-.3 -1.1-.2 -.2-.4zM340.8 197.1l.9 .6 1.9 .5 .2 .5 1.8 .2 0-.2 -1-.1 -.3-.4zM330.4 195.7l0 .4 4.5 1.7 .5 .5 2.3 .5 .4 .4 .7 0 .1 .6 .7-.1 0 .5 .5 0 .6-.4 -.6 .3 -.2-.5 -.5 0 0-.4 -.5 .1 -.1-.2 -.7 0 -.4-.4 -2.3-.8 -.5-.5zM222.8 190.4l.1 .7 .2-.4 .7 .9 .1-.5 .5 .6 .2-.1 1.7 1.1 .4-.3 1.1 .7 .4-.2 2 1 5 1.9 33 13.8 6.9 2.6 .2 .4 1.1 .3 .3 .4 .7 .1 .4 .4 .8 0 .1 .3 .6-.3 .1 .6 .7-.1 .1 .5 .2-.2 0-.7 -.2 .4 -.4-.5 -.4 .1 -.1-.2 -.6 .2 -.1-.6 -1.9-.4 -.3-.5 -1.6-.3 -39.6-16.4 -5-1.9 -3.5-1.7 -.4 .1 -.9-.6 -.1 .2 -.7-.6 -.2 .4 -1-1 -.1 .3z"/>
<path fill="#fff200" stroke="#fff200" d="M280.4 213.7l-.6 .5 .3-.3 .1 .3zM280.6 210.7l0 .6 3.3 1 .8 .6 .7 0 -.1-.2 -1-.1 -.4-.5 -2.1-.5zM294.4 210.2l.4 0 .1 .5 .5-.3 -.2-.3zM295.7 207.2l.1 .6 1.9 .8 1.5 .2 .2 .5 1 0 0-.2 -1 0 -.5-.5 -2-.5 -.5-.7zM309.6 206.7l.2 0 .1 .4 .7-.3 -.3 .1 -.1-.5zM285.2 206.2l.5 .4 4.1 1.5 .5 .5 1.3 .3 .2 .4 1.9 .4 .1 .4 .5-.3 -.5 0 -.1-.5 -1.9-.4 -.2-.3zM310.7 203.6l0 .5 .9 .5 2.5 .6 .3 .5 1 0 0-.3 -1 0 -.3-.5 -2.2-.5 -.5-.6zM324.6 203.1l.3 0 .2 .3 .5-.1 0-.2 -.3 .2 -.1-.4zM300.3 202.6l1.4 .7 3.5 1.3 .2 .2 -.1 .1 1.3 .4 .2 .4 .8 .1 .3 .4 .8 0 .1 .2 .6-.2 -.6 .1 -.1-.5 -.8 0 -.3-.4 -.8-.1 -.2-.4zM325.7 200.1l.1 .5 3.3 1 .3 .5 1.2 .1 0-.4 -1.2 0 -.3-.5 -2-.5zM339.6 199.4l.3 0 .2 .5 .6-.2 0-.3 -.3 .3 -.1-.4zM315.3 198.9l6.3 2.8 .2 .4 .9 .1 .4 .4 .6 0 .1 .2 .6-.1 -.6 0 0-.5 -.7 0 -.4-.4 -.9-.1 -.2-.4 -1.3-.2zM340.8 196.4l0 .5 3.5 1.2 .6 .5 .7 0 0-.3 -1 0 -.4-.5 -2.1-.5 -.5-.6zM330.4 195.4l1.4 .8 3.1 1.1 .8 .6 2 .7 .4 .3 .7 0 .1 .3 .5-.1 -.5 0 -.1-.5 -1.9-.4 -.2-.4zM222.8 190.1l.5 .7 .1-.4 1 1 .2-.3 .7 .6 .1-.3 .9 .7 .4-.2 3.5 1.8 5 1.9 39.6 16.3 1.6 .4 .3 .5 1.9 .4 .1 .6 .6-.2 .1 .2 .4-.1 0-.3 -.4 .3 -.1-.6 -.5 .2 -.2-.2 -.7 0 -.1-.5 -2.2-.5 -.5-.5 -6.9-2.7 -33-13.7 -5-1.9 -2-1 -.4 .1 -2.4-1.3 -.1 .3 -.7-.6 -.2 .1 -.5-.6 -.1 .4 -.4-.5 -.1 .4z"/>
<path fill="#ffea00" stroke="#ffea00" d="M279.4 213.4l.4-.1 .1 .5 .5-.2 0-.3 -.2 .4 -.1-.5zM280.6 210.4l1.2 1 2.1 .5 .8 .7 .6 0 0-.4 -.6 .1 -.4-.1 -.1-.4 -1.3-.1 -.5-.6zM295.7 206.8l.1 .4 .6 .1 .5 .6 2 .5 .5 .5 1 0 0-.2 -1.1 0 -.1-.4 -1.4-.4 -.2-.5zM285.2 205.6l0 .5 6.4 2.3 .2 .4 1.9 .4 .1 .5 .6 0 0 .4 .8-.2 0 .5 .2-.2 0-.5 -.5 .2 -.1-.3 -.5 0 0-.4 -.5 .1 -.1-.5 -.8 0 -2.3-.7 -.8-.8zM310.7 203.3l.1 .3 .6 .1 .5 .6 2.2 .5 .3 .5 1 0 0-.2 -1 0 -.3-.5 -1-.2 -.5-.5zM300.3 201.9l0 .5 6.3 2.4 .2 .4 .8 .1 .3 .4 .8 0 .1 .5 .6-.3 .2 .7 .2-.3 .1 .3 .3-.3 .1 .5 .3-.2 0-.5 -.7 .2 -.1-.4 -.4 0 0-.3 -.6 .2 -.1-.5 -.8 0 -.3-.4 -1.9-.5 -.5-.5 -2.3-.7zM325.8 199.7l0 .2 1.3 .8 2 .5 .7 .6 .8-.1 -.2-.3 -1 0 -.1-.3 -1.1-.2 -.6-.6zM315.3 198.4l0 .4 5 2.1 1.3 .3 .2 .4 .9 .1 .4 .4 .7 0 0 .5 .6-.2 .2 .5 .6-.1 .1 .4 .3-.3 0-.5 -.3 .4 -.1-.2 -.1 .2 -.2-.5 -.3 .3 -.2-.7 -.5 .3 -.1-.5 -.7 0 -.4-.4 -2.3-.5 -.5-.6zM340.8 196.1l.1 .3 .7 .2 .5 .6 2.1 .5 .4 .5 1 0 0-.3 -1 0 -.5-.5 -1.2-.2 -.2-.5zM330.3 194.8l0 .5 6.4 2.4 .2 .4 1.9 .3 .1 .5 .7 0 0 .4 .7-.1 .1 .4 .3-.3 0-.4 -.6 .3 -.2-.4 -.5 0 0-.4 -.5 .2 -.1-.5 -.7 0 -.2-.3 -2.2-.5 -.8-.7zM223.9 190.1l.5 .7 .2-.1 .7 .6 .1-.4 2.4 1.4 .4-.1 2 1 5 1.9 33 13.7 6.9 2.6 .5 .5 2 .4 .3 .3 0 .3 .7 0 .1 .3 .6-.3 -.6 .2 0-.5 -.8 0 -.3-.4 -.9-.1 -.3-.4 -2.8-.9 -1-.7 -4.4-1.7 -37.6-15.6 -.3 .3 -3.6-1.8 -.3 .1 -1-.6 -.1 .1 -.7-.6 -.2 .4zM222.8 189.7l.1 .5 .2-.1 .2 .3 .1-.3 .4 .5 -.7-1 -.2 .3z"/>
<path fill="#ffe200" stroke="#ffe200" d="M280.6 210.2l.5 .4 1.3 .3 .5 .7 1.3 .1 .1 .4 .4 .1 .6-.1 0-.3 -.5 .1 -.2-.3 -1-.2 -.2-.3zM293.8 209.1l.5 0 .1 .5 .4-.2 .1 .4 .5-.2 -.2-.4 -.3 .2 -.1-.5 -.4 .3 -.1-.3zM295.7 206.6l.4 .3 1.5 .4 .5 .6 1.1 .3 .1 .4 1.1 0 0-.4 -.6 .1 -.1-.4 -1-.1 -.5-.5 -1.4-.2zM308.8 205.6l.6-.2 .2 .5 .2-.1 .1 .4 .7-.3 -.3 .2 -.1-.5 -.3 .2 -.1-.4 -.2 .2 -.2-.3zM285.2 205.2l0 .2 4.9 1.9 .5 .6 2.3 .8 .8 0 -.8 0 -.1-.4 -1-.2 -.2-.5 -1.4-.3zM310.7 202.9l0 .3 1.9 .6 .5 .5 1.2 .3 .1 .3 1 0 0-.2 -.6 0 -.1-.4 -1-.1 -.3-.4zM323.9 201.9l.2 .2 .3-.3 .2 .6 .3-.2 .2 .5 .5-.4 -.3 .1 -.4-.6 -.3 .1 -.2-.2zM300.2 201.7l2.7 1.4 2.3 .7 .5 .5 1.9 .5 .3 .4 .8 0 -.8-.1 -.1-.4 -1-.3 -.2-.3zM325.8 199.4l.4 .4 1.4 .4 .6 .6 1.1 .1 .1 .4 .4 .1 .6-.1 0-.2 -.5 .1 -.1-.5 -1.1 0 -.3-.5 -1.8-.4zM338.9 198.3l.5 0 .2 .5 .3-.1 .2 .4 .6-.3 0-.2 -.3 .3 -.1-.5 -.2 .3 -.2-.5zM315.3 198.1l0 .2 4.9 1.9 .2 .5 2.3 .5 .4 .4 .7 0 -.7-.2 -.2-.3 -1-.2 -.2-.5zM340.8 195.8l.1 .3 1.8 .5 .2 .5 1.2 .2 .5 .5 1 0 0-.4 -.7 .2 -.1-.4 -1-.1 -.1-.4zM330.3 194.4l0 .3 4.9 1.9 .5 .6 2.2 .5 .2 .2 .7 0 -1.9-.6 -.2-.5 -1.4-.2zM222.8 189.1l.1 .7 .2-.4 .7 .9 .1-.4 .5 .7 .2-.4 .7 .6 .1-.1 1 .6 .3-.1 3.6 1.7 .3-.2 37.6 15.6 4.4 1.6 1 .8 2.8 .9 .3 .3 .9 .2 .3 .3 .8 0 0 .5 .6-.2 .1 .6 .7-.2 .1 .5 .2-.4 0-.5 -.5 .4 -.1-.5 -.4 .2 -.1-.5 -.5 .3 -.1-.4 -.8 .1 -.1-.5 -1.1-.2 -.1-.4 -1.4-.3 -7-2.7 -39.4-16.3 -2.1-1.1 -.3 .1 -1-.6 -.1 .4 -1.4-1.3 -.1 .4 -.4-.5 -.1 .4z"/>
<path fill="#ffda00" stroke="#ffda00" d="M280.4 212.4l-.2 .3 -.1-.1 -.2 .3 .2-.2 .1 .2zM280.6 209.6l0 .5 2.8 .8 .2 .4 1 .1 .2 .4 .5-.1 0-.3 -.6 .2 -.1-.4 -1-.1 -.3-.4 -1.5-.4 -.5-.5zM295.4 208.8l-.3 .1 -.2 .4 .3-.2 .1 .3zM295.7 205.9l0 .5 .4 .3 2.1 .5 .5 .5 1 .1 .1 .4 .6-.1 -.1-.3 -.5 .1 -.1-.3 -1.1-.2 -.2-.2 -1.6-.4 -.5-.6zM310.6 205.2l-.7 .5 .3-.3 .1 .5 .3-.2zM285.2 204.9l3.4 1.7 3 .8 .2 .5 1 .3 .1 .4 .8-.2 .1 .5 .5-.1 .1 .3 .4-.3 -.4 .1 -.1-.6 -.4 .3 -.2-.4 -.8 .1 -.1-.4 -1-.2 -.2-.5 -1.4-.3zM310.7 202.4l.1 .5 2.6 .8 .3 .4 1 .1 .1 .4 .6 0 0-.4 -.6 .1 -.1-.4 -1 0 -.1-.3 -1.7-.4zM325.6 201.6l-.5 .3 .2 .4 .3-.2zM300.2 201.3l0 .3 6.4 2.3 .2 .4 1 .3 .1 .3 .8 0 .1 .5 .6-.2 .2 .2 .2-.1 0-.2 -.2 .2 -.2-.5 -.6 .3 -.1-.4 -.8 0 -.1-.4 -1-.1 -.2-.5zM325.8 198.9l0 .4 .8 .4 1.8 .4 .3 .5 1.1 0 .1 .5 .5-.2 0-.2 -.5 0 -.2-.4 -1 0 -.3-.4 -1.5-.3 -.5-.5zM340.7 198.1l-.3 .2 -.2-.1 -.1 .4 .2-.3 .1 .5zM315.3 197.7l0 .2 6.4 2.4 .2 .5 1 .1 .2 .4 .7 0 .1 .5 .5-.2 .2 .2 .3-.1 -.3 0 -.2-.5 -.5 .2 -.1-.3 -.7 0 -.2-.4 -1-.1 -.2-.5 -1.4-.3zM340.8 195.2l.1 .6 2.8 .8 .1 .3 1 .2 .1 .3 .7-.1 0-.2 -.7 .1 -.1-.4 -.6 0 -.5-.4 -1.8-.3 -.5-.7zM330.3 194.2l5 2.2 1.4 .3 .2 .5 .8 .1 .4 .4 .7 0 .1 .5 .7-.1 0 .2 .3-.2 -.3 0 0-.5 -.5 .2 -.3-.4 -.7 .2 -.2-.4 -1-.3 -.2-.5 -1.6-.3zM223.9 189.2l.3 .5 1.1 .9 .1-.4 3.4 1.6 39.4 16.3 7 2.7 1.4 .3 .2 .2 -.1 .1 1.1 .3 .1 .5 .8-.1 .1 .3 .5-.2 0-.3 -.5 .3 -.1-.5 -.8 .1 -.3-.4 -.8-.1 -.2-.4 -1.3-.2 -.5-.5 -6.6-2.5 -15.8-6.6 -18.1-7.3 -6.1-2.7 -.4 .1 -1.1-.6 -.3 .1 -1-.6 -.1 .1 -.7-.6 -.2 .2z"/>
<path fill="#ffd200" stroke="#ffd200" d="M280.7 209.4l1.1 .8 1.5 .4 .3 .3 1 .2 .1 .3 .6-.1 0-.4 -.6 .3 -.1-.4 -.4 0 -.4-.4 -1.1-.1 -.3-.4zM295.7 205.8l.6 .3 .5 .6 1.6 .4 .2 .2 1.1 .1 .1 .4 .5-.1 0-.3 -.5 .2 -.1-.4 -.4 0 -.1-.3 -1.3-.1 -.5-.5zM285.2 204.3l0 .5 5 2 1.4 .3 .2 .5 1 .2 .1 .4 .8-.1 .1 .3 .5-.2 .1 .6 .4-.2 .1 .3 .7-.3 -.3 .2 -.1-.5 -.3 .3 -.1-.4 -.4 .1 -.1-.4 -.4 .3 -.2-.4 -.8 .1 -.1-.3 -1-.3 -.2-.4 -3-1 -1-.7zM310.7 202.2l1.2 .9 1.7 .3 .1 .4 1 0 .1 .4 .6-.1 0-.3 -.6 .1 -.1-.3 -.4 .1 -.1-.4 -1.4-.1 -.4-.5 -1-.1zM300.2 200.7l0 .5 6.4 2.4 .2 .5 1 .1 .1 .4 .8 0 .1 .3 .6-.2 .2 .5 .2-.3 .1 .5 .7-.3 -.3 .1 -.1-.4 -.4 0 0-.2 -.2 .2 -.2-.4 -.6 .3 -.1-.4 -.8 0 -.1-.4 -1-.1 -.2-.5 -3.3-1 -.5-.6zM325.8 198.7l1.1 .7 1.5 .4 .3 .4 1 0 .2 .4 .5 0 0-.4 -.6 .1 -.7-.6 -1.3-.1 -.2-.4zM315.2 196.9l.1 .7 3 1.1 2 1 1.4 .2 .2 .5 1 .2 .2 .3 .7 0 .1 .4 .5-.2 .2 .5 .3-.2 .2 .4 .5-.4 -.3-.2 -.2 .2 -.2-.5 -.3 .3 -.2-.4 -.5 .3 -.1-.4 -.7 0 -.4-.4 -.8-.1 -.2-.5 -3.5-1.1 -.3-.5zM340.8 194.9l1.1 1 1.4 .3 .9 .5 .6 0 .1 .4 .7-.2 -.2-.2 -.5 .1 -.1-.4 -.4 0 -.1-.2 -1.2-.1 -.5-.5zM330.3 193.4l0 .7 4.8 1.8 1.6 .4 .2 .5 1 .3 .2 .3 .7-.1 .1 .4 .7-.3 .1 .7 .2-.3 .2 .4 .6-.3 0-.2 -.3 .4 -.1-.5 -.2 .2 -.2-.4 -.3 0 0-.2 -.5 .2 -.3-.3 -.7 .1 -.2-.4 -1-.2 -.2-.4 -3.3-1.1 -.5-.5zM222.8 188.4l.5 .9 .1-.4 .4 .5 .1-.3 .5 .6 .2-.3 .7 .7 .1-.2 1 .7 .3-.2 1.1 .7 .4-.2 6.1 2.8 18.1 7.2 15.8 6.7 6.6 2.5 .5 .5 1.3 .2 .2 .4 .8 .1 .3 .4 .8-.1 .1 .5 .5-.3 .1 .6 .4-.2 .1 .5 .5-.4 0-.2 -.2 .3 -.1-.5 -.2 .3 -.1-.5 -.4 .2 -.1-.5 -.5 .3 -.1-.5 -.8 .1 -.3-.4 -.8-.1 -.2-.4 -1.3-.2 -.5-.5 -6.6-2.5 -15.8-6.6 -18.1-7.3 -6.1-2.7 -.4 .1 -1.1-.6 -.3 .1 -1-.6 -.1 .1 -.6-.6 -.3 .2 -1-.9 -.1 .4 -.2-.5 -.2 .4z"/>
<path fill="#ffca00" stroke="#ffca00" d="M280.4 211.4l-.5 .5 .3 0 0 .4zM280.7 208.9l0 .4 1.7 .5 .3 .4 1.1 .1 .4 .4 .4 0 .1 .4 .6-.3 0-.2 -.6 .2 -.1-.4 -.4 .2 -.1-.4 -2.4-.6 -.5-.5zM295.6 207.9l-.7 .5 .3-.2 .1 .5zM295.7 205.3l0 .4 1.7 .5 .5 .5 1.3 .1 .1 .3 .4 0 .1 .3 .5-.1 0-.2 -.5 .1 -.2-.4 -.3 .1 -.1-.3 -.6 0 -.2-.3 -1.6-.4 -.5-.5zM310.6 204.3l-.7 .5 .3-.1 .1 .4 .3-.3zM285.2 203.9l0 .3 2.4 .9 1 .7 3 1 .2 .4 1 .2 .1 .4 .8-.1 .1 .4 .5-.3 .1 .4 .4-.1 0-.3 -.4 .1 -.1-.3 -.5 .2 -.1-.6 -.8 0 -.3-.4 -2.3-.5 -.5-.6zM310.7 201.6l0 .5 .7 .3 1 .2 .4 .5 1.4 .1 .1 .4 .4-.2 .1 .4 .6-.1 0-.3 -.6 .2 -.6-.5 -.6 0 -.2-.4 -1.8-.4 -.3-.5zM325.6 200.8l-.5 .5 .2-.2 .1 .2zM300.2 200.3l0 .3 2.6 1 .3 .5 3.5 1.1 .2 .5 1 .1 .1 .4 .8 0 .1 .4 .6-.3 .2 .4 .2-.3 0-.2 -.2 .2 -.2-.3 -.6 .2 -.1-.7 -.8 .1 0-.4 -2.2-.5 -.5-.6zM325.8 198.2l0 .4 1.8 .5 .2 .3 1.3 .2 .7 .6 .6-.1 0-.3 -.6 .3 -.1-.4 -.3 .1 -1-.7 -1.3-.3 -.7-.5zM340.7 197.2l-.6 .5 .2-.3 .1 .5zM315.2 196.7l.1 .2 2.6 1 .3 .5 3.5 1.2 .2 .5 .8 .1 .4 .4 .7 0 .1 .3 .5-.2 .2 .4 .3-.3 0-.2 -.3 .2 -.2-.4 -.5 .3 -.1-.8 -.7 .2 -.2-.4 -2.2-.5 -.8-.6zM340.8 194.6l.1 .3 1.7 .5 .5 .5 1.2 .2 .1 .2 .4 0 .1 .4 .5-.1 0-.3 -.5 .1 -.1-.3 -.4 .1 -.1-.4 -.6 0 -.1-.2 -1.7-.4 -.5-.5zM330.3 193.2l2.6 1.2 .5 .5 3.3 1.2 .2 .3 1 .3 .2 .4 .7-.2 .1 .4 .7-.2 .1 .3 .2-.1 -.3-.5 -.7 .3 -.1-.7 -.7 0 -.4-.3 -1.9-.4 -.5-.6zM224.7 188.8l.6 .8 .1-.2 1 .7 .3-.2 1.1 .7 .4-.2 6.1 2.8 18.1 7.2 15.8 6.7 6.6 2.5 .5 .5 1.3 .2 .2 .4 .8 .1 .3 .4 .8-.1 -.8 0 -.1-.5 -1-.2 -.2-.3 -9.7-3.7 -36.6-15 -3.6-1.8 -.3 .1 -.8-.6 -.3 .3zM223.4 188.2l.4 .6 .1-.2 .5 .6 -.5-.8 -.1 .3zM222.9 187.8l-.1 .5 .1 .3 .2-.4 .2 .5z"/>
<path fill="#ffc200" stroke="#ffc200" d="M280.7 208.7l1 .7 2.4 .7 .1 .3 .4-.1 .1 .4 .6-.3 -.4-.5 -.7 .3 -1.1-.8zM293.8 207.6l.1 .1 .4-.3 .1 .4 .4-.1 .1 .5 .7-.4 -.3 .1 -.1-.5 -.3 .3 -.1-.3 -.4 .2 -.1-.3zM295.7 205.1l1.1 .7 1.6 .4 .2 .2 .6 0 .1 .4 .3-.1 .2 .4 .5-.2 -.4-.5 -.6 .2 -.2-.3 -.5 0 -.2-.2 -.7-.2 -.4-.5zM308.8 203.9l0 .3 .6-.3 .2 .4 .2-.2 .1 .5 .3-.3 .1 .3 .3-.4 -.3 .1 -.1-.5 -.6 .3 -.2-.4zM285.2 203.6l0 .2 4.9 1.9 .2 .5 2.3 .5 .3 .4 .8 0 0-.3 -.8 .1 -.1-.3 -1-.2 -.2-.5 -1.4-.2zM310.7 201.4l.6 .3 .3 .5 1.8 .4 .2 .3 .6 0 .6 .5 .6-.1 -.3-.4 -.8 .2 -.1-.4 -.6 0 -.2-.3 -.7-.1 -.3-.4zM323.9 200.3l0 .3 .5-.3 .2 .4 .3-.3 .2 .7 .5-.4 0-.3 -.2 .3 -.1-.5 -.2 .2 -.2-.2 -.3 .2 -.2-.3zM300.2 200.1l5 2 .5 .6 2 .4 .4 .2 -.2 .3 .8-.2 0-.2 -.6 .1 -.2-.4 -1.1-.1 -.2-.5 -1.7-.4zM325.8 197.9l.6 .3 .3 .4 1.7 .3 .3 .4 .5 0 .2 .4 .3-.1 .1 .3 .6-.2 -.3-.5 -.8 .2 -.1-.3 -.5 .1 -.1-.4 -.8-.1 -.4-.4zM338.9 196.8l.7-.1 .1 .4 .4 0 0 .3 .6-.3 -.3 .1 -.1-.5 -.2 .2 -.2-.3 -.2 .2 -.1-.2zM315.2 196.3l.1 .4 4.6 1.7 .8 .7 2.2 .5 .2 .3 .7-.1 -.7-.1 -.4-.4 -.8-.1 -.2-.4zM340.8 194.3l1.1 .8 1.7 .3 .1 .3 .6 0 .1 .4 .4-.2 .1 .4 .5-.1 0-.3 -.2 .2 -.1-.3 -.7 0 -.1-.2 -.6 0 -.1-.3 -.8-.1 -.4-.5zM330.3 192.8l0 .3 5 1.8 .5 .7 1.9 .3 .4 .4 .7 0 0-.2 -.7 .1 -.2-.4 -1-.2 -.2-.4zM222.9 187.6l.4 .8 .1-.3 1.2 1 .1-.4 .6 .6 .3-.4 .8 .7 .3-.2 3.6 1.9 40.4 16.5 5.9 2.1 .2 .4 1 .1 .1 .5 .8-.1 .1 .5 .5-.2 .1 .5 .4-.3 .1 .5 .5-.5 -.2-.2 -.3 .2 -.1-.4 -.4 .3 -.1-.5 -.5 .2 -.1-.5 -.8 .2 -.1-.3 -1-.1 -.2-.5 -1.3-.3 -.5-.6 -40.5-16.4 -6.1-2.7 -.4 .2 -1.1-.6 -.3 .1 -1.7-1.1 -.1 .4 -.7-.9 -.1 .4 -.4-.6 -.1 .3 -.2-.5z"/>
<path fill="#ffba00" stroke="#ffba00" d="M280.4 210.8l-.1 .3 -.1-.4 -.3 .5 .3-.3 .1 .3zM280.7 208.2l0 .4 2.4 .7 .5 .5 .5 0 .1 .3 .7-.3 .2 .4 .2-.1 -.4-.4 -.2 .1 -.1-.4 -.4 .2 -.1-.3 -.7 0 -.5-.4 -1.1-.1zM295.7 204.6l0 .3 1.6 .4 .4 .5 .7 .1 .2 .3 .5 0 .2 .2 .6-.1 .2 .4 .2-.1 0-.3 -.2 .1 -.2-.3 -.3 0 0-.3 -.4 .1 -.1-.2 -.5 0 -.5-.4 -1.3-.1zM285.1 203.2l.1 .2 5 2.2 1.4 .2 .2 .5 1 .1 .1 .4 .8-.1 .1 .7 .5-.2 .1 .2 .4-.1 .1 .3 .3-.3 0-.4 -.3 .4 -.1-.4 -.4 0 0-.3 -.5 .2 -.2-.4 -.8 .2 -.1-.4 -1-.1 -.2-.5 -1.7-.4zM310.7 200.9l0 .4 1.7 .5 .3 .4 .7 .1 .2 .3 .6 0 .1 .3 1 0 0-.2 -.2 .1 -.5-.5 -.3 .1 -.1-.3 -.6 .1 -.2-.4 -.8 0 -1-.4 -.3-.3zM300.2 199.7l0 .2 2.7 1.2 3.7 1.1 .2 .5 1.1 .1 .2 .4 .6-.1 .1 .7 .6-.2 .2 .3 .3 0 .3-.2 0-.3 -.1 .3 -.2-.3 -.3 .3 -.2-.8 -.5 .3 -.2-.1 .1-.2 -.7 0 -.4-.3 -.9-.2 -.2-.3zM325.8 197.4l0 .4 1.6 .4 .4 .4 .8 .1 .1 .4 .5-.2 .1 .4 .8-.2 .1 .3 .2-.1 0-.2 -.6 0 -.1-.4 -.4 .1 -.1-.4 -.5 .2 -.6-.4 -1.2-.1zM315.2 196.1l.1 .2 6.4 2.4 .2 .4 .8 .1 .4 .4 .7 0 .1 .6 .5-.3 .2 .4 .3-.2 .2 .2 .2-.2 0-.3 -.2 .3 -.2-.3 -.3 .3 -.2-.7 -.5 .3 -.1-.4 -.7 .1 -.2-.3 -1-.2 -.2-.5 -1.4-.2zM340.8 193.8l0 .4 1.6 .4 .4 .5 .8 .1 .1 .2 .6 0 .1 .3 .7 0 .1 .2 .2-.1 0-.2 -.2 .1 -.1-.4 -.4 0 0-.2 -.3 .1 -1.2-.6 -1.1-.2 -.7-.5zM330.3 192.6l2.8 1.2 3.6 1.3 .2 .3 1 .3 .2 .4 .7-.2 .1 .8 .5-.3 .3 .3 .2-.3 .2 .4 .2-.2 0-.4 -.6 .2 -.1-.6 -.5 .3 -.3-.4 -.7 .1 -.2-.4 -1-.1 -.2-.5 -1.6-.4zM224.7 187.7l0 .5 .4 .4 1.3 .7 .3-.1 1.1 .6 .4-.2 6.1 2.7 40.5 16.4 .5 .4 0 .2 1.3 .3 .2 .5 1 .1 .1 .2 .8-.1 0-.5 -.8 .1 -.1-.3 -2.5-.5 -.5-.7 -23.9-9.5 -22.7-9.5 -.4 .2 -2-1.3 -.4 0z"/>
<path fill="#ffb200" stroke="#ffb200" d="M278.8 210.2l0 .4 .5-.3 .1 .5 .4-.4 .1 .5 .3-.3 .1 .3 .1-.7 -.1 .2 -.1-.2 -.3 .2 -.1-.3 -.4 .2 -.1-.4zM280.7 207.7l0 .4 .5 .1 .2 .4 1.5 .2 .5 .4 .7 0 .1 .2 .4-.1 .1 .4 .5 0 0-.3 -.1 .3 -.5-.5 -.4 .1 -.1-.4 -.7 .2 -.1-.4 -.7 0 -.2-.3 -1-.2 -.2-.4zM295.2 206.6l-.3 .2 -.1-.2 -.4 .5 .4-.3 .1 .4zM295.7 204.1l0 .3 .5 .2 .2 .3 1.7 .3 .5 .4 .5 0 .1 .2 .4-.1 .1 .4 .4 0 0 .2 .2-.1 -.4-.5 -.7 0 -.1-.4 -.5 .1zM310.2 203.1l-.1 .2 -.2-.2 -.2 .1 -.1 .4 .3-.3 .2 .3zM285.1 202.6l.1 .6 4.7 1.9 1.7 .3 .2 .5 1 .2 .1 .3 .8-.1 .1 .4 .6-.3 0-.2 -.5 .2 -.2-.2 -.8 0 -.1-.6 -2.1-.4 -.5-.6zM310.7 200.4l0 .4 .6 .1 .5 .5 1.6 .3 .2 .4 .6-.2 .1 .4 .3-.1 .5 .5 .2-.1 0-.3 -.6 0 -.1-.4 -.3 .2 -.1-.3 -.6 0 -.2-.2 -.7-.2 -.1-.2zM325.3 199.4l-.2 .3 -.2-.3 -.2 .2 -.1 .3 .3-.2 .2 .2zM300.2 199.2l0 .4 6.4 2.3 .2 .4 .9 .1 .4 .4 .7 0 0 .3 .6-.3 -.1-.1 -.4 .2 -.1-.3 -.7 .1 -.2-.6 -2.5-.7 -.5-.5zM325.8 196.9l0 .4 .5 .1 .3 .4 1.5 .3 .6 .3 .5-.1 .1 .4 .4-.1 .1 .3 .6 0 0-.2 -.6 0 -.1-.4 -1.1 0 -.2-.4 -.7 0 -.1-.2 -1-.3 -.3-.3zM340.3 195.8l-.2 .3 -.2-.3 -.2 .5 .2-.2 .2 .2zM315.2 195.4l.1 .7 5 2 1.4 .2 .2 .5 1 .1 .2 .4 .7-.1 .1 .4 .5-.3 0-.2 -.5 .2 -.1-.4 -.7 .2 -.2-.7 -2.2-.5 -.8-.6zM340.8 193.3l0 .4 .6 .1 .3 .4 1.5 .2 .5 .4 .5 0 .2 .3 .3-.2 .1 .4 .4 0 0 .3 .2-.2 -.3-.5 -.8 0 -.1-.3 -.5 .1 -.1-.3 -2-.6 -.3-.4zM330.2 191.8l.1 .6 4.8 1.9 1.6 .4 .2 .5 1 .1 .2 .4 .7-.1 .1 .3 .7-.2 0-.3 -.5 .3 -.3-.4 -.7 .1 0-.6 -2.3-.4 -.5-.6zM224.7 187.3l.4 .6 2.7 1.5 .4-.1 22.7 9.5 23.9 9.5 .5 .4 0 .2 2.5 .5 .1 .4 .8-.1 0-.3 -.8 .2 -.1-.3 -1-.1 -.2-.5 -3-.9 -39.3-16 -7.6-3.5 -.3 .1 -.8-.6 -.2 .3zM222.9 186.7l.4 .9 .1-.4 .4 .6 .1-.4 .7 .9 0-.4 -.7-.8 -.1 .2 -.6-.7 -.1 .5zM269.1 176.2l0 .2 .3 .2z"/>
<path fill="#ffaa00" stroke="#ffaa00" d="M280.4 209.9l-.1 .3 -.1-.4 -.3 .5 .3-.2 .1 .2zM279.3 209.6l-.4 .1 -.1 .4 .5-.3zM280.7 207.4l.7 .7 .8 .1 .4 .4 .7 0 .1 .3 .7-.1 .1 .4 .4-.1 .5 .5 .1-.5 -.3 .2 -.5-.5 -.2 .1 -.1-.2 -.7 0 -.1-.5 -.7 0 -.4-.4zM295.2 206.2l-.3 .2 -.1-.2 -.2 .5 .2-.3 .1 .3zM295.7 203.8l.7 .6 .8 .2 1.4 .7 .5-.1 .1 .4 .7 0 .2 .3 .2-.1 0-.2 -.6 0 -.1-.4 -1.2 0 -.1-.6 -.7 0 -.4-.4zM310.2 202.6l-.1 .2 -.4 0 -.1 .4 .3-.3 .2 .3zM285.1 202.3l.1 .3 5 1.8 .5 .7 2.1 .3 .1 .7 .8 0 .1 .2 .6-.2 -.6 .1 -.1-.8 -.8 .2 -.1-.3 -1-.1 -.2-.5 -1.7-.4zM310.7 200.2l.1 .2 1.5 .5 .4 .4 .7 .1 .2 .3 .6 0 .1 .2 .3-.1 .1 .4 .6 0 0-.3 -.2 .2 -.2-.3 -.6 0 -.2-.4 -.5 .2 -.2-.5 -.7-.2 -.4-.3zM325.3 199.1l-.2 .2 -.2-.2 -.2 .1 -.1 .4 .3-.3 .2 .3zM300.2 198.8l0 .3 4.7 1.7 .5 .5 2.3 .5 .4 .3 0 .5 .7-.2 .1 .4 .5-.2 0-.3 -.5 .3 -.1-.7 -.7 .2 -.2-.4 -1-.1 -.2-.4zM325.8 196.7l.8 .6 .7 .1 .4 .4 .7 0 .2 .4 .6-.1 .1 .2 .4-.1 .1 .4 .6 0 -.7-.5 -.4 .1 -.1-.4 -.6 .1 -.2-.5 -.7 0 -.4-.3zM340.3 195.4l-.2 .3 -.2-.3 -.2 .5 .2-.2 .2 .2zM315.2 195.2l.1 .2 4.6 1.8 .8 .6 2.2 .5 .2 .6 .7-.1 .1 .4 .5-.3 0-.2 -.5 .2 -.1-.6 -.7 .1 -.2-.3 -1-.2 -.2-.3 -1.4-.3zM340.8 193.1l.8 .6 .8 .1 .4 .4 .8 .1 .1 .3 .5-.2 .1 .4 .8 0 .1 .4 .2-.1 0-.3 -.6 0 -.1-.4 -1 0 -.3-.6 -.6 0 -.5-.4zM330.2 191.6l.1 .2 5 1.9 .5 .6 2.3 .4 0 .6 .7-.1 .1 .4 .7-.3 0-.2 -.7 .2 -.1-.6 -.6 .1 -.1-.2 -1.2-.2 -.2-.5 -1.6-.3zM224.7 186.9l.7 1 .2-.2 .8 .6 .3-.1 7.6 3.5 39.3 16 3 .9 .2 .5 1 .1 .1 .2 .8-.1 -.8 0 -.1-.4 -1-.1 -.2-.4 -3-1 -1-.7 -38.3-15.5 -3.7-1.8 -.3 .4 -3.6-1.9 -.1 .3 -1-.8 -.2 .3zM222.9 186.3l.2 .6 .1-.5 .6 .8 .1-.3 .7 .9 -.7-1.1 -.1 .4 -.6-.8 -.1 .3zM238.2 182.7l.2 .6 .5 0 1.5 .9 .2-.3 .7 .7 1.5 .6 .5 0 5.9 2.6 29.4 11.9 -31.5-12.9 -5.3-2.5 -.4 .1 -1.7-1.1 -.1 .5 -.7-.7 -.1 .3zM254.1 179.4l.2 .7 .6 .3 .7 0 1.5 .9 36.5 14.8 -33.2-13.5 -3.6-1.9 -.2 .2 -1-.7 -.2 .2 -.7-.7 -.1 .4zM253.2 179.1l.2 .7 .2-.1 .3 .2zM269.1 175.8l.6 .9 .9 .4 .1-.3 1.1 .8 1.6 .5 35.2 14.5 -33.2-13.7 -3.5-1.7 -.3 .1 -.7-.5 -.3 0 -.8-.7 -.1 .6zM268.3 175.4l.1 .7 .5 .2zM283.3 171.9l.3 .7 .1-.2 .4 .4 .1-.2 .2 .3 .9 .4 .4-.1 2 1.1 .7 .1 7.2 3.2 28.1 11.3 -31.5-12.8 -5.3-2.5 -.3 .1 -1.8-1.1 -.1 .3 -.5-.6 -.1 .4z"/>
<path fill="#ffa200" stroke="#ffa200" d="M278.8 209.4l0 .3 .5-.3 .1 .5 .4-.2 .1 .4 .3-.4 .1 .4 .3-.8 -.3 .4 -.1-.4 -.3 .4 -.1-.5 -.4 .2 -.1-.2zM280.7 206.9l0 .4 1.5 .4 .4 .4 .7 0 .1 .5 .7 0 .1 .2 .2-.1 .5 .5 .3-.3 0-.2 -.3 .2 -.1-.2 -.6 0 -.3-.6 -.5 .1 -.1-.3 -.7 0 -.2-.2 -1.1-.3zM295.2 205.8l-.3 .3 -.1-.3 -.2 .6 .2-.3 .1 .2zM294.4 205.6l-.6 .2 0 .3 .6-.3zM295.7 203.3l0 .4 1.5 .4 .4 .3 .7 0 .1 .7 .7-.2 .1 .3 .4-.1 .1 .3 .6 0 0-.2 -.2 .1 -.5-.4 -.4 .2 -.1-.7 -.7 .2 -.1-.3 -.7 0 -.2-.2 -1-.3 -.2-.4zM310.2 202.2l-.1 .2 -.4 0 -.1 .4 .3-.2 .2 .1zM309.4 201.9l-.3 .2 -.2 .3 .5-.2zM285.1 201.7l.1 .6 4.7 1.9 1.7 .4 .2 .5 1 .1 .1 .2 .8-.1 -.8 0 -.1-.4 -1-.1 -.2-.4 -1.2-.2 -.2-.5 -2.3-.6zM310.7 200.1l2.7 .8 .2 .5 .5-.1 .2 .4 .3-.1 .1 .2 .6 0 0-.2 -.2 .1 -.5-.4 -.4 .1 -.1-.6 -.5 .3 -.3-.4 -1.9-.4 -.2-.4 -.4-.1zM325.3 198.7l-.2 .2 -.2-.2 -.2 .1 -.1 .4 .3-.3 .2 .3zM300.1 198.2l.1 .5 6.5 2.4 .2 .3 1 .2 .2 .3 .7-.1 0-.2 -.7 .1 -.2-.3 -1-.1 -.2-.5 -1.3-.2 -.5-.5zM325.8 196.2l0 .4 1.5 .3 .4 .4 .7 0 .2 .5 .6-.1 .1 .4 .4-.2 .5 .5 .1-.5 -.2 .3 -.5-.5 -.3 .1 -.1-.5 -.6 .1 -.2-.2 -.7 0 -.1-.3 -1-.2 -.3-.4zM340.3 195.1l-.2 0 -.4 .5 .2-.3 .2 .3zM339.6 194.8l-.7 .4 .5-.1zM315.2 194.6l.1 .6 5 2 1.4 .2 .2 .4 1 .1 .2 .4 .7-.1 0-.3 -.7 .2 -.2-.3 -1-.1 -.2-.4 -1.1-.4 -.3-.3zM340.8 192.6l0 .3 1.5 .4 .5 .4 .6 0 .3 .6 .5-.1 .1 .2 .4-.1 .1 .4 .6 0 0-.3 -.2 .2 -.5-.4 -.4 .1 -.1-.6 -.6 .1 -.2-.2 -.7 0 -.1-.3 -1-.2 -.3-.4zM330.2 190.9l.1 .7 4.8 1.8 1.6 .4 .2 .5 1.2 .1 .1 .3 .6-.1 -.6 0 -.1-.4 -1.2-.1 -.2-.4 -1.1-.3 -.5-.6zM224.7 186.6l.7 1 .2-.3 1 .8 .1-.3 3.6 1.9 .3-.4 3.7 1.8 38.3 15.5 1 .7 3 1 .2 .4 1 .1 .1 .4 .8-.1 0-.3 -.8 .1 -.1-.6 -2.5-.5 -.5-.5 -44.5-18.1 -2-1 -.4 .1 -2.3-1.5 -.2 .5zM222.9 185.8l.2 .6 .1-.2 .6 .7 .1-.3 .7 .8 -.5-1 -.9-.6 -.1 .3zM238.2 182.3l.2 .6 .2-.1 .2 .5 .1-.4 .7 .8 .1-.5 1.7 1.1 .4-.1 7.6 3.5 29.2 11.9 .3-.4 -33.6-13.6 -2-1 -.4 .1 -1.1-.6 -.4 .1 -.6-.5 -.4 0 -.7-.8 -.1 .4 -.5-.6 -.3 .4zM254.7 179.6l.7 .7 .2-.2 1 .7 .2-.2 3.6 1.8 32.7 13.4 .6 .1 .1-.2 -29.4-12 -6.1-2.8 -.4 .2 -1.1-.7 -.2 .2 -1-.7 -.2 .2 -.6-.7zM253.2 178.7l.2 .7 .2-.1 .3 .5zM269.8 175.8l.8 .9 .1-.1 .9 .6 .3-.1 3.5 1.7 33.3 13.6 .2-.3 -11.2-4.8 -18.3-7.2 -6-2.8 -.3 .1 -1.2-.6 -.2 .3 -1-.8 -.1 .3zM284.2 171.9l.5 .9 .1-.4 1.8 1.2 .3-.2 7.7 3.5 29.2 11.9 .3-.4 -35.7-14.6 -.3 .1 -1.2-.6 -.2 .1 -1-.6 -.1 .1 -.8-.7 -.1 .4zM283.3 171.6l.3 .6 .1-.1 .4 .5 -.3-.7z"/>
<path fill="#ff9a00" stroke="#ff9a00" d="M277.9 208.7l.8 0 .1 .6 .4-.2 .2 .2 .4-.2 0-.4 -.4 .4 -.1-.5 -.4 .2 -.2-.4zM280.7 206.6l0 .2 .6 .5 .9 .1 .4 .4 .7 0 .1 .3 .5-.2 .3 .7 .2-.2 .5 .4 .3-.2 0-.3 -.3 .3 -.1-.3 -.2 .1 -.2-.5 -.3 .2 -.2-.4 -.5 .2 -.2-.6 -.6 .1 -.5-.3 -.8-.2 -.2-.3zM293.8 205.4l0 .3 .6-.3 .2 .7 .2-.4 .1 .2 .3-.2 0-.3 -.3 .3 -.1-.5 -.2 .2 -.2-.2zM295.7 202.9l0 .3 .5 .1 .2 .4 .8 .1 .4 .4 .7 0 .1 .2 .7-.1 .1 .6 .4-.1 .1 .3 .6 0 -.4-.4 -.2 .1 -.1-.5 -.4 .1 -.1-.3 -.7 .2 -.1-.5 -.7 0 -.2-.2 -1-.2zM310.2 201.8l-.1 .3 -.2-.5 -.3 .2 -.3-.1 -.4 .4 .5-.3 .2 .6 .3-.2 .2 .1zM285.1 201.4l.1 .3 2.7 1.2 2.3 .7 .2 .5 1.2 .2 .2 .4 1 .1 .1 .4 .8-.1 0-.3 -.8 .1 0-.5 -1.1-.1 -.2-.4zM310.8 199.4l0 .3 .6 .5 1.9 .4 .3 .3 .5-.2 .1 .6 .4-.1 .1 .2 .6 0 0-.2 -.2 .2 -.2-.2 -.2 .1 -.1-.6 -1.2 0 -.1-.5 -.7 0 -.2-.3 -1-.1 -.2-.4zM325.3 198.2l-.2 .4 -.2-.7 -.2 .4 -.3-.2 -.5 .2 0 .3 .5-.3 .2 .5 .3-.2 .2 .2zM300.1 197.9l.1 .3 4.7 1.7 .5 .5 1.3 .3 .2 .5 1 .1 .2 .3 .7-.2 -.7 0 -.2-.6 -1-.1 -.2-.4 -1.4-.2zM325.8 195.8l0 .3 .5 .1 .3 .4 .7 .1 .4 .4 .7 0 .2 .2 .6-.1 .1 .5 .3-.1 .5 .5 .2-.3 0-.2 -.2 .2 -.2-.2 -.2 .1 -.1-.5 -.3 .1 -.2-.4 -.5 .3 -.2-.6 -.7 .1 -.4-.4 -.5 0 -.6-.5zM338.9 194.7l0 .2 .7-.2 .1 .6 .6-.4 0-.2 -.1 .2 -.1-.5 -.4 .3 -.1-.3zM315.2 194.3l.1 .3 5 1.8 .3 .4 1.1 .4 .2 .4 1 .1 .2 .2 .7-.1 -.7 0 -.2-.6 -1-.1 -.2-.4 -1.6-.4zM340.8 192.2l0 .2 .5 .2 .3 .3 .7 .2 .4 .3 .7 0 .2 .3 .6-.1 .1 .6 .4-.1 .1 .2 .6 0 0-.2 -.6 0 -.1-.5 -.4 .1 -.1-.4 -.6 .3 -.2-.5 -.7 0 -.4-.4zM330.2 190.7l.1 .2 4.8 1.8 .5 .4 0 .2 1.1 .3 .2 .3 1.2 .2 .1 .3 .7-.2 -.7 0 -.1-.5 -1-.1 -.3-.5 -1.4-.3zM225.6 186.6l.7 .7 1.6 .9 .4-.1 2 1 44.5 18.1 .5 .5 2.5 .5 -1-.3 -.2-.5 -3.3-1 -.5-.5 -40.4-16.5 -1.8-.7 -.4 .1 -3.4-1.7 -.2 .2zM222.9 185.4l.2 .5 .1-.2 .1 .2 .1-.1 1.2 1.3 .1-.7 .7 .8 -1.5-1.5 -.1 .2 -.2-.5 -.3 .4zM239.7 182.7l.7 .9 .2-.2 .8 .7 .4-.2 1.1 .7 .4-.2 2 1 5 1.9 15.8 6.6 13 5.2 -33.2-13.5 -4.1-2.2 -.4 .2 -.8-.7 -.2 .5zM237.9 182.1l.2 .6 .1-.5 .6 .7 .3-.3 .5 .6 -.4-.8 -.3 0 -.3-.5 -.2 .4 -.2-.4 -.1 .4zM254.8 179.1l.6 .8 .2-.1 1 .6 .2-.1 1.1 .6 .4-.1 6.1 2.8 29.4 12 .3-.2 -35.2-14.3 -2.1-1.2 -.4 0 -.7-.6 0 .4 -.3 .1zM253.2 178.3l.2 .8 .2-.2 .3 .5 .2-.5 .5 .8 -.4-.8 -.6-.6 -.2 .5zM269.8 175.4l.8 1 .1-.2 1 .7 .2-.2 1.2 .6 .3-.1 6 2.7 18.3 7.3 11.2 4.7 .3-.1 -29.8-12 -7.5-3.5 -.3 .1 -.9-.6 -.1 .4zM268.3 174.7l.3 .9 .1-.3 .2 .5 .2-.4 .6 .8 -1-1.5 -.1 .5zM284.8 171.9l.8 .9 .1-.1 1 .6 .2-.1 1.2 .6 .3-.1 22.8 9.5 13 5.1 -33.6-13.7 -3.7-1.9 -.2 .1 -1-.6 -.1 .5zM283.1 171.3l.1 .6 .1-.5 .8 .9 .1-.5 .5 .6 -.4-.7 -.2 0 -.4-.5 -.1 .4 -.3-.5 -.1 .5z"/>
<path fill="#ff9200" stroke="#ff9200" d="M280.7 206.2l0 .2 .4 0 .2 .4 .8 .1 .5 .4 .6-.1 .2 .6 .5-.2 .2 .3 .5 0 0 .4 .2-.1 .1 .2 .3-.2 0-.6 -.3 .2 -.1-.2 -.2 .2 -.2-.2 -.3 .1 -.2-.6 -.5 .2 -.2-.2 -.8 .1 -.1-.5 -1-.1 -.2-.4zM295.6 204.9l-.3 .4 -.1-.2 -.3 .2 0 .3 .3-.3 .1 .6 .3-.3zM295.7 202.6l0 .2 .7 .5 1.9 .4 .1 .5 .7-.3 .1 .4 .5 0 0 .4 .5 0 0-.8 -.6 .3 -.2-.3 -.2 .2 -.3-.5 -.3 .2 -.3-.2 -.7 0 -.2-.5 -1.1-.2 -.2-.3zM310.6 201.3l-.5 .5 .2 0 0 .5 .3-.4zM285.1 200.9l.1 .5 6.4 2.4 .2 .4 1.1 .1 0 .5 .8-.1 .1 .6 .5-.2 .3 .2 .2-.2 0-.3 -.2 .3 -.2-.5 -.6 .2 -.1-.6 -.6 .2 -.2-.3 -1.1 0 -.2-.5 -.9-.2 -.5-.5zM310.8 198.9l0 .4 .4 0 .2 .4 1.9 .4 .1 .5 1.2 0 .1 .6 .2-.1 .2 .2 .2-.2 0-.7 -.2 .3 -.2-.3 -.7 .2 -.1-.7 -.5 .3 -.3-.3 -.7 0 -.2-.3zM325.7 197.7l-.6 .5 0 .2 .2-.3 .1 .7 .3-.4zM300.1 197.4l0 .4 5.2 2.1 1.4 .3 .2 .4 1 .1 .2 .6 .8 0 0 .5 1-.4 0-.2 -.3 .4 -.2-.7 -.5 .4 -.1-.6 -.7 .1 -.2-.2 -1-.2 -.2-.3 -1-.3 -.5-.5zM325.8 195.4l0 .3 .4 0 .2 .4 .9 .1 .4 .4 .7-.2 .2 .7 .5-.3 .2 .4 .4 0 0 .4 .2-.2 .2 .3 .2-.3 0-.6 -.2 .3 -.2-.3 -.2 .3 -.1-.3 -.4 .1 -.1-.6 -.4 .3 -.3-.3 -.7 .1 -.3-.5 -1-.1 -.2-.4zM340.7 194.2l-.5 .4 0 .2 .1-.2 .1 .6 .3-.4zM315.1 193.8l.2 .5 4.8 1.9 1.6 .4 .2 .3 1 .2 .2 .6 .8 0 0 .5 .5-.3 .3 .3 .2-.6 -.2 .3 -.1-.5 -.7 .3 -.1-.6 -.7 .1 -.2-.3 -1-.1 -.2-.4 -.9-.1 -.5-.5zM340.8 191.8l0 .3 1.5 .5 .4 .3 .7 0 .2 .5 .6-.2 .1 .4 .5 0 0 .3 .6 0 -.1-.7 -.1 .2 -.1-.2 -.3 .2 -.1-.2 -.4 .1 -.1-.5 -.5 .3 -.3-.4 -.7 .1 -.1-.5 -1-.1 -.4-.4zM330.2 190.2l.1 .5 5.1 2 1.4 .2 .3 .5 1 .2 .1 .5 .7-.2 0 .7 .5-.3 .3 .3 .4-.3 0-.2 -.4 .2 -.1-.5 -.5 .3 -.2-.7 -.7 .3 -.1-.4 -1-.1 -.3-.4 -1.2-.2 -.5-.5zM223.6 185.1l.2 .7 .1-.2 1.5 1.3 .2-.5 1 .8 .2-.3 3.4 1.8 .4-.1 40.5 16.5 1.7 .7 .5 .5 3.3 1 .2 .5 1 .1 .1 .7 .8-.3 .2 .4 .5-.3 0 .5 .4-.3 0-.3 -.2 .3 -.2-.4 -.6 .2 -.1-.6 -.8 .3 -.1-.4 -1-.1 -.2-.4 -.9-.1 -.5-.5 -3.5-1.3 -19.1-8 -18.3-7.2 -6-2.8 -.4 .1 -1.1-.6 -.2 .1 -1-.7 -.2 .2 -.7-.7 -.1 .5 -.7-.9 -.1 .3zM223.2 185.1l0 .2 -.3 0 .4 .4zM237.9 181.3l.2 .9 .1-.4 .2 .4 .2-.4 1 1.1 .1-.3 .7 .7 .2-.5 .8 .6 .4-.1 4.1 2.1 4.4 1.7 28.4 11.7 .5 .1 .1-.2 -33.4-13.6 -2.6-1.4 -.4 .1 -1.1-.6 -.4 .1 -.6-.5 -.4 0 -.7-.7 -.1 .3 -.5-.7 -.2 .4 -.3-.5 -.2 .3zM253.6 177.9l.2 .7 .9 .8 .1-.5 .6 .8 .3-.5 .7 .6 .4 0 2.1 1.1 34.7 14.3 .6 .1 .1-.2 -36-14.9 -.4 .1 -1.1-.7 -.1 .2 -1-.7 -.1 .1 -.8-.8 -.1 .5 -.6-.8 -.2 .5zM253.1 177.7l-.2 .7 .2 .3 .1-.5 .2 .5zM268.7 174.3l.2 .8 .8 .7 .1-.5 .8 .8 .1-.4 .9 .6 .3-.1 7.5 3.5 18.3 7.2 11.2 4.8 .4-.1 -.1-.3 -29.6-12 -6.2-2.7 -.3 .1 -1.2-.6 -.2 .1 -1-.8 -.1 .3 -.8-.8 -.1 .4 -.6-.7 -.2 .2zM268.1 174.2l.1 .9 .1-.5 .3 .5 -.3-.8 -.1 .1zM283.1 170.6l.1 .8 .1-.5 .3 .5 .1-.3 1 1.1 .1-.4 .8 .8 .1-.5 4.9 2.3 33.2 13.7 .5 .1 .1-.3 -28.3-11.6 -7.7-3.4 -.3 .2 -1.2-.7 -.2 .2 -1-.7 -.1 .2 -.8-.8 -.1 .4 -.5-.8 -.1 .4 -.4-.5 -.1 .4z"/>
<path fill="#ff8a00" stroke="#ff8a00" d="M280.6 208.1l-.3 .3 -.1-.2 -.3 .7 .3-.3 .1 .5 .3-.4zM279.4 207.8l-.6 .5 .6-.2zM284.1 207.6l.3-.2 .2 .3 .2-.3 .1 .3 .3-.5 -.3 .2 -.1-.2 -.2 .2 -.2-.2zM280.7 205.7l0 .4 .4 0 .2 .3 1 .2 .1 .5 .8-.2 .2 .3 .5-.3 -.6 .2 -.1-.5 -.8 .1 -.1-.5 -1-.1zM295.6 204.6l-.3 .3 -.1-.2 -.3 .5 .3-.3 .1 .3zM294.4 204.2l-.6 .5 .6-.3zM300.2 203.6l-.3 .2 -.8 0 .3 0 .2 .3 .2-.3 .1 .3zM295.7 202.2l0 .2 .4 0 .2 .4 1.1 .1 .2 .5 .7 0 .1 .3 .5-.3 -.1-.1 -.4 .3 -.2-.7 -.6 .2 -.3-.4 -1-.1 -.2-.4zM310.6 200.9l-.4 .3 -.1 .5zM309.4 200.7l-.3 .1 -.2 .4zM284.9 200.4l.3 .5 5 1.9 .5 .5 .9 .1 .2 .5 1.1 0 .2 .4 .6-.2 -.6 0 -.2-.5 -1.1-.2 -.2-.3 -2.9-.9 -1-.8zM314.2 200.2l0 .2 .7-.1 .2 .3 .2-.3 -.1-.2 -.1 .2 -.2-.2 -.2 .2 -.1-.2zM310.8 198.6l.1 .3 1.5 .5 .2 .4 .7 0 .1 .3 .7-.3 -.7 .1 -.1-.5 -.7 .2 -.2-.5 -1-.2zM325.7 197.3l-.3 .4 -.1-.3 -.2 .7 .2-.4 .1 .2zM324.6 197.1l-.7 .2 0 .3 .7-.3zM300.1 196.9l0 .4 5.1 1.9 .2 .4 1.3 .3 .2 .4 1 .1 .2 .3 .7-.1 0-.3 -.7 .3 -.2-.7 -1 0 -.2-.3 -3.3-1 -.7-.7zM329.2 196.8l.4-.1 .1 .2 .2-.2 .2 .2 .2-.5 -.2 .3 -.2-.3 -.2 .3 -.1-.3zM325.8 194.9l0 .4 .4 0 .2 .4 1 .1 .3 .5 .7-.1 .3 .2 .4-.2 -.5 .1 -.3-.5 -.7 .1 -.2-.5 -1-.1zM340.7 193.8l-.3 .4 -.1-.3 -.1 .5 .1-.2 .1 .2zM339.6 193.4l-.5 .5 .5-.2zM315.1 193.3l0 .4 5.2 2 .3 .4 1.1 .2 .2 .4 1 .1 .2 .3 .7-.2 -.7 0 -.2-.5 -1-.1 -.2-.4 -3.5-1.1 -.5-.5zM344.3 193.1l.4 0 .1 .2 .3-.2 .1 .2 .1-.5 -.2 .3 -.4-.3zM340.8 191.4l0 .3 .4 0 .4 .4 1 .1 .1 .5 .7-.1 .2 .3 .6-.2 -.1-.3 -.5 .3 -.2-.5 -.7 .1 -.1-.5zM330.2 189.7l.1 .5 4.8 1.7 .5 .5 1.2 .3 .3 .4 1 .1 .1 .4 .7-.3 -.7 0 -.1-.5 -1-.1 -.3-.4 -3-.9 -1-.7zM224.7 185.3l.7 1 .2-.2 1 .7 .2-.1 1.1 .6 .4-.1 6 2.7 18.3 7.3 19.1 8 3.5 1.2 .2 .4 1.2 .3 .2 .3 1 .2 .1 .3 .8-.2 -.8 0 -.1-.5 -1-.1 -.2-.4 -3.3-1 -.7-.6 -42-17.3 -.3 .3 -3.5-1.8 -.2 .1 -1-.7 -.2 .4zM223.6 184.7l.2 .7 .1-.2 .7 .9 -.2-.5 -.5-.7 -.1 .4zM222.9 184.4l.2 .9 .1-.4 .2 .7 0-.4zM239.1 181.3l.5 1 .1-.4 .7 .8 .2-.1 .8 .6 .4-.1 1.1 .6 .4-.1 2.6 1.3 4.4 1.7 29 12 .1-.4 -31.8-13.1 -1.9-.8 -.3 .3 -3.6-1.9 -.2 .1 -1-.7 -.2 .5 -.7-.8 -.1 .3zM237.9 180.9l.2 .5 .1-.1 .2 .5 .2-.4 .3 .5 -.3-.7 -.2 .4zM254.8 178.2l.8 .9 .1-.2 1 .8 .1-.3 1.1 .8 .4-.1 35.9 14.8 .2-.1 0-.2 -33.7-13.9 -.3 .2 -3.6-1.8 -.2 .1 -.9-.6 -.1 .3zM268.7 174.1l.2 .6 .2-.3 .6 .8 .1-.4 .8 .8 .1-.3 1 .8 .2-.2 1.2 .7 .3-.2 6.2 2.8 29.8 12.1 .2-.2 -33.9-14 -.3 .2 -3.5-1.7 -.2 .1 -1-.8 -.1 .4 -.8-.7 -.1 .3 -.5-.7 -.3 .4zM268.1 173.7l0 .4 .5 .6zM284.2 170.6l.5 1 .1-.4 .8 .7 .1-.1 1 .6 .2-.1 1.2 .6 .3-.1 22.8 9.6 13.2 5.4 .2-.1 -.4-.5 -13-5.1 -18.5-7.8 -3.6-1.2 -2.2-1.2 -.3 0 -.8-.6 -.2 .5 -.7-.9 -.2 .4zM283.1 170.2l.1 .5 .1-.1 .3 .5 .1-.4 .4 .5 -.4-.8 -.1 .4z"/>
<path fill="#ff8200" stroke="#ff8200" d="M280.6 207.7l-.3 .4 -.1-.3 -.3 .6 .3-.3 .1 .2zM279.4 207.4l-.5 .3 -.1 .4 .6-.4zM278.7 207.2l-.8 .4 .8-.2zM285.2 206.8l-.3 .3 -.1-.3 -.2 .3 -.3-.2 -.2 .4 .3-.2 .2 .2 .2-.2 .1 .2zM283.9 206.6l-.6 .3 .5-.1zM280.7 205.3l0 .3 .6 .3 1 .2 .1 .5 .8-.2 0-.3 -.8 .1 -.1-.3 -1 0 -.2-.5zM295.6 204.1l-.5 .3 -.2 .5 .3-.3 .1 .2zM294.4 203.9l-.6 .3 0 .2zM300.2 203.2l-.3 .4 -.1-.3 -.2 .3 -.2-.3 -.3 .4 .8 0zM298.9 202.9l-.5 .3 0 .2 .5-.2zM295.7 201.8l0 .3 .4 0 .2 .3 1 .2 .3 .3 .6-.1 0-.4 -.8 .3 -.1-.3 -1-.1 -.2-.5zM310.6 200.6l-.4 .2 -.1 .5 .2-.4 .1 .2zM309.4 200.3l-.5 .5 .5-.2zM284.9 200.2l2.8 1.1 1 .8 2.9 .8 .2 .4 1.1 .1 .2 .5 .7-.2 0-.4 -.7 .3 -.2-.3 -1.1-.1 -.1-.6 -1.4-.3zM314.2 199.9l.4 0 .1 .3 .2-.3 .2 .3 .1-.5 -.3 .2 -.3-.2zM314.1 199.4l-.7 .4 .5-.1zM310.8 198.2l0 .2 .6 .4 1 .1 .2 .5 .7-.1 0-.4 -.7 .2 -.2-.3 -1.1-.1 -.1-.4zM325.7 196.9l-.3 .4 -.1-.2 -.2 .6 .2-.4 .1 .3zM300.1 196.7l2.8 1.2 .5 .5 3.3 1 .2 .4 1 0 .2 .6 .7-.2 0-.4 -.7 .1 -.2-.2 -1 0 -.2-.6 -1.4-.3zM329.2 196.6l.4-.3 .1 .3 .2-.3 .2 .3 .2-.5 -.2 .2 -.2-.2 -.2 .2 -.1-.2zM329.1 195.8l-.7 .3 .3 .1zM325.8 194.6l0 .2 .6 .4 1 .1 .2 .5 .7-.1 0-.4 -.7 .1 -.2-.2 -1 0 -.1-.5zM340.7 193.3l-.3 .4 -.1-.1 -.1 .5 .1-.3 .1 .3zM339.6 193.2l-.4 .1 -.1 .4zM315.1 193.1l2.8 1.2 .5 .5 3.3 1 .2 .4 1 .1 .2 .5 .7-.1 0-.5 -.7 .2 -.2-.2 -1-.1 -.2-.7 -1.6-.3zM345.3 192.4l-.2 .4 -.2-.2 -.3 0 -.3 .3 .3-.2 .5 .2zM342.2 191.7l.4 0 .1 .5 .7-.1 -.1-.4zM340.9 191.1l0 .2 1 .3 -.5 0 -.1-.4zM330.2 189.4l2.9 1.3 .7 .6 3 .9 .3 .4 1 .1 .1 .5 .7-.1 0-.5 -.7 .2 -.1-.2 -1-.2 -.3-.6 -1.4-.2zM225.6 185.4l.7 .8 .5 0 3.5 1.7 .3-.2 42 17.2 .7 .7 3.3 1 .2 .3 1 .2 0-.3 -1 0 -.2-.4 -.9-.1 -.5-.5 -3.5-1.2 -19.1-8 -18.2-7.3 -6.1-2.7 -.4 .1 -1.1-.6 -.2 .1zM223.6 184.4l.2 .8 .1-.4 .7 .9 -.7-1.1 -.1 .3zM239.1 181.1l.5 .8 .1-.2 .7 .7 .2-.5 1 .8 .2-.1 3.6 1.8 .3-.2 33.9 13.9 -34.2-14 -3.6-1.9 -.2 .4 -.8-.7 -.4 0 -.7-.7 -.1 .6zM237.9 180.6l.2 .5 .1-.2 .2 .5 .2-.3 .3 .6 -.3-.9 -.2 .4zM254.8 177.6l0 .5 .8 .7 .1-.4 .9 .7 .2-.2 3.6 1.9 .3-.2 27.4 11.3 6.5 2.5 -34.2-14 -3.6-1.8 -.1 .3 -1-.7 -.1 .2zM253.1 176.9l.3 1 .2-.5 .3 .7 .2-.4 .6 .9 -.6-1.2 -.2 .4 -.2-.5 -.5 0zM269.8 174.1l0 .3 .8 .8 .1-.4 .7 .6 .5 0 3.5 1.8 .3-.3 33.9 14 .1-.1 -30.1-12.2 -7.7-3.5 -.2 .3 -1-.7 -.1 .1zM268.1 173.3l.5 1 .1-.4 .2 .5 -.2-.7 -.1 .4zM284.9 170.4l0 .4 .7 .9 .2-.5 .8 .6 .3 0 3.7 1.8 .2-.2 33.9 13.9 -.5-.4 -33.6-13.6 -3.7-1.9 -.1 .4 -1-.7 -.1 .1zM283.1 169.8l.1 .5 .1-.1 .3 .5 .1-.4 .4 .6 -.4-.8 -.1 .3z"/>
<path fill="#ff7900" stroke="#ff7900" d="M280.6 207.3l-.3 .4 -.1-.3 -.3 .7 .3-.4 .1 .2zM283.3 206.3l0 .4 .6-.3 .2 .5 .5 0 .2-.2 .1 .2 .3-.2 -.4-.3 -.2 .4 -.2-.6 -.3 .4 -.2-.5zM280.7 204.9l.6 .9 1 0 .1 .3 .8-.2 -.8 0 -.1-.3 -1.1-.2 -.1-.3zM295.6 203.7l-.3 .4 -.2 0 -.2-.4 -.3 .6 .3-.4 0 .7 .3-.4 .1 .1zM294.4 203.3l-.6 .5 0 .3 .6-.3zM298.3 202.7l.1 .4 .5-.3 .2 .6 .3-.2 .2 .2 .2-.2 .1 .2 .3-.6 -.3 .4 -.1-.3 -.2 .3 -.2-.5 -.3 .2 -.2-.5zM295.7 201.4l0 .3 .4 0 .2 .5 1 .1 .1 .3 .8-.3 -.8 .1 -.1-.5 -1 0 -.1-.3zM310.6 200.2l-.4 .2 -.1 .5 .2-.3 .1 .1zM309.4 199.7l-.5 .4 0 .5 .5-.4zM284.9 199.7l0 .4 5.4 2.1 1.4 .2 .2 .3 -.1 .4 1.1 .1 .2 .2 .7-.2 -.7 .1 -.2-.5 -1-.1 -.2-.4 -1.3-.2 -.5-.5zM313.4 199.2l0 .4 .7-.3 .1 .5 .2-.2 .3 .2 .5-.2 0-.4 -.3 .4 -.1-.3 -.2 .3 -.2-.5 -.2 .2 -.3-.5zM310.8 197.8l.5 .8 1.1 .1 .2 .2 .7-.1 -.7 0 -.3-.4 -1-.1 -.1-.4zM325.7 196.6l-.6 .7 .2-.4 .1 .3zM324.6 196.2l-.7 .2 0 .5 .7-.2zM300.1 196.2l0 .4 5.2 2.1 1.4 .2 .2 .7 1 0 .2 .2 .7-.1 -.7 0 -.2-.5 -1 0 -.2-.4 -1.3-.2 -.1-.5 -2.2-.7zM328.4 195.6l0 .3 .7-.2 .1 .5 .4-.3 .1 .3 .2-.3 .2 .3 .2-.3 0-.2 -.6 .2 -.1-.5 -.4 .3 -.1-.4zM325.8 194.2l0 .2 .6 .3 0 .4 1 0 .2 .2 .7-.1 -.7 0 -.2-.4 -1-.1 -.3-.5zM340.7 192.9l-.3 .4 -.1-.1 -.1 .5zM339.6 192.6l-.5 .3 0 .4 .5-.2zM315.1 192.6l0 .3 5 2 1.6 .4 .2 .6 1 .2 .2 .2 .7-.2 -.7 .1 0-.5 -1.2-.1 -.2-.4 -.9-.1 -.7-.7zM343.6 191.9l0 .4 .5-.2 .2 .6 .3-.3 .3 0 .2 .3 .2-.6 -.2 .3 -.2-.2 -.2 .2 -.1-.6 -.4 .4 -.1-.5zM340.9 190.7l.5 .7 1 .2 0-.4 -1 0 -.1-.4zM330.1 188.8l.1 .5 5.2 2.1 1.4 .3 .3 .6 1 .1 .1 .3 .7-.3 -.7 .2 -.1-.5 -1-.2 -.3-.3 -1.2-.3 -.5-.5zM222.9 183.7l.5 1 .2-.4 .2 .5 .1-.4 .7 .9 .1-.4 .7 .8 .2-.4 1 .8 .2-.2 1.1 .7 .4-.2 6.1 2.8 18.2 7.2 19.1 8 3.5 1.3 .2 .4 1.2 .2 .2 .4 1 0 .1 .6 .8-.2 .1 .6 .6-.4 0-.5 -.6 .4 -.1-.6 -.8 .2 -.1-.5 -1 0 -.2-.4 -.9-.1 -.5-.5 -3.5-1.2 -40.8-16.7 -2.6-1.3 -.4 .1 -1.1-.6 -.2 .1 -1-.9 -.2 .5 -.7-.9 -.1 .4 -.5-.9 -.3 .7 -.2-.5 -.2 .3zM238.6 180.4l.3 .9 .2-.4 .5 .8 .1-.6 .7 .7 .4 0 .8 .6 .2-.3 3.6 1.8 33.9 13.9 .4 0 .1-.2 -34.4-14 -2.1-1.2 -.4 .3 -2.3-1.4 -.2 .4 -.7-.8 -.1 .3 -.5-.8 -.2 .7zM254.8 177.3l.8 1 .1-.2 1 .7 .1-.4 3.6 1.9 34.2 14 .1-.4 -33.6-13.7 -2.7-1.4 -.3 .3 -1.3-.8 -.4 0 -.7-.6 -.1 .4zM254.1 176.8l0 .5 .6 .9 0-.5zM253.1 176.6l.1 .6 .1-.1 .1 .2 .2-.2 .3 .6 -.2-.6 -.3 0zM268.1 172.9l.1 .5 .4 .5 .1-.3 .4 .7 .1-.5 .5 .8 .1-.7 .8 .8 .1-.1 1 .7 .2-.4 7.7 3.5 30 12.3 .2-.1 -.6-.5 -29.6-12 -6.2-2.8 -.3 .1 -1.2-.6 -.2 .1 -1-.7 -.1 .4 -.8-.9 -.1 .4 -.5-.8 -.1 .6 -.4-.6 -.1 .4zM284.9 170.2l.8 .9 .1-.2 1 .8 .1-.4 3.7 1.9 34 13.9 .3-.3 -28.8-11.7 -7.5-3.4 -.5 .1 -1.2-.6 -.1 .1 -1-.7 -.1 .3zM283.7 169.7l.4 .9 .1-.4 .6 .9 0-.5 -.6-.9 -.1 .6z"/>
<path fill="#ff7100" stroke="#ff7100" d="M280.6 206.8l-.3 .4 -.1-.1 -.3 .7 .3-.5 .1 .3 .3-.4zM279.8 206.6l-.2 1 .2-.4zM278.7 206.3l-.8 .4 .7-.1zM285.1 206.1l-.5 .3 0 .3 .2-.4 .1 .3zM283.8 205.7l-.5 .5 .5-.3zM280.7 204.6l.5 .7 1.1 .1 .1 .4 .8-.1 -.1-.4 -.7 .3 -.2-.4 -1-.1 -.1-.4zM295.6 203.3l-.3 .4 -.1-.5 -.1 .2 -.2-.3 -.3 .3 0 .5 .3-.3 .2 .3 .2 0zM294.4 203.1l-.3 .1 -.2 .4zM300.2 202.4l-.3 .4 -.1-.2 -.2 .5 .2-.3 .1 .3zM296.3 201.6l0 .2 1 0 .1 .5 .8-.2 0-.4 -.8 .2 -.1-.3zM295.7 200.9l0 .4 .4 .1 0-.3zM310.3 199.6l-.2 .5 -.2-.5 -.3 .3 0 .5 .3-.3 .2 .5 .2-.4 .1 .1 .3-.5 -.3 .4zM284.9 199.3l.3 .4 4.7 1.7 .5 .5 1.3 .3 .2 .4 1 .1 .2 .5 .7-.3 0-.3 -.7 .2 -.2-.6 -1 0 -.2-.4 -1.4-.2zM315.2 198.8l-.3 .4 -.1-.3 -.2 .5 .2-.2 .1 .2zM314.4 198.7l-.3 .4 .1 .1zM283.3 198.7l0 .2 .3 0zM310.8 197.4l.5 .8 1 .1 .3 .4 .7-.1 -.1-.4 -.8 .2 -.1-.5 -1 0 -.1-.3zM324.9 195.9l-.2 .9 .2-.4 .2 .7 .2-.4 .1 .1 .3-.6 -.3 .4 -.1-.5 -.2 .3zM324.6 195.8l-.7 .5 .7-.2zM299.9 195.7l.4 .5 2.8 1.1 2.2 .6 .3 .3 -.2 .2 1.3 .3 .2 .4 1 0 .2 .5 .7-.2 0-.5 -.7 .3 -.2-.5 -1-.1 -.2-.4 -1.6-.4zM330.3 195.4l-.1-.1 -.1 .3 -.2-.3 -.2 .5 .2-.2 .2 .2zM298.7 195.2l-.3 0 0 .2zM329.1 194.9l-.7 .5 .7-.2zM325.8 193.8l0 .3 .3 0 .3 .5 1 .1 .2 .4 .7-.2 0-.3 -.7 .2 -.2-.4 -1.1-.1 -.1-.4zM340.1 192.3l-.4 .4 0 .5 .4-.4 .1 .5 .5-.7 -.1 .1 -.2-.3 -.2 .4zM339.6 192.3l-.4 .1 -.1 .4zM315.1 192.3l5 2 .7 .6 .9 .2 .2 .3 1.2 .2 0 .5 .7-.3 .1-.4 -.7 .3 -.1-.6 -1.2 0 -.1-.5 -1.4-.3zM345.3 191.7l-.2 .4 -.2-.3 -.2 .5 .2-.2 .2 .2zM344.1 191.4l-.7 .3 .2 .1zM340.9 190.2l0 .4 .3 0 .2 .5 1 0 .2 .5 .7-.3 0-.4 -.7 .3 -.2-.4 -1 0zM330.1 188.6l.3 .3 4.7 1.8 .5 .5 1.2 .2 .3 .4 1 .1 .1 .5 .7-.2 0-.4 -.7 .3 -.1-.7 -1 0 -.3-.3 -1.4-.3zM328.4 187.9l.2 .3 .2-.1zM225.6 184.3l0 .4 1 .9 .2-.2 1.1 .7 .4-.2 2.6 1.4 40.8 16.6 3.5 1.3 .2 .4 1.2 .2 .2 .4 1.1-.1 0-.3 -1.1 0 -.2-.4 -.9-.1 -.8-.6 -23.8-9.5 -22.8-9.6 -.4 .1 -1.1-.6 -.2 .1zM224.1 183.7l.5 1 .1-.4 .7 .9 0-.3 -.7-.7 -.1 .2zM222.9 183.3l.5 1 .2-.4 .2 .5 -.2-1.1 -.2 .8zM237.9 179.8l.5 1 .2-.5 .3 .6 .2-.6 .5 .8 .1-.3 .7 .8 .2-.4 2.3 1.4 .4-.3 2.1 1.1 34.4 14 -.1-.2 -30.3-12.3 -5.5-2.3 -2.1-1.3 -.1 .3 -1-.8 -.3 .4 -.6-.9 -.2 .6 -1-1.1 -.2 .4 -.2-.5 -.1 .4zM254.8 176.8l0 .4 .8 .7 .1-.3 .7 .6 .4 0 1.3 .7 .3-.2 2.7 1.4 33.7 13.8 -.1-.3 -33.6-13.7 -4.2-2.1 -.5 0 -.7-.6 -.1 .4zM253.1 176.2l.1 .5 .2 .2 .2-.1 .3 .6 -.3-1.2 -.2 .1 -.1-.2 -.1 .3zM269.8 173.2l0 .4 .8 .8 .1-.3 1 .7 .2-.1 1.2 .6 .3-.1 6.2 2.7 18.1 7.3 12.1 5.1 .1-.1 -34.3-14.1 -3.7-1.9 -.2 .1 -1-.7 -.1 .5zM268.1 172.6l.5 1 .1-.4 .4 .6 .1-.6 .5 .7 -.5-1 -.1 .4 -.4-.6 -.1 .4 -.3-.5 -.1 .2zM284.9 169.6l0 .5 .8 .7 .1-.4 1 .8 .1-.1 1.2 .6 .5-.1 7.5 3.3 28.8 11.8 -.6-.5 -29.7-12 -5.2-2.3 -2.5-1.3 -.1 .2 -1-.7 -.1 .3zM283.1 169.3l.5 .8 .1-.5 .4 .6 .1-.6 .6 .8 -.6-1 -.1 .3 -.4-.6 -.1 .3 -.3-.5z"/>
<path fill="#ff6900" stroke="#ff6900" d="M280.6 206.4l-.3 .4 -.1-.5 -.3 1.1zM279.4 206.2l-.5 .2 -.1 .4 .6-.4zM278.7 205.8l-.6 .3 -.2 .3 .7-.1zM285.1 205.7l-.3 .4 -.1-.3 -.3 .3 .2 .2 .5-.4zM284.3 205.6l-.4 .3 .2 .2zM283.8 205.2l-.5 .4 0 .3 .5-.3zM280.7 204.2l.5 .7 1 .2 .2 .3 .7-.2 0-.4 -.8 .4 -.1-.5 -1 0 -.1-.4zM294.4 202.4l-.5 .4 0 .4 .5-.3zM293.8 202.3l-.7 .4 .6-.1zM300.2 202.1l-.3 .3 -.1-.2 -.2 .5 .2-.3 .1 .3zM298.9 201.6l-.6 .3 0 .4 .6-.2zM295.7 200.6l0 .2 .5 .3 0 .3 1.1 0 .1 .4 .8-.2 0-.3 -.8 .3 -.2-.5 -1 0 -.1-.4zM309.6 198.8l-.7 .4 0 .5 .5-.4zM284.9 198.8l.2 .5 5.2 2.1 1.4 .3 .2 .4 1 0 -1-.2 -.2-.5 -1.3-.2 -.2-.4 -2.1-.6zM308.8 198.7l-.7 .4 .6-.2zM315.2 198.4l-.3 .4 -.1-.2 -.2 .6 .2-.4 .1 .3zM283.3 198.2l0 .4 .4 .1 .1-.3zM313.9 198.1l-.6 .3 .1 .4 .5-.4zM310.8 196.9l0 .4 .3 0 .2 .5 1 0 .1 .5 .8-.2 0-.4 -.8 .2 -.1-.3 -1 0zM324.6 195.3l-.7 .4 0 .4 .7-.4zM323.9 195.2l-.7 .4 .6-.2zM299.9 195.2l0 .4 5.2 2.1 1.6 .4 .2 .3 1 .2 0-.3 -1 0 -.2-.4 -.9-.1 -.5-.5zM330.2 194.9l-.5 .4 0 .3 .2-.4 .2 .2zM298.3 194.6l0 .3 .4 .2 .1-.3zM328.9 194.4l-.5 .4 0 .4 .7-.4zM325.8 193.4l.5 .8 1.1 .1 .2 .4 .7-.3 0-.2 -.7 .2 -.3-.5 -1 0 -.1-.3zM340.7 192.2l-.1 .2 -.2-.3 -.2 .6 .2-.4 .2 .3zM339.6 191.7l-.5 .4 0 .3 .5-.2zM338.9 191.6l-.7 .3 .6-.1zM314.9 191.6l.2 .6 5.3 2 1.4 .2 .3 .3 -.2 .2 1.2 0 -1-.2 -.3-.4 -1.2-.2 -.5-.5zM345.3 191.3l-.2 .4 -.2-.3 -.2 .5 .2-.2 .2 .2zM313.3 190.9l.1 .7 .4 0 .1-.4zM344.1 190.8l-.7 .4 0 .4 .7-.3zM340.9 189.8l.5 .9 1 0 .2 .4 .7-.3 0-.4 -.7 .4 -.2-.5 -1.1 0zM330.1 188.1l.1 .5 5.2 2.1 1.4 .2 .3 .4 1 0 -1-.1 -.3-.5 -1.2-.3 -.2-.3 -2.2-.7zM328.4 187.4l0 .4 .4 .1 .1-.2zM225.6 184.1l1 1 .2-.2 1.1 .7 .4-.2 22.8 9.7 23.8 9.5 .8 .6 .9 .1 .2 .4 1.1 0 -1.1-.1 -.2-.4 -.9-.1 -.8-.7 -6.6-2.5 -15.7-6.6 -18.2-7.2 -6.1-2.8 -.4 .1 -1.1-.7 -.1 .2zM222.9 182.8l0 .4 .5 .7 .2-.7 .3 .9 .2-.5 .5 .7 .1-.2 .7 .7 0-.4 -.7-.8 -.1 .6 -.5-.9 -.2 .4 -.3-.8 -.2 .4 -.2-.5 -.1 .3zM240.7 180.4l0 .3 1 .7 .1-.2 2.1 1.2 5.5 2.4 30.5 12.4 .2-.4 -36.8-15.1 -.4 .1zM237.9 179.4l.2 .5 .1-.3 .2 .5 .2-.4 1 1.1 -.5-1.2 -.2 .6 -.3-.6 -.2 .2 -.2-.5 -.1 .4zM255.7 176.8l0 .3 .7 .6 .5 0 4.2 2.1 33.8 13.8 .2-.4 -30.5-12.4 -6.2-2.7 -.3 .1 -1.3-.8 -.1 .3zM253.1 175.8l.1 .5 .1-.4 .1 .3 .2-.1 .3 .7 .2-.4 .6 .9 .1-.6 .8 .7 -.8-.8 -.1 .2 -.6-.9 -.2 .5 -.2-.5 -.1 .2 -.3-.4 -.1 .4zM270.7 173.3l1 .9 .2-.1 3.7 1.8 34.2 14.2 .3-.3 -.4-.4 -34.1-13.8 -2.2-1.2 -.3 .2 -1.2-.7 -.2 .2zM269.2 172.4l.5 1.3 .1-.6 .8 .8 -.8-1 -.1 .3zM268.1 172.2l.1 .5 .1-.3 .3 .5 .1-.3 .4 .6 -.4-.9 -.1 .4 -.3-.5 -.1 .2zM285.8 169.7l0 .2 1 .8 .1-.3 2.5 1.4 5.2 2.3 30.5 12.3 .1-.3 -34-13.9 -2.6-1.4 -.4 .3 -1.3-.8 -.3 0zM283.2 168.7l.4 .6 .1-.4 .4 .7 .1-.3 .6 .9 0-.5 -.6-.9 -.1 .6 -.7-.8 -.1 .2z"/>
<path fill="#ff6100" stroke="#ff6100" d="M279.4 205.7l-.6 .4 0 .3 .6-.3zM284.3 204.9l-.4 .4 0 .5 .4-.4 .1 .5 .3-.2 .1 .2 .3-.6 -.3 .4 -.1-.6 -.3 .3zM283.8 204.9l-.6 .4 .1 .1zM280.7 203.8l.5 .8 1 0 .1 .5 .8-.4 0-.4 -.8 .4 -.1-.4 -1 0zM294.9 202.4l-.3 .7 .3-.4 .4 .5 .3-.6 -.3 .3zM299.3 201.4l-.2 .8 .3-.4 .2 .6 .2-.3 .1 .2 .3-.5 -.3 .3 -.2-.5 -.1 .2zM295.7 200.4l.4 .2 .1 .3 1 0 .2 .5 .8-.2 -.1-.5 -.8 .4 -.1-.4 -1 0 -.3-.5zM284.8 198.3l.5 .6 4.9 1.8 .2 .4 1.3 .2 .2 .5 1 0 .2 .6 .7-.2 0-.5 -.7 .2 -.2-.2 -1-.1 -.2-.7 -3.3-.8 -.7-.7zM314.4 197.7l-.3 .9 .3-.3 .2 .5 .2-.4 .1 .3 .3-.6 -.3 .3 -.1-.5 -.2 .4zM313.9 197.7l-.6 .6 .6-.4zM283.2 197.7l.2 .5 .5 0 0-.3zM310.8 196.6l.5 .8 1 0 .1 .4 .8-.2 0-.4 -.8 .4 -.1-.5 -1.1 0zM325.3 195.3l-.1 .3 -.1-.3 -.4 .6 .4-.5 0 .5zM324.6 194.9l-.7 .7 .7-.4zM299.9 194.7l0 .4 5.4 2.1 .3 .4 1.1 .2 .2 .4 1 0 .2 .6 .7-.2 0-.5 -.6 .2 -.3-.2 -1 0 -.1-.7 -.9-.1 -2.7-1 -.5-.5zM329.1 194.6l.1 .5 .4-.4 .1 .5 .5-.4 0-.4 -.1 .4 -.3 0 0-.5 -.2 .4 -.2-.5zM298.3 194.1l0 .3 .5 .3 .1-.4zM325.8 193.1l.5 .7 1 0 .3 .5 .6-.2 0-.5 -.8 .3 -.1-.5 -1 .2 -.1-.4zM340.7 191.8l-.1 .3 -.2-.3 -.2 .6 .2-.5 .2 .4zM314.9 191.1l0 .3 5.2 2 .5 .5 1.2 .3 .3 .4 1 .1 .1 .6 .7-.2 0-.7 -.6 .4 -.2-.4 -1 0 -.3-.6 -3-.9 -1-.7zM344.6 190.6l-.4 .3 0 .5 .4-.3 .1 .5 .2-.3 .2 .3 .2-.7 -.2 .4 -.2-.6 -.2 .4zM313.3 190.4l.1 .5 .7 0 0-.2zM340.9 189.4l.4 .8 1.1 0 .2 .5 .7-.4 0-.4 -.7 .4 -.2-.4 -1.1 0zM330.1 187.6l0 .3 3.1 1.4 2.2 .6 .3 .3 -.1 .1 1.2 .3 .3 .5 1 0 .1 .6 .7-.3 0-.5 -.7 .3 -.1-.3 -1-.1 -.3-.6 -3.2-.9 -.5-.5zM328.4 186.9l0 .4 .5 .3 .2-.4zM224.7 183.1l0 .3 .7 .9 .2-.4 1.1 .9 .1-.2 1.1 .7 .4-.1 6.1 2.7 18.2 7.3 15.7 6.6 6.6 2.5 .8 .6 .9 .2 .2 .3 1.1 0 .2 .5 .6-.2 .1-.4 -.7 .3 -.2-.7 -1 0 -.2-.3 -1.3-.3 -.2-.4 -6.9-2.5 -15.7-6.6 -18.2-7.2 -6.1-2.8 -.4 .1 -2.3-1.3 -.2 .3zM222.9 182.4l.2 .5 .1-.2 .2 .5 .2-.4 .3 .8 -.3-.9 -.2 .2 -.2-.5 -.1 .3zM239.8 179.4l0 .5 .6 .9 .3-.5 2.2 1.4 .4-.1 36.8 15.1 0-.4 -32.5-13.4 -1.9-.7 -.4 .1 -3.4-1.7 -.2 .3 -1-.7 -.1 .1zM237.9 179.1l.2 .5 .1-.4 .7 .9 -.3-.9 -.2 .2 -.2-.5 -.1 .4zM254.1 175.7l.6 1 .1-.3 .8 .8 .1-.5 1 .9 .1-.3 1.3 .8 .3-.2 6.2 2.8 30.5 12.4 0-.4 -34.4-14.1 -.3 .2 -3.6-1.9 -.1 .4 -1-.7 -.1 .1 -.8-.8 -.1 .7zM253.1 175.4l.1 .5 .1-.3 .1 .2 -.1-.4 -.1 .3zM269.2 172.1l.5 1 .1-.3 .8 .9 .1-.5 1 .7 .2-.1 1.2 .6 .3-.1 2.2 1.1 34.5 14.2 .1-.2 -.4-.5 -13.6-5.3 -20.4-8.5 -.2 .2 -3.7-2 -.1 .5 -1.1-.9 -.1 .3 -.7-.9 -.2 .6zM268.1 171.8l.1 .5 .1-.2 .3 .5 .1-.4 .4 .7 -.4-.8 -.1 .2 -.3-.5 -.1 .3zM284.9 168.7l0 .5 .8 .9 .1-.5 .8 .6 .3 0 1.3 .7 .4-.2 2.6 1.4 34 13.8 0-.3 -29.6-12.3 -4.8-1.9 -.4 .2 -3.3-1.8 -.3 .4 -1-.8 -.1 .2z"/>
<path fill="#ff5900" stroke="#ff5900" d="M279.4 205.3l-.6 .6 .6-.3zM278.8 204.9l-.7 .5 .6-.1zM283.8 204.3l-.6 .5 0 .4 .6-.4zM280.7 203.3l0 .4 .5 .5 1 0 -.1-.4 -1 .1 -.2-.5zM294.9 201.8l-.3 .5 0 .5 .3-.5zM294.4 201.6l-.5 .3 0 .5 .5-.3zM300.1 201.3l-.3 .4 .1 .2zM299.7 201.2l-.3 .4 .2 .1zM298.8 200.8l-.5 .8 .5-.4zM295.8 199.8l.4 .8 1 0 0-.4 -1 .1zM309.6 197.9l-.7 .5 0 .4 .7-.4zM284.8 197.8l0 .4 2.9 1.1 .7 .6 3.3 .9 .2 .6 1 .2 .2 .2 .7-.2 0-.3 -.7 .4 -.2-.6 -1 0 -.2-.4 -.9-.1 -2.6-1.2 -.5-.5zM313.9 197.2l-.6 .5 0 .4 .6-.5zM283.2 197.2l0 .4 .6 .2 .3-.1 -.2-.3zM281.4 196.4l.3 .5 .1-.3zM310.8 196.2l.4 .7 1.1 0 -.1-.2 -1 0zM325.1 194.7l-.4 .9 .4-.4 .1 .2 .1-.2 -.2 0zM324.6 194.3l-.5 .5 0 .5 .5-.5zM299.9 194.2l.2 .5 2.6 1 .7 .6 2 .8 1.4 .2 .1 .6 1 0 .2 .3 .7-.3 -.7 .2 0-.5 -1.2-.2 -.3-.3 -1-.2 -.3-.3 -2.1-.8 -.4-.5zM328.9 193.6l-.6 .5 .1 .3 .5-.3zM298.3 193.6l0 .3 .8 .4 .1-.4zM327.3 193.1l-1 .1 0 .2 1-.1zM296.6 192.8l.1 .5 .1-.4zM325.8 192.6l0 .3 .3 .2 0-.4zM340.7 191.6l-.1 .2 -.2-.4 -.2 .7 .2-.4 .2 .2zM340.1 191.1l-.4 .5 0 .5 .4-.5zM339.7 190.8l-.6 .4 0 .5 .5-.4zM314.9 190.7l0 .2 2.9 1.2 1 .7 3 .9 .3 .6 1 0 .1 .4 .7-.4 -.7 .1 -.1-.5 -1 0 -.3-.3 -1.2-.3 -.3-.4 -1.7-.5 -.8-.6zM343.9 190.1l-.5 .3 0 .4 .7-.4zM313.3 190.1l0 .2 .9 .3 -.1-.3zM311.6 189.3l.2 .4 .1-.3zM340.9 189.1l.4 .7 1 0 0-.4 -1 .2zM329.9 187.1l.3 .5 2.6 1 .8 .6 3.2 .9 .3 .6 1 .1 .1 .3 .7-.3 0-.2 -.7 .3 -.1-.6 -1 0 -.3-.4 -.9-.1 -.5-.5 -1.8-.5 -.8-.6zM328.3 186.4l.3 .5 .6 .3 .1-.4zM326.7 185.7l.1 .5 .1-.4zM225.6 183.2l0 .2 1 .8 .2-.1 1.1 .7 .4-.1 6.1 2.7 18.2 7.3 15.7 6.6 6.9 2.5 .2 .4 1.3 .2 .2 .4 1 0 -1-.1 -.2-.6 -3.3-.9 -.7-.6 -38.3-15.5 -3.7-1.8 -.3 .3 -3.6-1.9 -.1 .4zM222.9 182.1l.2 .5 .1-.3 .2 .5 .2-.2 .3 .7 -.3-1 -.2 .3 -.2-.5 -.1 .2zM239.8 179.2l.8 1 .1-.1 1 .7 .2-.4 3.4 1.8 .4-.1 34.5 14.2 0-.4 -29.3-11.8 -5.2-2.4 -.3 .2 -2-1 -.3 .2 -1.3-.8 -.1 .1 -1-.8 -.1 .5zM237.9 178.7l.2 .5 .1-.4 .2 .5 .2-.2 .3 .7 .2-.6 .6 .9 0-.5 -.6-.9 -.2 .6 -.3-.7 -.2 .6 -.2-.5 -.1 .2zM253.1 175.1l.5 .8 .1-.5 .2 .7 .2-.5 .6 .8 .1-.6 .8 .8 .1-.2 1 .8 .1-.4 3.6 1.9 .3-.3 34.5 14.3 .1-.4 -34.5-14.1 -.5 .1 -1.9-1 -.3 .1 -1.3-.7 -.4 0 -.7-.6 -.1 .3 -.8-.8 -.1 .3 -.5-.8 -.3 .5 -.2-.5 -.1 .5 -.3-.5 -.1 .2zM269.9 171.9l.7 1.2 .1-.3 1.1 .9 .1-.5 3.7 2 .2-.3 34.5 14.2 -.1-.4 -30.6-12.4 -3.8-1.7 -.2 .2 -2.2-1.1 -.3 .1 -2.3-1.4 -.2 .4zM269.2 171.4l0 .5 .5 .9 0-.5zM268.1 171.4l.1 .5 .1-.2 .3 .5 .1-.3 .4 .7 -.4-1.2 -.1 .5 -.3-.5 -.1 .3zM284.9 168.4l.8 1 .1-.1 1 .8 .3-.4 3.3 1.7 .4-.1 34.5 14.3 -.1-.5 -27.8-11.3 -6.6-2.9 -.2 .3 -2-1 -.4 .1 -1.3-.7 -.1 .1 -1-.9 -.1 .5zM283.2 167.9l.1 .7 .1-.5 .7 1 .1-.7 .6 .9 0-.5 -.6-.9 -.1 .7 -.4-.8 -.1 .4z"/>
<path fill="#ff5100" stroke="#ff5100" d="M279.9 204.9l-.3 1 .3-.5 0 .5 .3-.5 -.3 0zM279.4 204.8l-.6 .9 .6-.5zM278.8 204.7l-.7 .2 0 .3zM283.8 203.8l-.6 .5 0 .4 .6-.5zM283.1 203.7l-.7 .2 -.1 .4 .6-.2zM280.7 202.9l.4 .9 1-.1 0-.3 -1 0zM295.6 201.6l-.3 0 -.2 .8 .1-.2 .1 .4 .3-.4zM294.4 201.2l-.5 .6 .5-.4zM293.8 201.1l-.7 .2 0 .3zM299.3 200.7l-.4 .5 .2 .1zM298.8 200.2l-.6 .5 .1 .5 .5-.5zM298.1 200.1l-.8 .3 0 .4 .8-.4zM295.8 199.4l.4 .8 1-.1 0-.3 -1.1 .1zM310.7 197.9l-.3 .4 -.1-.4 -.2 1 .2-.5 .1 .5 .3-.3zM309.6 197.6l-.7 .5 0 .2 .7-.5zM284.8 197.6l3.1 1.3 .5 .5 1.9 .7 .5 .3 .9 .2 .2 .3 1 0 0-.3 -1 0 -.3-.4 -1-.1 -.3-.4zM308.8 197.4l-.7 .5 .6-.1zM283.2 196.9l.9 .5 -.2-.2zM313.8 196.6l-.5 .6 0 .4 .6-.5zM313.1 196.4l-.8 .4 .1 .4 .8-.4zM310.8 195.8l.4 .8 1 0 0-.4 -1 .1zM325.1 194.3l-.4 .8 .4-.5 .1 .6 .1-.3 .1 .4 .3-.9 -.3 .4zM324.6 194.1l-.5 .3 0 .3zM299.8 193.9l.5 .4 2.5 .9 .5 .4 -.1 .1 2.1 .7 .3 .4 1 .1 .3 .4 1.2 .1 0-.5 -1.2 .2 -.1-.4 -1.2-.3 -.5-.5zM323.9 193.8l-.7 .5 .6-.1zM328.9 193.1l-.6 .5 0 .3 .6-.5zM328.2 192.9l-.6 .3 -.2 .4 .7-.3zM325.8 192.2l.4 .9 1.1-.2 -.1-.3 -1 .1zM340.8 190.8l-.2 .4 -.2-.4 -.2 1 .2-.5 .2 .4 .2-.4zM339.7 190.4l-.6 .7 .6-.4zM314.9 190.4l3.2 1.4 .5 .5 1.7 .5 .3 .4 1.2 .2 .3 .4 1 0 0-.4 -1 0 -.3-.3 -1.2-.3 -.3-.4 -2.1-.6zM338.9 190.3l-.7 .3 0 .2zM313.3 189.8l.9 .5 -.1-.2zM343.9 189.4l-.5 .5 0 .4 .5-.4zM343.2 189.3l-.8 .5 .3 .1 .5-.2zM340.9 188.7l.4 .7 1-.1 0-.2 -1 .1zM329.9 186.8l3.2 1.4 .5 .5 1.8 .5 .5 .5 .9 .1 .3 .4 1 0 0-.4 -1 0 -.4-.4 -1-.1 -.3-.4zM225.7 182.7l-.1 .4 1.1 .8 .1-.3 2.1 1.2 1.5 .6 .3-.2 3.7 1.7 38.3 15.5 .7 .7 3.3 .8 .2 .7 1 0 0-.4 -1 0 -.3-.4 -1.2-.1 -.5-.5 -5.2-2 -1-.8 -17.6-7 -16.4-6.8 -.3 .2 -4-1.6 -2.1-1.1 -.4 .1 -.8-.6 -.4 0zM222.9 181.7l.2 .5 .1-.3 .2 .5 .2-.2 .3 .7 .2-.6 .5 .9 .1-.5 .7 .9 -.7-1.2 0 .3 -.3 0 -.3-.8 -.2 .5 -.3-.7 -.2 .6 -.2-.6 -.1 .2zM240.7 179.1l0 .3 .5 .5 1.9 1 .3-.1 2 1 .3-.2 5.2 2.3 29.4 11.9 -12.6-5.4 -18.3-7.2 -6-2.8 -.3 .2 -1.3-.8 -.1 .1zM239.1 178.3l.6 1.1 .1-.3 .8 .8 -.8-1.1 -.1 .4zM238.1 177.9l0 .9 .1-.2 .2 .5 .2-.7 .3 .8 -.3-.9 -.2 .3zM255.7 175.6l0 .3 .7 .7 .4 0 1.3 .7 .3-.1 1.9 1 .5-.1 34.5 14.1 -34.7-14.3 -2.2-1.1 -.3 .1zM253.1 174.3l.1 .9 .1-.3 .3 .5 .1-.5 .2 .5 -.2-.7 -.1 .2zM270.8 171.9l.3 .7 2 1.1 .3-.1 2.2 1.1 .2-.3 3.8 1.8 30.8 12.5 -10.5-4.5 -23.7-9.6 -2.6-1.4 -.4 .2 -1.3-.7 -.1 .1zM268.1 170.8l.1 .8 .1-.3 .3 .5 .1-.5 .4 .8 -.4-1 -.1 .2 -.3-.5 -.1 .3zM285.8 168.3l0 .4 .5 .5 1.9 1 .4-.1 2 1 .2-.3 34.6 14.3 -12.6-5.4 -18.1-7.3 -6.1-2.7 -.4 .1 -1.3-.7 -.1 .1zM284.2 167.6l.6 1.1 .1-.4 .8 .9 -.8-1.1 -.1 .3zM283.2 167.2l.1 .9 .1-.3 .2 .3 .1-.4 .4 .7 -.3-.8 -.1 .1 -.3-.5 -.1 .2z"/>
<path fill="#ff4900" stroke="#ff4900" d="M280.6 204.9l-.3 .4 -.1-.2 -.1 .3 .1-.2 .1 .4zM278.8 204.1l-.7 .3 0 .4 .6-.1zM284.3 203.7l-.4 .5 0 .5 .4-.5zM282.9 203.2l-.6 .2 -.1 .4 .1 .1 .8-.3zM280.7 202.6l.4 .7 1 0 0-.4 -1 .2zM295.6 201.2l-.2 .2 -.1-.2 -.2 .7zM294.9 200.8l-.3 .6 0 .5 .3-.5zM293.8 200.4l-.7 .4 0 .4 .6-.1zM298.1 199.7l-.7 .2 -.1 .4 .6-.2zM295.8 198.9l.3 .9 1.1-.1 -.1-.4 -1 .1zM284.8 197.1l0 .3 5.5 2.2 .3 .3 1 .2 .3 .3 1 0 -1-.1 -.1-.5 -1.2-.2 -.3-.4zM308.9 196.9l-.7 .3 -.1 .5 .6-.3zM283.2 196.4l0 .4 1 .4 0-.4zM313.1 196.1l-.7 .2 -.1 .4 .6-.3zM312.2 195.7l-.8 .1 -.2 .4 1-.1zM281.4 195.7l0 .4 .5 .1 0-.3zM325.7 194.1l-.3 .3 -.1-.2 -.1 .4 .1-.3 .1 .4zM325.1 193.7l-.4 .5 0 .5 .4-.5zM324.6 193.7l-.5 .6 .5-.4zM299.8 193.6l0 .2 5.3 2 .5 .5 1.2 .3 .3 .2 -.2 .1 1.2-.1 -1 0 -.3-.6 -1.2-.3 -.3-.3zM323.9 193.3l-.7 .4 0 .4 .6-.3zM329.4 192.9l-.3 .5 0 .5 .3-.5zM298.2 192.8l0 .4 1.1 .4 0-.3zM328.9 192.7l-.6 .7 .6-.5zM328.2 192.4l-.6 .3 -.2 .5 .8-.4zM296.6 192.2l.3 .5 0-.4zM325.8 191.8l.4 .8 1-.2 0-.2 -1 .1zM340.8 190.4l-.2 .4 -.2-.4 -.2 .8 .2-.5 .2 .4zM340.1 190.1l-.4 1.1 .4-.5zM339.7 190.1l-.6 .5 0 .2 .6-.5zM314.8 189.9l.1 .4 5.4 2 .3 .4 1.2 .2 .3 .4 1 0 -1-.1 -.3-.6 -.9-.2 -.5-.5 -2.2-.6zM345.2 189.7l-.3 .5 -.1-.4 -.2 .4 .1 .1 .1-.2 .3 .3zM338.9 189.7l-.7 .4 0 .3 .6-.1zM344.4 189.4l-.3 .5 .1 .4zM313.3 189.3l0 .4 1 .4 0-.4zM343.9 189.2l-.6 .5 .1 .1zM343.2 188.9l-.6 .3 -.2 .4 .8-.4zM311.6 188.6l0 .3 .5 .2 0-.3zM340.9 188.2l.4 .9 1-.2 -.1-.3 -1 .1zM329.9 186.3l0 .4 5.5 2.1 .3 .4 1 .1 .4 .4 1.1-.1 -1.1 0 -.2-.5 -1.2-.3 -.5-.5zM328.3 185.7l0 .4 .9 .3 .2-.1 0-.2zM326.6 184.9l.5 .7 0-.4zM225.7 182.4l1 1 .1-.1 1.1 .8 .4-.2 2.1 1.2 4 1.6 .3-.3 16.4 6.9 17.6 7 1 .8 5.2 2 .5 .5 1.2 .1 .3 .4 1 0 -1-.2 -.1-.5 -1.4-.2 -.5-.5 -41.7-16.9 -4.8-2.2 -.3 .1 -1.3-.8 -.1 .4zM224.8 181.8l-.1 .5 .7 1 .2-.5zM222.9 181.3l.5 .9 -.2-.8 -.1 .2zM240.7 178.8l1 1 .1-.1 1.3 .7 .3-.1 6 2.8 18.3 7.2 12.1 5.1 .6 0 -.1-.2 -34.2-13.9 -2.7-1.4 -.3 .2 -1.3-.8 -.1 .4zM239.8 178.3l0 .4 .8 1 0-.5zM238.1 177.6l.3 .8 .2-.2 .3 .7 .2-.7 .6 .9 -.6-1.2 -.2 .4 -.3-.7 -.2 .3zM255.7 175.3l1 .9 .2-.1 1.2 .7 .3-.1 2.2 1.1 34.8 14.1 -.2-.3 -34.6-14.2 -2.2-1.1 -.3 .1 -1.2-.7 -.2 .4zM254.2 174.4l.5 1.2 .1-.4 .8 .9 0-.4 -.8-1 -.1 .6zM253.1 174.1l.1 .3 .1-.1 .3 .5 .1-.2 .4 .6 -.4-1.1 -.1 .6 -.3-.6 -.1 .2zM270.8 171.7l1 1 .1-.1 1.3 .7 .4-.2 2.6 1.3 34.2 14 .2-.2 -12.8-5.4 -18.2-7.2 -7.5-3.4 -.3 .4zM268.1 170.4l.1 .5 .1-.2 .3 .5 .1-.3 .4 .8 .1-.6 .6 .8 .1-.3 .8 .8 -.1-.6 -.7-.7 -.1 .6 -.6-.9 0 .3 -.3 0 -.2-.7 -.1 .7 -.3-.7 -.1 .3zM285.8 168.1l1 1 .1-.2 1.3 .8 .4-.1 6.1 2.7 18.1 7.3 12.1 5.1 .7 0 -.2-.3 -34.7-14.1 -2.1-1.1 -.4 .1 -1.1-.7 -.3 .3zM284.9 167.6l0 .3 .8 1 0-.5zM283.8 166.8l.3 1.3 .1-.7 .6 .9 -.5-1 -.4 0zM283.2 166.8l.1 .5 .1-.2 .2 .3 -.2-.5 -.1 .2z"/>
<path fill="#ff4100" stroke="#ff4100" d="M279.9 204.1l-.3 1 .3-.5 .2 .6 .1-.3 .1 .3 .3-.6 -.3 .5 -.1-.7 -.1 .3zM283.7 202.9l-.5 .7 0 .3 .5-.6zM280.7 202.3l.4 .6 1-.1 -.2-.4 -1 .2zM295.6 200.8l-.5 .8 .2-.5 .1 .2zM300.1 200.1l-.3 .5 -.1-.4 -.3 .6 .3-.4 .1 .4zM298.8 199.3l-.6 1 .6-.5zM295.8 198.7l.3 .6 1-.1 0-.4 -1.2 .1zM309.6 196.9l-.7 .5 0 .3 .7-.5zM314.7 196.6l-.3 .3 .5 .4 .2-.7 -.3 .5zM308.9 196.6l-.7 .5 .6-.2zM284.6 196.6l.7 .6 5 1.9 .3 .3 1 .2 .3 .2 0 .4 1 0 0-.4 -1 0 -.1-.5 -1.2-.2 -.3-.4 -2.1-.6zM314.3 196.3l-.4 .5 .2 .1zM283.2 196.1l0 .2 1.1 .4 0-.3zM313.8 195.7l-.6 .7 .1 .4 .5-.6zM281.4 195.3l0 .3 .7 .1zM310.8 195.1l.3 .7 1.1-.2 -.1-.4 -1 .2zM325.7 193.7l-.3 .4 -.1-.3 -.1 .5 .1-.2 .1 .2zM299.7 192.9l.1 .5 5.5 2 .3 .4 1.2 .3 .3 .6 1 0 0-.5 -1 .1 -.3-.6 -1.2-.3zM298.2 192.3l.1 .5 .9 .4 .2-.1 0-.3zM328.8 192.2l-.5 .6 0 .4 .6-.6zM328.1 192.2l-.8 .4 .1 .1zM296.4 191.7l.2 .4 .5 .2 0-.4zM325.8 191.7l.4 .5 1-.1 -.1-.4zM314.7 189.4l.1 .4 3.4 1.4 2.2 .6 .5 .5 .9 .1 .3 .7 1 0 0-.5 -1 .1 -.2-.5 -1.2-.3 -.3-.3 -2.2-.7zM345.2 189.3l-.3 .5 -.1-.4 -.2 .7 .2-.4 .1 .4zM313.2 188.8l.1 .4 1.1 .4 0-.3zM343.9 188.6l-.6 .6 0 .4 .6-.5zM311.6 188.2l0 .2 .6 .2zM340.9 187.9l.3 .7 1-.2 0-.3 -1 .1zM329.8 185.9l.6 .5 4.8 1.8 .5 .5 1 .1 .4 .3 0 .3 1.1 0 0-.3 -1.1 0 0-.5 -1.4-.3 -.3-.4zM328.3 185.3l0 .3 1.3 .3 -.2-.2zM326.6 184.6l0 .2 .6 .3 0-.3zM225.7 181.9l0 .4 1 .9 .1-.4 1.3 .8 .3-.2 4.8 2.3 41.7 16.9 .5 .5 1.2 .1 .3 .2 0 .4 1 0 0-.4 -1 0 -.1-.5 -1.2-.2 -.3-.4 -3.5-1.1 -19.1-8 -18.3-7.3 -6.3-2.7 -1.3-.8 -.1 .4zM223.2 180.7l-.1 .6 -.2-.2 .2 .3 .1-.1 .2 .5 .2-.5 .3 .8 .2-.7 .5 1 -.5-1.2 -.2 .4 -.3-.8 -.2 .5zM240.7 178.3l0 .4 1 .9 .1-.4 1.3 .7 .3-.1 2.7 1.4 4.3 1.6 29.7 12.3 .3 .1 .2-.3 -31-12.6 -4.7-2.1 -1.8-.6 -1.2-.8 -.2 .4zM238.3 177.3l-.1 .4 .1-.1 .1 .2zM255.7 175.2l1 .7 .2-.3 1.2 .7 .3-.1 2.2 1.1 34.3 14.1 .7 0 -.8-.5 -33.6-13.6 -2.6-1.4 -.5 .2 -1.2-.8 -.1 .3 -1-.9zM253.7 173.7l.4 1 .1-.4 .5 .9 -.5-1.1 -.1 .3zM253.1 173.7l.5 .9 -.3-.8 -.1 .1zM270.8 171.2l0 .4 1 .8 .3-.3 7.5 3.3 18.2 7.3 12.8 5.4 .1-.3 -30.1-12.5 -4.4-1.6 -2.6-1.4 -.4 .1 -1.3-.7 -.1 .4zM268.7 170.1l.4 1 .1-.4 .6 .9 -.6-1.2 -.1 .4zM268.1 170.1l.5 .8 -.3-.7 -.1 .1zM285.8 167.6l0 .3 1 .9 .3-.4 1.1 .8 .4-.1 2.1 1.1 34.5 14.1 .5 0 -12.9-5.5 -18.1-7.2 -4.6-2.2 -1.9-.6 -1.1-.7 -.2 .3zM283.2 166.6l.1 .3 .3 0 .1 .7 -.1-.8zM283.8 166.4l.3 .9 .1-.2 .6 1 -.4-1 -.3 0z"/>
<path fill="#ff3900" stroke="#ff3900" d="M280.6 203.9l-.3 .4 -.1-.2 -.1 .3 .2 0 0 .5zM279.4 203.4l-.5 .7 0 .5 .5-.7zM278.8 203.3l-.7 .4 0 .4 .6-.3zM284.2 203.2l-.4 .5 .1 .1zM284.6 203.1l-.3 .5 .1 .5 .3-.5 .1 .5 .3-.7 -.2-.3 -.2 .5zM283.7 202.6l-.6 .7 .1 .1zM282.9 202.4l-.7 .5 0 .4 .7-.5zM280.7 201.7l0 .5 .2 .2 1-.1 0-.2 -1 .2zM295.3 200.2l-.2 1.1 .5-.6 -.3 0zM294.9 200.2l-.2 .4 -.1-.7 -.7 .5 0 .5 .5-.3 .2 .3zM293.8 199.7l-.7 .4 0 .3 .6-.2zM300.1 199.4l-.3 .5 -.1-.5 -.3 1 .3-.3 .1 .3zM297.9 198.8l-.7 .5 .1 .4 .6-.4zM295.8 198.2l.1 .6 1.2-.1 -1.2 0zM310.3 196.6l-.2 1.1 .2-.5 .1 .4 .3-.7 -.3 .4zM309.6 196.3l-.7 1 .7-.5zM308.9 196.1l-.7 .3 0 .4 .6-.2zM315.1 195.8l-.3 .5 -.1-.4 -.3 .4 -.1-.4 -.4 .8 .4-.5 .1 .6 .3-.4 .1 .5zM283.1 195.6l.3 .5 6.9 2.5 .3 .3 1 .2 .3 .2 0 .4 1.2-.1 0-.3 -1.2 0 -.2-.2 -.9-.2 -.5-.6 -2.1-.6zM313.1 195.3l-.7 .3 -.1 .5 .8-.4zM281.2 194.8l.2 .4 .7 .2 .1-.2zM310.8 194.3l0 .6 .3 .4 1-.2 -1 0zM325.4 193.1l-.2 .8 .5-.3 0-.3 -.1 .4 -.3 0zM324.6 192.7l-.5 .6 0 .4 .5-.5zM323.9 192.6l-.6 .2 -.1 .5 .6-.2zM330.2 192.2l-.3 .5 -.1-.5 -.2 1.1 .2-.5 .1 .5zM298.2 191.9l.4 .5 6.5 2.5 .5 .4 1.2 .3 .3 .6 1-.1 0-.4 -1 .1 -.4-.4 -1.1-.1 -.2-.6 -2.2-.6zM328.1 191.7l-.7 .4 -.1 .3 .8-.3zM325.9 191.1l.2 .6 1-.1 0-.3 -1 .3zM340.4 189.4l-.2 1.2 .2-.5 .2 .3 .2-.5 -.2 .3zM339.7 189.2l-.6 .5 0 .5 .6-.5zM339.1 188.9l-.8 .4 -.1 .4 .6-.3zM345.2 188.7l-.3 .5 -.1-.5 -.2 1 .2-.4 .1 .4zM313.2 188.3l0 .4 5 2.1 2.2 .6 .3 .4 1 .1 .4 .3 0 .4 1-.2 0-.3 -1 .1 -.4-.4 -1-.1 -.5-.6zM343.1 188.1l-.8 .5 .1 .3 .8-.3zM311.6 187.7l0 .4 .6 .2 0-.4zM340.9 187.4l.3 .7 1-.2 -1.1 0zM328.3 184.8l0 .4 7.1 2.6 .3 .4 1.1 .1 .4 .3 -.1 .3 1.1 0 0-.3 -1 0 -.3-.3 -1.2-.2 -.3-.5 -2.1-.7zM225.7 181.4l0 .4 1 .9 .1-.4 1.3 .8 6.3 2.7 18.3 7.3 19.1 8 3.5 1.1 .3 .4 1 .1 .3 .2 0 .4 1 0 0-.4 -1 0 -.3-.5 -1-.1 -.3-.4 -2.2-.6 -37.7-15.6 -4.3-1.6 -2.7-1.4 -.3 .1 -1.3-.7 -.1 .2zM223.6 180.4l.3 1 .2-.3 .6 1.1 .1-.8 .8 1 0-.3 -.8-1 -.1 .5 -.6-1 -.2 .6zM222.9 180.3l.2 .9 0-.5 .2 0zM240.7 177.8l0 .4 1 .9 .2-.4 1.2 .7 1.8 .7 4.7 2.1 30.8 12.6 .5-.1 -35.3-14.5 -2.2-1.1 -.3 .3zM238.1 176.9l.1 .7 .1-.4 .1 .4 .2-.4 .3 .7 .2-.3 .6 .8 .1-.5 .8 .9 -.2-.6 -.6-.8 -.1 .7 -.6-1 -.2 .5 -.2-.7 -.1 .3 -.3-.5 -.1 .5zM255.8 174.2l0 .4 1 .8 .1-.2 1.2 .7 .5-.1 2.6 1.4 34.2 14 .7-.1 .3 .5 .8 .2 0-.2 -32.6-13.3 -6-2.9 -.4 .4 -1.3-.7 -.1 .1zM253.1 173.3l.5 .9 .1-.6 .4 .7 0-.2 .2 0 .4 .8 .1-.6 .8 1 0-.6 -.7-.9 -.2 .6 -.5-1 -.1 .7 -.4-.8 -.1 .4 -.3-.6 -.1 .5zM270.8 170.7l0 .4 1 .8 .1-.3 1.3 .7 .4-.1 2.6 1.4 4.4 1.6 30 12.5 .7-.1 -35.6-14.5 -2.1-1.2 -.4 .3 -1.3-.8 -.1 .2zM268.3 169.4l0 .5 -.2 0 .5 .7 .1-.7 .4 .8 .1-.4 .6 1 .1-.6 .8 1 -.1-.6 -.7-.8 -.1 .5 -.6-1 -.1 .6 -.4-.7 0 .2 -.3 0zM285.8 167.4l1.1 .9 .2-.4 1.1 .8 1.9 .6 4.6 2.1 30.9 12.7 .6-.2 .9 .8 .2-.1 -2-1 -34-13.9 -2.6-1.4 -.5 .4 -2.3-1.6zM284.3 166.3l0 .5 .5 .9 .1-.5 .8 .9 0-.4 -.8-1 -.1 .6zM283.4 165.9l-.1 .5 -.1-.2 .1 .5 .1-.3 .3 .7 0-.7 .2 0 -.1-.2 -.1 .2z"/>
<path fill="#ff3100" stroke="#ff3100" d="M280.6 203.6l-.3 .5 -.1-.3 .1 .4zM278.8 202.8l-.6 .3 -.1 .5 .6-.3zM284.2 202.4l-.4 .7 0 .5 .4-.5 .1 .3 .3-.7 -.2 .4 -.2 0zM283.7 202.1l-.6 .7 0 .4 .6-.8zM282.8 201.9l-.7 .5 .1 .4 .7-.5zM294.6 199.6l-.7 .7 .7-.5zM299.7 198.9l-.3 .7 -.2-.7 -.3 1 .4-.5 .1 .4zM298.7 198.4l-.6 .9 .1 .4 .5-.6zM297.9 198.3l-.7 .5 0 .4 .7-.5zM310.3 196.2l-.1 .2 -.1-.2 -.4 .9 .2-.4 .2 .2zM315.1 195.4l-.3 .5 -.1-.3 -.3 .6 .3-.4 .1 .4zM314.3 195.3l-.4 1 .4-.5zM283.1 195.2l.3 .5 6.9 2.5 .5 .6 .9 .1 .2 .3 1.2 0 -1.2 0 0-.5 -1.3-.3 -.3-.5 -2.1-.6zM313.8 194.9l-.6 .8 0 .4 .6-.8zM312.9 194.7l-.7 .5 .1 .4 .6-.4zM325.4 192.6l-.2 .8 .1-.3 .3 0 -.2 .6 .3-.5 0-.5 -.1 .4zM323.9 192.2l-.7 .4 0 .2 .7-.4zM329.3 191.7l-.4 .6 .2 .5zM298.2 191.6l.4 .5 4.6 1.8 2.2 .7 .3 .2 -.1 .4 1.1 .1 .4 .4 1-.1 -1 0 -.3-.5 -1.1-.3 -.3-.5 -2.2-.6zM328.8 191.3l-.6 .8 .1 .3 .5-.6zM328.1 191.2l-.9 .5 .1 .4 .8-.5zM339.7 188.8l-.6 .8 .6-.5zM344.8 188.3l-.2 .5 -.2-.6 -.3 1 .3-.5 .2 .4zM313.2 187.9l.4 .5 6.6 2.5 .5 .4 0 .3 1 .1 .4 .4 1.1-.2 -1.1 0 -.4-.5 -1-.1 -.3-.6 -2.1-.6zM343.8 187.8l-.5 1 .6-.6zM343.1 187.6l-.8 .5 0 .3 .8-.5zM328.2 184.4l.5 .5 4.6 1.9 2.1 .6 .3 .5 1.2 .3 .3 .2 1 0 -1 0 -.1-.5 -1.4-.2 -.1-.5zM224.8 180.4l0 .5 .8 1 .1-.6 1 .9 .1-.3 1.3 .8 .3-.1 2.7 1.3 4.3 1.7 37.7 15.6 2.2 .6 .3 .4 1 .1 .3 .5 1 0 0-.4 -1 .2 -.2-.5 -.9-.2 -.5-.3 -5.6-2 -.8-.7 -17.7-7.1 -16.4-6.9 -.2 .2 -4-1.7 -2.2-1.1 -.3 .1 -1.3-.8 -.1 .3 -1-1 -.1 .5zM222.9 179.9l.5 1 -.1-.6zM240.7 177.6l.9 .8 1.5 .9 .3-.4 2.2 1.2 36.3 15 .4-.3 -36.7-15 -2.2-1.1 -.3 .2 -1.2-.7 -.1 .4zM238.3 176.3l-.1 .3 -.1-.3 .1 .8 .1-.5 .1 .2zM255.8 174.1l1 1 .1-.2 1.3 .8 .4-.4 6 2.9 18.2 7.2 14.3 6 .2-.1 -14.5-6.1 -18.1-7.3 -6.1-2.8 -.4 .2 -1.3-.7 -.1 .3zM253.1 172.7l.1 .7 .1-.5 .3 .7 .1-.4 .4 .7 -.4-1 -.1 .4 -.3-.6 -.1 .2zM270.8 170.4l1 1 .1-.1 1.3 .8 .4-.3 2.1 1.1 36.6 14.9 -.6-.5 -26.9-10.9 -11.2-4.8 -.4 .2 -1.1-.7 -.3 .2zM268.2 169.1l0 .8 .1-.6 .3 .6 .1-.3 .4 .7 -.7-1.2 -.1 .2zM285.9 166.8l.5 .6 .9 .4 .9 .8 .5-.4 2.6 1.4 35.9 14.7 .2-.2 -36.1-14.8 -2.6-1.4 -.4 .3 -1.2-.8 -.2 .3zM283.2 165.6l.1 .7 .1-.5 .3 .5 .1-.2 .4 .8 -.4-1.1 -.1 .3 -.3-.7 -.1 .4z"/>
<path fill="#ff2900" stroke="#ff2900" d="M280.3 202.9l-.2 1.2 .1-.4 .1 .2 .3-.7 -.2 .2zM280.2 203.4l.1-.1 .1 .3 -.1 .1zM279.4 202.6l-.5 .7 0 .4 .5-.6zM280.8 201.4l.1 .8 1-.3 .2 .4 .7-.5 -.1-.2 -.6 .5 -.3-.8zM294.6 199.1l-.7 .6 0 .4 .7-.7zM293.8 198.9l-.5 .3 -.2 .5 .7-.4zM299.2 198.6l-.4 .6 .1 .1zM295.8 197.8l.1 .8 1-.2 .3 .3 .7-.5 -.1-.3 -.7 .7 -.3-.9zM309.6 195.4l-.5 .7 0 .3 .5-.5zM308.9 195.3l-.6 .3 -.1 .5 .6-.3zM283.1 194.7l0 .4 5.1 2.1 2.1 .6 .3 .5 1.1 .1 .4 .3 -.2 .4 1.2-.2 0-.3 -1 .1 -.2-.6 -.8-.2 -2.5-.8 -.8-.5zM310.9 194.3l.2 .6 1-.1 .1 .3 .7-.5 -.1-.2 -.6 .5 -.4-.8zM325.4 192.2l-.2 .5 -.1-.4 -.4 .8 .4-.5 .1 .3zM324.7 191.8l-.6 .6 0 .5 .6-.6zM323.9 191.7l-.7 .4 0 .3 .6-.2zM329.7 191.6l-.3 .5 .2 .2 .1-.2 .2 .2 .2-.7 -.3 .5zM298.1 191.1l0 .2 .5 .4 4.6 1.9 2.2 .6 .3 .5 1.1 .2 .3 .5 1-.1 0-.4 -1 .3 -.2-.6 -1.2-.3 -.3-.4 -1.7-.5 -.8-.5zM325.9 190.7l.2 .7 1-.2 .1 .4 .7-.5 -.1-.3 -.6 .5 -.3-.7zM339.7 188.2l-.6 1.1 .6-.6zM339.1 188.2l-.7 .2 -.1 .5 .8-.3zM343.8 187.4l-.6 .9 .1 .1zM313.1 187.4l.5 .7 6.8 2.5 .3 .6 1 .1 .4 .5 1.1 0 0-.4 -1.1 .2 0-.7 -1.4-.2 -2.8-1.4zM340.9 187.1l.2 .7 1.1-.1 .1 .2 .8-.5 -.2-.2 -.6 .6 -.4-.9zM328.2 183.9l0 .4 7.4 2.8 .2 .2 -.1 .3 1.1 .1 .4 .2 0 .4 1-.1 0-.4 -1 .1 -.1-.6 -.9-.1 -2.5-.9 -.8-.5zM226.9 181.2l0 .4 1.2 .7 .3-.1 2.2 1.1 4 1.6 .2-.1 16.4 6.9 17.5 7 1 .7 7.1 2.7 .1-.4 -1.3-.3 -2-.7 -2.3-1.1 -40.5-16.7 -.2 .2 -2.2-1.2 -.3 .2zM224.1 179.7l0 .5 .6 1zM223.2 179.4l-.1 .5 -.2-.2 .2 .4 .2 0 .1 .5 .2-.7 .3 .8 -.3-.9 -.2 .3zM239.2 176.2l-.1 .4 .6 1.1 .1-.6 .8 1 .1-.7 1.1 1 .1-.3 1.2 .7 .3-.2 2.2 1.1 36.5 15 .5-.3 -32-13.2 -5.2-1.9 -1.8-1 -.4 .1 -1.3-.8 -.1 .5 -1-1 -.2 .5 -.8-1 -.1 .6zM238.1 175.8l.1 .6 .1-.2 .3 .9 .1-.7 .2 .7 -.2-.9 -.1 .4zM254.2 172.6l0 .5 .5 1 .2-.7 .8 1 .1-.5 1 .9 .1-.4 1.3 .8 .4-.3 6.1 2.9 18.1 7.3 14.3 6 .5-.2 -14.8-6.2 -18.1-7.3 -3.8-1.7 -.2 .1 -2.5-1 -1.3-.9 -.1 .5 -1-.8 -.1 .5 -.8-1 -.1 .5zM253.1 172.3l.1 .5 .1-.2 .3 .6 .1-.4 .4 .8 -.4-.9 -.1 .2 -.3-.6 -.1 .3zM269.9 169.4l0 .4 .8 1 .1-.5 1 .9 .3-.3 1.1 .8 .4-.3 7.6 3.4 31.1 12.8 .5-.3 -35-14.4 -2.2-.7 -1.9-1 -.3 .1 -1.3-.9 -.2 .5 -1.1-1 -.1 .5zM269.2 168.9l0 .5 .6 1zM284.3 165.3l0 .5 .5 1 .1-.5 .8 1 .2-.6 1 .9 .2-.3 1.2 .8 .4-.3 2.6 1.4 35.9 14.7 .5-.2 -32-13.3 -5.1-1.8 -1.9-1 -.4 .1 -1.2-.9 -.2 .5 -1-1 -.1 .5 -.7-1 0 .4 -.3 .1zM283.2 165.1l.1 .6 .1-.4 .8 1.1 -.4-1 -.1 .3 -.3-.6 -.1 .2z"/>
<path fill="#ff2100" stroke="#ff2100" d="M280.6 202.6l-.2 .3 -.1-.3 -.2 .5 -.2-.8 -.3 1.3 .3-.7 .2 .4 .2-.5 0 .8zM278.8 202.1l-.6 .2 -.1 .5 .7-.4zM284.9 201.9l-.2 .5 -.1-.3 -.3 .7 .3-.5 .1 .4zM278.1 201.8l-1.2 .1 0 .3 1.2-.1zM283.4 201.6l-.5 .5 .2 .3 .5-.6zM284.2 201.4l-.4 1.3 .4-.6zM293.9 198.4l-.6 .3 -.1 .5 .7-.4zM299.9 198.3l-.2 .5 -.1-.4 -.3 .5 .1 .3 .3-.4 .1 .3zM298.7 198.1l-.4 0 -.2 .8zM293.1 198.1l-1 .2 0 .3 1-.2zM299.2 197.9l-.4 1.2 .4-.7zM310.7 195.4l-.3 .5 -.1-.3 -.1 .3 -.1-.7 -.4 1.2 .4-.6 .1 .4 .1-.4 .1 .4zM308.9 194.8l-.6 .3 -.1 .5 .7-.4zM308.1 194.6l-1 .1 0 .4 .7-.2zM314.2 194.4l-.3 1 .4-.6zM313.7 194.4l-.3 0 -.3 .5 .1 .4zM325.7 191.9l-.1 .3 -.2-.3 -.2 .7 .2-.5 .2 .5zM325.1 191.7l-.4 1.1 .4-.6zM324.1 191.2l-.7 .4 -.1 .3 .5-.2zM323.2 190.9l-1 .3 -.1 .2 1.1-.1zM329.3 190.8l-.4 .6 0 .5 .4-.6zM328.8 190.8l-.4 .1 -.2 .8zM339.1 187.7l-.7 .2 -.1 .5 .8-.3zM345.2 187.6l-.3 .5 -.1-.7 -.2 1 .2-.5 .1 .4zM343.8 187.3l-.4 0 -.2 .9zM338.2 187.3l-1 .3 0 .2 1-.1zM344.3 187.2l-.4 .7 .2 .4zM226.9 180.8l0 .3 1.2 .8 .3-.1 2.2 1.1 .2-.1 40.5 16.6 2.3 1.2 2 .7 1.3 .3 0-.3 -1.3-.1 -.2-.5 -1.8-.5 -2.3-1.1 -20-8 -20.9-8.7 -1.8-1 -.3 .4zM224.8 179.7l0 .4 .8 1 .1-.5 1 1 .1-.2 -1.1-1.1 -.1 .4zM223.1 178.9l0 .9 .1-.5 .7 1.1 -.3-1.3 -.2 .3zM241.9 177.2l.2 .4 1.1 .7 .4-.1 1.8 1 5.2 1.9 37.2 15.3 .8 .5 3.3 1 -.2-.2 -1-.1 -.3-.5 -1.7-.5 -.8-.5 -21.6-8.7 -20.4-8.6 -.2 .1 -2.1-1.1 -.4 .3zM240.8 176.7l0 .2 1 1 0-.2zM239.9 176.1l-.1 .3 .8 1 0-.3zM238.1 175.4l.1 .5 .2 0 .2 .5 .1-.3 .2 .6 -.2-1.1 -.1 .6zM257.1 173.7l0 .2 1.1 .8 2.5 1 .2-.1 3.8 1.7 38.2 15.5 .8 .5 1.7 .5 .3 .4 1.1 .2 .3-.2 -1.4-.3 -.3-.3 -1.7-.5 -.8-.7 -4.2-1.5 -22.8-9.5 -15.3-6.1 -1.9-1 -.5 .1zM254.9 172.6l0 .3 .8 1 .1-.5 1 .9 0-.2 -1-1 -.1 .5zM253.1 171.9l.1 .5 .1-.2 .8 1.1 -.4-1.4 -.1 .7 -.3-.7 -.1 .3zM269.9 168.9l0 .4 .8 1 .1-.5 1.1 1 .2-.5 1.1 .8 .5 0 1.9 1 40.8 16.5 4.3 2 1.4 .2 -.3-.4 -1-.1 -.2-.4 -1.9-.5 -.6-.5 -38.3-15.5 -3.7-1.7 -.3 .1 -2.1-1.1 -.4 .2 -1.2-.8 -.2 .3 -1-1 -.2 .5zM269.3 168.7l-.1 .1 .6 1.1zM268.2 168.3l.1 .8 .1-.5 .7 1.1 -.3-1.3 -.1 .5 -.3-.6 -.1 .3zM287.1 166.6l1.2 1 .4-.2 1.9 1 5.1 1.9 37.2 15.4 .8 .5 3.4 1 -.3-.3 -1-.1 -.2-.5 -1.8-.5 -2.2-1.1 -20.2-8 -20.3-8.6 -.3 .1 -2.1-1.1 -.4 .2 -.9-.7zM285.1 165.3l0 .4 .7 1 .1-.5 1 1 0-.3 -1-1 -.1 .4zM283.8 164.8l-.1 .8 .1-.3 .4 .8zM283.2 164.7l.1 .5 .1-.3 .2 .3z"/>
<path fill="#ff1900" stroke="#ff1900" d="M280.6 202.2l-.5 .7 .2-.5 .1 .4zM284.9 201.6l-.2 .5 -.1-.4 -.3 .7 .3-.5 .1 .4zM278.9 201.4l-.6 .4 -.2 .5 .7-.4zM282.1 201.9l.7-.5 -.9-.1zM278.1 201.3l-1 .3 -.2 .2 1.2-.1zM299.9 197.9l-.2 .5 -.1-.2 -.3 .6 .3-.5 .1 .4zM297.1 198.4l.6-.5 -.8-.2zM293.1 197.7l-1 .2 0 .3 .7-.1zM310.7 195.1l-.3 .5 -.1-.4 .1 .6zM315.1 194.3l-.3 .6 -.1-.6 -.3 1 .3-.5 .1 .4zM308.2 194.2l-1.1 .1 0 .3 1-.2zM314.2 194.1l-.4 .7 .1 .1zM311.9 194.1l.3 .7 .6-.5zM325.8 191.4l-.2 .5 -.2-.3 -.2 .7 .2-.5 .2 .3zM330.1 190.8l-.3 .5 -.1-.4 -.3 .8 .3-.5 .1 .4zM328.4 190.8l-.3 .3 .1 .1zM327.2 191.2l.7-.5 -.8-.1zM323.2 190.6l-1 .2 0 .3 .7-.2zM342.1 186.9l.2 .8 .5-.5zM338.3 186.9l-1.1 .3 0 .2 .7-.1zM226.9 180.3l0 .4 1.4 1 .3-.4 1.8 1 20.9 8.6 20 8 2.3 1.2 1.8 .5 .3 .2 -.1 .3 1.3 .1 -.2-.4 -1-.1 -.3-.5 -3.3-1.1 -19.2-8 -22.3-9 -2-1.2 -.4 .3zM224.8 179.2l0 .4 .8 1 .1-.4 1.1 1 -.5-.9 -.5-.5 -.2 .4zM223.3 178.7l-.1 .5 .1-.3 .1 .4 .2-.4 .3 .9 -.2-1 -.3 .3zM242.1 176.7l-.2 .4 1.3 .8 .4-.2 2.1 1.1 .2-.1 20.4 8.6 21.6 8.6 .8 .5 1.7 .5 .3 .5 1.2 .3 .2-.4 -1.4-.2 -.1-.4 -1.9-.5 -.4-.4 -38.5-15.6 -3.7-1.8 -.5 .2 -1.9-1 -.5 0zM240.8 176.2l0 .4 1 1zM244.2 175.7l2.6 1.5 3.5 1.4 -3.7-1.5zM238.1 175.1l.5 1 -.2-.7zM255.8 172.7l0 .2 1 1 .3-.3 1.1 .7 .5-.1 1.9 1 7.7 3 30.4 12.6 4.2 1.5 .8 .6 1.7 .5 .3 .4 1.4 .3 0-.4 -1.3-.1 -.2-.4 -1.8-.5 -.7-.6 -36.8-14.9 -5.2-2.4 -.3 .3 -2.1-1.2 -.4 .2 -1.2-.9 -.2 .5zM253.1 171.4l.1 .7 .1-.3 .3 .6 -.2-.6zM270.9 169.1l0 .2 1 1 .2-.4 1.2 .9 .4-.2 2.1 1.1 .3-.1 3.7 1.7 38.3 15.5 .6 .5 1.9 .5 .2 .4 1.3 .2 0-.3 -1.3-.2 -.2-.3 -1.8-.5 -.6-.5 -4.4-1.7 -37.6-15.6 -.4 .1 -2.1-1.1 -.4 .1 -1.1-.8 -.3 .5zM268.2 167.9l.1 .5 .1-.2 .2 .4 -.2-.7 -.1 .3zM287.2 165.9l0 .4 1.1 .9 .4-.3 2.1 1.2 .3-.2 20.3 8.7 20.2 8 2.2 1.1 1.8 .5 .2 .5 1.4 .1 -.3-.4 -1-.1 -.2-.4 -1.9-.5 -.4-.3 -38.5-15.7 -3.7-1.7 -.3 .2 -2.2-1.2 -.1 .2zM285.9 165.4l0 .4 1 1zM283.2 164.3l.5 1 -.1-.6z"/>
<path fill="#ff1100" stroke="#ff1100" d="M280.6 201.8l-.2 .4 -.1-.3 -.2 .8 .2-.5 .1 .2zM282.3 201.3l.5 0 .1 .4 .2-.1 -.3-.3zM279.6 201.3l-.5 .6 -.2 .7 .7-.8zM284.9 201.2l-.2 .5 -.1-.6 -.3 1 .3-.5 .1 .3zM284.1 200.9l-.4 .8 .1 .1zM278.1 200.8l-1 .3 0 .3 1-.2zM294.6 197.8l-.7 1.1 .7-.7zM293.9 197.7l-.6 .2 -.1 .5 .7-.3zM296.8 197.6l1.1 .2 .2 .3 .1-.2zM299.9 197.6l-.2 .5 -.1-.7 -.3 1.2 .3-.5 .1 .2zM293.2 197.2l-1.1 .2 0 .4 1-.2zM310.7 194.7l-.3 .5 -.1-.4 .1 .6zM309.6 194.3l-.5 .6 0 .4 .5-.6zM308.9 194.1l-.6 .3 -.1 .4 .7-.4zM311.9 193.9l1.2 .5 -.4-.3zM314.6 193.8l-.3 .6 .1 .5zM308.2 193.6l-1 .2 0 .4 1-.1zM325.8 191.1l-.2 .5 -.2-.4 -.2 .7 .2-.5 .2 .4zM324.7 190.7l-.6 .7 0 .4 .6-.7zM327.4 190.6l.5 0 .2 .3 .1-.1 -.3-.2zM324.1 190.4l-.8 .5 0 .4 .8-.5zM330.1 190.3l-.3 .6 -.1-.7 -.3 1.1 .3-.5 .1 .4zM323.3 189.9l-1.1 .4 0 .4 1-.3zM339.7 187.1l-.5 .7 0 .4 .5-.8zM339.1 186.9l-.7 .3 -.1 .5 .8-.4zM341.9 186.8l1.2 .3 .1 .2 .1-.1zM344.7 186.7l-.3 .5 .2 .6 .5-.6 0-.4 -.2 .4 -.2 0zM338.3 186.4l-1 .3 -.1 .4 1.1-.3zM227.1 179.9l0 .4 1.1 .8 .2-.2zM227.2 179.3l.4 .5 1.3 .9 -.2 .2 1.9 1 22.3 9 19.2 8 3.3 1.2 .3 .5 1.2 .2 .2-.4 -1.4-.2 1.6 0 .6-.3 -.6 0 0-.2 .8 0 -3.5-1.3 -19.2-8 -18.1-7.2 -7.1-3.1 .4 .2 -.5 .3 -1.4-1 -.4 .3zM225.8 179.3l0 .4 1 1.1 0-.4zM224.2 178.4l-.1 .5 .6 1.2zM228.4 178.3l-.1 .3 .9 .6zM223.1 178.2l.1 .7 .1-.3 .1 .3 -.1-.6 -.1 .1zM242.2 175.7l.4 .5 1.3 .9 -.5 .2 -1.3-1 0 .3 1.1 .8 .5 0 1.9 1 .5-.1 3.7 1.8 38.5 15.6 .4 .4 1.9 .5 .2 .2 -.1 .1 1.4 .3 0-.3 -1.3-.1 0-.2 2.1-.2 -.6-.2 .5-.1 -23.9-9.7 -22.1-9.1 -1.9-1 .7 .4 -.4 .2 -1.5-.8 -.5 .2zM240.8 175.7l0 .4 1 1.1 .1-.4zM239.9 175.3l0 .4 .8 1zM243.6 174.7l-.3 .2 .8 .8 .1-.3zM238.1 174.7l.5 1 -.2-.6zM255.9 172.1l-.1 .5 1.1 1 .2-.5 1.2 .8 .4-.1 2.1 1.1 .3-.2 5.2 2.4 36.8 14.8 .7 .7 1.8 .5 .2 .3 1.3 .2 .1-.3 -1.4-.2 .3-.3 1.3 .3 .8-.3 -.4 0 0-.4 -1.9-.6 -3.7-1.7 -38.9-15.8 -3.4-1.6 .7 .5 -.4 .1 -1.5-.9 -.5 .3 -.9-.6 -.1 .1 1.7 1.4 -.3 .2 -1.4-1 -.3 .4zM254.9 171.7l0 .4 .8 1.1 0-.4zM254.2 171.3l0 .5 .6 1.1zM258.4 171.2l0 .2 .9 .7 -.5-.8zM253.1 171.1l.5 1 -.2-.7zM272.3 168.4l.4 .7 1.4 .8 -.4 .3 -1.5-1 0 .2 1.1 .9 .4-.1 2.1 1.1 .4-.1 37.6 15.6 4.4 1.6 .6 .5 1.8 .5 .2 .4 1.4 .1 0-.2 -1.3-.1 0-.3 1.7 .1 .7-.2 -.5-.1 .4-.2 -6.9-2.6 -40.9-17 .3 .3 -.5 .2 -1.4-1 -.4 .4zM270.9 168.4l0 .5 1 1 0-.3zM270.1 168.2l-.2 .4 .8 1 .1-.4zM273.6 167.6l-.2 .2 .9 .6zM268.2 167.6l.1 .5 .1-.3 .3 .9 -.1-.8zM287.2 165.7l1.4 1.1 0-.2 -1.3-1zM287.3 164.9l.4 .5 1.4 .9 -.3 .4 2.1 1.1 .3-.2 3.7 1.7 38.5 15.6 .4 .4 1.9 .5 .2 .4 1.3 .2 .1-.2 -.9-.1 -.3-.3 .1-.1 1.9 0 -.7-.3 .7-.1 -44.7-18.1 -3.1-1.5 .4 .2 -.4 .3 -1.5-1 -.5 .4zM286.1 164.9l-.2 .4 1.2 1.1 0-.3zM285.1 164.6l0 .3 .7 1zM284.3 164.2l.6 1.6 0-.5zM288.7 163.9l-.1 .4 .7 .5zM283.2 163.9l.5 1 -.1-.6z"/>
<path fill="#ff0900" stroke="#ff0900" d="M280.3 201.6l-.2 .7 .2-.5 .1 .3zM279.6 200.8l-.5 .6 -.2 .7 .7-.9zM278.9 200.8l-.7 .5 0 .4 .7-.5zM284.1 200.6l-.7 .7 -1.1-.2 -.1-.4 -.3 .4 1.8 .5zM278.2 200.4l-1.1 .3 0 .2 .7-.1zM295.1 197.4l-.4 .8 0 .6 .2-.5 .2 .5 .2-.5 .1 .4 .3-.8 -.1 .4 -.3 0zM293.9 197.2l-.6 .4 -.1 .3 .7-.3zM296.9 197.4l1.9 .5 .3-.7 -.4 .1 -.1 .4 -.7 0 -.1-.3 -.4 .2 -.2-.5zM293.2 196.8l-1 .5 .7-.1zM310.4 194.2l-.2 1 .1-.5 .1 .4 .3-.8 -.1 .4 -.3 0zM314.9 193.6l-.2 .6 .1 .2zM309.1 193.6l-.9 .8 .7-.5zM314.2 193.4l-.5 .3 -.1 .4 -.5 .1 -.3-.4 -.4 .1 -.1-.3 -.2 .2 .6 .1 .4 .4 .7 0zM308.2 193.2l-1 .5 .7-.1zM325.1 190.4l-.3 1 .3-.5 .1 .7 .2-1 -.2 .5zM324.1 190.1l-.7 .3 -.1 .4 .8-.5zM327.1 190.3l1.8 .5 .3-.7 -.5 .1 -.3 .4 -.8-.3 -.3-.4zM323.3 189.7l-1 .2 -.1 .3 1-.3zM340.8 187.2l-.2 .5 -.2-.6 -.1 1 .1-.5 .2 .3zM340.2 186.7l-.4 1.2 .4-.6zM339.1 186.4l-.8 .8 .8-.4zM344.3 186.1l-.6 .8 -.6 0 -.8-.6 -.2 .4 1.8 .5zM338.3 186.1l-1 .5 .8-.2zM227.1 179.8l1.2 .9 .5 0 -1.1-.8zM228.8 179.4l1 .9 .6 0zM225.8 178.9l1 1.4 .1-.2zM224.9 178.4l-.1 .4 .8 1.1 .1-.3zM226.3 178.3l.8 1 .1-.1 1.1 .6 .1-.1 -1-1.1 -.3 .5zM223.1 177.8l.3 .8 -.1-.7 -.1 .2zM227.7 177.4l-.1 .2 .6 .8zM242.2 176.2l1 .9 .6 0zM240.9 175.3l-.1 .3 1.1 1.1zM241.4 174.8l.7 .9 .1-.1 1 .6 .5-.3 1.5 .9 .2-.1 -1.3-.9 -.8 0 -.9-.7 -.2 .3zM239.9 174.8l0 .4 .8 1.1 0-.4zM238.1 174.3l.5 1 0-.4 .2 0 .3 .8 0-.6 -.4-.9 -.1 .6 -.3-.6 -.1 .4zM242.7 173.8l.2 .8 .4 .2zM257.2 172.7l1.1 .9 .5 0 -1.4-1zM258.8 172.3l1.6 .9 -1-.8zM256.4 171.2l.7 .9 .2-.2 .9 .7 .4-.2 -1-1 -.4 .5zM253.1 170.7l.5 1 0-.4 .2 0 .3 .8 -.4-1.4 -.1 .5 -.3-.6 -.1 .3zM257.8 170.3l-.1 .1 .6 .9zM272.3 169.1l1.1 .8 .5 0zM273.9 168.7l1 .9 .7 0zM271.1 168.2l-.2 .1 1.2 1.3zM272.6 167.8l-.2 .6 1 .7 .2-.3zM270.1 167.7l0 .4 .7 1zM268.4 166.9l-.1 .5 -.1-.2 0 .2 .4 .3 .1 .5 0-.5 .2 0 .3 1 -.1-1.1 -.3-.5 -.1 .5zM287.3 165.4l1.4 1.2 .2-.3zM288.9 165.2l1.4 .9 .3-.2 -1.4-1zM286.6 164.1l.6 .8 .2-.1 .9 .6 .4-.1 -1-1 -.4 .4zM285.1 164.1l0 .3 .7 1.2 0-.4zM283.2 163.6l.5 1 .1-.5 .4 .7 -.4-1.4 -.1 .7 -.3-.7 -.1 .4z"/>
<path fill="#ff0100" stroke="#ff0100" d="M280.1 201.9l.2-.5 .1 .4 .3-.5 .6 0 .1-.2 -.6-.2 -.4 .7 -.1-.7zM284.8 200.3l-.2 .6 .1 .3zM284.1 200.3l-.3 .3 -.4-.3 .2 .4 -.3 .2 -.2-.2 -.3 .1 -.6-.2 .1 .3 1.1 .3zM278.9 200.3l-.7 .6 0 .3 .7-.5zM278.3 199.9l-1.1 .4 0 .3 1-.3zM296.4 197.4l-.6 0 -.4 .9 .4-.6 .5 0zM299.1 197.1l0-.3 -.4 0 .1-.1 -.2 .5 -.4 .1 -.1-.2 -.8 0 -.1-.3 .1 .5 .5 0 .1 .3 .7 0 0-.3zM293.9 196.7l-.7 .9 .7-.5zM293.3 196.3l-.9 .4 -.2 .4 .9-.3zM310.2 194.6l.1-.3 .1 .4 .3-.5 .9-.3 -.7-.1 -.3 .4 -.2-.4zM310.3 194.2l.1-.1 .2 .2 -.2 .1zM309.7 193.3l-.5 .6 -.1 .7 .6-.8zM314.2 193.2l-.5 0 -.3 .6 -.3-.4 -.5 0 -.2 .4 .4-.1 .1 .4 .7-.2 0-.2zM309.1 193.2l-.8 .5 0 .4 .8-.7zM308.3 192.8l-1 .4 -.1 .2 1.1-.3zM326.6 190.3l-.7-.1 -.3 1 .2-.6zM324.7 189.7l-.5 1.2 .5-.7zM329.6 189.6l-.3 .6 .1 .2zM329.2 189.6l-.4 0 -.4 .6 -.2-.3 -.3 .2 -.1-.3 -.5 0 .3 .4 .8 .2 .3-.3 .5-.2zM324.1 189.6l-.8 .6 0 .2 .8-.5zM323.4 189.2l-1 .4 -.1 .2 1-.2zM341.6 186.7l-.7 0 -.3 .9 .3-.7 .7 0zM339.8 186.2l-.5 .6 -.1 .6zM344.2 186.1l-.1 .1 -.3-.3 -.2 .7 -.4-.3 -.3 .1 -.1-.2 -.4 .1 .7 .5 .6 0zM339.2 185.9l-.8 .7 0 .2zM338.4 185.6l-.8 .3 -.3 .4 .9-.2zM227.6 178.2l-.2 .2 1.2 1.2 .3-.3 -1.1-1.1zM224.9 177.9l0 .4 .8 1.1zM226.4 177.8l0 .3 -.5 .3 0 .5 1 1 .4-.2 -1.1-1.4 .1-.1 .8 .7 .1-.1zM223.3 177.3l-.2 .4 .3 .2 .2 .8zM227.9 176.8l-.2 .5 .6 1 .1-.2zM240.9 175.1l1 1.2 .4-.2 -1.1-1.3zM242.6 174.7l.1 .5 .6 .5 .6 .1 -1.1-1.2zM241.6 174.3l-.2 .4 .8 .6zM238.3 173.7l-.1 .5 -.1-.3 .1 .5 .1-.3 .3 .6zM242.9 173.3l-.2 .4 .7 1 .2-.1zM257.6 171.2l1.1 1.1 .4-.1 -1.2-1.1zM255.1 170.8l-.2 .4 .9 1.1zM256.6 170.7l-.7 .9 1.2 1.3 .2-.5 -1-1.2 .1-.1 .8 .7 .1-.2zM253.2 170.3l0 .5 .1-.4 .3 .7 .1-.5 .4 .8 0-.3 .2 0 .5 1.1 -.5-1.8 -.2 .7 -.3-.8 -.1 .3 -.3-.4 -.1 .2zM257.9 169.7l-.1 .5 .4 .6 .5 .3zM271.1 167.7l0 .4 1 1.1 .3-.3 -1.1-1.2zM272.7 167.6l0 .2 1 1 .4-.2 -1.2-1.2zM270.1 167.2l0 .4 .7 1.1zM271.6 167.1l0 .5 .7 .7 -.1-.5zM269.3 166.8l0 .5 .6 1.1zM273.1 166.1l-.3 .5 .6 1 .4 0zM287.8 163.8l-.1 .4 1 .9 .4 0zM285.2 163.7l-.1 .2 .7 1.2zM286.7 163.6l-.6 .8 1.1 1.2 .2-.3 -1-1.2 .2-.2 .7 .7 .1-.2zM283.4 162.9l-.1 .5 -.1-.2 .1 .5 .1-.4 .3 .6zM288.1 162.6l-.2 .5 .7 .8 .1-.1z"/>
<path fill="#f80000" stroke="#f80000" d="M283.4 200.6l-.7 0 -.1-.5 -1.2 .8 -.1-.2 -.2 .1 -.2-.4 -.5 1 .4-.6 .5 0 .4 .4 .5-.8 .6 .3 .3-.1 .1 .2zM278.9 199.8l-.7 1 .7-.6zM283.6 199.6l-.2 .6 .4 .2 .3-.5 -.5 .3zM297.1 196.9l-.9 .4 -.3-.5 -.5 1.1 .4-.6 .3-.1 .1 .2 .2-.1 .3 .3zM294.7 196.3l-.6 1 0 .4zM294.1 196.3l-.8 .6 0 .3zM299.2 196.3l-.3 .3 -.1-.3 -.1 .1 -.1-.5 0 .8 -.4 .4 -.6-.5 -.3 .3 .4-.1 .1 .3 .3-.2 .3 .3 0-.3 .3-.2 .2 .1zM309.7 192.7l-.6 1.4 .6-.9zM309.1 192.7l-.8 .9 .8-.5zM314.2 192.8l-.5 .3 -.1-.5 0 .6 -.3 .2 -.2-.2 -.3 .1 -.1-.4 -1.1 .9 -.7-.5 -.3 .8 .3-.4 .9 .2 .8-.6 .5 0 .3 .4 0-.4 .3-.2 .4 .1zM327.2 189.8l-.6 .4 -.2-.3 -.2 .2 -.1-.4 -.5 1.1 .3-.7 .9 .3zM324.1 189.2l-.8 .9 .8-.7zM329.2 189.2l-.4 .1 -.1-.5 0 .8 -.3 .2 -.5 0 -.2-.5 -.3 .1 0 .4 .4-.1 .1 .2 .3-.1 .2 .3 .4-.7 .3 .2 -.2 .1 .3-.3zM339.8 185.6l-.6 1 0 .3 .6-.8zM339.2 185.6l-.8 .6 0 .2 .8-.6zM344.3 185.6l-.2 .2 -.2-.2 -.1 .2 -.1-.5 0 .6 -.4 .4 -.7-.5 -.8 .8 -.5 0 -.2-.5 -.4 .6 -.1-.4 -.3 .8 .1-.3 .2 .4 .6-.8 .1 .3 .3-.1 .2 .2 .5-.6 .5-.1 .1 .2 .3-.1 .4 .2 0-.3 .2-.3 .3 .3zM340.4 186.7l.2-.1 .1 .2 -.1 .1zM226.6 177.2l-.2 .5 .8 1 .1-.4zM225.7 177.1l.5 1.1 .1-.3zM223.3 176.9l-.2 .4 .1 .3 .1-.4 .3 .6zM227.2 176.3l0 .5 .4 .6zM240.1 173.9l-.2 .4 .9 1.1zM241.7 173.7l-.1 .5 .7 1 .1-.5zM240.8 173.4l-.1 .3 .6 1.1 0-.5zM239.2 173.4l0 .5 .6 1.3 0-.5zM242.3 172.7l-.1 .5 .4 .7 .1-.3zM256.7 170.1l-.1 .5 .8 .8 0-.3zM255.8 169.9l0 .4 .5 .8 .1-.3zM257.3 169.2l0 .6 .4 .5zM271.7 166.4l0 .7 .7 .8 0-.3zM270.8 166.3l.4 1 .2 .1zM272.4 165.6l-.1 .5 .4 .7 .1-.4zM285.2 163.2l.7 1.7 0-.5zM286.8 162.8l-.1 .6 .7 .9 .2-.4zM284.4 162.7l-.1 .5 .6 1.2zM287.4 161.9l-.1 .5 .4 .7 .1-.4z"/>
<path fill="#f00000" stroke="#f00000" d="M280.9 200.2l-.2 .1 -.3 .8zM282.7 200.2l0 .2 .6-.1 0-.2 -.2 .2 -.2-.2zM282.6 199.8l-1 .8 -.4-.2 -.1 .3 .2-.1 .3 .2zM284.2 199.6l-.3 .2 -.1-.2 -.2 .5 .2 0zM297.6 196.2l-.7 .6 -.1-.2 -.4 .5 -.1-.3 -.2 .3 .5 .1 1-.8zM299.2 195.9l-.8 .7 -.1-.2 -.1 .3 -.3-.3 -.2 .3 .4 0 .1 .2 .6-.7 .1 .2zM294.1 195.7l-.8 1.1 .8-.6zM310.9 193.1l-.2 .1 -.1 .6zM312.8 193.1l.4 .2 .2-.1 0-.3zM312.7 192.7l-.6 .4 -.2-.2 .2 .2 -.5 .3 -.2-.2 -.2 .4 .2-.2 .2 .3 .5-.3zM314.2 192.3l-.5 .6 .5-.2zM309.2 192.1l-.9 1.2 .8-.7zM327.7 189.1l-.5 .5 -.3-.2 -.2 .4 -.4-.1 -.1 .2 .2-.1 .3 .3zM325.2 189.1l-.4 1.2 .3-.6 .2 0 -.1 .6 .2-.9 -.1 .3zM329.3 188.7l-.2 .4 -.2-.3 -.3 .6 -.2-.1 -.2 .3 -.3-.3 0 .4 .5 0 .5-.6 .3 0zM324.2 188.6l-.8 .7 0 .4 .8-.8zM341.1 185.8l-.4 .5 -.1-.4 -.3 .8 .3-.5 0 .6zM343.6 185.7l-.3 .2 -.1-.2 -.3 .4 .3-.2 .1 .3zM342.7 185.4l-.6 .7 -.2-.3 -.3 .5 -.3-.2 0 .3 .8-.1zM344.7 185.3l-.4 .6 .1 .3zM344.3 185.2l-.5 .5 .1-.3 .2 .3zM339.2 185.1l-.8 1 .8-.7zM225.1 176.9l-.2 .5 .9 1.4 0-.5zM226.7 176.7l-.1 .4 .8 1.2 .4-.2 -.6-1.2zM225.8 176.7l-.1 .2 .6 .9zM223.3 176.6l-.1 .3 -.1-.2 .1 .5 .1-.4 .1 .3zM227.3 175.8l-.1 .4 .5 .9zM240.1 173.4l0 .4 .7 1.3zM239.3 173.2l-.1 .1 .6 1.3zM242.1 172.9l-.4 .3 0 .4 .9 1 .2-.2 -.9-1.3zM242.3 172.2l.4 1.2 .1-.1zM255.2 169.8l-.1 .5 .7 1.3 .1-.4zM255.8 169.4l0 .4 .6 .9zM253.8 169.3l.4 1.5 0-.6zM257.1 169.2l.1 .2 -.4 .2 -.1 .3 .9 1.2 .3-.2 -.6-.8zM257.4 168.7l-.1 .4 .5 .7zM270.2 166.2l-.1 .5 .8 1.5 0-.6zM271.9 165.9l-.1 .5 .8 1.3 .3-.4 -.7-1.4zM270.9 165.9l-.1 .3 .6 .9zM268.8 165.7l0 .6 .4 .9zM285.3 162.6l-.1 .5 .7 1.2zM285.9 162.3l.7 1.4 0-.4zM283.6 162.2l-.2 .2 .3 .8 .1-.5 .4 .9 -.3-1.4 -.1 .5zM287.1 161.7l.1 .5 -.4 .5 .9 1.2 .1-.2 .3 .1 -1-1.5zM287.6 161.4l-.2 .4 .5 .8z"/>
<path fill="#e80000" stroke="#e80000" d="M283.3 199.7l-.2 .2 -.2-.6 -.3 .4 -.2-.4 -.5 .8 -.1-.7 -.4 .9 -.2-.6 -.3 .4 -.1-.4 -.4 1.1 .4-.7 .3 .3 .5 0 .8-.7 .7 .5zM284.4 199.1l-.1 .5 -.1-.5 -.5 .3 .2 .3 .3-.3 .1 .2 -.1 .6zM298.3 196.1l-.2 .2 -.2-.5 -.2 .3 -.1-.4 -.5 .6 -.2-.5 -.5 .9 -.1-.5 -.2 .2 -.4-.5 -.1 .7 -.3 0 .1 .7 .5-.9 .2 .5 .2-.2 .1 .2 .4-.5 .1 .3 .7-.6 .1 .5 .2-.3 .3 .3zM299.8 195.6l-.2 .7 .1 .3zM294.7 195.6l-.6 1 0 .3 .6-1zM298.9 195.3l-.1 .3 -.1-.2 .1 .3 -.2 0 .1 .5 .5-.4zM313.4 192.7l-.1-.1 -.1 .2 -.3-.6 -.2 .4 -.1-.5 -.5 .6 -.2-.4 -.5 .8 -.1-.5 -.2 .3 -.3-.5 -.2 .7 -.2-.4 -.2 .9 .2-.7 .2 .5 .3-.5 .3 .4 .2-.2 .2 .2 1-.7 .2 .3 .5 0zM314.3 191.9l-.6 .5 0 .3 .6-.6 0 .8 .3-.8zM328.4 188.9l-.2 .3 -.1-.6 -.3 .3 -.2-.3 -.5 .7 0-.6 -.5 .9 -.3-.7 -.2 .4 -.3-.5 -.2 .6 -.2-.3 .2 1 .3-.8 .3 .4 .5 0 1-.8 .1 .4 .3-.1 .1 .2zM324.8 188.3l-.6 1.5 .6-1zM329.3 188.3l-.1 .1 -.1-.2 -.3 .7 .1-.2 .2 .2zM343.6 185.4l-.2-.1 -.2 .3 -.1-.5 -.3 .2 -.1-.4 -.5 .7 -.1-.5 -.5 .8 -.2-.6 -.2 .4 -.4-.5 0 .4 -.2 0 -.3 .7 .3-.5 .1 .4 .4-.5 .1 .4 .2-.2 .2 .3 .3-.5 .2 .2 .6-.6 .2 .5 .3-.2 .1 .2zM344.1 184.7l-.3 .7 .6-.6 0 .8 .2-.7 -.2-.2 -.2 .4zM339.8 184.7l-.5 1.2 .5-.7zM224.2 176.2l0 .5 .6 1.2zM225.8 176.1l0 .5 .6 1zM225.3 176.1l-.1 .2 .2 .4 -.3 .1 1 1.5 -.5-1zM227.4 175.4l-.1 .3 .5 1.1 .1-.1zM226.9 175.4l-.2 .4 .4 .6zM240.3 172.6l.1 .5 -.3 .2 .8 1.6 .3-.2 -.6-1 .1-.5zM238.8 172.6l-.1 .2 .4 .9zM240.9 172.4l-.1 .5 .6 1zM238.1 172.4l.1 1 0-.5 .2 0zM242.6 171.8l-.2 .5 .5 .9zM241.9 171.8l-.1 .5 .3 .5 .1-.5zM254.3 169.1l.6 2 0-.7zM255.3 168.9l.1 .5 -.2 .3 1 1.5 -.6-1.1 .1-.4zM255.9 168.8l0 .6 .7 .9zM253.2 168.8l.1 1.3 .1-.8 .3 1 -.1-1zM257.6 168.3l-.2 .3 .7 1zM256.9 168.2l-.1 .5 .4 .6zM269.4 165.4l-.1 .5 .6 1.3zM270.9 165.3l0 .5 .7 1.1 0-.5zM270.4 165.3l.2 .6 -.3 .3 .9 1.4 -.5-1zM268.2 165.2l.1 1 .1-.5 .2 .2 0-.2zM272.6 164.7l-.2 .2 .5 1.2 .2-.2zM272.1 164.7l-.2 .5 .3 .5 .1-.5zM285.4 161.8l.2 .5 -.3 .1 .8 1.7 .2-.2zM284.4 161.8l0 .5 .7 1.4zM286.1 161.7l-.2 .5 .7 1 .1-.1zM283.3 161.7l0 1 .3-.6 -.3 0zM287.7 161.1l-.1 .2 .5 1.1zM287.1 161.1l0 .2 -.3 0 .5 .9z"/>
<path fill="#e00000" stroke="#e00000" d="M281.7 199.6l-.4 .3 .1 .3zM283.2 199.3l-.1 .5 .2-.2zM282.4 198.8l-.5 1.1 .5-.7zM283.9 198.6l-.2 .7 .5-.4 .1 .5 0-.8 -.2 .2zM296.2 195.8l-.3 .4 -.2-.6 -.5 1.2 .5-1 .4 .5zM297.4 195.3l-.5 1 .4-.4zM294.7 195.1l-.5 1.1 .5-.8zM299.4 194.6l-.3 1 .2 0 0 .3 0-.2 .3 0 0 .5 .2-1.4 -.2 .8zM313.3 192.1l-.2 .3 .1 .3zM310.8 192.1l-.2 .6 -.2-.4 -.2 .9 .2-.6 .2 .3 .1-.5 .2-.1zM312.6 191.6l-.5 1 .3-.4zM314.8 191.2l-.1 .6 -.3 0 0-.5 -.2 .3 -.1-.2 -.3 .8 .5-.4 .4 .3 0 .5 .2-.7zM325.9 188.4l-.3 .7 -.2-.3 .2 .5zM327.9 188.3l-.2 .4 .1 .1zM327.6 188.1l-.4 .6 -.1-.4 -.7 .9 .2 .2 .5-.8 0 .6 .3-.5zM329.9 187.6l-.2 .8 -.1-.6 -.4 .4 -.1-.3 .1 .4 .2 0 -.1 .8 .3-.7 .1 .7zM340.6 185.2l-.3 .9 .1-.5 .3 0zM342.6 184.6l-.5 1 .5-.5zM341.8 184.4l.1 .7 -.3 .7 .5-1.1 -.2 .2zM344.6 183.9l-.4 .8 -.1-.3 -.2 .4 .2-.2 .1 .3 .2-.3 0 .6 .2-.4 .2 .6 .1-1.3 -.2 .7zM224.3 175.7l-.1 .4 .6 1.3zM225.9 175.4l-.1 .5 .6 1.2 .2-.2zM239.3 172.1l0 .5 .6 1.3zM240.3 171.9l-.1 .7 .1-.2 .4 .7zM240.9 171.8l0 .5 .7 1.4 0-.6zM241.7 171.4l.1 .8 .1-.5 .3 .5 -.3-.8 -.1 .3zM255.4 168.4l-.1 .4 .4 .8 .1-.3zM254.4 168.4l-.1 .5 .6 1.4zM253.2 168.4l.1 .7 .1-.2 .2 .3zM256.1 168.3l-.2 .4 .7 1.2 .1-.1zM256.7 167.9l.1 .5 0-.2 .3 0 .2 .7 -.2-1.1 -.3 .4zM268.2 164.8l.1 .6 .1-.1 .2 .3zM271.1 164.7l-.2 .5 .8 1.1zM271.8 164.3l-.1 .3 .2 .5 .2-.5 .2 .5 -.2-.8 -.2 .3zM283.3 161.3l.1 .8 .2-.3 .1 .4zM285.6 161.2l-.3 .5 .5 .6zM286.2 161.1l-.1 .5 .6 1.3 0-.6zM286.8 160.7l.1 .6 .2-.4 .2 .5 -.1-.7 -.1 .2z"/>
<path fill="#d80000" stroke="#d80000" d="M283.2 198.8l-.3 .4 .2 .2zM280.7 198.7l-.1 .6 -.3 0 0-.5 -.1 .8 .1-.3 .1 .8zM282.3 198.3l0 .5 -.2 .3 -.2-.4 -.6 1.1 .5-.6 .1 .4 .5-.9zM281.8 199.1l.1-.2 .2 .3 -.2 .1zM284.7 197.9l-.3 .9 .2 .3zM297.8 195.2l-.2 .4 .1 .1zM296.9 195.2l-.1 .4 -.2 0 -.2 .6zM295.4 195.2l-.2 1.2 .4-.7zM299.1 194.4l-.3 .9 .1-.4 .2 .4 .2-.6 -.2 .4 -.2-.2zM310.2 191.4l-.4 .8 0 .5 .3-.5 .1 .6 .2-.6 .2 .4 .2-.7 -.2 .4 -.2-.7 -.1 .3zM310.1 192.1l.1-.2 .1 .3 -.1 .1zM312.4 191.2l-.3 1.1 .2-.2zM314.3 191.1l-.1 .3 -.1-.3 -.3 .7zM328.3 188.1l-.2 .3 .1 .3 .2-.4zM325.9 188.1l-.3 .6 -.2-.4 -.1 .9 .1-.5 .2 .2zM327.6 187.4l-.4 1.2 .4-.7zM329.2 187.3l-.3 .9 .2-.4 .1 .3 .2-.5 -.2 .3zM341.9 184.8l-.2 .1 -.1 .5zM341.3 184.8l-.2 .4 .1 .1zM340.6 184.4l-.3 1.3 .1-.5 .3 0zM344.2 183.7l-.3 .9 .5-.4zM226.1 175.1l-.2 .2 .7 1.5zM223.1 175.2l.1 1 .1-.5 .3 .7 .1-.7 .4 1 -.4-1.5 -.1 .6 -.3-.7 -.1 .5zM227.1 174.4l-.3 .5 -.1-.2 -.1 .2 .2 .5 .1-.5 .3 .7 .1-.3zM238.4 171.6l0 .5 -.2 0 0-.4 -.1 .2 .3 .4 .2 .6zM241.1 171.4l0 .5 .6 1.2zM240.4 171.4l-.1 .4 .4 .8zM242.1 170.8l0 .4 -.3 .1 -.1-.2 .1 .5 .1-.3 .4 .8zM253.2 168.1l.5 1.2 .1-.7 .4 1 -.4-1.5 -.1 .6 -.3-.8 -.1 .5zM257.2 167.2l-.1 .5 .3 .6zM268.2 164.4l.5 1.3 .1-.8 .4 1 -.3-1.5 -.2 .7 -.3-.8 -.1 .5zM271.2 164.2l-.1 .4 .7 1.3zM270.6 164.2l-.2 .5 .4 .7zM272.2 163.6l0 .5 -.3 .1 -.1-.3 .1 .5 .2-.2 .3 .6zM284.6 161.1l-.2 .1 .5 1.1zM283.6 160.8l0 .4 -.3 0 0-.3 .1 .5 .3 .2 .1 .8z"/>
<path fill="#d00000" stroke="#d00000" d="M281.1 198.6l-.3 .5 .1 .3 .3-.3zM281.9 198.2l-.6 1.2 .6-.8 .2 .3 .1-.1zM283.2 198.1l-.3 .5 -.1-.7 -.2 1.2 .2-.4 .1 .4zM284.3 197.8l-.2 .8 .1-.3 .2 .4 .2-.6 -.3 .3zM296.6 195.2l-.3 .7 .1-.3 .3 0zM298.2 194.4l-.3 .5 -.1-.3 -.2 .8 .2-.3 .3 .5 .1-.2zM311.2 191.3l-.3 .5 .2 .4zM312.8 190.9l-.2 .5 .1 .4 .2-.4 .2 .5 .2-.8 -.2 .3zM312.1 190.9l-.7 1.4 .9-.7zM314.4 190.7l-.1 .2 .3 .5 .1-.5 -.1 .3zM325.8 187.7l-.1 .2 -.1-.2 -.2 .5 .2-.3 .1 .3zM326.3 187.6l-.2 1.1 .2-.4 .1 .4 .4-.4 -.1-.2 -.3 .3zM328.3 187.3l-.2 .5 -.2-.4 -.2 .9 .2-.4 .2 .4zM329.8 186.8l-.1 .8 -.4 0 .1-.5 -.2 .7 .1-.2 .4 .3zM343.3 183.7l-.2 .5 -.2-.4 -.2 .5 .1 .4 .3-.5 .1 .6 .2-.4zM341.9 183.6l-.1 .5 .1 .6 .2-.3 .1 .4 .2-.6 -.2 .4 -.1-.2 .1-.7 -.1 .2zM341.8 183.9l.1-.1 .2 .3 -.2 .1zM344.6 183.4l-.3 .5 .3-.1zM226.1 174.8l.6 1.8 .2 .1 -.5-1.5zM223.8 174.8l-.1 .3 .4 1.1zM225.4 174.7l-.1 .1 .4 .9zM224.9 174.6l-.1 .7 .1-.2 .3 .5zM239.4 171.3l-.1 .4 .6 1.6zM241.1 171.2l.6 1.7 .4 .2 -.8-1.8zM240.1 170.9l-.2 .5 .3 .7zM241.8 170.7l-.1 .2 .2 .3zM242.2 170.4l-.1 .3 .3 1.1zM256.2 167.6l-.1 .1 .6 1.5 .4 .2zM269.6 164.2l-.2 .4 .8 1.5zM271.2 164.1l.6 1.7 .4 0 -.8-1.6zM270.1 163.7l-.2 .9 .2-.3 .2 .5zM272.3 163.3l-.1 .1 .5 1.4zM286.3 160.4l-.1 .2 .5 1.1 .5 .6zM285.2 160.2l-.1 .5 .2 .6 .1-.5zM287.3 160.1l.3 1 .1-.2z"/>
<path fill="#c80000" stroke="#c80000" d="M280.3 198.4l-.1 .7 .1-.4 .1 .2zM281.6 198.1l-.4 .5 -.1-.4 -.3 .7 .3-.5 .2 .3 0 .5zM280.7 198.1l-.1 .2 -.2-.2 .2 .3zM282.7 197.8l-.3 .5 -.1-.6 -.2 .5 -.2-.4 .2 .8 .2-.4 .3 .4zM297.3 194.1l-.4 .3 -.1-.5 -.5 1.7 .4-1 .1 .2 .1-.2 .2 .6 .2-.4zM296.7 194.4l.1-.1 .1 .3 -.1 .1zM299.7 193.6l-.1 .5 -.2-.3 -.1 .3 .3 0 0 .6zM313.2 190.6l-.3 .5 .2 .2zM312.8 190.7l-.2 .5 -.2-.6 -.2 .3 -.1-.2 .1 .6 .2-.2 .2 .2zM311.8 190.3l-.5 1.1 .1 .5zM326.2 187.4l-.3 .5 .2 .3zM325.8 187.3l-.1 .3 -.1-.3 -.3 1 .1-.4 .2 .4 -.2-.6 .2-.1 .1 .2zM328.3 186.9l-.2 .5 -.2-.5 -.2 .9 .2-.5 .2 .4zM327.4 186.9l-.1 .4 -.2 0 .1 .6 .2-.3zM343.3 183.3l-.2 .5 -.2-.2 -.2 .6 .2-.5 .2 .4zM341.9 183.2l-.5 1 -.1-.3 -.2 .5 .2-.3 .1 .7zM344.9 182.8l-.2 .5 -.1-.2 -.3 .7 .1-.2 .3 .3zM344.4 183.4l.2-.1 .1 .3 -.1 .1zM224.7 174.1l0 .6 -.4 .1 .8 1.9 .2 0 -.6-1.4 .2-.9 .3 .4zM238.4 170.8l-.1 .4 -.1-.4 .1 1 .1-.7 .2 .2zM239.8 170.4l-.4 .8 .7 2 .2-.1 -.5-1.9 .3-.4 .2 .9 .1-.6 .4 .8 -.4-1.3 -.1 .6 -.2-.6 0 .2 -.3 0zM254.8 166.9l0 .5 -.4 .2 .7 1.6 .3 .4 -.5-1.2 0-1.1 .3 0 .1 .5 0-.2 .3 0 .3 .8 0-.5 -.3-1 -.3 .7 -.2-.7 -.2 .3zM269.8 163.3l0 .6 -.2 .2 .6 1.8 .2 0 -.6-1.3 .3-1 .3 .7 -.2-.9 -.3 .2zM269.7 164.1l.1-.2 .1 .3 -.1 .1zM271.9 163.1l-.1 .2 .3 .8zM284.9 160.1l0 .2 -.3 .1 .8 1.9 -.5-1.4zM283.6 160.1l-.2 .3 -.1-.3 .1 .7 .2-.5 .1 .3z"/>
<path fill="#c00000" stroke="#c00000" d="M280.7 197.6l-.4 .5 .1 .6zM280.3 198.1l.1-.2 .2 .3 -.2 .1zM283.1 197.3l-.3 .5 -.1-.2 -.3 .6 .3-.5 .2 .4zM282.3 197.3l-.1 .4 -.3 0 .2 .4zM281.8 196.9l-.6 1.3 -.1-.3 -.3 .7 .3-.5 .1 .3 .4-.5zM284.4 196.6l-.2 1 .1-.3 .1 .6 .3-.8zM297.1 193.8l-.3 .8 .1-.4 .3 0zM298.2 193.8l-.3 .5 -.1-.6 -.2 1 .2-.5 .1 .4zM299.6 192.9l-.4 1.4 .1-.4 .1 .4zM299.3 193.8l.1-.1 .2 .2 -.2 .2zM311.7 190.4l-.4 .7 -.1-.3 -.3 .6 .3-.5 .1 .4zM313.2 190.2l-.3 .5 -.1-.3 -.2 .7 .2-.5 .1 .3zM312.4 190.1l-.3 .5 .1 .2zM314.6 189.4l-.3 .8 .3 0 0 .5zM327.4 186.6l-.1 .2 -.1-.1 -.3 .7 .2-.2 .1 .1zM326.9 186.2l-.1 .7 -.2 0 -.3 .5 -.1-.2 -.3 .6 .3-.5 .2 .4 .5-1zM329.7 185.8l-.3 .6 .2 .8 .2-.9zM341.8 183.3l-.4 .6 -.1-.6 -.2 1zM343.3 183.1l-.2 .5 -.2-.4 -.2 .7 .2-.5 .2 .3zM342.6 182.9l-.3 .5 -.1-.3 .1 .6zM344.7 182.2l-.4 1.4 .3-.7 .1 .3zM223.1 173.9l.1 .8 .1-.4 .3 .8 -.2-1 -.2 .2zM224.7 173.7l.1 .5 .1-.1 .4 .6 -.2-.9 -.2 .3zM225.6 173.6l-.2 .5 .5 1zM226.9 172.9l-.2 .8 .2 .7 .2-.5 .2 .5zM238.4 170.4l-.1 .4 -.1-.4 .1 .7 .1-.4 .2 .2zM240.6 170.1l-.2 .3 .5 1.3zM239.8 170.1l.1 .7 .3-.4zM241.9 169.3l-.1 .8 .3 .5 .1-.5zM253.4 166.8l-.1 .4 -.1-.4 .1 .8 .1-.5 .2 .3zM254.8 166.6l.1 .5 .2-.3 .1 .3 -.1-.5 -.2 .2zM256.9 165.8l-.1 .8 .3 .7 .1-.5 .2 .3zM269.9 162.9l-.1 .3 .1 .2 .4 0 .1 .8 -.2-1.1 -.1 .3zM270.7 162.8l-.1 .5 .3 1zM272.1 162.2l-.2 .7 .3 .4 .1-.4zM285.8 160.1l.3 1 0-.8zM283.9 160.1l.4 1.1 -.1-.9z"/>
<path fill="#b80000" stroke="#b80000" d="M280.4 197.3l-.1 .6 0-.2 .3 0zM281.1 197.1l-.3 1.2 .8-.9 -.2-.1 -.2 .6zM283.1 196.9l-.3 .7 -.1-.7 -.3 1 .3-.5 .1 .3zM282.3 196.8l-.1 .3 -.1-.3 -.3 1 .1-.2 .2 .1zM297.7 193.3l-.1 .4 -.2-.4 -.2 .5 -.1-.4 -.2 .4 .2-.1 .1 .4 .1-.3 .3 .6zM297.3 193.7l.1-.1 .2 .2 -.2 .1zM296.9 192.8l-.3 1.3 -.2-.4 -.2 .6 -.1-.5 -.3 1 .3-.6 .2 .4 .4-.7zM311.7 190.2l-.4 .5 -.2-.5 -.2 1zM312.8 189.6l-.2 1.2 .6-.7 0-.3 -.1 .4 -.3 0zM312.2 189.6l-.3 1.1 .5-.8zM326.6 186.6l-.3 .6 -.1-.6 -.3 1 .3-.5 .1 .2 .1-.4 .3 0zM328.2 186.2l-.3 .6 -.1-.6 -.2 1 .2-.5 .3 .2zM325.6 186.2l-.2 .4 -.1-.4 -.2 .7 .1-.3 .2 0 -.1 1zM327.2 186.1l-.3 1 .2-.4 .2 0zM342.3 182.4l-.2 1 .1-.5 .1 .4 .3-.5 .1 .9 .2-.6 .2 .3 .2-.8 -.2 .6 -.3-.6 -.1 .3 -.1-.3 -.3 .5zM223.2 173.6l-.1 .2 .2 .4zM225.6 173.1l.3 1.7 .4 0 -.4-1.4zM225.1 173.1l0 .6 -.3 0 0-.4 -.1 .3 .2 .3 .2-.2 .2 .9zM238.4 169.7l0 .6 -.2 0 .1 .4 0-.3 .3 0 .1 .8zM240.1 169.6l-.3 .3 .4 .3 .1 .6zM240.7 169.4l-.1 .5 .3 1.2 .4 .1zM253.6 166.2l-.2 .5 -.2 0 .1 .4 0-.3 .3 0 .1 .8zM255.2 165.9l-.1 .5 -.3-.3 .1 .6 .2-.3 .3 .9zM255.7 165.8l-.1 .5 .3 1.1 .5 .3 -.3-1.4zM268.6 162.6l0 .6 -.3 0 .1 .6 .2-.6 .2 .7zM270.8 162.3l-.1 .4 .4 1.4 .3 0zM270.2 162.3l-.1 .5 -.2-.2 .2 .7 .1-.4 .2 .7zM286.1 160.1l.1 .3 .2 0 -.1-.3z"/>
<path fill="#b00000" stroke="#b00000" d="M280.4 196.6l-.2 1.5 .2-.9 .2 .4zM298.1 192.9l-.3 .7 .1 .2zM297.4 192.8l-.1 .3 -.1-.3 -.1 .4 .1 .5zM297.1 193.2l.1-.1 .1 .2 -.1 .1zM326.2 186.1l-.1 .5 -.2-.5 -.2 1.1 .2-.8 .2 .4zM341.6 182.6l-.3 .6 .1 .2zM342.6 182.1l-.2 .2 -.1-.2 -.1 .3 .1 .5zM342.2 182.4l.1-.1 .1 .3 -.1 .1zM223.9 172.9l-.1 .5 .5 1.3zM239.8 169.3l.1 .5 0-.2 .3 0 .2 .7 -.2-1.1 -.3 .4zM254.9 165.7l-.1 .2 .3 .4zM269.1 162.2l-.2 .5 .5 1.5z"/>
<path fill="#a80000" stroke="#a80000" d="M280.8 196.4l-.1 .3 .1-.1 .1 .3zM282.4 196.1l-.2 .8 .1-.5 .3 0 -.2 .8 .3-.9zM297.4 192.4l-.1 .3 -.1-.3 -.1 .4 .1 .5 -.1-.5 .1-.1 .1 .2zM311.4 189.4l-.2 .7 .1 .2zM327.6 185.3l-.2 .3 -.1-.3 -.1 .4 .1 .5 .3-.6 .1 .5 .1-.5zM327.2 185.7l.1-.1 .1 .2 -.1 .1zM340.7 181.9l.1 .7 .1-.5 -.1 .2zM223.9 172.7l.4 1.9 .3 .1zM239.1 169.1l-.2 .2 .4 1.3 .4 .5zM253.3 165.7l-.1 .2 .2 .4zM254.1 165.4l-.2 .3 .5 1.7 .3 0zM269.1 161.9l.6 2 -.3-1.5z"/>
<path fill="#a00000" stroke="#a00000" d="M280.7 196.4l.1-.1 .1 .3 -.1 .1zM282.2 195.3l-.3 1.5 .2-.5 .1 .3 -.1-.7 .1-.1 .1 .4 .1-.3 .2 .3 0-.8 -.3 .5zM295.8 192.4l-.1 .5 .1-.2 .1 .6 .2-.5zM297.4 192.1l.2 .8 .1-.6zM311.1 188.7l-.2 .6 -.1-.4 .1 1zM313.1 188.6l-.3 .7 .1 .3zM312.7 188.1l-.3 .6 .2 .7zM312.4 188.8l.2-.1 .1 .2 -.1 .2zM325.9 185.3l-.1 .5 .1-.2 .2 .6zM327.3 184.7l0 1.1 -.1-.5 .5 0 0-.4 -.3 .3zM342.8 181.3l-.2 .3 .1 .7zM225.2 171.7l0 .5 -.3 .2 -.1-.1 .1 .4 0-.3 .3 0 .2 1.3zM238.6 168.6l-.2 .2 .4 1.3zM239.9 168.4l-.1 .3 .3 .6zM255.3 164.4l0 .5 -.2 .3 -.2-.4 .2 .8 0-.4 .2 0 .3 1zM270.3 160.9l.3 1.8 .1-.4z"/>
<path fill="#980000" stroke="#980000" d="M280.9 195.4l-.2 .8 .1-.3 .1 .2zM282.9 195.3l-.2 .9 .1 .2zM295.8 191.7l0 .2 -.2 0 .1 .5 -.3 0 .2 .8 .1-.8 .2 0zM310.9 188.1l-.2 1.2 .1-.5 .1 .4zM326.6 185.1l-.4 .7 .1 .3zM328.1 184.6l-.3 .8 .1 .3 .3-.8zM325.9 184.6l-.1 .2 -.1-.1 .1 .5 -.2 0 .1 .7 .1-.6 .3 0zM327.7 184.3l-.3 .8 .3-.3zM225.3 171.3l-.1 .3 .4 1.3 .2 .2zM240.3 167.7l-.1 .2 .6 1.7zM253.3 164.4l.1 1.5 0-.8 .3 0zM255.3 164.2l.4 1.5 .2 .2 -.3-1.5zM268.3 160.9l.1 1 0-.5 .3 0 .2 1.2 -.2-1.5 -.3 .2zM270.1 160.8l-.2 .4 .3 .5zM270.4 160.6l-.1 .2 .4 1.4 .2 .1 -.2-1.5z"/>
<path fill="#900000" stroke="#900000" d="M280.8 195.1l-.1 .2 -.1-.1 .1 .5 -.1 .1 -.2-.2 -.1 .7 .1-.5 .2 .5 .3-1zM295.8 191.4l.4 1.5 .2-1.1 -.1-.2 -.2 .7zM297.9 191.3l-.2 .9 .1 .2 .3-.7zM325.6 184.8l-.2 .8 0-.4 .3 0zM325.9 184.3l-.2 .3 .1 .1 .1-.3 .2 .5zM341.6 180.8l-.4 .8 -.1-.3 .2 .9zM223.2 171.4l.1 .9 0-.5 .3 0 .2 1.3 -.2-1.7 -.3 .4zM224.9 171.2l-.1 .2 .3 .8zM253.6 164.3l-.2 .4 .3 0 .2 .9z"/>
<path fill="#880000" stroke="#880000" d="M281.3 194.9l-.4 .3 .2 .6zM282.9 194.6l-.3 .6 .1 .5zM296.3 191.4l-.2 .3 -.2-.3 .2 .8zM311.4 187.7l-.3 .4 .1 .5zM312.9 187.4l-.1 .3 -.1-.3 -.1 .2 .2 .1 0 .9 .3-.9zM326.4 184.2l-.2 .2 0 .7zM341.4 180.7l-.2 .2 0 .5zM343.1 180.3l-.3 .5 .1 .5zM238.8 167.8l-.1 .4 .2 1 .2-.5zM253.8 164.3l.1 1.1 .2-.1 .1 .3zM268.8 160.7l.3 1.1 .2 .1z"/>
<path fill="#800000" stroke="#800000" d="M280.7 194.8l.2 .3 .3-.2zM296.3 191.3l-.4-.1 -.2 .4 .1-.3 .3 .3zM297.9 190.9l-.2 0 0 .5zM310.7 187.9l.6-.2 -.5 0zM325.8 184.3l.1-.2 .3 .2 .1-.1 -.4-.1zM341.4 180.6l-.3-.2 -.3 .4zM343.1 180.2l-.3 .1 0 .4zM225.1 170.9l.1 .5 .1-.2zM240.3 167.3l-.1 .4 .2 0zM270.2 160.2l.1 .5 .1-.3 .3 .3 -.3-.5z"/>
</g>
<line x1="218.7" y1="224.8" x2="218.7" y2="172.4" stroke="#888" stroke-width="0.5"/>
<line x1="218.7" y1="172.4" x2="295.1" y2="154.2" stroke="#888" stroke-width="0.5"/>
<line x1="295.1" y1="154.2" x2="352.7" y2="177.8" stroke="#888" stroke-width="0.5"/>
<line x1="352.7" y1="230.2" x2="352.7" y2="177.8" stroke="#888" stroke-width="0.5"/>
<line x1="218.7" y1="224.8" x2="276.3" y2="248.4" stroke="#888" stroke-width="0.5"/>
<line x1="276.3" y1="248.4" x2="352.7" y2="230.2" stroke="#888" stroke-width="0.5"/>
<text x="220.7" y="152.5" font-family="Liberation Sans, Arial, sans-serif" font-weight="bold" font-size="5.37">Diffraction field (<tspan font-style="italic" font-weight="normal">α</tspan>=20.801°, Group B + Group R, 6<tspan dy="-2.3" font-size="3.4">th</tspan><tspan dy="2.3">)</tspan></text>
<rect x="358.8" y="154.1" width="3.9" height="94.8" fill="url(#jetv)"/>
<text x="360.9" y="151.6" font-family="Liberation Sans, Arial, sans-serif" font-weight="bold" font-size="3.6" text-anchor="middle">a.u.</text>
<text x="363.7" y="241.1" font-family="Liberation Sans, Arial, sans-serif" font-weight="bold" font-size="3.7">0.1</text>
<text x="363.7" y="231.6" font-family="Liberation Sans, Arial, sans-serif" font-weight="bold" font-size="3.7">0.2</text>
<text x="363.7" y="222.2" font-family="Liberation Sans, Arial, sans-serif" font-weight="bold" font-size="3.7">0.3</text>
<text x="363.7" y="212.7" font-family="Liberation Sans, Arial, sans-serif" font-weight="bold" font-size="3.7">0.4</text>
<text x="363.7" y="203.2" font-family="Liberation Sans, Arial, sans-serif" font-weight="bold" font-size="3.7">0.5</text>
<text x="363.7" y="193.7" font-family="Liberation Sans, Arial, sans-serif" font-weight="bold" font-size="3.7">0.6</text>
<text x="363.7" y="184.2" font-family="Liberation Sans, Arial, sans-serif" font-weight="bold" font-size="3.7">0.7</text>
<text x="363.7" y="174.8" font-family="Liberation Sans, Arial, sans-serif" font-weight="bold" font-size="3.7">0.8</text>
<text x="363.7" y="165.3" font-family="Liberation Sans, Arial, sans-serif" font-weight="bold" font-size="3.7">0.9</text>
<text x="363.7" y="155.8" font-family="Liberation Sans, Arial, sans-serif" font-weight="bold" font-size="3.7">1</text>
<text transform="translate(210.9 198.1) rotate(-90)" font-family="Liberation Sans, Arial, sans-serif" font-weight="bold" font-size="5.42" text-anchor="middle">Intensity (a.u.)</text>
<text x="216.4" y="225.6" font-family="Liberation Sans, Arial, sans-serif" font-size="2.4" font-weight="bold" fill="#333" text-anchor="end">0</text>
<text x="216.4" y="220.4" font-family="Liberation Sans, Arial, sans-serif" font-size="2.4" font-weight="bold" fill="#333" text-anchor="end">0.1</text>
<text x="216.4" y="215.1" font-family="Liberation Sans, Arial, sans-serif" font-size="2.4" font-weight="bold" fill="#333" text-anchor="end">0.2</text>
<text x="216.4" y="209.9" font-family="Liberation Sans, Arial, sans-serif" font-size="2.4" font-weight="bold" fill="#333" text-anchor="end">0.3</text>
<text x="216.4" y="204.6" font-family="Liberation Sans, Arial, sans-serif" font-size="2.4" font-weight="bold" fill="#333" text-anchor="end">0.4</text>
<text x="216.4" y="199.4" font-family="Liberation Sans, Arial, sans-serif" font-size="2.4" font-weight="bold" fill="#333" text-anchor="end">0.5</text>
<text x="216.4" y="194.2" font-family="Liberation Sans, Arial, sans-serif" font-size="2.4" font-weight="bold" fill="#333" text-anchor="end">0.6</text>
<text x="216.4" y="188.9" font-family="Liberation Sans, Arial, sans-serif" font-size="2.4" font-weight="bold" fill="#333" text-anchor="end">0.7</text>
<text x="216.4" y="183.7" font-family="Liberation Sans, Arial, sans-serif" font-size="2.4" font-weight="bold" fill="#333" text-anchor="end">0.8</text>
<text x="216.4" y="178.4" font-family="Liberation Sans, Arial, sans-serif" font-size="2.4" font-weight="bold" fill="#333" text-anchor="end">0.9</text>
<text x="216.4" y="173.2" font-family="Liberation Sans, Arial, sans-serif" font-size="2.4" font-weight="bold" fill="#333" text-anchor="end">1</text>
<text x="225.6" y="231.6" font-family="Liberation Sans, Arial, sans-serif" font-size="2.4" font-weight="bold" fill="#333" text-anchor="middle">-2</text>
<text x="235.2" y="235.6" font-family="Liberation Sans, Arial, sans-serif" font-size="2.4" font-weight="bold" fill="#333" text-anchor="middle">-1</text>
<text x="244.8" y="239.5" font-family="Liberation Sans, Arial, sans-serif" font-size="2.4" font-weight="bold" fill="#333" text-anchor="middle">0</text>
<text x="254.4" y="243.4" font-family="Liberation Sans, Arial, sans-serif" font-size="2.4" font-weight="bold" fill="#333" text-anchor="middle">1</text>
<text x="264" y="247.4" font-family="Liberation Sans, Arial, sans-serif" font-size="2.4" font-weight="bold" fill="#333" text-anchor="middle">2</text>
<text x="273.6" y="251.3" font-family="Liberation Sans, Arial, sans-serif" font-size="2.4" font-weight="bold" fill="#333" text-anchor="middle">3</text>
<text x="286.4" y="250.6" font-family="Liberation Sans, Arial, sans-serif" font-size="2.4" font-weight="bold" fill="#333" text-anchor="middle">-2</text>
<text x="299.1" y="247.6" font-family="Liberation Sans, Arial, sans-serif" font-size="2.4" font-weight="bold" fill="#333" text-anchor="middle">-1</text>
<text x="311.9" y="244.5" font-family="Liberation Sans, Arial, sans-serif" font-size="2.4" font-weight="bold" fill="#333" text-anchor="middle">0</text>
<text x="324.6" y="241.5" font-family="Liberation Sans, Arial, sans-serif" font-size="2.4" font-weight="bold" fill="#333" text-anchor="middle">1</text>
<text x="337.3" y="238.5" font-family="Liberation Sans, Arial, sans-serif" font-size="2.4" font-weight="bold" fill="#333" text-anchor="middle">2</text>
<text x="350.1" y="235.4" font-family="Liberation Sans, Arial, sans-serif" font-size="2.4" font-weight="bold" fill="#333" text-anchor="middle">3</text>
<text x="236" y="253" font-family="Liberation Sans, Arial, sans-serif" font-weight="bold" font-size="5.4">y</text>
<text x="239.9" y="255.3" font-family="Liberation Sans, Arial, sans-serif" font-weight="bold" font-size="4.2">1</text>
<text x="242.9" y="253" font-family="Liberation Sans, Arial, sans-serif" font-weight="bold" font-size="5.3">(mm)</text>
<text x="302.8" y="253.9" font-family="Liberation Sans, Arial, sans-serif" font-weight="bold" font-size="5.4">x</text>
<text x="306.2" y="256.7" font-family="Liberation Sans, Arial, sans-serif" font-weight="bold" font-size="4.2">1</text>
<text x="309.7" y="254.1" font-family="Liberation Sans, Arial, sans-serif" font-weight="bold" font-size="5.2">(mm)</text>
<text x="288.8" y="268.6" font-family="Liberation Serif, serif" font-weight="bold" font-size="7.1" letter-spacing=".35" text-anchor="middle">(e)</text>
<line x1="442.5" y1="244.7" x2="518.9" y2="226.5" stroke="#ececec" stroke-width="0.3"/>
<line x1="464.8" y1="245.6" x2="407.2" y2="222" stroke="#ececec" stroke-width="0.3"/>
<line x1="407.2" y1="222" x2="407.2" y2="169.6" stroke="#ececec" stroke-width="0.3"/>
<line x1="518.9" y1="226.5" x2="518.9" y2="174.1" stroke="#ececec" stroke-width="0.3"/>
<line x1="432.9" y1="240.7" x2="509.3" y2="222.5" stroke="#ececec" stroke-width="0.3"/>
<line x1="477.6" y1="242.5" x2="420" y2="218.9" stroke="#ececec" stroke-width="0.3"/>
<line x1="420" y1="218.9" x2="420" y2="166.5" stroke="#ececec" stroke-width="0.3"/>
<line x1="509.3" y1="222.5" x2="509.3" y2="170.1" stroke="#ececec" stroke-width="0.3"/>
<line x1="423.3" y1="236.8" x2="499.7" y2="218.6" stroke="#ececec" stroke-width="0.3"/>
<line x1="490.3" y1="239.5" x2="432.7" y2="215.9" stroke="#ececec" stroke-width="0.3"/>
<line x1="432.7" y1="215.9" x2="432.7" y2="163.5" stroke="#ececec" stroke-width="0.3"/>
<line x1="499.7" y1="218.6" x2="499.7" y2="166.2" stroke="#ececec" stroke-width="0.3"/>
<line x1="413.7" y1="232.9" x2="490.1" y2="214.7" stroke="#ececec" stroke-width="0.3"/>
<line x1="503" y1="236.5" x2="445.4" y2="212.9" stroke="#ececec" stroke-width="0.3"/>
<line x1="445.4" y1="212.9" x2="445.4" y2="160.5" stroke="#ececec" stroke-width="0.3"/>
<line x1="490.1" y1="214.7" x2="490.1" y2="162.3" stroke="#ececec" stroke-width="0.3"/>
<line x1="404.1" y1="228.9" x2="480.5" y2="210.7" stroke="#ececec" stroke-width="0.3"/>
<line x1="515.8" y1="233.4" x2="458.2" y2="209.8" stroke="#ececec" stroke-width="0.3"/>
<line x1="458.2" y1="209.8" x2="458.2" y2="157.4" stroke="#ececec" stroke-width="0.3"/>
<line x1="480.5" y1="210.7" x2="480.5" y2="158.3" stroke="#ececec" stroke-width="0.3"/>
<line x1="394.5" y1="219.8" x2="470.9" y2="201.6" stroke="#ececec" stroke-width="0.3"/>
<line x1="470.9" y1="201.6" x2="528.5" y2="225.2" stroke="#ececec" stroke-width="0.3"/>
<line x1="394.5" y1="214.5" x2="470.9" y2="196.3" stroke="#ececec" stroke-width="0.3"/>
<line x1="470.9" y1="196.3" x2="528.5" y2="219.9" stroke="#ececec" stroke-width="0.3"/>
<line x1="394.5" y1="209.3" x2="470.9" y2="191.1" stroke="#ececec" stroke-width="0.3"/>
<line x1="470.9" y1="191.1" x2="528.5" y2="214.7" stroke="#ececec" stroke-width="0.3"/>
<line x1="394.5" y1="204" x2="470.9" y2="185.8" stroke="#ececec" stroke-width="0.3"/>
<line x1="470.9" y1="185.8" x2="528.5" y2="209.4" stroke="#ececec" stroke-width="0.3"/>
<line x1="394.5" y1="198.8" x2="470.9" y2="180.6" stroke="#ececec" stroke-width="0.3"/>
<line x1="470.9" y1="180.6" x2="528.5" y2="204.2" stroke="#ececec" stroke-width="0.3"/>
<line x1="394.5" y1="193.6" x2="470.9" y2="175.4" stroke="#ececec" stroke-width="0.3"/>
<line x1="470.9" y1="175.4" x2="528.5" y2="199" stroke="#ececec" stroke-width="0.3"/>
<line x1="394.5" y1="188.3" x2="470.9" y2="170.1" stroke="#ececec" stroke-width="0.3"/>
<line x1="470.9" y1="170.1" x2="528.5" y2="193.7" stroke="#ececec" stroke-width="0.3"/>
<line x1="394.5" y1="183.1" x2="470.9" y2="164.9" stroke="#ececec" stroke-width="0.3"/>
<line x1="470.9" y1="164.9" x2="528.5" y2="188.5" stroke="#ececec" stroke-width="0.3"/>
<line x1="394.5" y1="177.8" x2="470.9" y2="159.6" stroke="#ececec" stroke-width="0.3"/>
<line x1="470.9" y1="159.6" x2="528.5" y2="183.2" stroke="#ececec" stroke-width="0.3"/>
<line x1="470.9" y1="206.8" x2="470.9" y2="154.4" stroke="#888" stroke-width="0.5"/>
<line x1="394.5" y1="225" x2="470.9" y2="206.8" stroke="#888" stroke-width="0.5"/>
<line x1="470.9" y1="206.8" x2="528.5" y2="230.4" stroke="#888" stroke-width="0.5"/>
<g stroke-width=".5" fill-rule="evenodd" stroke-linejoin="round">
<path fill="#000098" stroke="#000098" d="M511.7 227.2l.2 .5 .5 .2 .8-.1z"/>
<path fill="#0000a0" stroke="#0000a0" d="M511.4 226.1l.2 .8 .8 .5 .9 .3 .8-.5zM490.6 219.1l20.6 8.6 1.1 .2z"/>
<path fill="#0000a8" stroke="#0000a8" d="M511.3 225.3l0 .6 2 .9 1 .3 .4-.4z"/>
<path fill="#0000b0" stroke="#0000b0" d="M511.2 224.7l0 .4 3.4 1.5 .5-.3zM491.2 218.9l20.4 8.4 -1.4-.7z"/>
<path fill="#0000b8" stroke="#0000b8" d="M511.1 223.8l.1 .8 3.7 1.6 .3 0 .4-.5z"/>
<path fill="#0000c0" stroke="#0000c0" d="M510.9 223.3l.3 .5 4.2 1.8 .5-.3zM491.8 218.8l19.6 8 -.1-.2 -17.5-7.3 -1.2-.5z"/>
<path fill="#0000c8" stroke="#0000c8" d="M510.9 222.8l0 .4 4.9 2 .4-.3zM492.3 218.7l19 7.7 -1.4-.7 -17.1-7z"/>
<path fill="#0000d0" stroke="#0000d0" d="M510.8 222.3l.4 .5 4.9 2 .3-.2zM492.6 218.6l18.7 7.6 -.1-.5 -16.6-6.9 -1.7-.6z"/>
<path fill="#0000d8" stroke="#0000d8" d="M510.8 221.8l0 .4 5.5 2.2 .4-.2zM492.9 217.9l.2 .3 18.1 7.4 -1.4-.8z"/>
<path fill="#0000e0" stroke="#0000e0" d="M510.8 221.3l0 .4 5.8 2.4 .2-.2zM493.1 217.7l0 .2 18.1 7.4 -.1-.2z"/>
<path fill="#0000e8" stroke="#0000e8" d="M510.6 220.3l.1 .9 6.2 2.5 .4-.6zM493.1 217.4l.5 .4 17.5 7.1 -1.4-.7z"/>
<path fill="#0000f0" stroke="#0000f0" d="M510.6 219.8l0 .4 6.6 2.7 .2-.1zM493.1 217.2l.5 .4 17.5 7.1 -1.4-.8z"/>
<path fill="#0000f8" stroke="#0000f8" d="M510.6 219.4l0 .3 6.1 2.6 .6 .3 .4-.3zM493.2 216.9l.4 .4 17.5 7.1 -.2-.2z"/>
<path fill="#0000ff" stroke="#0000ff" d="M510.4 218.9l.2 .4 7 2.9 .2-.1 -.5-.4zM493.2 216.3l0 .5 17.7 7.3 0-.5z"/>
<path fill="#0004ff" stroke="#0004ff" d="M510.4 218.6l0 .2 7.3 3 .2-.1zM493.2 216.1l.7 .5 17 6.8z"/>
<path fill="#0009ff" stroke="#0009ff" d="M510.3 218.1l.3 .5 7.2 3 .4-.3zM493.2 215.9l17.6 7.3 -1.4-.8z"/>
<path fill="#000eff" stroke="#000eff" d="M510.3 217.7l.1 .4 7.7 3.1 .2-.1 -1.4-.8zM493.3 215.6l0 .2 17.5 7.1 0-.2z"/>
<path fill="#0014ff" stroke="#0014ff" d="M510.2 216.7l.1 .9 7.9 3.2 .5-.6z"/>
<path fill="#001aff" stroke="#001aff" d="M510.1 216.3l.2 .4 8.3 3.4 .2-.2zM493.3 214.9l0 .3 17.4 7.1 0-.2z"/>
<path fill="#0021ff" stroke="#0021ff" d="M509.9 215.8l.5 .6 8.3 3.4 .2-.1zM493.3 214.7l.4 .4 17 6.8 0-.3 -17.3-7.2z"/>
<path fill="#0027ff" stroke="#0027ff" d="M509.9 215.4l0 .3 8.9 3.7 .3-.1 -1.4-.7zM493.4 214.2l.2 .2 17.1 7 -.1-.2z"/>
<path fill="#002eff" stroke="#002eff" d="M509.7 214.9l.1 .4 9.1 3.8 .3-.2 -1.4-.7zM493.4 213.9l17.2 7.2 -1.4-.8z"/>
<path fill="#0036ff" stroke="#0036ff" d="M509.4 214.4l.3 .4 9.4 3.9 .2-.1 -.5-.4zM493.4 213.6l0 .2 17.2 7 0-.2z"/>
<path fill="#003dff" stroke="#003dff" d="M499.4 215.9l11.2 4.5 -8.5-3.6zM461.9 194.4l.4 .4 45.4 18.5 2 1.1 9.5 3.9 .4-.4 -1.4-.7 -56-23z"/>
<path fill="#0045ff" stroke="#0045ff" d="M500.3 216.1l10.1 4.1 -9-3.9zM462.1 194.1l57.3 23.6 .3-.1 -1.4-.8 -56-23z"/>
<path fill="#004dff" stroke="#004dff" d="M500.9 216.1l9.5 3.8 0-.5 -6.8-2.8 -1.3-.5zM462.2 193.7l57.4 23.6 .2-.1 -2-1 -55.4-22.6z"/>
<path fill="#0055ff" stroke="#0055ff" d="M502.4 216.1l8 3.2 -.6-.5 -7-2.9zM462.3 193.4l57.4 23.5 .2-.1 -57.3-23.6z"/>
<path fill="#005dff" stroke="#005dff" d="M502.9 215.9l7.4 3 -6.9-3zM462.4 193.1l57.4 23.6 .3-.1 -1.4-.8 -56-23z"/>
<path fill="#0065ff" stroke="#0065ff" d="M503.6 215.9l6.7 2.8 -6.6-2.9zM462.6 192.7l57.3 23.6 .3-.1 -2-1 -55.4-22.6z"/>
<path fill="#006dff" stroke="#006dff" d="M503.8 215.8l6.5 2.6 -.6-.5 -4.3-1.7zM462.7 192.4l57.4 23.5 .2-.1 -57.4-23.6z"/>
<path fill="#0076ff" stroke="#0076ff" d="M504.3 215.7l5.9 2.4 -4.1-1.9zM462.8 191.7l0 .4 56.8 23.3 .6 .3 .2-.1 .2-.5 -56.9-23.4 -.6-.3z"/>
<path fill="#007fff" stroke="#007fff" d="M504.9 215.7l5.3 2.1 -.1-.5 -4.2-1.7zM462.9 191.3l57.5 23.6 .3-.1 -57.5-23.6z"/>
<path fill="#0087ff" stroke="#0087ff" d="M505.8 215.4l4.3 1.8 -1.4-.8zM463.1 191.1l57.5 23.6 .2-.1 -1.4-.8 -56.1-23z"/>
<path fill="#0090ff" stroke="#0090ff" d="M506.3 215.4l3.8 1.5 0-.2 -3.3-1.4zM463.2 190.7l57.5 23.6 .2-.1 -1.3-.8 -56.2-23z"/>
<path fill="#0099ff" stroke="#0099ff" d="M463.3 190.3l57.5 23.6 .3-.1 -2-1 -55.5-22.6z"/>
<path fill="#00a2ff" stroke="#00a2ff" d="M506.8 215.1l3.1 1.2 -1.3-.7 -1.7-.7zM463.4 190.1l57.5 23.5 .3-.2 -57.5-23.6z"/>
<path fill="#00acff" stroke="#00acff" d="M506.9 214.8l3 1.3 -.6-.5 -2.1-.9zM463.6 189.7l57.6 23.6 .1-.6 -56.7-23.4 -.7-.2z"/>
<path fill="#00b5ff" stroke="#00b5ff" d="M507.2 214.4l.4 .4 2.2 .9 0-.3 -2.5-1.1zM463.8 188.8l1.4 .8 56 23 .2-.2z"/>
<path fill="#00beff" stroke="#00beff" d="M507.4 214.2l2.3 1 -.6-.5 -1.5-.6zM463.8 188.7l57.5 23.6 .3-.1 -1.4-.8 -56.1-23z"/>
<path fill="#00c8ff" stroke="#00c8ff" d="M463.9 188.3l57.5 23.6 .3-.1 -1.4-.7 -56.1-23z"/>
<path fill="#00d1ff" stroke="#00d1ff" d="M464.2 216.8l1.2 3 7.5 3.1 1.7-.1 2.2-.5 .3-.2zM479.4 212.9l.8 2.3 .6 1 7.5 3.1 3.9-.6 .5-.4zM394.6 204.7l57.5 23.5 9-2 .7-.6 -57.5-23.7 -.7 .7zM448.9 191.6l44.7 18.1 .8 .6 1 2.4 7.5 3.1 2.2-.2 1.6-.5 -57.4-23.7zM464.1 187.9l57.5 23.7 .2-.2 -57.5-23.6z"/>
<path fill="#00dbff" stroke="#00dbff" d="M465.6 219.9l1 1.4 4.2 1.8 2-.2zM480.9 216.3l.8 1.1 4.7 2 1.8-.1zM463.9 216.2l.5 .6 12.5 5.1 .3-.1 -1.4-.7zM495.6 212.8l1 1.3 4.5 1.8 1.7-.1zM479.3 212.6l.4 .3 12.9 5.3 .2-.1zM404.2 201.8l57.5 23.6 .2-.1 -2-1 -55.5-22.6zM449.3 191.2l.1 .2 56.5 23.3 .7 .2 .3-.2 -57.3-23.6zM464.2 187.7l57.6 23.6 0-.2 -56.7-23.4 -.7-.3z"/>
<path fill="#00e5ff" stroke="#00e5ff" d="M466.7 221.4l.4 .4 2.8 1.3 .8 0zM481.8 217.6l.8 .6 2.7 1.2 1 0zM463.8 215.8l.8 .6 12.5 5.2 .2-.2 -.5-.3zM496.4 214.1l.9 .7 2.6 1.1 1 0zM479.1 211.7l.1 .6 13.5 5.6 .2-.1 0-.5zM404.3 201.3l0 .3 57.6 23.5 -1.3-.8zM449.4 190.9l57.7 23.7 .5-.7 -57.5-23.5zM450.8 190.3l57.4 23.6 .9 .2 -57.2-23.5zM464.3 187.1l0 .2 56.8 23.4 .6 .2 .2-.1 -1.3-.7z"/>
<path fill="#00efff" stroke="#00efff" d="M467.4 222.1l1.5 .6 .2 .2 .7 .2zM482.7 218.3l1.7 1 .7 0zM463.6 215.1l.2 .6 13.5 5.5 0-.5zM497.4 214.9l1.3 .5 .4 .4 .7 .1zM478.9 211.3l.4 .4 13.5 5.5 .3-.1zM404.3 201.2l57.6 23.6 0-.2 -56.7-23.4 -.6-.3zM450.2 190.3l57.9 23.6 -56.8-23.3zM464.3 186.9l57.6 23.7 .3-.4 -1.4-.8 -56.2-23z"/>
<path fill="#00f9ff" stroke="#00f9ff" d="M467.8 222.3l.6 .5 .5 0zM463.6 214.7l0 .2 13.6 5.7 .2-.2zM478.8 210.9l1 .7 13.3 5.3 0-.2zM404.4 200.4l0 .4 56.8 23.4 .6 .2 .3-.1 0-.4zM464.6 186.3l57.6 23.6 0-.2 -56.8-23.4 -.6-.2z"/>
<path fill="#00fffa" stroke="#00fffa" d="M463.3 214.3l.9 .6 13.2 5.4 0-.2zM478.7 210.6l.1 .2 14.3 5.8 -1.4-.8zM404.4 200.1l0 .2 57.7 23.5 -1.4-.7zM464.7 185.8l1.4 .8 56 23 .2-.2z"/>
<path fill="#00ffee" stroke="#00ffee" d="M404.4 199.9l57.7 23.7 0-.3 -56.2-23 -1.2-.5zM419.8 196.2l.1 .2 57.5 23.5 -1.3-.7zM435.4 192.7l57.7 23.6 0-.2 -56.2-23 -1.2-.5zM464.7 185.7l57.5 23.6 .2-.1 -1.3-.8 -56.2-23z"/>
<path fill="#01ffe1" stroke="#01ffe1" d="M404.6 199.4l0 .3 56.1 23 1.2 .5 .3-.1zM419.8 196.1l57.6 23.6 0-.3 -56.1-23 -1.2-.5zM435.6 191.9l0 .5 56.1 23 1.2 .5 .3-.1 0-.4zM464.8 185.3l57.5 23.6 .3-.1 -1.4-.7 -56.1-23z"/>
<path fill="#02ffd5" stroke="#02ffd5" d="M404.6 199.2l1.3 .7 56.3 23 0-.2zM419.9 195.3l0 .5 56.2 23 1.2 .5 .3-.1 0-.4zM435.6 191.6l0 .2 57.6 23.5 -1.4-.7zM464.9 184.9l57.7 23.7 -1.4-.8 -56-23z"/>
<path fill="#03ffc9" stroke="#03ffc9" d="M462.4 219.7l0 .2 4.4 1.8 -.4-.4zM404.6 198.8l0 .3 57.6 23.5 -1.4-.8zM419.9 194.9l0 .3 57.7 23.5 -1.4-.8zM435.6 191.4l57.6 23.7 0-.3 -56.1-23 -1.3-.5zM465.1 184.3l0 .4 56.7 23.4 .6 .2 .3-.1 .1-.5 -56.9-23.4 -.6-.2z"/>
<path fill="#05ffbe" stroke="#05ffbe" d="M404.6 198.2l0 .5 57.6 23.6 0-.5zM419.9 194.7l1.4 .7 56.3 23 -1.4-.7zM435.7 190.9l0 .3 56.1 23 1.3 .5 .2-.1zM465.2 183.9l57.5 23.7 .2-.2 -57.5-23.6z"/>
<path fill="#07ffb2" stroke="#07ffb2" d="M477.8 215.7l0 .2 3.8 1.5 -.3-.3zM493.6 212.7l2.7 1.2 -.4-.3zM404.6 198.1l57.6 23.6 -1.4-.8 -56-23zM419.9 194.3l0 .3 57.7 23.6 0-.3zM435.7 190.7l1.4 .7 56.2 23 -1.4-.7zM465.3 183.7l57.6 23.6 0-.2 -56.7-23.4 -.6-.3z"/>
<path fill="#0affa7" stroke="#0affa7" d="M404.7 197.6l0 .2 56.7 23.4 .7 .2 .2-.1 -1.4-.7zM419.9 194.2l57.7 23.6 -1.4-.7 -56-23zM435.7 190.1l0 .5 57.6 23.6 0-.5zM465.4 183.1l0 .2 56.8 23.4 .6 .2 .3-.1 -1.4-.7z"/>
<path fill="#0eff9c" stroke="#0eff9c" d="M462.6 218.9l.2 .4 2.9 1.1 -.6-.5zM404.7 197.3l1.4 .8 56.2 23 -1.4-.8zM420.1 193.4l0 .5 57.5 23.7 .1-.5zM435.7 189.9l57.6 23.7 0-.3 -56.7-23.4 -.7-.2zM465.4 182.9l57.5 23.7 .3-.2 -57.5-23.6z"/>
<path fill="#11ff92" stroke="#11ff92" d="M477.8 215.2l3 1.2 -.6-.5 -2.1-.8zM493.6 211.9l0 .3 1.8 .7 -.1-.2zM404.7 196.7l0 .5 57.6 23.6 0-.5zM420.1 193.2l1.3 .7 56.3 23 -1.4-.7zM435.8 189.4l1.4 .8 56 23 .2-.1zM465.6 182.7l57.6 23.6 0-.2 -56.8-23.4 -.6-.3z"/>
<path fill="#16ff87" stroke="#16ff87" d="M404.7 196.4l1.4 .8 56.2 23 -1.4-.8zM420.1 192.8l0 .3 57.6 23.6 0-.3zM435.8 189.1l0 .2 57.6 23.6 0-.2zM465.7 182.1l0 .2 56.7 23.4 .7 .2 .2-.1 -1.4-.7z"/>
<path fill="#1bff7d" stroke="#1bff7d" d="M462.6 218.2l.1 .4 2.5 1 -.3-.4zM404.7 196.2l1.4 .7 56.2 23 0-.2zM420.1 192.6l1.3 .7 56.3 23 -1.4-.7zM435.8 188.8l1.4 .8 56.2 23 -1.3-.8zM465.7 181.9l57.5 23.7 .2-.2 0-.3 -56.7-23.4 -.8-.3z"/>
<path fill="#20ff74" stroke="#20ff74" d="M462.6 217.9l.1 .3 2.2 .9 -.6-.5zM477.9 214.3l0 .3 2.5 1 -.3-.4zM404.7 196.1l57.6 23.5 -1.4-.8 -56-23zM420.1 192.2l0 .2 57.6 23.7 0-.5 -56.8-23.4 -.6-.3zM435.8 188.4l0 .3 57.6 23.6 0-.2zM465.9 181.2l1.4 .7 56 23 .3-.1 -2-1z"/>
<path fill="#26ff6a" stroke="#26ff6a" d="M477.9 213.9l0 .3 2.2 .9 -.2-.3zM404.8 195.3l0 .4 56.8 23.4 .6 .2 .2-.1 0-.4zM420.2 191.7l1.4 .7 56.1 23 -1.4-.7zM435.9 187.8l-.1 .5 56.9 23.4 .7 .2 .2-.5 .2-.1 1.1 .5 -.1-.4 -1-.5 -.4 .5zM465.9 181.1l57.5 23.5 .3-.2 -57.5-23.6z"/>
<path fill="#2dff61" stroke="#2dff61" d="M404.8 194.9l0 .3 57.6 23.5 -1.3-.8zM420.2 191.3l0 .3 56.7 23.3 .7 .3 .2-.1 -1.4-.8zM435.9 187.6l1.4 .7 56.3 23 -1.4-.7zM466.1 180.7l57.6 23.6 0-.2 -56.8-23.4 -.6-.3z"/>
<path fill="#34ff58" stroke="#34ff58" d="M462.6 217.2l.1 .2 1.9 .8 -.2-.3zM404.8 194.7l1.4 .7 56.2 23 0-.2zM420.2 191.1l1.4 .7 56.2 23 -1.4-.7zM435.9 187.4l57.7 23.7 .5-.4 .5 .2 -.7-.3 -.2 .2 -56.9-23.4 -.6-.2zM466.2 180.2l1.4 .7 56 23 .2-.1 -2-1z"/>
<path fill="#3bff50" stroke="#3bff50" d="M477.9 213.3l1.9 .9 -.6-.5zM404.8 194.3l0 .3 57.6 23.5 -1.3-.8zM420.2 190.8l1.4 .8 56.2 23 0-.3zM436.1 187.1l57.5 23.6 .3-.3 .5 .3 -.3-.4 -.5 .1 -56.7-23.3 -.6-.3zM466.2 180.1l57.5 23.5 .2-.2 -57.5-23.6z"/>
<path fill="#44ff48" stroke="#44ff48" d="M462.7 216.6l0 .3 1.6 .7 -.2-.4zM404.8 194.1l1.4 .7 56.2 23 -1.3-.7zM420.2 190.2l0 .5 57.6 23.5 0-.5zM436.3 186.7l56.6 23.4 1.4 .2 -2.2-1.1 -55.5-22.6zM466.4 179.2l-.1 .5 57.6 23.6 .2-.6z"/>
<path fill="#4dff40" stroke="#4dff40" d="M462.7 216.3l.1 .3 1.3 .5 0-.3zM404.8 193.9l57.6 23.7 0-.3 -56.7-23.4 -.6-.2zM420.2 190.1l57.6 23.5 -1.4-.8 -56-23zM466.4 179.1l57.5 23.5 .3-.2 -57.5-23.6z"/>
<path fill="#56ff38" stroke="#56ff38" d="M478.1 212.3l.1 .5 1.2 .5 -.1-.5zM404.9 193.1l0 .5 56.8 23.3 .6 .3 .3-.1 0-.4zM420.3 189.6l1.4 .7 56 23 .2-.1zM466.6 178.4l0 .3 57.6 23.6 0-.2z"/>
<path fill="#60ff31" stroke="#60ff31" d="M404.9 192.8l1.4 .8 56.3 23 -1.4-.8zM420.3 189.2l0 .2 57.6 23.7 0-.3zM466.6 178.3l57.5 23.6 .2-.1 -57.5-23.6z"/>
<path fill="#6bff2b" stroke="#6bff2b" d="M462.7 215.7l1.1 .5 -.6-.5zM404.9 192.6l1.4 .7 56.3 23 0-.2zM420.3 188.9l1.4 .8 56.2 23 -1.3-.8zM466.7 178.1l57.5 23.6 .2-.1 -1.3-.8 -56.2-23z"/>
<path fill="#76ff24" stroke="#76ff24" d="M462.8 215.3l.1 .3 .8 .2zM478.1 211.8l1 .4 -.7-.5zM404.9 192.4l57.7 23.5 -1.4-.7 -56-23zM420.3 188.6l0 .2 57.6 23.6 0-.2zM466.8 177.6l1.4 .7 56.2 23 0-.2z"/>
<path fill="#82ff1e" stroke="#82ff1e" d="M405.1 191.9l1.3 .8 56 23 .3-.1 -2-1zM420.4 187.9l-.1 .5 56.9 23.4 .6 .3 .4-.5 .7 .2 -.5-.4 -.5 .2zM466.8 177.4l56.3 23 1.2 .5 .3-.1 0-.4 -56.8-23.3 -.6-.3z"/>
<path fill="#8fff19" stroke="#8fff19" d="M405.1 191.4l0 .4 8.1 3.4 49.4 20.1 .2-.2 .8 .2 -.2-.5 -.5-.2 -.2 .2 -57.4-23.5zM420.4 187.7l1.4 .7 55.5 22.8 1.6 .4 -.6-.5 -.2 .2zM467.1 176.6l1.3 .7 56 23 .3-.1 -2-1z"/>
<path fill="#9cff14" stroke="#9cff14" d="M405.2 190.9l0 .3 57.6 23.5 -1.4-.8zM420.4 187.6l57.5 23.6 .4-.3 .5 .3 -.4-.5 -.2 .2 -56.9-23.3 -.6-.3zM467.1 176.4l57.5 23.5 .2-.1 -57.5-23.6z"/>
<path fill="#aaff0f" stroke="#aaff0f" d="M405.3 190.7l.1 .2 51.2 21 6.1 2.5 .6 0 -1.6-.8 -56.1-23zM420.6 187.2l57.5 23.6 .2-.1 -2-1 -55.5-22.6zM467.2 175.8l0 .3 57.6 23.6 0-.3z"/>
<path fill="#b8ff0b" stroke="#b8ff0b" d="M420.8 186.9l57.6 23.7 .2-.2 -57.5-23.6zM467.2 175.7l57.5 23.6 .2-.1 -57.5-23.6z"/>
<path fill="#c7ff07" stroke="#c7ff07" d="M467.3 175.4l57.6 23.7 0-.3 -56.7-23.4 -.6-.2z"/>
<path fill="#d7ff04" stroke="#d7ff04" d="M467.4 174.9l1.4 .8 56 23 .3-.1 -2-1z"/>
<path fill="#e7ff02" stroke="#e7ff02" d="M467.6 174.2l-.2 .6 56.3 23 1.2 .5 .3-.1 0-.4z"/>
<path fill="#f8ff00" stroke="#f8ff00" d="M467.6 174.1l57.5 23.6 .2-.1 -2-1 -55.5-22.7z"/>
<path fill="#fffa00" stroke="#fffa00" d="M467.7 173.6l0 .2 57.6 23.5 -1.4-.7z"/>
<path fill="#fff200" stroke="#fff200" d="M467.7 173.4l57.5 23.7 .2-.2 -1.3-.7 -56.2-23z"/>
<path fill="#ffea00" stroke="#ffea00" d="M467.8 173.1l57.6 23.6 -1.3-.8 -56-23z"/>
<path fill="#ffe200" stroke="#ffe200" d="M467.9 172.6l0 .2 56.8 23.4 .6 .2 .3-.1 -1.4-.7z"/>
<path fill="#ffda00" stroke="#ffda00" d="M468.1 171.9l-.2 .5 56.9 23.4 .6 .3 .3-.2 0-.3z"/>
<path fill="#ffd200" stroke="#ffd200" d="M468.1 171.8l57.5 23.6 .2-.1 -1.4-.7 -56.1-23z"/>
<path fill="#ffca00" stroke="#ffca00" d="M468.2 171.3l1.4 .8 56.2 23 -1.4-.8z"/>
<path fill="#ffc200" stroke="#ffc200" d="M468.2 171.2l57.5 23.6 .2-.1 -1.3-.8 -56.2-23z"/>
<path fill="#ffba00" stroke="#ffba00" d="M468.3 170.7l1.4 .7 56.2 23 0-.2z"/>
<path fill="#ffb200" stroke="#ffb200" d="M468.3 170.6l57.5 23.5 .3-.2 -57.5-23.6z"/>
<path fill="#ffaa00" stroke="#ffaa00" d="M468.6 169.7l-.2 .5 57.7 23.6 .1-.5z"/>
<path fill="#ffa200" stroke="#ffa200" d="M468.6 169.6l57.6 23.6 0-.3 -56.8-23.3 -.6-.3z"/>
<path fill="#ff9a00" stroke="#ff9a00" d="M468.7 169.1l1.4 .7 56 23 .2-.1 -2-1z"/>
<path fill="#ff9200" stroke="#ff9200" d="M468.7 168.9l57.5 23.5 .2-.1 -57.5-23.6z"/>
<path fill="#ff8a00" stroke="#ff8a00" d="M468.8 168.3l0 .3 57.6 23.6 0-.3z"/>
<path fill="#ff8200" stroke="#ff8200" d="M468.8 168.2l57.5 23.6 .3-.1 -2-1 -55.5-22.6z"/>
<path fill="#ff7900" stroke="#ff7900" d="M468.9 167.7l0 .2 57.7 23.5 -1.4-.7z"/>
<path fill="#ff7100" stroke="#ff7100" d="M469.1 167.1l-.2 .5 56.9 23.3 .6 .3 .3-.1 0-.4z"/>
<path fill="#ff6900" stroke="#ff6900" d="M469.1 166.9l57.5 23.7 .2-.2 -1.4-.7 -56.1-23z"/>
<path fill="#ff6100" stroke="#ff6100" d="M469.2 166.4l1.4 .8 56.2 23 0-.3z"/>
<path fill="#ff5900" stroke="#ff5900" d="M469.2 166.3l57.5 23.5 .2-.1 -57.5-23.6z"/>
<path fill="#ff5100" stroke="#ff5100" d="M469.3 165.8l1.4 .8 56.2 23 0-.3z"/>
<path fill="#ff4900" stroke="#ff4900" d="M469.3 165.7l57.5 23.5 .3-.1 -57.5-23.7z"/>
<path fill="#ff4100" stroke="#ff4100" d="M469.4 164.9l0 .4 57.7 23.6 .1-.5 -56.9-23.3 -.6-.3z"/>
<path fill="#ff3900" stroke="#ff3900" d="M469.6 164.4l0 .3 57.6 23.6 0-.2z"/>
<path fill="#ff3100" stroke="#ff3100" d="M469.6 164.3l57.5 23.6 .2-.1 -1.4-.7 -56.1-23z"/>
<path fill="#ff2900" stroke="#ff2900" d="M469.7 163.8l1.4 .8 56.2 23 -1.4-.8z"/>
<path fill="#ff2100" stroke="#ff2100" d="M469.7 163.7l57.5 23.6 .2-.1 -1.3-.8 -56.2-23z"/>
<path fill="#ff1900" stroke="#ff1900" d="M469.8 163.2l1.4 .7 56.2 23 -1.3-.7z"/>
<path fill="#ff1100" stroke="#ff1100" d="M469.9 162.6l-.1 .5 56.9 23.3 .6 .3 .3-.1 0-.5z"/>
<path fill="#ff0900" stroke="#ff0900" d="M469.9 162.4l57.5 23.5 .3-.1 -57.5-23.6z"/>
<path fill="#ff0100" stroke="#ff0100" d="M470.1 161.8l0 .3 57.6 23.6 0-.3z"/>
<path fill="#f80000" stroke="#f80000" d="M470.1 161.7l57.5 23.6 .2-.1 -57.5-23.6z"/>
<path fill="#f00000" stroke="#f00000" d="M470.2 161.2l0 .2 57.6 23.7 0-.3z"/>
<path fill="#e80000" stroke="#e80000" d="M470.2 161.1l57.5 23.6 .2-.1 -2-1 -55.5-22.7z"/>
<path fill="#e00000" stroke="#e00000" d="M470.3 160.4l0 .4 57.6 23.5 0-.5 -56.7-23.4 -.6-.2z"/>
<path fill="#d80000" stroke="#d80000" d="M470.4 160.1l57.4 23.6 .3-.1z"/>
<path fill="#d00000" stroke="#d00000" d="M470.9 160.1l57.2 23.3 0-.2 -52.9-21.8 -3.4-1.3z"/>
<path fill="#c80000" stroke="#c80000" d="M471.9 160.1l56 23 .3-.2 -2-1 -52.5-21.3z"/>
<path fill="#c00000" stroke="#c00000" d="M472.6 160.1l55.6 22.6 -1.4-.8 -52.7-21.6z"/>
<path fill="#b80000" stroke="#b80000" d="M473.6 160.1l54.5 22.3 .2-.1 -1.4-.7 -51.8-21.3z"/>
<path fill="#b00000" stroke="#b00000" d="M474.6 160.1l53.7 22 .1-.5 -40.7-16.8 -11.6-4.7z"/>
<path fill="#a80000" stroke="#a80000" d="M476.2 160.1l52.2 21.3 -1.3-.7 -50.4-20.6z"/>
<path fill="#a00000" stroke="#a00000" d="M476.8 160.1l51.5 21.1 .3-.1 -1.4-.8 -48.9-20z"/>
<path fill="#980000" stroke="#980000" d="M477.8 160.1l50.8 20.7 -1.4-.7 -48.3-19.8z"/>
</g>
<line x1="394.5" y1="225" x2="394.5" y2="172.6" stroke="#888" stroke-width="0.5"/>
<line x1="394.5" y1="172.6" x2="470.9" y2="154.4" stroke="#888" stroke-width="0.5"/>
<line x1="470.9" y1="154.4" x2="528.5" y2="178" stroke="#888" stroke-width="0.5"/>
<line x1="528.5" y1="230.4" x2="528.5" y2="178" stroke="#888" stroke-width="0.5"/>
<line x1="394.5" y1="225" x2="452.1" y2="248.6" stroke="#888" stroke-width="0.5"/>
<line x1="452.1" y1="248.6" x2="528.5" y2="230.4" stroke="#888" stroke-width="0.5"/>
<text x="396.5" y="152.7" font-family="Liberation Sans, Arial, sans-serif" font-weight="bold" font-size="5.37">Diffraction field (<tspan font-style="italic" font-weight="normal">α</tspan>=20.801°, Group B + Group R, 6<tspan dy="-2.3" font-size="3.4">th</tspan><tspan dy="2.3">)</tspan></text>
<rect x="534.2" y="154.3" width="3.9" height="94.8" fill="url(#jetv)"/>
<text x="536.7" y="151.8" font-family="Liberation Sans, Arial, sans-serif" font-weight="bold" font-size="3.6" text-anchor="middle">rad</text>
<text x="539.1" y="164.7" font-family="Liberation Sans, Arial, sans-serif" font-weight="bold" font-size="3.7">20</text>
<text x="539.1" y="176.8" font-family="Liberation Sans, Arial, sans-serif" font-weight="bold" font-size="3.7">15</text>
<text x="539.1" y="188.9" font-family="Liberation Sans, Arial, sans-serif" font-weight="bold" font-size="3.7">10</text>
<text x="539.1" y="201" font-family="Liberation Sans, Arial, sans-serif" font-weight="bold" font-size="3.7">5</text>
<text x="539.1" y="213.1" font-family="Liberation Sans, Arial, sans-serif" font-weight="bold" font-size="3.7">0</text>
<text x="539.1" y="225.2" font-family="Liberation Sans, Arial, sans-serif" font-weight="bold" font-size="3.7">-5</text>
<text x="539.1" y="237.3" font-family="Liberation Sans, Arial, sans-serif" font-weight="bold" font-size="3.7">-10</text>
<text x="539.1" y="249.3" font-family="Liberation Sans, Arial, sans-serif" font-weight="bold" font-size="3.7">-15</text>
<text transform="translate(385 198.3) rotate(-90)" font-family="Liberation Sans, Arial, sans-serif" font-weight="bold" font-size="5.42" text-anchor="middle">Phase (rad)</text>
<text x="392.2" y="224.2" font-family="Liberation Sans, Arial, sans-serif" font-size="2.4" font-weight="bold" fill="#333" text-anchor="end">-20</text>
<text x="392.2" y="218.6" font-family="Liberation Sans, Arial, sans-serif" font-size="2.4" font-weight="bold" fill="#333" text-anchor="end">-15</text>
<text x="392.2" y="212.9" font-family="Liberation Sans, Arial, sans-serif" font-size="2.4" font-weight="bold" fill="#333" text-anchor="end">-10</text>
<text x="392.2" y="207.3" font-family="Liberation Sans, Arial, sans-serif" font-size="2.4" font-weight="bold" fill="#333" text-anchor="end">-5</text>
<text x="392.2" y="201.6" font-family="Liberation Sans, Arial, sans-serif" font-size="2.4" font-weight="bold" fill="#333" text-anchor="end">0</text>
<text x="392.2" y="196" font-family="Liberation Sans, Arial, sans-serif" font-size="2.4" font-weight="bold" fill="#333" text-anchor="end">5</text>
<text x="392.2" y="190.3" font-family="Liberation Sans, Arial, sans-serif" font-size="2.4" font-weight="bold" fill="#333" text-anchor="end">10</text>
<text x="392.2" y="184.7" font-family="Liberation Sans, Arial, sans-serif" font-size="2.4" font-weight="bold" fill="#333" text-anchor="end">15</text>
<text x="392.2" y="179" font-family="Liberation Sans, Arial, sans-serif" font-size="2.4" font-weight="bold" fill="#333" text-anchor="end">20</text>
<text x="392.2" y="173.4" font-family="Liberation Sans, Arial, sans-serif" font-size="2.4" font-weight="bold" fill="#333" text-anchor="end">25</text>
<text x="401.4" y="231.8" font-family="Liberation Sans, Arial, sans-serif" font-size="2.4" font-weight="bold" fill="#333" text-anchor="middle">-2</text>
<text x="411" y="235.8" font-family="Liberation Sans, Arial, sans-serif" font-size="2.4" font-weight="bold" fill="#333" text-anchor="middle">-1</text>
<text x="420.6" y="239.7" font-family="Liberation Sans, Arial, sans-serif" font-size="2.4" font-weight="bold" fill="#333" text-anchor="middle">0</text>
<text x="430.2" y="243.6" font-family="Liberation Sans, Arial, sans-serif" font-size="2.4" font-weight="bold" fill="#333" text-anchor="middle">1</text>
<text x="439.8" y="247.6" font-family="Liberation Sans, Arial, sans-serif" font-size="2.4" font-weight="bold" fill="#333" text-anchor="middle">2</text>
<text x="449.4" y="251.5" font-family="Liberation Sans, Arial, sans-serif" font-size="2.4" font-weight="bold" fill="#333" text-anchor="middle">3</text>
<text x="462.2" y="250.8" font-family="Liberation Sans, Arial, sans-serif" font-size="2.4" font-weight="bold" fill="#333" text-anchor="middle">-2</text>
<text x="474.9" y="247.8" font-family="Liberation Sans, Arial, sans-serif" font-size="2.4" font-weight="bold" fill="#333" text-anchor="middle">-1</text>
<text x="487.7" y="244.7" font-family="Liberation Sans, Arial, sans-serif" font-size="2.4" font-weight="bold" fill="#333" text-anchor="middle">0</text>
<text x="500.4" y="241.7" font-family="Liberation Sans, Arial, sans-serif" font-size="2.4" font-weight="bold" fill="#333" text-anchor="middle">1</text>
<text x="513.1" y="238.7" font-family="Liberation Sans, Arial, sans-serif" font-size="2.4" font-weight="bold" fill="#333" text-anchor="middle">2</text>
<text x="525.9" y="235.6" font-family="Liberation Sans, Arial, sans-serif" font-size="2.4" font-weight="bold" fill="#333" text-anchor="middle">3</text>
<text x="411.8" y="253.2" font-family="Liberation Sans, Arial, sans-serif" font-weight="bold" font-size="5.4">y</text>
<text x="415.7" y="255.5" font-family="Liberation Sans, Arial, sans-serif" font-weight="bold" font-size="4.2">1</text>
<text x="418.7" y="253.2" font-family="Liberation Sans, Arial, sans-serif" font-weight="bold" font-size="5.3">(mm)</text>
<text x="478.6" y="254.1" font-family="Liberation Sans, Arial, sans-serif" font-weight="bold" font-size="5.4">x</text>
<text x="482" y="256.9" font-family="Liberation Sans, Arial, sans-serif" font-weight="bold" font-size="4.2">1</text>
<text x="485.5" y="254.3" font-family="Liberation Sans, Arial, sans-serif" font-weight="bold" font-size="5.2">(mm)</text>
<text x="464" y="268.6" font-family="Liberation Serif, serif" font-weight="bold" font-size="7.1" letter-spacing=".35" text-anchor="middle">(f)</text>
</svg>
</body></html>
